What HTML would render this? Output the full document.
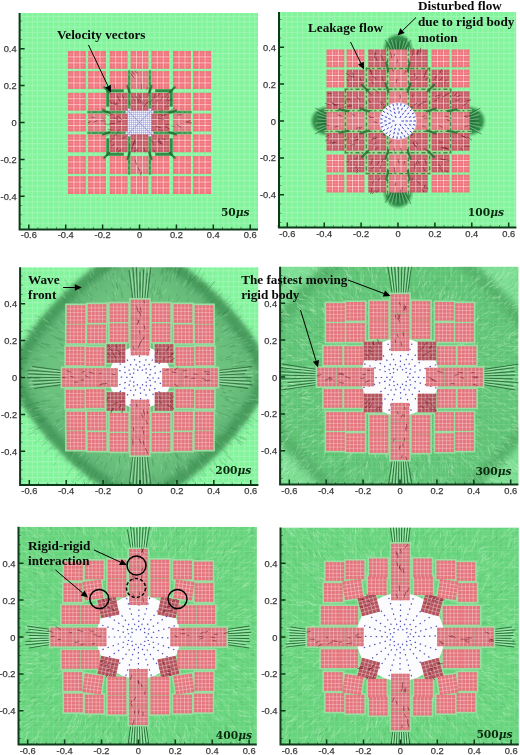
<!DOCTYPE html>
<html><head><meta charset="utf-8"><style>
html,body{margin:0;padding:0;background:#fff;}
svg{display:block;}
.tl{font-family:"Liberation Sans",sans-serif;font-size:9.3px;fill:#3a3a3a;stroke:#3a3a3a;stroke-width:0.25px;}
.tm{font-family:"DejaVu Serif",serif;font-weight:bold;font-size:10.7px;fill:#0a2a10;}
.an{font-family:"Liberation Serif",serif;font-weight:bold;font-size:13.2px;fill:#0a0a0a;}
</style></head><body>
<svg width="520" height="755" viewBox="0 0 520 755">
<defs>
<pattern id="grid" patternUnits="userSpaceOnUse" width="5.3" height="5.3"><path d="M0 0.5H5.3M0.5 0V5.3" stroke="#fff" stroke-opacity="0.22" stroke-width="1"/></pattern>
<pattern id="grid2" patternUnits="userSpaceOnUse" width="5.3" height="5.3"><path d="M0 0.5H5.3M0.5 0V5.3" stroke="#fff" stroke-opacity="0.1" stroke-width="1"/></pattern>
<radialGradient id="bul" cx="0.5" cy="0.5" r="0.5"><stop offset="0" stop-color="#1c6e32" stop-opacity="1"/><stop offset="0.75" stop-color="#2e8a46" stop-opacity="0.9"/><stop offset="1" stop-color="#50b066" stop-opacity="0"/></radialGradient>
<filter id="soft" x="0" y="0" width="100%" height="100%"><feGaussianBlur stdDeviation="0.45"/></filter>
<filter id="bl1" x="-20%" y="-20%" width="140%" height="140%"><feGaussianBlur stdDeviation="1.5"/></filter>
<filter id="bl3" x="-20%" y="-20%" width="140%" height="140%"><feGaussianBlur stdDeviation="3"/></filter>
<filter id="bl6" x="-20%" y="-20%" width="140%" height="140%"><feGaussianBlur stdDeviation="6"/></filter>
</defs>
<clipPath id="c1"><rect x="19.6" y="13" width="238.4" height="216.5"/></clipPath><g clip-path="url(#c1)"><g filter="url(#soft)"><rect x="19.6" y="13" width="238.4" height="216.5" fill="#82f49c"/><rect x="19.6" y="13" width="238.4" height="216.5" fill="url(#grid)"/><path d="M149.9 70.5L149.9 174.5M87.5 132.9L191.5 132.9M129.1 70.5L129.1 174.5M87.5 112.1L191.5 112.1" stroke="#3a9a50" stroke-width="2.6" stroke-opacity="0.75"/><path d="M149.9 70.5L149.9 174.5M87.5 132.9L191.5 132.9M129.1 70.5L129.1 174.5M87.5 112.1L191.5 112.1" stroke="#1e6a30" stroke-width="1" stroke-opacity="0.6" stroke-dasharray="3 2 5 2"/><path d="M171.2 138.2L171.2 154.2L155.2 154.2M171.2 106.8L171.2 90.8L155.2 90.8M107.8 138.2L107.8 154.2L123.8 154.2M107.8 106.8L107.8 90.8L123.8 90.8" fill="none" stroke="#237a38" stroke-width="3" stroke-opacity="0.85"/><rect x="125.5" y="108.5" width="28" height="28" fill="#f6f6ff"/><path d="M125.5 108.5v28M125.5 108.5h28M127.5 108.5v28M125.5 110.5h28M129.5 108.5v28M125.5 112.5h28M131.5 108.5v28M125.5 114.5h28M133.5 108.5v28M125.5 116.5h28M135.5 108.5v28M125.5 118.5h28M137.5 108.5v28M125.5 120.5h28M139.5 108.5v28M125.5 122.5h28M141.5 108.5v28M125.5 124.5h28M143.5 108.5v28M125.5 126.5h28M145.5 108.5v28M125.5 128.5h28M147.5 108.5v28M125.5 130.5h28M149.5 108.5v28M125.5 132.5h28M151.5 108.5v28M125.5 134.5h28M153.5 108.5v28M125.5 136.5h28" stroke="#7880d8" stroke-width="0.5" stroke-opacity="0.75"/><path d="M125.5 108.5l28 28M153.5 108.5l-28 28" stroke="#6068c8" stroke-width="0.7" stroke-opacity="0.55"/><g><rect x="68" y="176.2" width="17.8" height="17.8" fill="#f0727a"/><path d="M73.9 176.2v17.8M68 182.1h17.8M79.9 176.2v17.8M68 188.1h17.8" stroke="#fff" stroke-opacity="0.5" stroke-width="1.0"/><path d="M71 176.2v17.8M68 179.2h17.8M76.9 176.2v17.8M68 185.1h17.8M82.8 176.2v17.8M68 191h17.8" stroke="#fff" stroke-opacity="0.14" stroke-width="0.8"/></g><g><rect x="68" y="156.1" width="17.8" height="17.8" fill="#f0727a"/><path d="M73.9 156.1v17.8M68 162h17.8M79.9 156.1v17.8M68 168h17.8" stroke="#fff" stroke-opacity="0.5" stroke-width="1.0"/><path d="M71 156.1v17.8M68 159.1h17.8M76.9 156.1v17.8M68 165h17.8M82.8 156.1v17.8M68 170.9h17.8" stroke="#fff" stroke-opacity="0.14" stroke-width="0.8"/></g><g><rect x="68" y="134.4" width="17.8" height="17.8" fill="#f0727a"/><path d="M73.9 134.4v17.8M68 140.3h17.8M79.9 134.4v17.8M68 146.3h17.8" stroke="#fff" stroke-opacity="0.5" stroke-width="1.0"/><path d="M71 134.4v17.8M68 137.4h17.8M76.9 134.4v17.8M68 143.3h17.8M82.8 134.4v17.8M68 149.2h17.8" stroke="#fff" stroke-opacity="0.14" stroke-width="0.8"/></g><g><rect x="68" y="113.6" width="17.8" height="17.8" fill="#f0727a"/><path d="M73.9 113.6v17.8M68 119.5h17.8M79.9 113.6v17.8M68 125.5h17.8" stroke="#fff" stroke-opacity="0.5" stroke-width="1.0"/><path d="M71 113.6v17.8M68 116.6h17.8M76.9 113.6v17.8M68 122.5h17.8M82.8 113.6v17.8M68 128.4h17.8" stroke="#fff" stroke-opacity="0.14" stroke-width="0.8"/></g><g><rect x="68" y="92.8" width="17.8" height="17.8" fill="#f0727a"/><path d="M73.9 92.8v17.8M68 98.7h17.8M79.9 92.8v17.8M68 104.7h17.8" stroke="#fff" stroke-opacity="0.5" stroke-width="1.0"/><path d="M71 92.8v17.8M68 95.8h17.8M76.9 92.8v17.8M68 101.7h17.8M82.8 92.8v17.8M68 107.6h17.8" stroke="#fff" stroke-opacity="0.14" stroke-width="0.8"/></g><g><rect x="68" y="71.1" width="17.8" height="17.8" fill="#f0727a"/><path d="M73.9 71.1v17.8M68 77h17.8M79.9 71.1v17.8M68 83h17.8" stroke="#fff" stroke-opacity="0.5" stroke-width="1.0"/><path d="M71 71.1v17.8M68 74.1h17.8M76.9 71.1v17.8M68 80h17.8M82.8 71.1v17.8M68 85.9h17.8" stroke="#fff" stroke-opacity="0.14" stroke-width="0.8"/></g><g><rect x="68" y="51" width="17.8" height="17.8" fill="#f0727a"/><path d="M73.9 51v17.8M68 56.9h17.8M79.9 51v17.8M68 62.9h17.8" stroke="#fff" stroke-opacity="0.5" stroke-width="1.0"/><path d="M71 51v17.8M68 54h17.8M76.9 51v17.8M68 59.9h17.8M82.8 51v17.8M68 65.8h17.8" stroke="#fff" stroke-opacity="0.14" stroke-width="0.8"/></g><g><rect x="88.1" y="176.2" width="17.8" height="17.8" fill="#f0727a"/><path d="M94 176.2v17.8M88.1 182.1h17.8M100 176.2v17.8M88.1 188.1h17.8" stroke="#fff" stroke-opacity="0.5" stroke-width="1.0"/><path d="M91.1 176.2v17.8M88.1 179.2h17.8M97 176.2v17.8M88.1 185.1h17.8M102.9 176.2v17.8M88.1 191h17.8" stroke="#fff" stroke-opacity="0.14" stroke-width="0.8"/></g><g><rect x="88.1" y="156.1" width="17.8" height="17.8" fill="#f0727a"/><path d="M94 156.1v17.8M88.1 162h17.8M100 156.1v17.8M88.1 168h17.8" stroke="#fff" stroke-opacity="0.5" stroke-width="1.0"/><path d="M91.1 156.1v17.8M88.1 159.1h17.8M97 156.1v17.8M88.1 165h17.8M102.9 156.1v17.8M88.1 170.9h17.8" stroke="#fff" stroke-opacity="0.14" stroke-width="0.8"/></g><g><rect x="88.1" y="134.4" width="17.8" height="17.8" fill="#f0727a"/><path d="M94 134.4v17.8M88.1 140.3h17.8M100 134.4v17.8M88.1 146.3h17.8" stroke="#fff" stroke-opacity="0.5" stroke-width="1.0"/><path d="M91.1 134.4v17.8M88.1 137.4h17.8M97 134.4v17.8M88.1 143.3h17.8M102.9 134.4v17.8M88.1 149.2h17.8" stroke="#fff" stroke-opacity="0.14" stroke-width="0.8"/></g><g><rect x="88.1" y="113.6" width="17.8" height="17.8" fill="#e0747c"/><path d="M94 113.6v17.8M88.1 119.5h17.8M100 113.6v17.8M88.1 125.5h17.8" stroke="#fff" stroke-opacity="0.5" stroke-width="1.0"/><path d="M91.1 113.6v17.8M88.1 116.6h17.8M97 113.6v17.8M88.1 122.5h17.8M102.9 113.6v17.8M88.1 128.4h17.8" stroke="#fff" stroke-opacity="0.14" stroke-width="0.8"/><path d="M94.6 117.7l-3.1 -0.8M97.5 120.6l-4.2 1.8M90.6 121.6l-3 1.3" stroke="#6a1420" stroke-opacity="0.6" stroke-width="0.9"/></g><g><rect x="88.1" y="92.8" width="17.8" height="17.8" fill="#f0727a"/><path d="M94 92.8v17.8M88.1 98.7h17.8M100 92.8v17.8M88.1 104.7h17.8" stroke="#fff" stroke-opacity="0.5" stroke-width="1.0"/><path d="M91.1 92.8v17.8M88.1 95.8h17.8M97 92.8v17.8M88.1 101.7h17.8M102.9 92.8v17.8M88.1 107.6h17.8" stroke="#fff" stroke-opacity="0.14" stroke-width="0.8"/></g><g><rect x="88.1" y="71.1" width="17.8" height="17.8" fill="#f0727a"/><path d="M94 71.1v17.8M88.1 77h17.8M100 71.1v17.8M88.1 83h17.8" stroke="#fff" stroke-opacity="0.5" stroke-width="1.0"/><path d="M91.1 71.1v17.8M88.1 74.1h17.8M97 71.1v17.8M88.1 80h17.8M102.9 71.1v17.8M88.1 85.9h17.8" stroke="#fff" stroke-opacity="0.14" stroke-width="0.8"/></g><g><rect x="88.1" y="51" width="17.8" height="17.8" fill="#f0727a"/><path d="M94 51v17.8M88.1 56.9h17.8M100 51v17.8M88.1 62.9h17.8" stroke="#fff" stroke-opacity="0.5" stroke-width="1.0"/><path d="M91.1 51v17.8M88.1 54h17.8M97 51v17.8M88.1 59.9h17.8M102.9 51v17.8M88.1 65.8h17.8" stroke="#fff" stroke-opacity="0.14" stroke-width="0.8"/></g><g><rect x="109.8" y="176.2" width="17.8" height="17.8" fill="#f0727a"/><path d="M115.7 176.2v17.8M109.8 182.1h17.8M121.7 176.2v17.8M109.8 188.1h17.8" stroke="#fff" stroke-opacity="0.5" stroke-width="1.0"/><path d="M112.8 176.2v17.8M109.8 179.2h17.8M118.7 176.2v17.8M109.8 185.1h17.8M124.6 176.2v17.8M109.8 191h17.8" stroke="#fff" stroke-opacity="0.14" stroke-width="0.8"/></g><g><rect x="109.8" y="156.1" width="17.8" height="17.8" fill="#f0727a"/><path d="M115.7 156.1v17.8M109.8 162h17.8M121.7 156.1v17.8M109.8 168h17.8" stroke="#fff" stroke-opacity="0.5" stroke-width="1.0"/><path d="M112.8 156.1v17.8M109.8 159.1h17.8M118.7 156.1v17.8M109.8 165h17.8M124.6 156.1v17.8M109.8 170.9h17.8" stroke="#fff" stroke-opacity="0.14" stroke-width="0.8"/></g><g><rect x="109.8" y="134.4" width="17.8" height="17.8" fill="#c65a64"/><path d="M115.7 134.4v17.8M109.8 140.3h17.8M121.7 134.4v17.8M109.8 146.3h17.8" stroke="#fff" stroke-opacity="0.5" stroke-width="1.0"/><path d="M112.8 134.4v17.8M109.8 137.4h17.8M118.7 134.4v17.8M109.8 143.3h17.8M124.6 134.4v17.8M109.8 149.2h17.8" stroke="#fff" stroke-opacity="0.14" stroke-width="0.8"/><path d="M117.7 147.8l-1.2 3.5M120.5 149.5l-2.7 3.2M125.3 137l-3.5 1.6M113.8 138l-4 3.7M114.3 144.4l-3.5 2.2" stroke="#6a1420" stroke-opacity="0.6" stroke-width="0.9"/></g><g><rect x="109.8" y="113.6" width="17.8" height="17.8" fill="#c65a64"/><path d="M115.7 113.6v17.8M109.8 119.5h17.8M121.7 113.6v17.8M109.8 125.5h17.8" stroke="#fff" stroke-opacity="0.5" stroke-width="1.0"/><path d="M112.8 113.6v17.8M109.8 116.6h17.8M118.7 113.6v17.8M109.8 122.5h17.8M124.6 113.6v17.8M109.8 128.4h17.8" stroke="#fff" stroke-opacity="0.14" stroke-width="0.8"/><path d="M119.4 116.5l-3.6 0.5M121.2 121.5l-4.7 0.6M118.1 119.7l-4.6 -2.1M115.2 123.5l-5.6 0.1M121.9 119.6l-2.7 -2" stroke="#6a1420" stroke-opacity="0.6" stroke-width="0.9"/></g><g><rect x="109.8" y="92.8" width="17.8" height="17.8" fill="#c65a64"/><path d="M115.7 92.8v17.8M109.8 98.7h17.8M121.7 92.8v17.8M109.8 104.7h17.8" stroke="#fff" stroke-opacity="0.5" stroke-width="1.0"/><path d="M112.8 92.8v17.8M109.8 95.8h17.8M118.7 92.8v17.8M109.8 101.7h17.8M124.6 92.8v17.8M109.8 107.6h17.8" stroke="#fff" stroke-opacity="0.14" stroke-width="0.8"/><path d="M117.6 105.2l-4.2 -1.4M112.3 104l-3.1 -3.6M123.9 99.1l-1.8 -4.4M119.8 101.1l-2.3 -5.4M118.3 104l-4.9 -1.4" stroke="#6a1420" stroke-opacity="0.6" stroke-width="0.9"/></g><g><rect x="109.8" y="71.1" width="17.8" height="17.8" fill="#f0727a"/><path d="M115.7 71.1v17.8M109.8 77h17.8M121.7 71.1v17.8M109.8 83h17.8" stroke="#fff" stroke-opacity="0.5" stroke-width="1.0"/><path d="M112.8 71.1v17.8M109.8 74.1h17.8M118.7 71.1v17.8M109.8 80h17.8M124.6 71.1v17.8M109.8 85.9h17.8" stroke="#fff" stroke-opacity="0.14" stroke-width="0.8"/></g><g><rect x="109.8" y="51" width="17.8" height="17.8" fill="#f0727a"/><path d="M115.7 51v17.8M109.8 56.9h17.8M121.7 51v17.8M109.8 62.9h17.8" stroke="#fff" stroke-opacity="0.5" stroke-width="1.0"/><path d="M112.8 51v17.8M109.8 54h17.8M118.7 51v17.8M109.8 59.9h17.8M124.6 51v17.8M109.8 65.8h17.8" stroke="#fff" stroke-opacity="0.14" stroke-width="0.8"/></g><g><rect x="130.6" y="176.2" width="17.8" height="17.8" fill="#f0727a"/><path d="M136.5 176.2v17.8M130.6 182.1h17.8M142.5 176.2v17.8M130.6 188.1h17.8" stroke="#fff" stroke-opacity="0.5" stroke-width="1.0"/><path d="M133.6 176.2v17.8M130.6 179.2h17.8M139.5 176.2v17.8M130.6 185.1h17.8M145.4 176.2v17.8M130.6 191h17.8" stroke="#fff" stroke-opacity="0.14" stroke-width="0.8"/></g><g><rect x="130.6" y="156.1" width="17.8" height="17.8" fill="#e0747c"/><path d="M136.5 156.1v17.8M130.6 162h17.8M142.5 156.1v17.8M130.6 168h17.8" stroke="#fff" stroke-opacity="0.5" stroke-width="1.0"/><path d="M133.6 156.1v17.8M130.6 159.1h17.8M139.5 156.1v17.8M130.6 165h17.8M145.4 156.1v17.8M130.6 170.9h17.8" stroke="#fff" stroke-opacity="0.14" stroke-width="0.8"/><path d="M141.5 171.8l-1.1 3.7M137.9 167.3l1.9 4M134.9 159.7l1.7 5" stroke="#6a1420" stroke-opacity="0.6" stroke-width="0.9"/></g><g><rect x="130.6" y="134.4" width="17.8" height="17.8" fill="#c65a64"/><path d="M136.5 134.4v17.8M130.6 140.3h17.8M142.5 134.4v17.8M130.6 146.3h17.8" stroke="#fff" stroke-opacity="0.5" stroke-width="1.0"/><path d="M133.6 134.4v17.8M130.6 137.4h17.8M139.5 134.4v17.8M130.6 143.3h17.8M145.4 134.4v17.8M130.6 149.2h17.8" stroke="#fff" stroke-opacity="0.14" stroke-width="0.8"/><path d="M134.4 139.8l-1 5.5M133.7 142.6l-1.8 5.3M143.9 148.3l1.6 3.9M137.6 148.6l-1.8 3M135 139.6l0 4.5" stroke="#6a1420" stroke-opacity="0.6" stroke-width="0.9"/></g><g><rect x="130.6" y="92.8" width="17.8" height="17.8" fill="#c65a64"/><path d="M136.5 92.8v17.8M130.6 98.7h17.8M142.5 92.8v17.8M130.6 104.7h17.8" stroke="#fff" stroke-opacity="0.5" stroke-width="1.0"/><path d="M133.6 92.8v17.8M130.6 95.8h17.8M139.5 92.8v17.8M130.6 101.7h17.8M145.4 92.8v17.8M130.6 107.6h17.8" stroke="#fff" stroke-opacity="0.14" stroke-width="0.8"/><path d="M140.7 98.4l-1.8 -3.8M137.7 102.6l1.8 -4.7M139.7 103.3l0.6 -3.1M145 105.6l3.4 -4.2M138 100.3l-2.2 -4.4" stroke="#6a1420" stroke-opacity="0.6" stroke-width="0.9"/></g><g><rect x="130.6" y="71.1" width="17.8" height="17.8" fill="#e0747c"/><path d="M136.5 71.1v17.8M130.6 77h17.8M142.5 71.1v17.8M130.6 83h17.8" stroke="#fff" stroke-opacity="0.5" stroke-width="1.0"/><path d="M133.6 71.1v17.8M130.6 74.1h17.8M139.5 71.1v17.8M130.6 80h17.8M145.4 71.1v17.8M130.6 85.9h17.8" stroke="#fff" stroke-opacity="0.14" stroke-width="0.8"/><path d="M133.5 74l-1.4 -3.2M137.3 73.8l-1.8 -3M134 78.1l-3.2 -4.6" stroke="#6a1420" stroke-opacity="0.6" stroke-width="0.9"/></g><g><rect x="130.6" y="51" width="17.8" height="17.8" fill="#f0727a"/><path d="M136.5 51v17.8M130.6 56.9h17.8M142.5 51v17.8M130.6 62.9h17.8" stroke="#fff" stroke-opacity="0.5" stroke-width="1.0"/><path d="M133.6 51v17.8M130.6 54h17.8M139.5 51v17.8M130.6 59.9h17.8M145.4 51v17.8M130.6 65.8h17.8" stroke="#fff" stroke-opacity="0.14" stroke-width="0.8"/></g><g><rect x="151.4" y="176.2" width="17.8" height="17.8" fill="#f0727a"/><path d="M157.3 176.2v17.8M151.4 182.1h17.8M163.3 176.2v17.8M151.4 188.1h17.8" stroke="#fff" stroke-opacity="0.5" stroke-width="1.0"/><path d="M154.4 176.2v17.8M151.4 179.2h17.8M160.3 176.2v17.8M151.4 185.1h17.8M166.2 176.2v17.8M151.4 191h17.8" stroke="#fff" stroke-opacity="0.14" stroke-width="0.8"/></g><g><rect x="151.4" y="156.1" width="17.8" height="17.8" fill="#f0727a"/><path d="M157.3 156.1v17.8M151.4 162h17.8M163.3 156.1v17.8M151.4 168h17.8" stroke="#fff" stroke-opacity="0.5" stroke-width="1.0"/><path d="M154.4 156.1v17.8M151.4 159.1h17.8M160.3 156.1v17.8M151.4 165h17.8M166.2 156.1v17.8M151.4 170.9h17.8" stroke="#fff" stroke-opacity="0.14" stroke-width="0.8"/></g><g><rect x="151.4" y="134.4" width="17.8" height="17.8" fill="#c65a64"/><path d="M157.3 134.4v17.8M151.4 140.3h17.8M163.3 134.4v17.8M151.4 146.3h17.8" stroke="#fff" stroke-opacity="0.5" stroke-width="1.0"/><path d="M154.4 134.4v17.8M151.4 137.4h17.8M160.3 134.4v17.8M151.4 143.3h17.8M166.2 134.4v17.8M151.4 149.2h17.8" stroke="#fff" stroke-opacity="0.14" stroke-width="0.8"/><path d="M161.9 138.4l3.8 1.5M158.4 138.1l3 5.2M159.8 143.1l3.1 1.2M158.1 140.1l1.6 3.1M153.7 149.5l1.5 3.1" stroke="#6a1420" stroke-opacity="0.6" stroke-width="0.9"/></g><g><rect x="151.4" y="113.6" width="17.8" height="17.8" fill="#c65a64"/><path d="M157.3 113.6v17.8M151.4 119.5h17.8M163.3 113.6v17.8M151.4 125.5h17.8" stroke="#fff" stroke-opacity="0.5" stroke-width="1.0"/><path d="M154.4 113.6v17.8M151.4 116.6h17.8M160.3 113.6v17.8M151.4 122.5h17.8M166.2 113.6v17.8M151.4 128.4h17.8" stroke="#fff" stroke-opacity="0.14" stroke-width="0.8"/><path d="M160.9 116l5.7 -1.6M165.3 125.2l4.1 -0.5M155.7 126.3l5.2 1.4M157.9 118.7l5.9 0.6M165.2 126.7l4.6 2.4" stroke="#6a1420" stroke-opacity="0.6" stroke-width="0.9"/></g><g><rect x="151.4" y="92.8" width="17.8" height="17.8" fill="#c65a64"/><path d="M157.3 92.8v17.8M151.4 98.7h17.8M163.3 92.8v17.8M151.4 104.7h17.8" stroke="#fff" stroke-opacity="0.5" stroke-width="1.0"/><path d="M154.4 92.8v17.8M151.4 95.8h17.8M160.3 92.8v17.8M151.4 101.7h17.8M166.2 92.8v17.8M151.4 107.6h17.8" stroke="#fff" stroke-opacity="0.14" stroke-width="0.8"/><path d="M156.5 101.9l1.6 -2.6M153.8 98.7l1.5 -4.9M166.6 101l5.8 -1.4M166.6 99.8l2.1 -3M156.1 97.6l3.7 -4.3" stroke="#6a1420" stroke-opacity="0.6" stroke-width="0.9"/></g><g><rect x="151.4" y="71.1" width="17.8" height="17.8" fill="#f0727a"/><path d="M157.3 71.1v17.8M151.4 77h17.8M163.3 71.1v17.8M151.4 83h17.8" stroke="#fff" stroke-opacity="0.5" stroke-width="1.0"/><path d="M154.4 71.1v17.8M151.4 74.1h17.8M160.3 71.1v17.8M151.4 80h17.8M166.2 71.1v17.8M151.4 85.9h17.8" stroke="#fff" stroke-opacity="0.14" stroke-width="0.8"/></g><g><rect x="151.4" y="51" width="17.8" height="17.8" fill="#f0727a"/><path d="M157.3 51v17.8M151.4 56.9h17.8M163.3 51v17.8M151.4 62.9h17.8" stroke="#fff" stroke-opacity="0.5" stroke-width="1.0"/><path d="M154.4 51v17.8M151.4 54h17.8M160.3 51v17.8M151.4 59.9h17.8M166.2 51v17.8M151.4 65.8h17.8" stroke="#fff" stroke-opacity="0.14" stroke-width="0.8"/></g><g><rect x="173.1" y="176.2" width="17.8" height="17.8" fill="#f0727a"/><path d="M179 176.2v17.8M173.1 182.1h17.8M185 176.2v17.8M173.1 188.1h17.8" stroke="#fff" stroke-opacity="0.5" stroke-width="1.0"/><path d="M176.1 176.2v17.8M173.1 179.2h17.8M182 176.2v17.8M173.1 185.1h17.8M187.9 176.2v17.8M173.1 191h17.8" stroke="#fff" stroke-opacity="0.14" stroke-width="0.8"/></g><g><rect x="173.1" y="156.1" width="17.8" height="17.8" fill="#f0727a"/><path d="M179 156.1v17.8M173.1 162h17.8M185 156.1v17.8M173.1 168h17.8" stroke="#fff" stroke-opacity="0.5" stroke-width="1.0"/><path d="M176.1 156.1v17.8M173.1 159.1h17.8M182 156.1v17.8M173.1 165h17.8M187.9 156.1v17.8M173.1 170.9h17.8" stroke="#fff" stroke-opacity="0.14" stroke-width="0.8"/></g><g><rect x="173.1" y="134.4" width="17.8" height="17.8" fill="#f0727a"/><path d="M179 134.4v17.8M173.1 140.3h17.8M185 134.4v17.8M173.1 146.3h17.8" stroke="#fff" stroke-opacity="0.5" stroke-width="1.0"/><path d="M176.1 134.4v17.8M173.1 137.4h17.8M182 134.4v17.8M173.1 143.3h17.8M187.9 134.4v17.8M173.1 149.2h17.8" stroke="#fff" stroke-opacity="0.14" stroke-width="0.8"/></g><g><rect x="173.1" y="113.6" width="17.8" height="17.8" fill="#e0747c"/><path d="M179 113.6v17.8M173.1 119.5h17.8M185 113.6v17.8M173.1 125.5h17.8" stroke="#fff" stroke-opacity="0.5" stroke-width="1.0"/><path d="M176.1 113.6v17.8M173.1 116.6h17.8M182 113.6v17.8M173.1 122.5h17.8M187.9 113.6v17.8M173.1 128.4h17.8" stroke="#fff" stroke-opacity="0.14" stroke-width="0.8"/><path d="M186.7 122.2l5.3 0.8M176.3 124.7l4.8 2.4M185.5 122.2l5.1 -1.7" stroke="#6a1420" stroke-opacity="0.6" stroke-width="0.9"/></g><g><rect x="173.1" y="92.8" width="17.8" height="17.8" fill="#f0727a"/><path d="M179 92.8v17.8M173.1 98.7h17.8M185 92.8v17.8M173.1 104.7h17.8" stroke="#fff" stroke-opacity="0.5" stroke-width="1.0"/><path d="M176.1 92.8v17.8M173.1 95.8h17.8M182 92.8v17.8M173.1 101.7h17.8M187.9 92.8v17.8M173.1 107.6h17.8" stroke="#fff" stroke-opacity="0.14" stroke-width="0.8"/></g><g><rect x="173.1" y="71.1" width="17.8" height="17.8" fill="#f0727a"/><path d="M179 71.1v17.8M173.1 77h17.8M185 71.1v17.8M173.1 83h17.8" stroke="#fff" stroke-opacity="0.5" stroke-width="1.0"/><path d="M176.1 71.1v17.8M173.1 74.1h17.8M182 71.1v17.8M173.1 80h17.8M187.9 71.1v17.8M173.1 85.9h17.8" stroke="#fff" stroke-opacity="0.14" stroke-width="0.8"/></g><g><rect x="173.1" y="51" width="17.8" height="17.8" fill="#f0727a"/><path d="M179 51v17.8M173.1 56.9h17.8M185 51v17.8M173.1 62.9h17.8" stroke="#fff" stroke-opacity="0.5" stroke-width="1.0"/><path d="M176.1 51v17.8M173.1 54h17.8M182 51v17.8M173.1 59.9h17.8M187.9 51v17.8M173.1 65.8h17.8" stroke="#fff" stroke-opacity="0.14" stroke-width="0.8"/></g><g><rect x="193.2" y="176.2" width="17.8" height="17.8" fill="#f0727a"/><path d="M199.1 176.2v17.8M193.2 182.1h17.8M205.1 176.2v17.8M193.2 188.1h17.8" stroke="#fff" stroke-opacity="0.5" stroke-width="1.0"/><path d="M196.2 176.2v17.8M193.2 179.2h17.8M202.1 176.2v17.8M193.2 185.1h17.8M208 176.2v17.8M193.2 191h17.8" stroke="#fff" stroke-opacity="0.14" stroke-width="0.8"/></g><g><rect x="193.2" y="156.1" width="17.8" height="17.8" fill="#f0727a"/><path d="M199.1 156.1v17.8M193.2 162h17.8M205.1 156.1v17.8M193.2 168h17.8" stroke="#fff" stroke-opacity="0.5" stroke-width="1.0"/><path d="M196.2 156.1v17.8M193.2 159.1h17.8M202.1 156.1v17.8M193.2 165h17.8M208 156.1v17.8M193.2 170.9h17.8" stroke="#fff" stroke-opacity="0.14" stroke-width="0.8"/></g><g><rect x="193.2" y="134.4" width="17.8" height="17.8" fill="#f0727a"/><path d="M199.1 134.4v17.8M193.2 140.3h17.8M205.1 134.4v17.8M193.2 146.3h17.8" stroke="#fff" stroke-opacity="0.5" stroke-width="1.0"/><path d="M196.2 134.4v17.8M193.2 137.4h17.8M202.1 134.4v17.8M193.2 143.3h17.8M208 134.4v17.8M193.2 149.2h17.8" stroke="#fff" stroke-opacity="0.14" stroke-width="0.8"/></g><g><rect x="193.2" y="113.6" width="17.8" height="17.8" fill="#f0727a"/><path d="M199.1 113.6v17.8M193.2 119.5h17.8M205.1 113.6v17.8M193.2 125.5h17.8" stroke="#fff" stroke-opacity="0.5" stroke-width="1.0"/><path d="M196.2 113.6v17.8M193.2 116.6h17.8M202.1 113.6v17.8M193.2 122.5h17.8M208 113.6v17.8M193.2 128.4h17.8" stroke="#fff" stroke-opacity="0.14" stroke-width="0.8"/></g><g><rect x="193.2" y="92.8" width="17.8" height="17.8" fill="#f0727a"/><path d="M199.1 92.8v17.8M193.2 98.7h17.8M205.1 92.8v17.8M193.2 104.7h17.8" stroke="#fff" stroke-opacity="0.5" stroke-width="1.0"/><path d="M196.2 92.8v17.8M193.2 95.8h17.8M202.1 92.8v17.8M193.2 101.7h17.8M208 92.8v17.8M193.2 107.6h17.8" stroke="#fff" stroke-opacity="0.14" stroke-width="0.8"/></g><g><rect x="193.2" y="71.1" width="17.8" height="17.8" fill="#f0727a"/><path d="M199.1 71.1v17.8M193.2 77h17.8M205.1 71.1v17.8M193.2 83h17.8" stroke="#fff" stroke-opacity="0.5" stroke-width="1.0"/><path d="M196.2 71.1v17.8M193.2 74.1h17.8M202.1 71.1v17.8M193.2 80h17.8M208 71.1v17.8M193.2 85.9h17.8" stroke="#fff" stroke-opacity="0.14" stroke-width="0.8"/></g><g><rect x="193.2" y="51" width="17.8" height="17.8" fill="#f0727a"/><path d="M199.1 51v17.8M193.2 56.9h17.8M205.1 51v17.8M193.2 62.9h17.8" stroke="#fff" stroke-opacity="0.5" stroke-width="1.0"/><path d="M196.2 51v17.8M193.2 54h17.8M202.1 51v17.8M193.2 59.9h17.8M208 51v17.8M193.2 65.8h17.8" stroke="#fff" stroke-opacity="0.14" stroke-width="0.8"/></g><path d="M148.1 96.4l1.4 -5.8M167.2 112.9l4.3 -2.9M151.8 139.7l2.1 5.3M149.6 103.1l3.4 -4.9M112.8 114.1l-3.4 0.3M115.1 89l-1.3 -4.4M160.4 100.7l2.8 -4.7M132.8 146.8l-1.2 3.5M117.3 134.9l-3.3 0.6M112.4 129.8l-4.7 -0.3M165.4 107.8l4 -2.1M171.6 126.3l4.3 -0.6M144.4 107.1l1 -3.4M105.1 109.7l-3.7 -1.4M146.6 90.2l0.9 -3.2M135.3 147.3l-0.9 5.2M141.6 89.4l0.1 -5.7M105.2 121.3l-4.5 -0.9M109.5 116.1l-3.8 -2.4M165.3 97.2l3.3 -4.8M170.6 110.9l4.4 -3.3M119.9 130l-2.7 1.7M130.2 105.8l-1 -5.3M134.8 100.9l-2.4 -4.4M178.5 114.4l3.6 0.6M110.3 124.8l-5.9 -1.1M119.2 131.8l-3.9 2.4M129.7 143.8l-0.2 5.2M108.7 134.6l-2.7 1.5M105 119.8l-2.9 -1.4M176.9 115.8l3.1 -1.2M142.7 105l-0.4 -3.8M164.9 106.7l4 -3.7M158.7 111.8l4.4 -1.6M158 129.5l4.8 1.5M157.2 115.3l4.9 -0.7M151.6 107.1l2.6 -1.8M123.2 148.5l-3.7 2.9M157.2 141.1l3.8 2.6M150.3 139.9l2.2 2.2" stroke="#7a2030" stroke-opacity="0.45" stroke-width="0.9" fill="none"/><path d="M169.8 92.2l4.9 -4.9M169.8 152.8l4.9 4.9M109.2 92.2l-4.9 -4.9M109.2 152.8l-4.9 4.9M149.3 92.7l2.2 -6.7M149.3 152.3l2.2 6.7M129.7 92.7l-2.2 -6.7M129.7 152.3l-2.2 6.7M169.3 112.7l6.7 -2.2M169.3 132.3l6.7 2.2M109.7 112.7l-6.7 -2.2M109.7 132.3l-6.7 2.2" stroke="#1f6a30" stroke-width="2.2" stroke-opacity="0.8" stroke-linecap="round"/></g></g><path d="M19.6 13V229.5H257.9" fill="none" stroke="#0d3a18" stroke-width="2"/><path d="M28.8 229.5v-5M65.7 229.5v-5M102.6 229.5v-5M139.5 229.5v-5M176.4 229.5v-5M213.3 229.5v-5M250.2 229.5v-5M19.6 196.3h5M19.6 159.4h5M19.6 122.5h5M19.6 85.6h5M19.6 48.7h5" stroke="#0d3a18" stroke-width="1.5"/><path d="M19.6 229.5v-2.5M38 229.5v-2.5M47.2 229.5v-2.5M56.5 229.5v-2.5M74.9 229.5v-2.5M84.1 229.5v-2.5M93.4 229.5v-2.5M111.8 229.5v-2.5M121 229.5v-2.5M130.3 229.5v-2.5M148.7 229.5v-2.5M157.9 229.5v-2.5M167.2 229.5v-2.5M185.6 229.5v-2.5M194.9 229.5v-2.5M204.1 229.5v-2.5M222.5 229.5v-2.5M231.8 229.5v-2.5M241 229.5v-2.5M19.6 224h2.5M19.6 214.8h2.5M19.6 205.5h2.5M19.6 187.1h2.5M19.6 177.9h2.5M19.6 168.6h2.5M19.6 150.2h2.5M19.6 140.9h2.5M19.6 131.7h2.5M19.6 113.3h2.5M19.6 104h2.5M19.6 94.8h2.5M19.6 76.4h2.5M19.6 67.1h2.5M19.6 57.9h2.5M19.6 39.5h2.5M19.6 30.2h2.5M19.6 21h2.5" stroke="#0d3a18" stroke-opacity="0.5" stroke-width="1"/><text class="tl" x="28.8" y="238.4" text-anchor="middle">-0.6</text><text class="tl" x="65.7" y="238.4" text-anchor="middle">-0.4</text><text class="tl" x="102.6" y="238.4" text-anchor="middle">-0.2</text><text class="tl" x="139.5" y="238.4" text-anchor="middle">0</text><text class="tl" x="176.4" y="238.4" text-anchor="middle">0.2</text><text class="tl" x="213.3" y="238.4" text-anchor="middle">0.4</text><text class="tl" x="250.2" y="238.4" text-anchor="middle">0.6</text><text class="tl" x="16.6" y="199.8" text-anchor="end">-0.4</text><text class="tl" x="16.6" y="162.9" text-anchor="end">-0.2</text><text class="tl" x="16.6" y="126" text-anchor="end">0</text><text class="tl" x="16.6" y="89.1" text-anchor="end">0.2</text><text class="tl" x="16.6" y="52.2" text-anchor="end">0.4</text><text class="tm" x="249.6" y="216" text-anchor="end">50<tspan font-style="italic">μs</tspan></text><clipPath id="c2"><rect x="279" y="12" width="237.4" height="215.6"/></clipPath><g clip-path="url(#c2)"><g filter="url(#soft)"><rect x="279" y="12" width="237.4" height="215.6" fill="#82f49c"/><rect x="279" y="12" width="237.4" height="215.6" fill="url(#grid)"/><ellipse cx="398" cy="49.4" rx="16" ry="17" fill="url(#bul)"/><ellipse cx="398" cy="192.6" rx="16" ry="17" fill="url(#bul)"/><ellipse cx="326.4" cy="121" rx="17" ry="16" fill="url(#bul)"/><ellipse cx="469.6" cy="121" rx="17" ry="16" fill="url(#bul)"/><path d="M392.1 51.4L385 39.8M394.1 51.4L389.3 38.2M396.1 51.4L393.7 39.1M398 51.4L398 39.7M399.9 51.4L402.3 40M401.9 51.4L406.7 38.3M403.9 51.4L411 40.2" stroke="#1e6a32" stroke-opacity="0.6" stroke-width="1" fill="none"/><path d="M393.1 51.4L387.2 39.8M395.1 51.4L391.5 39.9M397 51.4L395.8 40.3M399 51.4L400.2 40.8M400.9 51.4L404.5 40.8M402.9 51.4L408.8 39" stroke="#d8ffe0" stroke-opacity="0.42" stroke-width="0.9" fill="none"/><path d="M392.1 190.6L385 202.8M394.1 190.6L389.3 201.5M396.1 190.6L393.7 202.6M398 190.6L398 204M399.9 190.6L402.3 202.9M401.9 190.6L406.7 204.5M403.9 190.6L411 204" stroke="#1e6a32" stroke-opacity="0.6" stroke-width="1" fill="none"/><path d="M393.1 190.6L387.2 204.4M395.1 190.6L391.5 204M397 190.6L395.8 202.8M399 190.6L400.2 202.5M400.9 190.6L404.5 203.5M402.9 190.6L408.8 202.3" stroke="#d8ffe0" stroke-opacity="0.42" stroke-width="0.9" fill="none"/><path d="M328.4 115.2L315.4 108M328.4 117.1L316.5 112.3M328.4 119L317.7 116.7M328.4 121L317.7 121M328.4 123L317 125.3M328.4 124.9L317.6 129.7M328.4 126.8L314.9 134" stroke="#1e6a32" stroke-opacity="0.6" stroke-width="1" fill="none"/><path d="M328.4 116.1L315.7 110.2M328.4 118.1L316.7 114.5M328.4 120L317.4 118.8M328.4 122L315.3 123.2M328.4 123.9L317.3 127.5M328.4 125.9L315 131.8" stroke="#d8ffe0" stroke-opacity="0.42" stroke-width="0.9" fill="none"/><path d="M467.6 115.2L480.4 108M467.6 117.1L478.9 112.3M467.6 119L479.7 116.7M467.6 121L479.7 121M467.6 123L481.5 125.3M467.6 124.9L480 129.7M467.6 126.8L481.5 134" stroke="#1e6a32" stroke-opacity="0.6" stroke-width="1" fill="none"/><path d="M467.6 116.1L479.1 110.2M467.6 118.1L479.1 114.5M467.6 120L478.7 118.8M467.6 122L479 123.2M467.6 123.9L481.5 127.5M467.6 125.9L479 131.8" stroke="#d8ffe0" stroke-opacity="0.42" stroke-width="0.9" fill="none"/><path d="M408.4 47.4L408.4 194.6M324.4 131.4L471.6 131.4M387.6 47.4L387.6 194.6M324.4 110.6L471.6 110.6M429.6 67.5L429.6 174.5M344.5 152.7L451.5 152.7M366.4 67.5L366.4 174.5M344.5 89.3L451.5 89.3M450.6 89.2L450.6 152.8M366.2 173.6L429.8 173.6M345.4 89.2L345.4 152.8M366.2 68.5L429.8 68.5" stroke="#a0d890" stroke-width="3"/><path d="M408.4 47.4L408.4 194.6M324.4 131.4L471.6 131.4M387.6 47.4L387.6 194.6M324.4 110.6L471.6 110.6M429.6 67.5L429.6 174.5M344.5 152.7L451.5 152.7M366.4 67.5L366.4 174.5M344.5 89.3L451.5 89.3M450.6 89.2L450.6 152.8M366.2 173.6L429.8 173.6M345.4 89.2L345.4 152.8M366.2 68.5L429.8 68.5" stroke="#2a7a3c" stroke-width="1.4" stroke-opacity="0.8" stroke-dasharray="4 2 2 3"/><g><rect x="326.5" y="174.7" width="17.8" height="17.8" fill="#f0727a"/><path d="M332.4 174.7v17.8M326.5 180.6h17.8M338.4 174.7v17.8M326.5 186.6h17.8" stroke="#fff" stroke-opacity="0.5" stroke-width="1.0"/><path d="M329.5 174.7v17.8M326.5 177.7h17.8M335.4 174.7v17.8M326.5 183.6h17.8M341.3 174.7v17.8M326.5 189.5h17.8" stroke="#fff" stroke-opacity="0.14" stroke-width="0.8"/></g><g><rect x="326.5" y="154.6" width="17.8" height="17.8" fill="#f0727a"/><path d="M332.4 154.6v17.8M326.5 160.5h17.8M338.4 154.6v17.8M326.5 166.5h17.8" stroke="#fff" stroke-opacity="0.5" stroke-width="1.0"/><path d="M329.5 154.6v17.8M326.5 157.6h17.8M335.4 154.6v17.8M326.5 163.5h17.8M341.3 154.6v17.8M326.5 169.4h17.8" stroke="#fff" stroke-opacity="0.14" stroke-width="0.8"/></g><g><rect x="326.5" y="132.9" width="17.8" height="17.8" fill="#c65a64"/><path d="M332.4 132.9v17.8M326.5 138.8h17.8M338.4 132.9v17.8M326.5 144.8h17.8" stroke="#fff" stroke-opacity="0.5" stroke-width="1.0"/><path d="M329.5 132.9v17.8M326.5 135.9h17.8M335.4 132.9v17.8M326.5 141.8h17.8M341.3 132.9v17.8M326.5 147.7h17.8" stroke="#fff" stroke-opacity="0.14" stroke-width="0.8"/><path d="M332.8 139.8l-2.9 2.9M335.1 141.8l-3.7 2.6M328.6 138.5l-3.3 2.6M329.1 135.2l-3.4 1.4M336.6 142.2l-5 0.4" stroke="#6a1420" stroke-opacity="0.6" stroke-width="0.9"/></g><g><rect x="326.5" y="112.1" width="17.8" height="17.8" fill="#e0747c"/><path d="M332.4 112.1v17.8M326.5 118h17.8M338.4 112.1v17.8M326.5 124h17.8" stroke="#fff" stroke-opacity="0.5" stroke-width="1.0"/><path d="M329.5 112.1v17.8M326.5 115.1h17.8M335.4 112.1v17.8M326.5 121h17.8M341.3 112.1v17.8M326.5 126.9h17.8" stroke="#fff" stroke-opacity="0.14" stroke-width="0.8"/><path d="M338.4 126.2l-3.9 0.8M342.1 116.2l-4.7 -1.5M329.1 125.6l-4.6 -1.6" stroke="#6a1420" stroke-opacity="0.6" stroke-width="0.9"/></g><g><rect x="326.5" y="91.3" width="17.8" height="17.8" fill="#c65a64"/><path d="M332.4 91.3v17.8M326.5 97.2h17.8M338.4 91.3v17.8M326.5 103.2h17.8" stroke="#fff" stroke-opacity="0.5" stroke-width="1.0"/><path d="M329.5 91.3v17.8M326.5 94.3h17.8M335.4 91.3v17.8M326.5 100.2h17.8M341.3 91.3v17.8M326.5 106.1h17.8" stroke="#fff" stroke-opacity="0.14" stroke-width="0.8"/><path d="M338.6 104.5l-4.6 0.4M335.5 104.8l-4.6 -2.9M336.6 105.6l-4.6 -2.1M331.7 93.7l-4.1 -0.1M329.9 104.8l-4.7 -1.4" stroke="#6a1420" stroke-opacity="0.6" stroke-width="0.9"/></g><g><rect x="326.5" y="69.6" width="17.8" height="17.8" fill="#f0727a"/><path d="M332.4 69.6v17.8M326.5 75.5h17.8M338.4 69.6v17.8M326.5 81.5h17.8" stroke="#fff" stroke-opacity="0.5" stroke-width="1.0"/><path d="M329.5 69.6v17.8M326.5 72.6h17.8M335.4 69.6v17.8M326.5 78.5h17.8M341.3 69.6v17.8M326.5 84.4h17.8" stroke="#fff" stroke-opacity="0.14" stroke-width="0.8"/></g><g><rect x="326.5" y="49.5" width="17.8" height="17.8" fill="#f0727a"/><path d="M332.4 49.5v17.8M326.5 55.4h17.8M338.4 49.5v17.8M326.5 61.4h17.8" stroke="#fff" stroke-opacity="0.5" stroke-width="1.0"/><path d="M329.5 49.5v17.8M326.5 52.5h17.8M335.4 49.5v17.8M326.5 58.4h17.8M341.3 49.5v17.8M326.5 64.3h17.8" stroke="#fff" stroke-opacity="0.14" stroke-width="0.8"/></g><g><rect x="346.6" y="174.7" width="17.8" height="17.8" fill="#f0727a"/><path d="M352.5 174.7v17.8M346.6 180.6h17.8M358.5 174.7v17.8M346.6 186.6h17.8" stroke="#fff" stroke-opacity="0.5" stroke-width="1.0"/><path d="M349.6 174.7v17.8M346.6 177.7h17.8M355.5 174.7v17.8M346.6 183.6h17.8M361.4 174.7v17.8M346.6 189.5h17.8" stroke="#fff" stroke-opacity="0.14" stroke-width="0.8"/></g><g><rect x="346.6" y="154.6" width="17.8" height="17.8" fill="#c65a64"/><path d="M352.5 154.6v17.8M346.6 160.5h17.8M358.5 154.6v17.8M346.6 166.5h17.8" stroke="#fff" stroke-opacity="0.5" stroke-width="1.0"/><path d="M349.6 154.6v17.8M346.6 157.6h17.8M355.5 154.6v17.8M346.6 163.5h17.8M361.4 154.6v17.8M346.6 169.4h17.8" stroke="#fff" stroke-opacity="0.14" stroke-width="0.8"/><path d="M357.2 166l-2 2.3M359.6 166.9l-3 3.5M357.7 157.5l-3.3 1.8M349.6 160.3l-3.3 1.6M358.8 170.1l-2.6 3.3" stroke="#6a1420" stroke-opacity="0.6" stroke-width="0.9"/></g><g><rect x="346.6" y="132.9" width="17.8" height="17.8" fill="#c65a64"/><path d="M352.5 132.9v17.8M346.6 138.8h17.8M358.5 132.9v17.8M346.6 144.8h17.8" stroke="#fff" stroke-opacity="0.5" stroke-width="1.0"/><path d="M349.6 132.9v17.8M346.6 135.9h17.8M355.5 132.9v17.8M346.6 141.8h17.8M361.4 132.9v17.8M346.6 147.7h17.8" stroke="#fff" stroke-opacity="0.14" stroke-width="0.8"/><path d="M355.2 144.3l-4.7 1.1M357.5 136l-2.9 2.4M358.9 139.1l-2.8 1.1M349.4 138.6l-5 0.9M357.9 138.9l-4 1.7" stroke="#6a1420" stroke-opacity="0.6" stroke-width="0.9"/></g><g><rect x="346.6" y="112.1" width="17.8" height="17.8" fill="#e0747c"/><path d="M352.5 112.1v17.8M346.6 118h17.8M358.5 112.1v17.8M346.6 124h17.8" stroke="#fff" stroke-opacity="0.5" stroke-width="1.0"/><path d="M349.6 112.1v17.8M346.6 115.1h17.8M355.5 112.1v17.8M346.6 121h17.8M361.4 112.1v17.8M346.6 126.9h17.8" stroke="#fff" stroke-opacity="0.14" stroke-width="0.8"/><path d="M355 115.7l-3.1 -1.8M362.1 127l-3.5 2.6M359.9 127.5l-3.7 0.8" stroke="#6a1420" stroke-opacity="0.6" stroke-width="0.9"/></g><g><rect x="346.6" y="91.3" width="17.8" height="17.8" fill="#c65a64"/><path d="M352.5 91.3v17.8M346.6 97.2h17.8M358.5 91.3v17.8M346.6 103.2h17.8" stroke="#fff" stroke-opacity="0.5" stroke-width="1.0"/><path d="M349.6 91.3v17.8M346.6 94.3h17.8M355.5 91.3v17.8M346.6 100.2h17.8M361.4 91.3v17.8M346.6 106.1h17.8" stroke="#fff" stroke-opacity="0.14" stroke-width="0.8"/><path d="M351.5 106.3l-4.7 -0.1M350.6 100.5l-2.2 -2.6M359.9 100.3l-3.2 -4M351.8 105.7l-2.9 -0.9M348.6 100.1l-3.7 -1.3" stroke="#6a1420" stroke-opacity="0.6" stroke-width="0.9"/></g><g><rect x="346.6" y="69.6" width="17.8" height="17.8" fill="#c65a64"/><path d="M352.5 69.6v17.8M346.6 75.5h17.8M358.5 69.6v17.8M346.6 81.5h17.8" stroke="#fff" stroke-opacity="0.5" stroke-width="1.0"/><path d="M349.6 69.6v17.8M346.6 72.6h17.8M355.5 69.6v17.8M346.6 78.5h17.8M361.4 69.6v17.8M346.6 84.4h17.8" stroke="#fff" stroke-opacity="0.14" stroke-width="0.8"/><path d="M350.5 76.3l-4.6 -3M348.6 82l-1.8 -2.8M361.4 81.4l-1.3 -3.6M353.7 77l-1.4 -4.6M353.6 77.5l-2.7 -1.6" stroke="#6a1420" stroke-opacity="0.6" stroke-width="0.9"/></g><g><rect x="346.6" y="49.5" width="17.8" height="17.8" fill="#f0727a"/><path d="M352.5 49.5v17.8M346.6 55.4h17.8M358.5 49.5v17.8M346.6 61.4h17.8" stroke="#fff" stroke-opacity="0.5" stroke-width="1.0"/><path d="M349.6 49.5v17.8M346.6 52.5h17.8M355.5 49.5v17.8M346.6 58.4h17.8M361.4 49.5v17.8M346.6 64.3h17.8" stroke="#fff" stroke-opacity="0.14" stroke-width="0.8"/></g><g><rect x="368.3" y="174.7" width="17.8" height="17.8" fill="#c65a64"/><path d="M374.2 174.7v17.8M368.3 180.6h17.8M380.2 174.7v17.8M368.3 186.6h17.8" stroke="#fff" stroke-opacity="0.5" stroke-width="1.0"/><path d="M371.3 174.7v17.8M368.3 177.7h17.8M377.2 174.7v17.8M368.3 183.6h17.8M383.1 174.7v17.8M368.3 189.5h17.8" stroke="#fff" stroke-opacity="0.14" stroke-width="0.8"/><path d="M371.7 188.2l-0.9 5.7M373.7 180.4l-1.4 3.3M375.5 189.9l-3.5 4.2M379 189.3l-3 3.5M380.2 177.4l-2.2 3.7" stroke="#6a1420" stroke-opacity="0.6" stroke-width="0.9"/></g><g><rect x="368.3" y="154.6" width="17.8" height="17.8" fill="#c65a64"/><path d="M374.2 154.6v17.8M368.3 160.5h17.8M380.2 154.6v17.8M368.3 166.5h17.8" stroke="#fff" stroke-opacity="0.5" stroke-width="1.0"/><path d="M371.3 154.6v17.8M368.3 157.6h17.8M377.2 154.6v17.8M368.3 163.5h17.8M383.1 154.6v17.8M368.3 169.4h17.8" stroke="#fff" stroke-opacity="0.14" stroke-width="0.8"/><path d="M380.7 165.5l-0.5 3.1M383.1 158.4l-1.4 3.8M374.4 166.8l-3.1 2.2M379.4 160.8l-2 3.7M372.6 158.8l-1.7 5.5" stroke="#6a1420" stroke-opacity="0.6" stroke-width="0.9"/></g><g><rect x="368.3" y="132.9" width="17.8" height="17.8" fill="#c65a64"/><path d="M374.2 132.9v17.8M368.3 138.8h17.8M380.2 132.9v17.8M368.3 144.8h17.8" stroke="#fff" stroke-opacity="0.5" stroke-width="1.0"/><path d="M371.3 132.9v17.8M368.3 135.9h17.8M377.2 132.9v17.8M368.3 141.8h17.8M383.1 132.9v17.8M368.3 147.7h17.8" stroke="#fff" stroke-opacity="0.14" stroke-width="0.8"/><path d="M377.2 137.9l-5.8 1.6M376.5 136.8l-1.9 2.6M375 136.2l-2.5 2.8M378.2 147.1l-3.3 2.6M376 142.1l-2.5 3.1" stroke="#6a1420" stroke-opacity="0.6" stroke-width="0.9"/></g><g><rect x="368.3" y="112.1" width="17.8" height="17.8" fill="#e0747c"/><path d="M374.2 112.1v17.8M368.3 118h17.8M380.2 112.1v17.8M368.3 124h17.8" stroke="#fff" stroke-opacity="0.5" stroke-width="1.0"/><path d="M371.3 112.1v17.8M368.3 115.1h17.8M377.2 112.1v17.8M368.3 121h17.8M383.1 112.1v17.8M368.3 126.9h17.8" stroke="#fff" stroke-opacity="0.14" stroke-width="0.8"/><path d="M371.2 117.9l-2.8 -1.9M377.2 122.8l-3.5 -1M374 117.5l-4.3 -0.2" stroke="#6a1420" stroke-opacity="0.6" stroke-width="0.9"/></g><g><rect x="368.3" y="91.3" width="17.8" height="17.8" fill="#c65a64"/><path d="M374.2 91.3v17.8M368.3 97.2h17.8M380.2 91.3v17.8M368.3 103.2h17.8" stroke="#fff" stroke-opacity="0.5" stroke-width="1.0"/><path d="M371.3 91.3v17.8M368.3 94.3h17.8M377.2 91.3v17.8M368.3 100.2h17.8M383.1 91.3v17.8M368.3 106.1h17.8" stroke="#fff" stroke-opacity="0.14" stroke-width="0.8"/><path d="M383.5 105l-1.1 -2.9M370.7 103.1l-2.5 -3.7M378.4 93.3l-3.8 -4.3M381.7 105.1l-1.2 -3.5M371.8 95.4l-3.5 -3.6" stroke="#6a1420" stroke-opacity="0.6" stroke-width="0.9"/></g><g><rect x="368.3" y="69.6" width="17.8" height="17.8" fill="#c65a64"/><path d="M374.2 69.6v17.8M368.3 75.5h17.8M380.2 69.6v17.8M368.3 81.5h17.8" stroke="#fff" stroke-opacity="0.5" stroke-width="1.0"/><path d="M371.3 69.6v17.8M368.3 72.6h17.8M377.2 69.6v17.8M368.3 78.5h17.8M383.1 69.6v17.8M368.3 84.4h17.8" stroke="#fff" stroke-opacity="0.14" stroke-width="0.8"/><path d="M383.3 81.6l-1.1 -5.2M376.6 79.2l-4.3 -3.2M373.5 84.3l-1.7 -3.5M372.1 75.1l-1.9 -4.7M371.8 72.6l-2.2 -4.2" stroke="#6a1420" stroke-opacity="0.6" stroke-width="0.9"/></g><g><rect x="368.3" y="49.5" width="17.8" height="17.8" fill="#c65a64"/><path d="M374.2 49.5v17.8M368.3 55.4h17.8M380.2 49.5v17.8M368.3 61.4h17.8" stroke="#fff" stroke-opacity="0.5" stroke-width="1.0"/><path d="M371.3 49.5v17.8M368.3 52.5h17.8M377.2 49.5v17.8M368.3 58.4h17.8M383.1 49.5v17.8M368.3 64.3h17.8" stroke="#fff" stroke-opacity="0.14" stroke-width="0.8"/><path d="M375.7 54.6l-0.7 -3M374.5 57.9l0.5 -4.9M382.5 58.1l-1.8 -3.3M383.6 61.2l-1.3 -2.8M377.2 60.8l-1.5 -3.5" stroke="#6a1420" stroke-opacity="0.6" stroke-width="0.9"/></g><g><rect x="389.1" y="174.7" width="17.8" height="17.8" fill="#e0747c"/><path d="M395 174.7v17.8M389.1 180.6h17.8M401 174.7v17.8M389.1 186.6h17.8" stroke="#fff" stroke-opacity="0.5" stroke-width="1.0"/><path d="M392.1 174.7v17.8M389.1 177.7h17.8M398 174.7v17.8M389.1 183.6h17.8M403.9 174.7v17.8M389.1 189.5h17.8" stroke="#fff" stroke-opacity="0.14" stroke-width="0.8"/><path d="M400.3 189.5l0.9 3M395.8 182.5l-0.8 3.5M402.1 186.9l0.2 3.6" stroke="#6a1420" stroke-opacity="0.6" stroke-width="0.9"/></g><g><rect x="389.1" y="154.6" width="17.8" height="17.8" fill="#e0747c"/><path d="M395 154.6v17.8M389.1 160.5h17.8M401 154.6v17.8M389.1 166.5h17.8" stroke="#fff" stroke-opacity="0.5" stroke-width="1.0"/><path d="M392.1 154.6v17.8M389.1 157.6h17.8M398 154.6v17.8M389.1 163.5h17.8M403.9 154.6v17.8M389.1 169.4h17.8" stroke="#fff" stroke-opacity="0.14" stroke-width="0.8"/><path d="M404.5 160.9l-0.6 3.6M394.2 167.1l0.7 5.8M397.9 159.2l1.2 4.1" stroke="#6a1420" stroke-opacity="0.6" stroke-width="0.9"/></g><g><rect x="389.1" y="132.9" width="17.8" height="17.8" fill="#e0747c"/><path d="M395 132.9v17.8M389.1 138.8h17.8M401 132.9v17.8M389.1 144.8h17.8" stroke="#fff" stroke-opacity="0.5" stroke-width="1.0"/><path d="M392.1 132.9v17.8M389.1 135.9h17.8M398 132.9v17.8M389.1 141.8h17.8M403.9 132.9v17.8M389.1 147.7h17.8" stroke="#fff" stroke-opacity="0.14" stroke-width="0.8"/><path d="M400.3 148l1.8 3.8M394 148.3l0.7 3.1M391.9 140.3l-3.7 4.3" stroke="#6a1420" stroke-opacity="0.6" stroke-width="0.9"/></g><g><rect x="389.1" y="91.3" width="17.8" height="17.8" fill="#e0747c"/><path d="M395 91.3v17.8M389.1 97.2h17.8M401 91.3v17.8M389.1 103.2h17.8" stroke="#fff" stroke-opacity="0.5" stroke-width="1.0"/><path d="M392.1 91.3v17.8M389.1 94.3h17.8M398 91.3v17.8M389.1 100.2h17.8M403.9 91.3v17.8M389.1 106.1h17.8" stroke="#fff" stroke-opacity="0.14" stroke-width="0.8"/><path d="M401.2 107.1l2.4 -3.2M393.7 106.2l-0.1 -3.1M400.3 98.5l-0.1 -4" stroke="#6a1420" stroke-opacity="0.6" stroke-width="0.9"/></g><g><rect x="389.1" y="69.6" width="17.8" height="17.8" fill="#e0747c"/><path d="M395 69.6v17.8M389.1 75.5h17.8M401 69.6v17.8M389.1 81.5h17.8" stroke="#fff" stroke-opacity="0.5" stroke-width="1.0"/><path d="M392.1 69.6v17.8M389.1 72.6h17.8M398 69.6v17.8M389.1 78.5h17.8M403.9 69.6v17.8M389.1 84.4h17.8" stroke="#fff" stroke-opacity="0.14" stroke-width="0.8"/><path d="M393.4 71.6l-1.2 -3.9M404.3 73.3l2 -3M396 82.9l1.1 -4.1" stroke="#6a1420" stroke-opacity="0.6" stroke-width="0.9"/></g><g><rect x="389.1" y="49.5" width="17.8" height="17.8" fill="#e0747c"/><path d="M395 49.5v17.8M389.1 55.4h17.8M401 49.5v17.8M389.1 61.4h17.8" stroke="#fff" stroke-opacity="0.5" stroke-width="1.0"/><path d="M392.1 49.5v17.8M389.1 52.5h17.8M398 49.5v17.8M389.1 58.4h17.8M403.9 49.5v17.8M389.1 64.3h17.8" stroke="#fff" stroke-opacity="0.14" stroke-width="0.8"/><path d="M391.8 58l-1.3 -5.6M393.8 56.5l1 -2.9M396.8 62.7l0.8 -3" stroke="#6a1420" stroke-opacity="0.6" stroke-width="0.9"/></g><g><rect x="409.9" y="174.7" width="17.8" height="17.8" fill="#c65a64"/><path d="M415.8 174.7v17.8M409.9 180.6h17.8M421.8 174.7v17.8M409.9 186.6h17.8" stroke="#fff" stroke-opacity="0.5" stroke-width="1.0"/><path d="M412.9 174.7v17.8M409.9 177.7h17.8M418.8 174.7v17.8M409.9 183.6h17.8M424.7 174.7v17.8M409.9 189.5h17.8" stroke="#fff" stroke-opacity="0.14" stroke-width="0.8"/><path d="M412.4 177.6l-0.6 3.7M422.2 189.1l1.8 3.3M425.1 185.2l3.1 4.1M416.3 180.5l3.8 3.7M424.5 185.4l-0.2 3.1" stroke="#6a1420" stroke-opacity="0.6" stroke-width="0.9"/></g><g><rect x="409.9" y="154.6" width="17.8" height="17.8" fill="#c65a64"/><path d="M415.8 154.6v17.8M409.9 160.5h17.8M421.8 154.6v17.8M409.9 166.5h17.8" stroke="#fff" stroke-opacity="0.5" stroke-width="1.0"/><path d="M412.9 154.6v17.8M409.9 157.6h17.8M418.8 154.6v17.8M409.9 163.5h17.8M424.7 154.6v17.8M409.9 169.4h17.8" stroke="#fff" stroke-opacity="0.14" stroke-width="0.8"/><path d="M415.1 163.2l-0.4 5.8M417.2 160.1l2.3 3.9M424.7 159.1l1.6 5M423.3 167.3l1.5 3.7M416.3 161.6l0.5 3.2" stroke="#6a1420" stroke-opacity="0.6" stroke-width="0.9"/></g><g><rect x="409.9" y="132.9" width="17.8" height="17.8" fill="#c65a64"/><path d="M415.8 132.9v17.8M409.9 138.8h17.8M421.8 132.9v17.8M409.9 144.8h17.8" stroke="#fff" stroke-opacity="0.5" stroke-width="1.0"/><path d="M412.9 132.9v17.8M409.9 135.9h17.8M418.8 132.9v17.8M409.9 141.8h17.8M424.7 132.9v17.8M409.9 147.7h17.8" stroke="#fff" stroke-opacity="0.14" stroke-width="0.8"/><path d="M414.6 145.3l2.4 2.1M412.4 142.5l4.1 4.3M424.1 148.5l2.7 1.8M413.2 141.8l1.8 4M415.1 140.7l2.8 4.2" stroke="#6a1420" stroke-opacity="0.6" stroke-width="0.9"/></g><g><rect x="409.9" y="112.1" width="17.8" height="17.8" fill="#e0747c"/><path d="M415.8 112.1v17.8M409.9 118h17.8M421.8 112.1v17.8M409.9 124h17.8" stroke="#fff" stroke-opacity="0.5" stroke-width="1.0"/><path d="M412.9 112.1v17.8M409.9 115.1h17.8M418.8 112.1v17.8M409.9 121h17.8M424.7 112.1v17.8M409.9 126.9h17.8" stroke="#fff" stroke-opacity="0.14" stroke-width="0.8"/><path d="M422.2 125.8l3.1 1.2M423.5 118.2l4.1 -0.2M422.1 116.8l3.4 -1.5" stroke="#6a1420" stroke-opacity="0.6" stroke-width="0.9"/></g><g><rect x="409.9" y="91.3" width="17.8" height="17.8" fill="#c65a64"/><path d="M415.8 91.3v17.8M409.9 97.2h17.8M421.8 91.3v17.8M409.9 103.2h17.8" stroke="#fff" stroke-opacity="0.5" stroke-width="1.0"/><path d="M412.9 91.3v17.8M409.9 94.3h17.8M418.8 91.3v17.8M409.9 100.2h17.8M424.7 91.3v17.8M409.9 106.1h17.8" stroke="#fff" stroke-opacity="0.14" stroke-width="0.8"/><path d="M414 105.5l3.1 -2.5M417.4 107l3 -2.1M423.1 102.3l3.3 -0.5M418.5 104.6l5.4 -1.9M412.5 97.4l0.6 -3.5" stroke="#6a1420" stroke-opacity="0.6" stroke-width="0.9"/></g><g><rect x="409.9" y="69.6" width="17.8" height="17.8" fill="#c65a64"/><path d="M415.8 69.6v17.8M409.9 75.5h17.8M421.8 69.6v17.8M409.9 81.5h17.8" stroke="#fff" stroke-opacity="0.5" stroke-width="1.0"/><path d="M412.9 69.6v17.8M409.9 72.6h17.8M418.8 69.6v17.8M409.9 78.5h17.8M424.7 69.6v17.8M409.9 84.4h17.8" stroke="#fff" stroke-opacity="0.14" stroke-width="0.8"/><path d="M425.3 79.6l3.5 -2.2M423.9 77.8l1.6 -5.1M425 73.1l2.8 -4M414.9 76.7l0 -3.6M415.4 79.9l1.9 -3.1" stroke="#6a1420" stroke-opacity="0.6" stroke-width="0.9"/></g><g><rect x="409.9" y="49.5" width="17.8" height="17.8" fill="#c65a64"/><path d="M415.8 49.5v17.8M409.9 55.4h17.8M421.8 49.5v17.8M409.9 61.4h17.8" stroke="#fff" stroke-opacity="0.5" stroke-width="1.0"/><path d="M412.9 49.5v17.8M409.9 52.5h17.8M418.8 49.5v17.8M409.9 58.4h17.8M424.7 49.5v17.8M409.9 64.3h17.8" stroke="#fff" stroke-opacity="0.14" stroke-width="0.8"/><path d="M412.1 56l1.4 -3.3M416.2 54.3l2.5 -3.9M412.8 52.9l0.5 -4.6M420.7 52.8l-0.1 -5.1M417.6 55.4l0.6 -5.8" stroke="#6a1420" stroke-opacity="0.6" stroke-width="0.9"/></g><g><rect x="431.6" y="174.7" width="17.8" height="17.8" fill="#f0727a"/><path d="M437.5 174.7v17.8M431.6 180.6h17.8M443.5 174.7v17.8M431.6 186.6h17.8" stroke="#fff" stroke-opacity="0.5" stroke-width="1.0"/><path d="M434.6 174.7v17.8M431.6 177.7h17.8M440.5 174.7v17.8M431.6 183.6h17.8M446.4 174.7v17.8M431.6 189.5h17.8" stroke="#fff" stroke-opacity="0.14" stroke-width="0.8"/></g><g><rect x="431.6" y="154.6" width="17.8" height="17.8" fill="#c65a64"/><path d="M437.5 154.6v17.8M431.6 160.5h17.8M443.5 154.6v17.8M431.6 166.5h17.8" stroke="#fff" stroke-opacity="0.5" stroke-width="1.0"/><path d="M434.6 154.6v17.8M431.6 157.6h17.8M440.5 154.6v17.8M431.6 163.5h17.8M446.4 154.6v17.8M431.6 169.4h17.8" stroke="#fff" stroke-opacity="0.14" stroke-width="0.8"/><path d="M437.9 164.4l3.3 2.7M445.5 170.4l2.8 2.2M443.6 159.4l5.6 1.2M439.4 167.9l4.1 3.9M440 158.8l4.5 1.1" stroke="#6a1420" stroke-opacity="0.6" stroke-width="0.9"/></g><g><rect x="431.6" y="132.9" width="17.8" height="17.8" fill="#c65a64"/><path d="M437.5 132.9v17.8M431.6 138.8h17.8M443.5 132.9v17.8M431.6 144.8h17.8" stroke="#fff" stroke-opacity="0.5" stroke-width="1.0"/><path d="M434.6 132.9v17.8M431.6 135.9h17.8M440.5 132.9v17.8M431.6 141.8h17.8M446.4 132.9v17.8M431.6 147.7h17.8" stroke="#fff" stroke-opacity="0.14" stroke-width="0.8"/><path d="M442.4 147.5l4.8 0.6M438.7 141.9l3.8 0.5M440.8 147.7l4.4 0.7M444.7 148.2l3.3 0.8M446.6 148.4l2.8 1.5" stroke="#6a1420" stroke-opacity="0.6" stroke-width="0.9"/></g><g><rect x="431.6" y="112.1" width="17.8" height="17.8" fill="#e0747c"/><path d="M437.5 112.1v17.8M431.6 118h17.8M443.5 112.1v17.8M431.6 124h17.8" stroke="#fff" stroke-opacity="0.5" stroke-width="1.0"/><path d="M434.6 112.1v17.8M431.6 115.1h17.8M440.5 112.1v17.8M431.6 121h17.8M446.4 112.1v17.8M431.6 126.9h17.8" stroke="#fff" stroke-opacity="0.14" stroke-width="0.8"/><path d="M446.4 119.5l4.5 1.8M445 116.3l3.6 0.7M439.2 125.8l3.2 1.5" stroke="#6a1420" stroke-opacity="0.6" stroke-width="0.9"/></g><g><rect x="431.6" y="91.3" width="17.8" height="17.8" fill="#c65a64"/><path d="M437.5 91.3v17.8M431.6 97.2h17.8M443.5 91.3v17.8M431.6 103.2h17.8" stroke="#fff" stroke-opacity="0.5" stroke-width="1.0"/><path d="M434.6 91.3v17.8M431.6 94.3h17.8M440.5 91.3v17.8M431.6 100.2h17.8M446.4 91.3v17.8M431.6 106.1h17.8" stroke="#fff" stroke-opacity="0.14" stroke-width="0.8"/><path d="M436.6 98.8l3.6 -2M435.3 96.7l5.3 -2M434.2 101.1l3 -0.8M445.2 94.9l4.3 -1.8M442.3 97.5l4 -2.6" stroke="#6a1420" stroke-opacity="0.6" stroke-width="0.9"/></g><g><rect x="431.6" y="69.6" width="17.8" height="17.8" fill="#c65a64"/><path d="M437.5 69.6v17.8M431.6 75.5h17.8M443.5 69.6v17.8M431.6 81.5h17.8" stroke="#fff" stroke-opacity="0.5" stroke-width="1.0"/><path d="M434.6 69.6v17.8M431.6 72.6h17.8M440.5 69.6v17.8M431.6 78.5h17.8M446.4 69.6v17.8M431.6 84.4h17.8" stroke="#fff" stroke-opacity="0.14" stroke-width="0.8"/><path d="M439.5 80.7l2.9 -3.2M433.9 80.1l2.4 -2.8M444.1 82.4l2.6 -2.4M440.1 73.1l1.5 -4M434.9 77.7l2 -2.4" stroke="#6a1420" stroke-opacity="0.6" stroke-width="0.9"/></g><g><rect x="431.6" y="49.5" width="17.8" height="17.8" fill="#f0727a"/><path d="M437.5 49.5v17.8M431.6 55.4h17.8M443.5 49.5v17.8M431.6 61.4h17.8" stroke="#fff" stroke-opacity="0.5" stroke-width="1.0"/><path d="M434.6 49.5v17.8M431.6 52.5h17.8M440.5 49.5v17.8M431.6 58.4h17.8M446.4 49.5v17.8M431.6 64.3h17.8" stroke="#fff" stroke-opacity="0.14" stroke-width="0.8"/></g><g><rect x="451.7" y="174.7" width="17.8" height="17.8" fill="#f0727a"/><path d="M457.6 174.7v17.8M451.7 180.6h17.8M463.6 174.7v17.8M451.7 186.6h17.8" stroke="#fff" stroke-opacity="0.5" stroke-width="1.0"/><path d="M454.7 174.7v17.8M451.7 177.7h17.8M460.6 174.7v17.8M451.7 183.6h17.8M466.5 174.7v17.8M451.7 189.5h17.8" stroke="#fff" stroke-opacity="0.14" stroke-width="0.8"/></g><g><rect x="451.7" y="154.6" width="17.8" height="17.8" fill="#f0727a"/><path d="M457.6 154.6v17.8M451.7 160.5h17.8M463.6 154.6v17.8M451.7 166.5h17.8" stroke="#fff" stroke-opacity="0.5" stroke-width="1.0"/><path d="M454.7 154.6v17.8M451.7 157.6h17.8M460.6 154.6v17.8M451.7 163.5h17.8M466.5 154.6v17.8M451.7 169.4h17.8" stroke="#fff" stroke-opacity="0.14" stroke-width="0.8"/></g><g><rect x="451.7" y="132.9" width="17.8" height="17.8" fill="#c65a64"/><path d="M457.6 132.9v17.8M451.7 138.8h17.8M463.6 132.9v17.8M451.7 144.8h17.8" stroke="#fff" stroke-opacity="0.5" stroke-width="1.0"/><path d="M454.7 132.9v17.8M451.7 135.9h17.8M460.6 132.9v17.8M451.7 141.8h17.8M466.5 132.9v17.8M451.7 147.7h17.8" stroke="#fff" stroke-opacity="0.14" stroke-width="0.8"/><path d="M462.5 136l4.8 2.4M460.8 135.6l4 1M466.8 136.8l5 3.3M463.8 146.1l5.9 0.3M460.5 148.1l2.4 2.6" stroke="#6a1420" stroke-opacity="0.6" stroke-width="0.9"/></g><g><rect x="451.7" y="112.1" width="17.8" height="17.8" fill="#e0747c"/><path d="M457.6 112.1v17.8M451.7 118h17.8M463.6 112.1v17.8M451.7 124h17.8" stroke="#fff" stroke-opacity="0.5" stroke-width="1.0"/><path d="M454.7 112.1v17.8M451.7 115.1h17.8M460.6 112.1v17.8M451.7 121h17.8M466.5 112.1v17.8M451.7 126.9h17.8" stroke="#fff" stroke-opacity="0.14" stroke-width="0.8"/><path d="M464.6 126.9l3.8 -1.4M464.1 116.3l3.6 1.2M465 116.1l5.7 -0.4" stroke="#6a1420" stroke-opacity="0.6" stroke-width="0.9"/></g><g><rect x="451.7" y="91.3" width="17.8" height="17.8" fill="#c65a64"/><path d="M457.6 91.3v17.8M451.7 97.2h17.8M463.6 91.3v17.8M451.7 103.2h17.8" stroke="#fff" stroke-opacity="0.5" stroke-width="1.0"/><path d="M454.7 91.3v17.8M451.7 94.3h17.8M460.6 91.3v17.8M451.7 100.2h17.8M466.5 91.3v17.8M451.7 106.1h17.8" stroke="#fff" stroke-opacity="0.14" stroke-width="0.8"/><path d="M456.6 96.9l3.7 -1.5M454.2 95.8l4.2 -4M463.1 105.7l4.5 -2.9M455.3 100.6l4 -0.8M465.7 101l5.5 -1.2" stroke="#6a1420" stroke-opacity="0.6" stroke-width="0.9"/></g><g><rect x="451.7" y="69.6" width="17.8" height="17.8" fill="#f0727a"/><path d="M457.6 69.6v17.8M451.7 75.5h17.8M463.6 69.6v17.8M451.7 81.5h17.8" stroke="#fff" stroke-opacity="0.5" stroke-width="1.0"/><path d="M454.7 69.6v17.8M451.7 72.6h17.8M460.6 69.6v17.8M451.7 78.5h17.8M466.5 69.6v17.8M451.7 84.4h17.8" stroke="#fff" stroke-opacity="0.14" stroke-width="0.8"/></g><g><rect x="451.7" y="49.5" width="17.8" height="17.8" fill="#f0727a"/><path d="M457.6 49.5v17.8M451.7 55.4h17.8M463.6 49.5v17.8M451.7 61.4h17.8" stroke="#fff" stroke-opacity="0.5" stroke-width="1.0"/><path d="M454.7 49.5v17.8M451.7 52.5h17.8M460.6 49.5v17.8M451.7 58.4h17.8M466.5 49.5v17.8M451.7 64.3h17.8" stroke="#fff" stroke-opacity="0.14" stroke-width="0.8"/></g><path d="M406.9 112.1l4.9 -4.9M406.9 129.9l4.9 4.9M389.1 112.1l-4.9 -4.9M389.1 129.9l-4.9 4.9M407.6 91.9l2.8 -8.6M407.6 150.1l2.8 8.6M388.4 91.9l-2.8 -8.6M388.4 150.1l-2.8 8.6M407.9 71.1l1.7 -8.8M407.9 170.9l1.7 8.8M388.1 71.1l-1.7 -8.8M388.1 170.9l-1.7 8.8M427.1 111.4l8.6 -2.8M427.1 130.6l8.6 2.8M368.9 111.4l-8.6 -2.8M368.9 130.6l-8.6 2.8M427.7 91.3l6.4 -6.4M427.7 150.7l6.4 6.4M368.3 91.3l-6.4 -6.4M368.3 150.7l-6.4 6.4M447.9 111.1l8.8 -1.7M447.9 130.9l8.8 1.7M348.1 111.1l-8.8 -1.7M348.1 130.9l-8.8 1.7" stroke="#1f6a30" stroke-width="2.2" stroke-opacity="0.8" stroke-linecap="round"/><circle cx="398" cy="121" r="18.5" fill="#f6f6ff"/><path d="M401.5 121l2.4 0M399.8 124l1.2 2.1M396.2 124l-1.2 2.1M394.5 121l-2.4 0M396.2 118l-1.2 -2.1M399.8 118l1.2 -2.1M405.5 121l2.4 0M404.6 124.5l2.1 1.1M402.3 127.2l1.4 2M398.9 128.4l0.3 2.4M395.3 128l-0.9 2.2M392.4 126l-1.8 1.6M390.7 122.8l-2.3 0.6M390.7 119.2l-2.3 -0.6M392.4 116l-1.8 -1.6M395.3 114l-0.9 -2.2M398.9 113.6l0.3 -2.4M402.3 114.8l1.4 -2M404.6 117.5l2.1 -1.1M409.5 121l2.4 0M408.9 124.6l2.3 0.7M407.3 127.8l1.9 1.4M404.8 130.3l1.4 1.9M401.6 131.9l0.7 2.3M398 132.5l0 2.4M394.4 131.9l-0.7 2.3M391.2 130.3l-1.4 1.9M388.7 127.8l-1.9 1.4M387.1 124.6l-2.3 0.7M386.5 121l-2.4 0M387.1 117.4l-2.3 -0.7M388.7 114.2l-1.9 -1.4M391.2 111.7l-1.4 -1.9M394.4 110.1l-0.7 -2.3M398 109.5l0 -2.4M401.6 110.1l0.7 -2.3M404.8 111.7l1.4 -1.9M407.3 114.2l1.9 -1.4M408.9 117.4l2.3 -0.7M413.5 121l2.4 0M413.1 124.6l2.3 0.6M411.9 128l2.1 1.1M409.9 131l1.8 1.5M407.3 133.4l1.4 1.9M404.1 135.2l1 2.2M400.7 136.3l0.4 2.4M397.1 136.5l-0.1 2.4M393.6 135.8l-0.7 2.3M390.2 134.4l-1.2 2.1M387.4 132.3l-1.6 1.7M385 129.5l-2 1.3M383.4 126.3l-2.3 0.8M382.6 122.8l-2.4 0.3M382.6 119.2l-2.4 -0.3M383.4 115.7l-2.3 -0.8M385 112.5l-2 -1.3M387.4 109.7l-1.6 -1.7M390.2 107.6l-1.2 -2.1M393.6 106.2l-0.7 -2.3M397.1 105.5l-0.1 -2.4M400.7 105.7l0.4 -2.4M404.1 106.8l1 -2.2M407.3 108.6l1.4 -1.9M409.9 111l1.8 -1.5M411.9 114l2.1 -1.1M413.1 117.4l2.3 -0.6" stroke="#3a40c0" stroke-width="1"/></g></g><path d="M279 12V227.6H516.4" fill="none" stroke="#0d3a18" stroke-width="2"/><path d="M287.3 227.6v-5M324.2 227.6v-5M361.1 227.6v-5M398 227.6v-5M434.9 227.6v-5M471.8 227.6v-5M508.7 227.6v-5M279 194.8h5M279 157.9h5M279 121h5M279 84.1h5M279 47.2h5" stroke="#0d3a18" stroke-width="1.5"/><path d="M278.1 227.6v-2.5M296.5 227.6v-2.5M305.8 227.6v-2.5M315 227.6v-2.5M333.4 227.6v-2.5M342.6 227.6v-2.5M351.9 227.6v-2.5M370.3 227.6v-2.5M379.6 227.6v-2.5M388.8 227.6v-2.5M407.2 227.6v-2.5M416.4 227.6v-2.5M425.7 227.6v-2.5M444.1 227.6v-2.5M453.4 227.6v-2.5M462.6 227.6v-2.5M481 227.6v-2.5M490.2 227.6v-2.5M499.5 227.6v-2.5M279 222.5h2.5M279 213.2h2.5M279 204h2.5M279 185.6h2.5M279 176.4h2.5M279 167.1h2.5M279 148.7h2.5M279 139.4h2.5M279 130.2h2.5M279 111.8h2.5M279 102.5h2.5M279 93.3h2.5M279 74.9h2.5M279 65.6h2.5M279 56.4h2.5M279 38h2.5M279 28.8h2.5M279 19.5h2.5" stroke="#0d3a18" stroke-opacity="0.5" stroke-width="1"/><text class="tl" x="287.3" y="236.5" text-anchor="middle">-0.6</text><text class="tl" x="324.2" y="236.5" text-anchor="middle">-0.4</text><text class="tl" x="361.1" y="236.5" text-anchor="middle">-0.2</text><text class="tl" x="398" y="236.5" text-anchor="middle">0</text><text class="tl" x="434.9" y="236.5" text-anchor="middle">0.2</text><text class="tl" x="471.8" y="236.5" text-anchor="middle">0.4</text><text class="tl" x="508.7" y="236.5" text-anchor="middle">0.6</text><text class="tl" x="276" y="198.3" text-anchor="end">-0.4</text><text class="tl" x="276" y="161.4" text-anchor="end">-0.2</text><text class="tl" x="276" y="124.5" text-anchor="end">0</text><text class="tl" x="276" y="87.6" text-anchor="end">0.2</text><text class="tl" x="276" y="50.7" text-anchor="end">0.4</text><text class="tm" x="504" y="216" text-anchor="end">100<tspan font-style="italic">μs</tspan></text><clipPath id="c3"><rect x="20.1" y="267.2" width="238.4" height="217.9"/></clipPath><g clip-path="url(#c3)"><g filter="url(#soft)"><rect x="20.1" y="267.2" width="238.4" height="217.9" fill="#82f49c"/><rect x="20.1" y="267.2" width="238.4" height="217.9" fill="url(#grid)"/><path d="M271 374.5L270.9 375.3L270.6 376.7L270.1 378.5L269.5 380.5L268.6 382.9L267.6 385.5L266.4 388.2L264.9 391.2L263.4 394.3L261.6 397.5L259.7 400.8L257.6 404.3L255.4 407.9L253 411.5L250.4 415.2L247.7 418.9L244.9 422.7L242 426.5L238.9 430.3L235.7 434.1L232.4 437.9L229 441.7L225.6 445.5L222 449.2L218.4 452.9L214.7 456.5L211 460.1L207.2 463.5L203.4 466.9L199.6 470.2L195.8 473.4L192 476.5L188.2 479.4L184.4 482.2L180.7 484.9L177 487.5L173.4 489.9L169.8 492.1L166.3 494.2L163 496.1L159.8 497.9L156.7 499.4L153.7 500.9L151 502.1L148.4 503.1L146 504L144 504.6L142.2 505.1L140.8 505.4L140 505.5L139.2 505.4L137.8 505.1L136 504.6L134 504L131.6 503.1L129 502.1L126.3 500.9L123.3 499.4L120.2 497.9L117 496.1L113.7 494.2L110.2 492.1L106.6 489.9L103 487.5L99.3 484.9L95.6 482.2L91.8 479.4L88 476.5L84.2 473.4L80.4 470.2L76.6 466.9L72.8 463.5L69 460.1L65.3 456.5L61.6 452.9L58 449.2L54.4 445.5L51 441.7L47.6 437.9L44.3 434.1L41.1 430.3L38 426.5L35.1 422.7L32.3 418.9L29.6 415.2L27 411.5L24.6 407.9L22.4 404.3L20.3 400.8L18.4 397.5L16.6 394.3L15.1 391.2L13.6 388.2L12.4 385.5L11.4 382.9L10.5 380.5L9.9 378.5L9.4 376.7L9.1 375.3L9 374.5L9.1 373.7L9.4 372.3L9.9 370.5L10.5 368.5L11.4 366.1L12.4 363.5L13.6 360.8L15.1 357.8L16.6 354.7L18.4 351.5L20.3 348.2L22.4 344.7L24.6 341.1L27 337.5L29.6 333.8L32.3 330.1L35.1 326.3L38 322.5L41.1 318.7L44.3 314.9L47.6 311.1L51 307.3L54.4 303.5L58 299.8L61.6 296.1L65.3 292.5L69 288.9L72.8 285.5L76.6 282.1L80.4 278.8L84.2 275.6L88 272.5L91.8 269.6L95.6 266.8L99.3 264.1L103 261.5L106.6 259.1L110.2 256.9L113.7 254.8L117 252.9L120.2 251.1L123.3 249.6L126.3 248.1L129 246.9L131.6 245.9L134 245L136 244.4L137.8 243.9L139.2 243.6L140 243.5L140.8 243.6L142.2 243.9L144 244.4L146 245L148.4 245.9L151 246.9L153.7 248.1L156.7 249.6L159.8 251.1L163 252.9L166.3 254.8L169.8 256.9L173.4 259.1L177 261.5L180.7 264.1L184.4 266.8L188.2 269.6L192 272.5L195.8 275.6L199.6 278.8L203.4 282.1L207.2 285.5L211 288.9L214.7 292.5L218.4 296.1L222 299.8L225.6 303.5L229 307.3L232.4 311.1L235.7 314.9L238.9 318.7L242 322.5L244.9 326.3L247.7 330.1L250.4 333.8L253 337.5L255.4 341.1L257.6 344.7L259.7 348.2L261.6 351.5L263.4 354.7L264.9 357.8L266.4 360.8L267.6 363.5L268.6 366.1L269.5 368.5L270.1 370.5L270.6 372.3L270.9 373.7Z" fill="#6cc27e" filter="url(#bl1)"/><path d="M252 374.5L251.9 375.2L251.7 376.4L251.3 377.9L250.7 379.7L250 381.7L249.1 383.9L248 386.2L246.8 388.8L245.5 391.4L244 394.2L242.3 397L240.5 400L238.6 403L236.6 406.1L234.4 409.3L232.1 412.5L229.7 415.7L227.2 418.9L224.5 422.2L221.8 425.5L219 428.7L216.1 432L213.2 435.2L210.1 438.4L207 441.5L203.9 444.6L200.7 447.7L197.5 450.6L194.2 453.5L191 456.3L187.7 459L184.4 461.7L181.2 464.2L178 466.6L174.8 468.9L171.6 471.1L168.5 473.1L165.5 475L162.5 476.8L159.7 478.5L156.9 480L154.3 481.3L151.7 482.5L149.4 483.6L147.2 484.5L145.2 485.2L143.4 485.8L141.9 486.2L140.7 486.4L140 486.5L139.3 486.4L138.1 486.2L136.6 485.8L134.8 485.2L132.8 484.5L130.6 483.6L128.3 482.5L125.7 481.3L123.1 480L120.3 478.5L117.5 476.8L114.5 475L111.5 473.1L108.4 471.1L105.2 468.9L102 466.6L98.8 464.2L95.6 461.7L92.3 459L89 456.3L85.8 453.5L82.5 450.6L79.3 447.7L76.1 444.6L73 441.5L69.9 438.4L66.8 435.2L63.9 432L61 428.7L58.2 425.5L55.5 422.2L52.8 418.9L50.3 415.7L47.9 412.5L45.6 409.3L43.4 406.1L41.4 403L39.5 400L37.7 397L36 394.2L34.5 391.4L33.2 388.8L32 386.2L30.9 383.9L30 381.7L29.3 379.7L28.7 377.9L28.3 376.4L28.1 375.2L28 374.5L28.1 373.8L28.3 372.6L28.7 371.1L29.3 369.3L30 367.3L30.9 365.1L32 362.8L33.2 360.2L34.5 357.6L36 354.8L37.7 352L39.5 349L41.4 346L43.4 342.9L45.6 339.7L47.9 336.5L50.3 333.3L52.8 330.1L55.5 326.8L58.2 323.5L61 320.3L63.9 317L66.8 313.8L69.9 310.6L73 307.5L76.1 304.4L79.3 301.3L82.5 298.4L85.8 295.5L89 292.7L92.3 290L95.6 287.3L98.8 284.8L102 282.4L105.2 280.1L108.4 277.9L111.5 275.9L114.5 274L117.5 272.2L120.3 270.5L123.1 269L125.7 267.7L128.3 266.5L130.6 265.4L132.8 264.5L134.8 263.8L136.6 263.2L138.1 262.8L139.3 262.6L140 262.5L140.7 262.6L141.9 262.8L143.4 263.2L145.2 263.8L147.2 264.5L149.4 265.4L151.7 266.5L154.3 267.7L156.9 269L159.7 270.5L162.5 272.2L165.5 274L168.5 275.9L171.6 277.9L174.8 280.1L178 282.4L181.2 284.8L184.4 287.3L187.7 290L191 292.7L194.2 295.5L197.5 298.4L200.7 301.3L203.9 304.4L207 307.5L210.1 310.6L213.2 313.8L216.1 317L219 320.3L221.8 323.5L224.5 326.8L227.2 330.1L229.7 333.3L232.1 336.5L234.4 339.7L236.6 342.9L238.6 346L240.5 349L242.3 352L244 354.8L245.5 357.6L246.8 360.2L248 362.8L249.1 365.1L250 367.3L250.7 369.3L251.3 371.1L251.7 372.6L251.9 373.8Z" fill="none" stroke="#5cb070" stroke-width="16" stroke-opacity="0.5" filter="url(#bl6)"/><path d="M264 374.5L263.9 375.2L263.6 376.6L263.2 378.2L262.6 380.2L261.7 382.4L260.8 384.9L259.6 387.5L258.3 390.3L256.8 393.2L255.1 396.3L253.3 399.4L251.3 402.7L249.2 406.1L246.9 409.5L244.5 413L242 416.5L239.3 420.1L236.5 423.7L233.6 427.3L230.6 430.9L227.5 434.5L224.3 438.1L221 441.7L217.6 445.2L214.2 448.7L210.7 452.1L207.2 455.5L203.6 458.8L200 462L196.4 465.1L192.8 468.1L189.2 471L185.6 473.8L182 476.5L178.5 479L175 481.4L171.6 483.7L168.2 485.8L164.9 487.8L161.8 489.6L158.7 491.3L155.8 492.8L153 494.1L150.4 495.3L147.9 496.2L145.7 497.1L143.7 497.7L142.1 498.1L140.7 498.4L140 498.5L139.3 498.4L137.9 498.1L136.3 497.7L134.3 497.1L132.1 496.2L129.6 495.3L127 494.1L124.2 492.8L121.3 491.3L118.2 489.6L115.1 487.8L111.8 485.8L108.4 483.7L105 481.4L101.5 479L98 476.5L94.4 473.8L90.8 471L87.2 468.1L83.6 465.1L80 462L76.4 458.8L72.8 455.5L69.3 452.1L65.8 448.7L62.4 445.2L59 441.7L55.7 438.1L52.5 434.5L49.4 430.9L46.4 427.3L43.5 423.7L40.7 420.1L38 416.5L35.5 413L33.1 409.5L30.8 406.1L28.7 402.7L26.7 399.4L24.9 396.3L23.2 393.2L21.7 390.3L20.4 387.5L19.2 384.9L18.3 382.4L17.4 380.2L16.8 378.2L16.4 376.6L16.1 375.2L16 374.5L16.1 373.8L16.4 372.4L16.8 370.8L17.4 368.8L18.3 366.6L19.2 364.1L20.4 361.5L21.7 358.7L23.2 355.8L24.9 352.7L26.7 349.6L28.7 346.3L30.8 342.9L33.1 339.5L35.5 336L38 332.5L40.7 328.9L43.5 325.3L46.4 321.7L49.4 318.1L52.5 314.5L55.7 310.9L59 307.3L62.4 303.8L65.8 300.3L69.3 296.9L72.8 293.5L76.4 290.2L80 287L83.6 283.9L87.2 280.9L90.8 278L94.4 275.2L98 272.5L101.5 270L105 267.6L108.4 265.3L111.8 263.2L115.1 261.2L118.2 259.4L121.3 257.7L124.2 256.2L127 254.9L129.6 253.7L132.1 252.8L134.3 251.9L136.3 251.3L137.9 250.9L139.3 250.6L140 250.5L140.7 250.6L142.1 250.9L143.7 251.3L145.7 251.9L147.9 252.8L150.4 253.7L153 254.9L155.8 256.2L158.7 257.7L161.8 259.4L164.9 261.2L168.2 263.2L171.6 265.3L175 267.6L178.5 270L182 272.5L185.6 275.2L189.2 278L192.8 280.9L196.4 283.9L200 287L203.6 290.2L207.2 293.5L210.7 296.9L214.2 300.3L217.6 303.8L221 307.3L224.3 310.9L227.5 314.5L230.6 318.1L233.6 321.7L236.5 325.3L239.3 328.9L242 332.5L244.5 336L246.9 339.5L249.2 342.9L251.3 346.3L253.3 349.6L255.1 352.7L256.8 355.8L258.3 358.7L259.6 361.5L260.8 364.1L261.7 366.6L262.6 368.8L263.2 370.8L263.6 372.4L263.9 373.8Z" fill="none" stroke="#3e9455" stroke-width="11" stroke-opacity="0.85" filter="url(#bl3)"/><path d="M220.8 373.9l6.8 -0.5M129.6 489.4l-1 8.9M148.6 284.2l0 -5.7M245.2 410.4l7.7 1.8M245.5 366.9l6.5 -0.3M231.5 378.5l3.2 -0.3M44.3 420.9l-5.8 1.8M151.7 459l2 6.6M94 436.9l-2.1 3M64.6 333.8l-5.9 -2.8M36 394l-3.8 0.1M192.1 448.6l2 3M163.1 264.6l0.7 -5.4M93.6 317.7l-4.1 -4.9M40.3 414.3l-8.3 2.4M212.6 327.2l2.7 -1.8M147.4 473.1l0 3.4M68.1 353.7l-8.5 -1.8M73.2 323.6l-4.5 -4M191.5 478l2.5 4.2M199.7 327.7l6.2 -4.5M182.1 315l4.1 -6.2M34.7 409.9l-4 1.8M225 398.6l4.8 1.6M201 288.1l3.7 -6.3M45.8 417.5l-7.1 3M84 308.1l-6.1 -6.4M255 388.5l4.6 0.1M243.7 340l6.9 -2.9M85.3 479.2l-2.6 3.6M102.9 278.6l-1.5 -6.8M192.7 294.1l4.5 -5.6M124.6 281.5l-1.4 -6.3M77.9 317.2l-2.2 -2.7M221.8 391.5l3.5 1.1M198.5 449.8l2.3 2.2M67.9 296.9l-4.4 -5.7M73.6 335.1l-4.1 -3.2M227.8 306l2.9 -1.8M249.8 337.5l3.3 -1.5M219.4 394.9l7.7 2.5M188.1 283.3l2.7 -6.2M205.9 424l6.5 3.8M58.5 419.8l-2.7 1.6M120.8 289.5l-1.4 -5M21.4 374.7l-8.1 -0.5M74.4 417.4l-5 2.5M113.8 288.2l-2.3 -5.8M236.6 439.6l7.1 3.6M162.3 449.2l1.2 7.5M64.9 381.8l-5.9 -0.2M54.9 380.4l-5.1 -0.3M223.5 346.8l4.3 -2M31.5 378.6l-3.7 -0.1M158.8 300.2l2.3 -6.8M75 460.6l-3.2 4.4M239.3 437.2l7.7 3.2M132.9 463.4l-0.7 8.4M210.6 314.5l3.2 -3M142.9 276.1l0.5 -7.5M96.8 460.1l-2.2 3.3M134.6 270.7l-0.3 -4M42.1 324.3l-3.3 -1.8M148.8 492.9l0.6 4.1M200.3 287.2l1.8 -3.5M99.1 455.8l-2.3 5.7M174.3 463.1l2.7 8.4M218.5 358.6l3.5 -1M173.2 262.8l1.9 -7.1M84.5 312.2l-2.6 -2.6M232.9 397.6l5.2 1.6M31.8 377.2l-6.8 0.1M74.1 327.2l-4.1 -3.6M34.5 427.1l-6 2.3M153 473.2l0.2 7.3M105.6 271.5l-2.1 -7.8M38.3 407.8l-4.7 1.2M69.5 416.5l-7 3.3M140 483.1l0.1 5.5M51.4 434.3l-6.4 3M92 307.3l-4.5 -6.2M238.4 361.7l3.2 -0.5M156.6 295.3l1.8 -8.5M68 341.1l-5.4 -3.2M75.5 300.3l-5.1 -6.2M231 346.7l4.1 -1.1M147.6 282.6l0.8 -3.6M227.7 410.1l4.4 1.5M73.9 414.6l-5 2.4M131.1 470.4l-0.7 4.3M23.9 357.6l-4.2 -1.1M162.5 470l0.6 3.7M65 293.2l-3.8 -4.4M225 357.9l5 -0.9M185.7 274l2 -5.4M212.2 449.8l5.9 5.4M127.5 491.2l-0.2 5.3M177.9 466.5l1 2.8M142.8 467.4l0.2 4.8M77 303.9l-4.7 -5.1M211.6 284.5l2.3 -2.4M164.7 263.6l1.2 -3.7M245.3 387.4l3 0.7M140 484.2l0.4 3.6M154.4 291.1l0.3 -5.1M170.1 265l1.5 -3.7M160.4 274.8l2.2 -6.7M199.3 282.5l2.4 -3.4M134.8 276.2l0.4 -5.6M130.7 479.5l0.1 4.4M233.1 413.3l5.6 1.5M40.3 378.6l-6.2 -0.6M180.7 314l3.2 -4.8M197.7 287.3l2.7 -4.5M245.5 431.6l5.9 3.4M80.8 328.8l-4.8 -5.2M231.7 366.9l6 -0.7M253.6 402.1l7.1 1.8M199.9 306.7l3.3 -4M153 277.2l0.5 -4.2M48.9 345.3l-7.7 -2.2M46.6 442.1l-4.7 3.8M239.1 361.8l6.9 -0.5M102.2 461.8l-2.1 4.3M162.6 274.1l0.9 -3.1M28.9 344.9l-3.2 -0.7M167.8 447.6l2.9 8M165.9 273.9l2.3 -8.1M66.6 302.4l-4.9 -5.3M165.1 482.2l1.7 6.8M229.2 443.5l3.6 2M235.6 320.2l5.8 -3.8M165.8 267.1l1 -6.3M59.8 420.4l-4.3 2.4M237.1 334.7l3.1 -1.3M196.7 430l5.6 5.5M29.6 416.1l-2.9 1.1M236.2 337.8l8.2 -3.4M217.1 435l5.8 3.6M223 385.6l3 0.5M220 360.3l3.5 -0.4M221.7 386.7l7.3 0.3M182.1 478.9l1 3.1M207.1 291.6l3.8 -6.3M113.3 275.4l-0.7 -5.7M226.4 357.8l6.8 -2.6M95.7 315.9l-5.4 -5.8M128.2 286.9l-0.1 -4M232.5 414l4.8 2M96.8 290.3l-1.4 -3.6M82.4 303.4l-4.3 -5.2M161.4 285l2.7 -8.2M112.9 476.8l-1.3 3.1M190.8 281.5l2.5 -4.3M198.3 273.5l2.9 -5.9M213.9 314.9l4.2 -3.2M223 314.1l5.9 -5.2M133.9 452.3l-0.6 5.5M226 304l2.7 -1.9M215.8 293.8l4 -5M180.1 270.3l3.3 -6.3M220.1 424.9l5.1 3.7M140.1 291.6l-0.7 -8.6M94.1 283.5l-3 -5M140.6 288.8l0 -7.7M167.8 302.5l2.1 -7.3M222.5 315.1l6.7 -5M56.2 324.8l-3.7 -1.9M114.3 296.6l-1.5 -5M44.9 367.2l-3.9 0.1M55.7 462.8l-2.7 2.5M202.3 470.6l3.9 5.3M240.1 390.5l3.1 0.9M25.4 387.4l-6.3 1M40.2 427.6l-8 3.3M250.2 351.7l4.2 -1.6M176.2 455.4l1.9 2.9M210.5 303l4.5 -3.6M247.3 423.3l6.1 2.4M219.1 356.8l4.4 -1.1M242.1 348.8l6.7 -2.1M192.5 460l3.6 8M224.5 398.4l4.4 0.9M236.1 311.8l5.9 -5.4M111.9 269.2l-0.7 -6.8M188 439.2l3.8 6.5M107.5 480l-2.5 6.1M103.7 449.9l-1.6 4.3M188.6 464l2.6 3.6M247.2 386l7.3 -0.1M209.3 343.7l4.1 -1.4M228 303.5l2.9 -2.5M212.5 342.7l7.4 -3.2M87.6 460.3l-4.2 6.7M205.8 460l3.1 3M37 341.6l-3.5 -1.7M64.1 424.5l-3.2 2.3M82.3 475.8l-2 3.5M215.3 325.1l3.3 -1.7M201.8 329.6l5.1 -4.8M117.6 474l-0.6 4.5M233.8 372.2l9 0.6M120.3 455.5l-1 8.3M110.4 483l-1.1 8.8M79.1 472.3l-1.6 3.5M27.9 358.6l-4.1 -0.6M163.1 491.9l1.9 6.1M150.9 293.3l0.3 -7.3M207.8 419l5.7 3.5M164.4 463.7l1.4 6.5M42.1 321.3l-3.9 -1.6M48 437.4l-5.6 4.8M82.4 474.6l-4.8 6.4M239.3 387.2l8.4 0.8M128.2 492.1l-0.8 4M188.6 458l2.6 4.5M65.3 368.1l-5.6 -0.7M122 297.8l-0.9 -7.8M117.8 288.3l-0.9 -5.2M194.7 321.2l6.1 -6.3M41.2 358.3l-6.2 -0.3M159.5 494.7l1.1 3.9M176.2 296.8l0.9 -3M176.7 479.5l1 3M37.7 362.7l-7.2 -0.2M116.4 264.8l-1 -3.1M40.2 377l-4.7 0.5M202.5 450.2l3.7 5.4M65.4 340.8l-7 -2.6M244.8 334.1l4.9 -2.2M27.5 359.2l-5.1 -1.6M81.1 472.2l-2.2 3.9M236.5 366.1l7.8 0M205.1 285.1l1.9 -2.7M248.5 330l4.1 -1.9M70.4 457.1l-3.4 5.1M43 374.6l-3.1 0.2M159.8 260.3l1.8 -8.4M224.3 302.6l5.4 -6.3M129.5 483.1l-0.2 7.1M230.6 330.9l5.7 -3.5M47.7 418.4l-7.7 4M85.3 304.6l-2.1 -3M22.1 367.3l-4.6 -0.4M200.5 459l2.5 2.7M64.6 427.7l-3.7 2.9M63.4 354.6l-7.6 -2.6M79.6 294l-2.2 -3.6M46.1 348.3l-6.4 -1.9M144.4 468.8l0.2 4.3M58.6 328.9l-2.7 -1.5M148.3 492l0.5 6.3M229.9 370.4l4.8 0M216.5 411.6l7.6 3.2M80.2 428.4l-4.5 3.3M152.6 457.7l0.7 8.7M96.6 448.9l-2.9 4.2M201.7 292.5l4.7 -6.4M135.4 267.6l-0.4 -7.5M111.2 269.4l-3.1 -7.9M255.1 380.6l7.6 0.4M237.2 354.3l6.2 -1.6M217.9 297.3l4.5 -4.9M45.5 403.1l-7 2.4M50.5 345.1l-5.1 -1.5M205.6 286.8l3.4 -4.9M111.7 457.7l-1.4 3.6M228.2 431.9l7.5 4.1M200 280.4l3.9 -7.8M221.9 325.9l2.3 -2M37.1 379.2l-8.5 -0.6M241.7 376.4l6.1 0M57.1 446.5l-4 3.2M228.4 347.5l6.7 -2.2M83.2 434.7l-3.9 3.8M215.2 306.7l6.4 -6M71 308.8l-6.7 -6M180.8 284.7l1.4 -3.8M194.8 271.6l2.1 -5.7M97.2 269.6l-1.8 -7.7M38.2 432.7l-3.3 2.1M39.5 374.4l-4.1 0.3M55.8 313.8l-3.6 -3.7M242.2 405.3l5.1 1.9M106.8 292.6l-1.3 -2.7M42.2 318.7l-6.3 -3.1M45.6 344.7l-4.3 -1.7M241.4 375.7l6.4 -0.3M185.2 445.7l4.9 5.8M178.6 448.3l2.4 5.6M176.5 279.2l0.7 -3.3M90.8 477.3l-2.9 6.7M131.2 461.4l-0.8 3.5M79.7 461.7l-3.2 4.7M200.4 327.9l5.5 -3.4M69.1 310.8l-3.7 -2.6M211.8 284.6l3.4 -3.5M102.6 484.2l-3 5.9M234.9 346.5l4.2 -1.5M159.5 485l0.3 4.8M166.4 281.7l0.8 -4.4M176.4 463.8l3.9 7.9M217.1 445.4l4.8 3.9M227.7 415.8l3.3 1.8M143 470.8l0.4 4.1M225.7 396.6l6.9 1.2M117.1 297.1l-1.2 -3.3M219 459.4l3.5 4.4M200.8 472.3l2.5 4.5M231.3 353.1l4.2 -0.5M154.3 476.8l1.4 5.5M132.7 486l-0.8 8.4M142.2 471.6l0.7 6.6M222.6 457.8l4.3 4.3M152.2 288.9l1 -5.2M101.6 473.1l-1.4 5.2M190.2 309.3l3.1 -3.8M65 346.7l-4.8 -2M223.1 414l4.6 1.6M123 297.2l-1.1 -4.6M158.2 262.3l2.2 -8M126.3 458.7l-0.7 3.1M76.3 463.5l-3.5 4.2M141.1 485.9l0.4 8.1M183.9 473.5l1.1 3.5M114.4 270.7l-1.2 -3M166.9 457l1.7 4.5M111.1 449.2l-1.9 6.6M36.9 328.9l-6.8 -2.6M101 288.5l-2.7 -4.3M158.8 265.3l0.1 -4.7M50.6 305.9l-2.7 -1.8M160.9 299l1.6 -3.9M234.7 434.4l6.3 3.5M192.4 280.4l1.7 -4.4M35.2 431.8l-7.8 3.5M193 281.1l3.2 -6M115 303.5l-1.8 -5.3M221.6 461.8l6 4.7M177.3 275.5l1.6 -4.3M62.8 287.1l-4.4 -4.4M90.9 438.6l-3 4.6M199.8 446.6l4.4 5.7M144.6 465.2l0.4 6.1M70 472l-3.3 3.5M63.6 345.4l-4.4 -2.4M146.7 275.6l0.5 -4M38.8 402.7l-7.5 1.1M120.1 456.4l-0.8 5.1M124.9 454.5l-1.1 4M214.1 441.2l3.8 3.2M186.2 459.2l2.1 2.7M140.3 257.8l0.2 -3.5M30.1 331.1l-3.4 -1.4M175.9 467.8l3.1 5.4M68 285.3l-3.4 -5.8M139.1 484l0.4 4.5M151.7 301.8l0.7 -8M84.9 312.5l-4.4 -6.8M158.2 295.2l2.3 -7.6M176.8 462l3.6 7.1M50.7 347.8l-4.8 -2.1M225 400l6.1 1.9M108.8 268.7l-1.2 -8.3M40.2 377.8l-3.9 0.2M230.7 427.5l6.6 2.8M235.8 359.1l3.3 -1.1M175.4 468.2l3.7 6.4M210.1 287.5l4.6 -6.2M92.5 301l-3.3 -5.1M54.1 412.3l-6.7 2M199.6 477.5l2.5 4.1M80.6 461.4l-2 3.7M50.8 400.1l-8.8 1.1M253.5 359.1l8.7 -1.1M245 419.1l6.5 2.8M58.2 338.3l-7.9 -3.7M107.6 478.8l-2.1 4.6M168.7 448.5l2.8 6.5M97.4 310l-2.7 -4.5M45.4 359.5l-6.3 -1M174.4 451.3l3.4 7.6M192.7 315.6l2.5 -3.8M139 478.9l-0.2 5.9M61.7 339l-3.3 -1.6M230.9 427.7l5.1 2M203.7 303.8l4.4 -4.5M223.3 450.5l6.3 6.3M179 306.8l2.1 -4.9M30.6 331.8l-7.3 -2.2M244.3 417l4.2 1.4M77.1 335.1l-3.7 -2.2M42.8 426.3l-7.6 3.5M33.7 333.1l-7.4 -4.1M137.6 293.3l0.3 -5M189.3 281.7l1.6 -3.4M244.2 342.2l6.6 -3.3M224.7 438.7l4.7 4.1M212.6 340.7l6 -3.6M59.2 405.6l-7.6 2.4M220.7 388.2l3.6 0.8M59.7 349l-4.4 -1.8M198.4 452l5 6.6M178.6 276.6l1.9 -8.5M194.2 453l2.9 5.2M249.7 402.4l3.9 1.3M56 444.8l-4.2 4.1M50.5 448.4l-6.6 4.9M102.1 447.2l-2.5 3.5M240 405.6l3.9 0.9M52.7 331.6l-4.8 -2.3M73.8 341.5l-4.7 -1.7M237.9 369.1l3.2 -0.6M124.8 483.7l-0.7 4.6M59.2 340.1l-5.2 -3.3M257 403l6.1 1.9M157.5 263.6l1.3 -6.7M121.5 469.5l-2.4 7.4M90.8 270.6l-1.7 -4.5M30.1 371.3l-6.8 -0.1M55.1 434.5l-2.7 2M231.7 370.8l5.9 -0.7M148.4 465.2l1 5M192 322.8l3.9 -4.2M106.7 475l-0.8 3.9M107.3 462.4l-2.7 6.8M76.6 476.7l-4.8 7.1M174.4 449.2l1.9 6.2M154.3 285l1.5 -5.4M61.5 385.2l-8.3 1.4M227.9 390.3l4 0.3M161.5 484l1.5 5.2M208.6 298.7l4 -5.6M246.9 352.3l6.2 -2.3M220 298l3.2 -3.9M57 357.9l-7.9 -2.2M167.5 491.4l0.8 4.9M51.9 437.1l-5.7 4.2M72.8 417.7l-2.9 1.6M47.5 380.8l-6.5 0.7M238.1 385.9l8.5 0.9M252.2 418.7l6.1 2.7M216.8 428.6l3.5 1.8M233.9 437l6.8 4.1M53.6 323.8l-5.2 -3.6M89.2 468.7l-3.1 6.8M149.1 268.9l0.2 -7.7M250.3 361.7l5.6 -1.2M234.2 340.8l3.3 -1.9M84.5 295.5l-4.5 -6.2M156.4 496l1.9 7.3M191 434.7l2.2 2.5M182.6 470.7l3.9 7.7M176.7 452.3l2.4 7M222.6 392.7l7.6 0.8M20.7 378.3l-6.8 0.4M31 405.4l-4.9 0.6M131.6 296.9l-0.2 -3.4M202.8 305.4l2.3 -2.5M223.9 330.8l7.7 -3.9M138.9 464.6l0 4.6M165.4 461.2l1.9 7.3M230.7 374.3l4.3 -0.1M194.6 314.1l4.9 -6.6M188.8 278.3l1.9 -4.3M217 314.6l3.2 -2.3M40.2 407.8l-6.4 1.2M204.3 319.8l4.1 -3.1M187.4 482.2l2.2 7.9M229.7 391.4l3.5 1.1M204.2 337.7l3.5 -1.8M179.3 447.7l4.2 5.7M220.9 332l6.7 -2.8M256.7 402l4.2 1.3M245 403l6 0.9M216.7 436.9l2.2 2.3M206.3 314.2l2.7 -2.6M65.6 413.4l-3.8 1.6M133.8 294.5l-1.1 -5.9M46.6 379.7l-8.5 0.6M224.9 359.9l8.2 -1.1M179.5 457.9l2.5 3.8M62.6 373.2l-5.4 -0.4M233.6 383.7l7.1 0.8M42.8 346.7l-6.4 -3.1M116.8 264.6l-1.4 -5.2M235.1 361.2l5.2 -1.1M199.8 452.7l6.6 6.1M233.7 330.7l4.1 -1.9M145.5 471.9l0.7 4.1M164.2 266l0.7 -8.4M91.2 474.1l-3.2 6.1M230.2 361.2l3 -0.3M25.7 370.2l-6.4 -1.4M79.8 313.8l-5.3 -5.2M54.5 445.1l-5 3.7M92.9 474.2l-3 6.1M73.8 320.9l-3.1 -3.4M122.4 280.2l-1.1 -6M194.6 445.2l5.3 6.7M40.4 360.1l-7.8 -0.7M176.9 301.5l2.7 -5.1M229.3 307.4l5.7 -5.9M186.7 295.1l3.1 -7.3M139.2 461l0.1 3.6M28.4 362.4l-5.7 -0.1M235.4 375.7l7.2 -0.2M169.6 282.9l1.5 -7.4M67.8 457.4l-3.7 4.9M89.5 457l-2.2 4.8M62.4 340.6l-3.1 -1.1M123.2 485.4l-0.4 4.9M235.6 439.3l5.3 4.3M63.8 417.4l-7 3.4M230.7 403.2l5.5 1.3M109.4 482.1l-1.8 5.2M72.3 467.8l-3.3 4.2M182 486.9l2.6 8.4M92.3 296.2l-3 -3.9M59.6 453.6l-4.5 4.2M145.1 261.3l0.2 -3.1M44.4 400.7l-7.8 2.1M216.3 314.6l4.3 -3.6M185.5 287.8l3.6 -6M232.6 401.6l6.8 1.9M153.9 267.1l0.2 -3.7M172.7 305.1l1.1 -3.4M38.3 333.9l-3 -1.5M31.7 389.3l-3.3 0.2M56.7 329l-7.3 -5.2M210.3 468.8l3 4M215.2 372.1l4.6 -0.7M137.1 469l-0.4 8.1M51.8 425.8l-2.8 1.8M176.9 268.6l2 -7.9M221.4 405.2l6 1.8M41.8 384.3l-6.5 0.7M174.6 484.6l2.5 8.1M109.4 449.2l-2.3 5.8M94.1 469.6l-2.4 4M117.8 289.8l-1.7 -7.6M230 338.5l5.4 -1.7M68.4 409.2l-5.8 3.6M243.3 427.7l6.2 2.3M31.4 333.7l-7.2 -2.9M91.2 281.8l-2.5 -4M209.4 467.9l5.8 6.3M206.7 423l5.7 5.2M87.9 296.6l-2 -4.1M200.7 466.7l1.7 2.9M179.9 311.2l2.1 -4.3M96.6 471.6l-2.1 6M87.4 481.7l-2.9 7.5M251.5 363.5l5.2 -1.4M80 304.3l-2.7 -3.4M61.7 395.3l-7.2 1.8M221 448.4l6.6 4.5M257.1 374.7l8.6 -0.1M87.8 451.3l-4.3 6.1M237.9 442.3l4.5 3.8M39.1 351.1l-3.5 -0.5M210 321.8l5.9 -5.5M254.8 401.2l6.2 2.2M227.4 345.7l6.1 -3.2M52.1 406.3l-4.4 1.1M159.9 295.1l0.5 -4.8M224.6 435.5l4.9 4M38.9 402.5l-3.1 0.8M91.4 313.3l-2.2 -3.1M74.1 443.7l-4.4 5.4M218.7 347.2l4.8 -1.3M25.6 391.8l-3.8 0.9M225.6 455l4.4 4.1M60.1 393.9l-3.9 0.8M72.7 452l-2.7 3.2M200.1 439.2l2.7 3.5M217.4 314l2.6 -1.6M165.4 281.2l2 -6.1M140 290.1l-0.3 -3.9M79.8 425.2l-4.5 4.1M240 436.1l5.8 2.8M162.1 275.7l0.6 -7.2M68.4 326l-7.9 -4.2M102.4 279.3l-3.2 -7.2M30.4 404.3l-7.9 3.2M39.8 439.4l-4.2 3.4M131 289.8l-1.5 -6.9M199.1 449.3l2.9 3M231.3 363.6l9 -0.6M40.8 379.2l-7.6 -0.8M67.6 293.9l-2.6 -3.3M166 266.3l1 -3.4M188.8 456.9l4.2 7.7M213 460.2l4.4 6.6M136.3 261.1l0.5 -8M44.5 418.6l-7.5 2.5M105.1 487.3l-2.7 8.3M228.1 456l6 6.4M186.7 302.3l2 -3.9M148.2 475.4l-0.2 6" stroke="#256a34" stroke-opacity="0.3" stroke-width="0.7" fill="none"/><path d="M113.4 272.9l-0.8 -4.9M94.1 275.1l-2.5 -7.3M221.9 427.4l5 3.8M63.2 325.4l-5.6 -4.5M64.9 382.7l-3 0.6M41.5 432.7l-5.2 3M161 467.7l0.6 4.7M112.5 479l-0.7 3.4M38.6 416.2l-6.1 1.7M106.6 302.9l-1 -3M128.6 461.8l-0.7 7.8M207.1 321.9l5.1 -3.3M44.7 377.7l-7.8 0M184.4 488.5l3.3 6.3M241.2 377.7l3.8 0.5M175.7 286.2l1.4 -4M63.7 351.3l-6.9 -2.4M225.2 336.5l6.9 -2.9M83.6 321.8l-3.2 -4.1M90.3 297.9l-3.5 -5.1M95 287l-3.4 -6.7M232.8 363.5l3.3 -0.2M39.1 339.4l-4.7 -2.2M124.6 262.6l-1.8 -6.5M200 447.3l4.3 6.4M69.2 334.1l-5.4 -2.4M138.4 282.3l-0.5 -6.2M111.6 484.8l-1.3 5.6M69.2 281.6l-3.9 -5.9M232.1 355.7l6.4 -1.1M187.2 453.9l2.6 5.3M75.6 469.4l-2.1 3M200.5 475.8l4.1 5.3M226.3 407.7l4.3 1.3M255.4 349.5l3.8 -1.1M178.3 489l1.6 4.3M134.8 458.4l-0.1 5M127.5 495.5l-0.9 3.9M190.9 293.9l3.6 -5M192.9 452.3l4 5.5M90.9 287.4l-3.6 -5.7M221.5 331l4.7 -3.1M133.5 482.9l0.5 6.8M36.3 331.5l-4.1 -2.5M143.7 466.6l0.1 3.3M91.7 278l-1.8 -4.7M111.5 453.6l-3 5.5M102.3 278.7l-2.7 -6.3M134.4 259.8l-0.4 -4.7M73.9 468.8l-2.6 2.9M39.5 364l-6.1 -1.6M96.4 447.5l-1.7 2.9M199.9 297.2l3.9 -5M54.3 334.7l-3.7 -2.3M199.1 282.3l2.1 -3.1M29.4 377.1l-7.4 -0.9M187.5 278.1l3.3 -5.3M116.6 298.6l-1.6 -6.3M221.8 414.3l5.2 3M160.6 464.7l1.4 3.9M246.2 360.6l6.9 -1.4M237.5 425l6.6 2.8M88.3 322.9l-2.7 -2.5M66.1 403.7l-5.6 1.4M176.1 309.2l1.4 -3.3M83.4 466.6l-2.6 3.9M163.4 293.9l1.5 -3.8M30.3 351.5l-3 -1M63.4 375.3l-5.1 0.5M123.2 273.2l-1.1 -5.8M54.6 324.3l-3.2 -2.6M180 264.5l2.2 -7.5M247.7 429.3l5.1 1.8M99.8 288.1l-2.8 -5.9M174.2 463.8l2.1 4.5M132.5 292.2l-0.6 -5.5M115.4 295.3l-1.4 -3.7M109 279.6l-1.8 -7.7M243.5 320.6l6 -2.8M161.6 453.1l0.5 3M65.2 297.7l-3.1 -3M83.3 315.4l-5.7 -5.6M175.1 446.6l1.6 4.5M31.8 408.9l-3.2 1.4M154.3 295.2l1.7 -5.1M172.4 265.4l2 -5M203.7 429.4l4.5 3.7M138.9 463.9l-0.4 3.1M242.5 340.8l7.4 -2.8M58 450.5l-5.7 4.1M222.2 384.2l4 0.4M234.4 382.9l7.1 1M234.8 403.9l7.2 2.1M104.8 448.3l-3.3 5.1M76.4 301.1l-2.8 -2.9M53.8 455.8l-2.7 2.3M165.4 455.5l1.5 5.1M111.7 275.5l-2 -4.8M243.3 413.8l5.1 1.6M115.7 272.9l-0.8 -4.1M33.5 396.6l-3.7 0.2M236.3 417.6l3.6 2.2M71.9 432.2l-5.8 3.8M134.4 271.9l-0.6 -3.1M178.7 264.9l0.6 -3.1M219.7 340.4l3.8 -1.5M64.4 287.7l-5.3 -5.4M222.9 387l6.8 0M110.4 262.2l-0.6 -3.9M56.3 371.1l-3.5 -0.6M240.3 319.4l2.7 -1.2M184.4 285.1l2.6 -4.9M171.9 278.4l0.6 -3.3M114 476.2l-0.5 5M249 394.1l6.9 1.7M210.7 445.7l4.9 3.9M214.5 439.5l6 5.1M217.5 429.5l5.1 4.3M231.9 445.5l4.1 2.6M206.5 466.4l2.9 5.3M251.1 382.4l3.4 -0.2M52 314.6l-4.6 -3.2M66.5 315.9l-4.2 -4.6M171.7 272.4l2.9 -7M247.1 398.4l6.1 1.9M209.9 310.3l3.1 -2.3M113.7 283.6l-1.4 -4M98 460.7l-1.5 3.1M72.3 279.2l-3.8 -6.6M253.8 373.4l6.7 -0.7M64.6 423.7l-2.5 1.8M241.8 322.3l4.2 -1.9M225.8 306.3l5.4 -4.4M176.9 305.5l2.2 -4M48.5 355.7l-7.8 -1M80.4 295.5l-2.7 -5M222.2 328l5.9 -2.5M158.8 455.3l0.5 4.4M135.2 453.1l-1.4 6.4M61.7 409.7l-6.1 2.1M142.2 267.2l-0.2 -4.2M112.3 306.1l-1.7 -3.7M66.3 284.5l-3.5 -4.8M104.6 279.4l-2.1 -4M218.5 384.7l4.8 -0.1M58.7 380.7l-7.8 -0.1M150.9 288.6l0 -3.9M63.5 426.8l-5.4 3.6M230.7 439l6.5 4M251.6 399.3l7.1 0.8M177.4 269.2l1.7 -6.1M167.8 447.8l3.5 6.7M48.7 322l-5.7 -2.7M208 425l6.6 4.3M43.5 332.4l-3.9 -1.2M185.6 316.8l2.6 -2.6M123.9 285l-0.3 -3.7M81 443.4l-3.2 4.6M165.2 292.8l1.1 -4.3M158.1 487.1l1 3.8M77.1 448.5l-4.1 4.7M249.4 413.5l5.8 2.6M226.2 393.6l5.2 0.4M116.5 282.1l-1.2 -3.3M185.7 465.5l2 3.7M214.3 411.3l4.4 1.9M29.2 337.8l-3.2 -0.9M38.2 335.1l-6.3 -3.7M228.3 450.6l5.9 5M182 454.7l4 6.1M132.3 456.8l-0.6 7.6M238 427l4.8 2.1M95.2 303.9l-3 -3.8M21.4 391.3l-3.8 1M33.9 367.7l-3.1 -0.3M32.9 352l-4.1 -1M79.1 292.5l-1.9 -3.2M132.9 259.7l-0.7 -7.3M188.4 483.3l1.6 3.8M241.3 434.8l3.8 1.5M201.8 452.7l2.3 3.2M236.2 339l4.7 -1.6M211.8 353.4l3.9 -1.4M235.3 345.4l5.4 -1M162.1 480.4l2.1 6.8M24.5 409.8l-4.1 0.6M63.3 428.2l-4.1 2.4M86.4 431.8l-2.9 2.4M81.5 330.6l-3.4 -2.6M115.5 277.7l-1.2 -3.5M219.2 357.3l3.5 -1.3M51.9 328l-6.9 -2.7M183.4 453.6l3 5.1M213.3 315.6l5.2 -3.5M125.9 495.1l-0.7 7.7M207 337.7l2.7 -2.2M118.1 465.2l-2.7 7.3M45.1 359.8l-7 -2M33.8 368.9l-3.6 0M48.5 322.4l-5.5 -4.3M181.8 488.5l0.8 3.3M183 471.2l3.1 5.7M81.4 442.9l-4 4M135.7 298.4l-0.4 -6.1M172.9 275.3l0.9 -2.9M112.7 273.4l-2.2 -5.9M166.3 262l0.8 -4.1M171.5 491.7l0.7 5M152.8 493.1l1 6.6M151.3 271.1l0.1 -3.6M131.3 463.7l0 3.2M55.8 423.3l-3 1.5M35.6 322.7l-4.1 -2.5M183.9 464.3l3.1 4.4M197.1 468.6l2 4.4M196.9 282l3.4 -5.2M246.3 354.7l3.9 -0.5M136.7 468.4l-0.5 7.1M220.9 296.7l3.8 -4.6M65.9 361l-6.6 -1M219 379.9l3.9 0.3M149.4 452.1l0.3 4.3M258.7 392l3.5 0.9M210.7 473.1l2.8 3.8M60.3 423.1l-4.5 3M207.5 416.8l3.5 1.5M105.3 278l-1.1 -4.2M80.3 469.4l-2.5 4.8M31 334l-3.1 -0.9M58.7 448.9l-4.6 4.7M176.1 271.1l1.2 -3.3M117.6 295l-1.2 -6.9M212.9 425.9l5.2 3.6M169.1 454.9l2.7 5.3M146 483.1l0.3 4.3M123.8 277.3l-0.3 -3.1M117.9 461.6l-1.9 5.9M225.6 316.8l3.1 -2.5M132.8 484.2l0.1 3.8M191.8 278.9l3.8 -5.4M98.9 481.9l-2 4.1M79.5 328l-2.9 -1.8M198.5 459.4l3.7 6.7M171.7 470.6l1.2 3.4M74.2 454.2l-4.3 5M227.6 446.5l2.7 2M138.4 476.8l0.4 6.3M49.2 390.8l-6.5 0.4M50.9 408.4l-7.5 1.5M223.1 441.9l4 3.4M227.4 398.4l7.4 2.8M59.7 395l-5.9 1.7M140.3 298.6l-0.1 -6.9M77.3 426.9l-3 1.7M121.6 453.2l-0.9 6.8M213.1 412.3l3.4 1.7M195.3 476.9l1.6 3.5M89.2 459.8l-1.7 3.2M228.2 457.3l3 3.1M235.6 311.9l4.8 -2.4M114.8 478.9l-1.6 5.1M215.4 457.4l2.3 3.2M171.4 302.8l1.5 -4.5M53 394.5l-7.6 2.3M90.4 480.8l-1.9 3.4M175.5 463.3l1.5 4.9M37.6 325.4l-2.6 -1.6M224.4 315.7l6 -4.9M188 273.7l1.7 -4M83.1 452.9l-2.5 4.2M213.6 330.5l4.4 -2.5M144.1 261.8l0.7 -4.2M252.4 370.9l6.6 0.1M137.7 490.4l0.1 6.3M216.1 462.3l4 4M76.2 471.1l-4.7 5.5M214.1 466.1l4.5 6.2M78.1 289.5l-1.6 -2.8M41.8 405.6l-4.6 0.9M216.4 296l2.6 -3.1M211.4 429.6l4.1 2.2M156.1 488.7l0.9 3.2M175.1 481.9l1.8 5M247.9 345.5l4.4 -1.1M25.9 398.9l-7.4 0.9M204.2 312.4l3.6 -4.6M189.6 286.3l2.6 -4.9M210.4 311.8l4.2 -4.7M78.7 448.6l-5.4 5.6M210.4 335.5l2.8 -1.6M120.3 282.5l-1.7 -4.9M183.3 286.1l2.7 -6.4M137.2 290.5l-0.8 -7M255.5 372l5.1 -0.4M238.4 331l3.5 -1.9M129.7 285.8l-0.4 -3.9M90.9 290.3l-1.4 -3.5M28.7 332.6l-6.7 -2M29.4 340.5l-6.2 -2.9M223.3 334.4l3.3 -2.3M220.5 317.9l6.6 -3.6M231.7 336.2l5 -2.9M174.8 277.7l1.8 -4.8M125.5 465.2l-0.9 5M222.5 431.6l2.6 1.5M138.9 268.3l-0.3 -4.2M185.5 467.4l2 5.7M66.1 333.5l-5.4 -3.8M113.3 271.9l-0.6 -4.3M250.9 415.5l7.3 2.4M212.4 411.4l6.2 3.3M59.7 398.1l-6.2 0.6M149.6 285.4l0.1 -4.2M69.1 422.4l-4.9 3.6M156.5 459.8l1 3.3M48.4 374.9l-3.9 -0.1M236 361l5.4 -0.2M171.7 471.1l2.5 5.4M215.5 415l5.4 3.7M81.8 453.5l-2.9 4.2M55.9 445.4l-3.2 2M243.1 381.7l7.2 0.8M76 309.4l-5.4 -5.4M111 470.1l-2 5.4M244.4 343.1l3.5 -1.3M169.2 266.8l1.8 -5.7M227.3 346l5.3 -2.1M203.6 433.9l5.1 5.5M106 446.1l-2.4 4.8M214.2 320l3.8 -2.9M64.7 287.4l-3.7 -4M66.5 317.3l-5.7 -4M68.3 438.6l-4 2.6M123.6 477.9l-1.2 4.5M109.1 299.5l-1.4 -2.8M166.8 303.8l1 -3.6M133.2 455.5l-1 6.6M250.3 339.3l5.6 -1.2M211.4 341.2l4.4 -2.8M209.6 291.8l2.6 -4.2M142.6 262.3l1 -5.9M212.5 404.1l3.5 0.7M65.6 298.1l-2.7 -2.3M74.3 323.7l-4.3 -4.7M232.9 365.2l5.1 -0.8M149.6 465.6l-0.3 7.9M189.3 474.4l2.1 3.3M132.5 284.5l-0.2 -3.3M245.3 400l5 1.5M41.4 408.4l-7.1 2" stroke="#c0f4c8" stroke-opacity="0.3" stroke-width="0.7" fill="none"/><path d="M133 300L129 270M135.3 300L132.7 264.5M137.7 300L136.3 264.8M140 300L140 271.7M142.3 300L143.7 269.6M144.7 300L147.3 273M147 300L151 265.9" stroke="#1e5a2a" stroke-opacity="0.7" stroke-width="1" fill="none"/><path d="M134.2 300L130.8 269.4M136.5 300L134.5 265.3M138.8 300L138.2 268M141.2 300L141.8 271.4M143.5 300L145.5 266.8M145.8 300L149.2 265.8" stroke="#d8ffe0" stroke-opacity="0.48999999999999994" stroke-width="0.9" fill="none"/><path d="M133 455L129 486.6M135.3 455L132.7 489.2M137.7 455L136.3 488M140 455L140 488.6M142.3 455L143.7 490.6M144.7 455L147.3 490.4M147 455L151 484.8" stroke="#1e5a2a" stroke-opacity="0.7" stroke-width="1" fill="none"/><path d="M134.2 455L130.8 482.1M136.5 455L134.5 485.7M138.8 455L138.2 487.1M141.2 455L141.8 485.7M143.5 455L145.5 490.6M145.8 455L149.2 487.5" stroke="#d8ffe0" stroke-opacity="0.48999999999999994" stroke-width="0.9" fill="none"/><path d="M62.5 370.5L32.1 366.5M62.5 372.8L27.4 370.2M62.5 375.2L28.4 373.8M62.5 377.5L26.6 377.5M62.5 379.8L32.6 381.2M62.5 382.2L33.1 384.8M62.5 384.5L34.1 388.5" stroke="#1e5a2a" stroke-opacity="0.7" stroke-width="1" fill="none"/><path d="M62.5 371.7L33.1 368.3M62.5 374L28.4 372M62.5 376.3L28.1 375.7M62.5 378.7L29.3 379.3M62.5 381L28.7 383M62.5 383.3L30 386.7" stroke="#d8ffe0" stroke-opacity="0.48999999999999994" stroke-width="0.9" fill="none"/><path d="M217.5 370.5L252.2 366.5M217.5 372.8L247 370.2M217.5 375.2L245.2 373.8M217.5 377.5L251.3 377.5M217.5 379.8L251.3 381.2M217.5 382.2L252.7 384.8M217.5 384.5L248.3 388.5" stroke="#1e5a2a" stroke-opacity="0.7" stroke-width="1" fill="none"/><path d="M217.5 371.7L248.9 368.3M217.5 374L252.8 372M217.5 376.3L252.9 375.7M217.5 378.7L245.8 379.3M217.5 381L249.7 383M217.5 383.3L249.8 386.7" stroke="#d8ffe0" stroke-opacity="0.48999999999999994" stroke-width="0.9" fill="none"/><path d="M153.1 342.6h21.8v21.8h-21.8ZM153.1 390.6h21.8v21.8h-21.8ZM105.1 342.6h21.8v21.8h-21.8ZM105.1 390.6h21.8v21.8h-21.8ZM150.1 321.8h21.8v21.8h-21.8ZM150.1 411.4h21.8v21.8h-21.8ZM108.1 321.8h21.8v21.8h-21.8ZM108.1 411.4h21.8v21.8h-21.8ZM173.9 345.6h21.8v21.8h-21.8ZM173.9 387.6h21.8v21.8h-21.8ZM84.3 345.6h21.8v21.8h-21.8ZM84.3 387.6h21.8v21.8h-21.8ZM150.1 301.8h21.8v21.8h-21.8ZM150.1 431.4h21.8v21.8h-21.8ZM108.1 301.8h21.8v21.8h-21.8ZM108.1 431.4h21.8v21.8h-21.8ZM193.9 345.1h21.8v21.8h-21.8ZM193.9 388.1h21.8v21.8h-21.8ZM64.3 345.1h21.8v21.8h-21.8ZM64.3 388.1h21.8v21.8h-21.8ZM172.6 323h21.8v21.8h-21.8ZM172.6 410.2h21.8v21.8h-21.8ZM85.6 323h21.8v21.8h-21.8ZM85.6 410.2h21.8v21.8h-21.8ZM172.1 302.6h21.8v21.8h-21.8ZM172.1 430.6h21.8v21.8h-21.8ZM86.1 302.6h21.8v21.8h-21.8ZM86.1 430.6h21.8v21.8h-21.8ZM193.3 323h21.8v21.8h-21.8ZM193.3 410.2h21.8v21.8h-21.8ZM64.9 323h21.8v21.8h-21.8ZM64.9 410.2h21.8v21.8h-21.8ZM193.1 303.6h21.8v21.8h-21.8ZM193.1 429.6h21.8v21.8h-21.8ZM65.1 303.6h21.8v21.8h-21.8ZM65.1 429.6h21.8v21.8h-21.8ZM160.6 366.6h21.8v21.8h-21.8ZM97.6 366.6h21.8v21.8h-21.8ZM129.1 335.1h21.8v21.8h-21.8ZM129.1 398.1h21.8v21.8h-21.8ZM179.1 366.6h21.8v21.8h-21.8ZM79.1 366.6h21.8v21.8h-21.8ZM129.1 316.6h21.8v21.8h-21.8ZM129.1 416.6h21.8v21.8h-21.8ZM197.6 366.6h21.8v21.8h-21.8ZM60.6 366.6h21.8v21.8h-21.8ZM129.1 298.1h21.8v21.8h-21.8ZM129.1 435.1h21.8v21.8h-21.8Z" fill="#9cdea2"/><circle cx="140" cy="377.5" r="31" fill="#fcfcff"/><path d="M147 377.7l1.5 0.1M152.4 377.9l1.5 0.1M157.8 378.1l1.5 0.1M163.2 378.3l1.5 0.1M168.6 378.5l1.5 0.1M149.3 380.2l1.4 0.4M154.5 381.7l1.4 0.4M159.7 383.2l1.4 0.4M164.9 384.7l1.4 0.4M145.6 381.7l1.2 0.9M149.9 385l1.2 0.9M154.2 388.3l1.2 0.9M158.5 391.5l1.2 0.9M162.8 394.8l1.2 0.9M145.9 385.2l0.9 1.2M149.3 389.4l0.9 1.2M152.6 393.7l0.9 1.2M155.9 398l0.9 1.2M142.3 384.1l0.5 1.4M144 389.2l0.5 1.4M145.8 394.3l0.5 1.4M147.6 399.4l0.5 1.4M149.3 404.5l0.5 1.4M140.3 387.2l0 1.5M140.5 392.6l0 1.5M140.6 398l0 1.5M140.8 403.4l0 1.5M137.6 384.1l-0.5 1.4M135.8 389.2l-0.5 1.4M134 394.3l-0.5 1.4M132.2 399.3l-0.5 1.4M130.4 404.4l-0.5 1.4M134.3 385.4l-0.9 1.2M131.2 389.8l-0.9 1.2M128 394.1l-0.9 1.2M124.9 398.5l-0.9 1.2M134.3 381.5l-1.2 0.9M129.8 384.6l-1.2 0.9M125.4 387.7l-1.2 0.9M121 390.8l-1.2 0.9M116.6 393.9l-1.2 0.9M130.8 380.7l-1.4 0.5M125.7 382.4l-1.4 0.5M120.6 384.2l-1.4 0.5M115.5 386l-1.4 0.5M133 377.4l-1.5 0M127.6 377.3l-1.5 0M122.2 377.2l-1.5 0M116.8 377.1l-1.5 0M111.4 377l-1.5 0M130.8 374.4l-1.4 -0.5M125.7 372.7l-1.4 -0.5M120.6 370.9l-1.4 -0.5M115.5 369.2l-1.4 -0.5M134.2 373.6l-1.2 -0.8M129.7 370.5l-1.2 -0.8M125.3 367.5l-1.2 -0.8M120.8 364.5l-1.2 -0.8M116.3 361.4l-1.2 -0.8M134.3 369.7l-0.9 -1.2M131.1 365.3l-0.9 -1.2M127.9 360.9l-0.9 -1.2M124.8 356.6l-0.9 -1.2M138 370.8l-0.4 -1.4M136.4 365.6l-0.4 -1.4M134.8 360.5l-0.4 -1.4M133.2 355.3l-0.4 -1.4M131.6 350.1l-0.4 -1.4M139.8 367.8l0 -1.5M139.7 362.4l0 -1.5M139.5 357l0 -1.5M139.4 351.6l0 -1.5M142.2 370.9l0.5 -1.4M144 365.8l0.5 -1.4M145.7 360.6l0.5 -1.4M147.4 355.5l0.5 -1.4M149.2 350.4l0.5 -1.4M145.6 369.6l0.9 -1.2M148.7 365.1l0.9 -1.2M151.8 360.7l0.9 -1.2M154.8 356.3l0.9 -1.2M145.6 373.3l1.2 -0.9M150 370.1l1.2 -0.9M154.3 366.9l1.2 -0.9M158.6 363.7l1.2 -0.9M163 360.5l1.2 -0.9M149.3 374.8l1.4 -0.4M154.5 373.3l1.4 -0.4M159.7 371.8l1.4 -0.4M164.9 370.3l1.4 -0.4" stroke="#5056bc" stroke-width="1.2" fill="none"/><g><rect x="154.7" y="344.2" width="18.6" height="18.6" fill="#b4525c"/><path d="M158.4 344.2v18.6M154.7 347.9h18.6M162.1 344.2v18.6M154.7 351.6h18.6M165.9 344.2v18.6M154.7 355.4h18.6M169.6 344.2v18.6M154.7 359.1h18.6" stroke="#fff" stroke-opacity="0.36" stroke-width="0.85"/><path d="M170.5 360.8l4 -2.6M168.5 357.3l4.4 -3.4M162.6 360.1l2.6 -2.1M167.6 348.3l2.5 -1.9M171.1 354.1l3.1 -1.3M166 351.7l2.8 -4.7M157.2 353.2l1.1 -5.4" stroke="#6a1420" stroke-opacity="0.6" stroke-width="0.9"/></g><g><rect x="154.7" y="392.2" width="18.6" height="18.6" fill="#b4525c"/><path d="M158.4 392.2v18.6M154.7 395.9h18.6M162.1 392.2v18.6M154.7 399.6h18.6M165.9 392.2v18.6M154.7 403.4h18.6M169.6 392.2v18.6M154.7 407.1h18.6" stroke="#fff" stroke-opacity="0.36" stroke-width="0.85"/><path d="M169.7 394.7l3.9 2.1M167.2 404.8l4.7 3.4M159.4 396.2l1.6 3M159.4 401.5l2.6 2.3M170.3 401.1l2.2 3M170 397.4l2.6 4.1M170.9 405.5l3 3.5" stroke="#6a1420" stroke-opacity="0.6" stroke-width="0.9"/></g><g><rect x="106.7" y="344.2" width="18.6" height="18.6" fill="#b4525c"/><path d="M110.4 344.2v18.6M106.7 347.9h18.6M114.1 344.2v18.6M106.7 351.6h18.6M117.9 344.2v18.6M106.7 355.4h18.6M121.6 344.2v18.6M106.7 359.1h18.6" stroke="#fff" stroke-opacity="0.36" stroke-width="0.85"/><path d="M121.2 352.7l-5 -2.9M120.5 356.2l-1.8 -3.2M115.5 358.2l-2.5 -5.2M111 356.2l-3.3 -2.7M111.1 348.2l-3.2 -3.1M112.6 351.6l-3.6 -3.8M117.3 348.6l-1.1 -3.9" stroke="#6a1420" stroke-opacity="0.6" stroke-width="0.9"/></g><g><rect x="106.7" y="392.2" width="18.6" height="18.6" fill="#b4525c"/><path d="M110.4 392.2v18.6M106.7 395.9h18.6M114.1 392.2v18.6M106.7 399.6h18.6M117.9 392.2v18.6M106.7 403.4h18.6M121.6 392.2v18.6M106.7 407.1h18.6" stroke="#fff" stroke-opacity="0.36" stroke-width="0.85"/><path d="M122.7 408.5l-0.7 4.7M122.8 399.8l-2.5 3M109.1 397.2l-2.3 3.1M117.9 402.4l-4.7 2M114 408.1l-3.4 3.1M121.3 404l-2.2 4.3M113.1 408.4l-2.6 5.3" stroke="#6a1420" stroke-opacity="0.6" stroke-width="0.9"/></g><g><rect x="151.7" y="323.4" width="18.6" height="18.6" fill="#e4747c"/><path d="M155.4 323.4v18.6M151.7 327.1h18.6M159.1 323.4v18.6M151.7 330.8h18.6M162.9 323.4v18.6M151.7 334.6h18.6M166.6 323.4v18.6M151.7 338.3h18.6" stroke="#fff" stroke-opacity="0.36" stroke-width="0.85"/></g><g><rect x="151.7" y="413" width="18.6" height="18.6" fill="#e4747c"/><path d="M155.4 413v18.6M151.7 416.7h18.6M159.1 413v18.6M151.7 420.4h18.6M162.9 413v18.6M151.7 424.2h18.6M166.6 413v18.6M151.7 427.9h18.6" stroke="#fff" stroke-opacity="0.36" stroke-width="0.85"/></g><g><rect x="109.7" y="323.4" width="18.6" height="18.6" fill="#e4747c"/><path d="M113.4 323.4v18.6M109.7 327.1h18.6M117.1 323.4v18.6M109.7 330.8h18.6M120.9 323.4v18.6M109.7 334.6h18.6M124.6 323.4v18.6M109.7 338.3h18.6" stroke="#fff" stroke-opacity="0.36" stroke-width="0.85"/></g><g><rect x="109.7" y="413" width="18.6" height="18.6" fill="#e4747c"/><path d="M113.4 413v18.6M109.7 416.7h18.6M117.1 413v18.6M109.7 420.4h18.6M120.9 413v18.6M109.7 424.2h18.6M124.6 413v18.6M109.7 427.9h18.6" stroke="#fff" stroke-opacity="0.36" stroke-width="0.85"/></g><g><rect x="175.5" y="347.2" width="18.6" height="18.6" fill="#e4747c"/><path d="M179.2 347.2v18.6M175.5 350.9h18.6M182.9 347.2v18.6M175.5 354.6h18.6M186.7 347.2v18.6M175.5 358.4h18.6M190.4 347.2v18.6M175.5 362.1h18.6" stroke="#fff" stroke-opacity="0.36" stroke-width="0.85"/></g><g><rect x="175.5" y="389.2" width="18.6" height="18.6" fill="#e4747c"/><path d="M179.2 389.2v18.6M175.5 392.9h18.6M182.9 389.2v18.6M175.5 396.6h18.6M186.7 389.2v18.6M175.5 400.4h18.6M190.4 389.2v18.6M175.5 404.1h18.6" stroke="#fff" stroke-opacity="0.36" stroke-width="0.85"/></g><g><rect x="85.9" y="347.2" width="18.6" height="18.6" fill="#e4747c"/><path d="M89.6 347.2v18.6M85.9 350.9h18.6M93.3 347.2v18.6M85.9 354.6h18.6M97.1 347.2v18.6M85.9 358.4h18.6M100.8 347.2v18.6M85.9 362.1h18.6" stroke="#fff" stroke-opacity="0.36" stroke-width="0.85"/></g><g><rect x="85.9" y="389.2" width="18.6" height="18.6" fill="#e4747c"/><path d="M89.6 389.2v18.6M85.9 392.9h18.6M93.3 389.2v18.6M85.9 396.6h18.6M97.1 389.2v18.6M85.9 400.4h18.6M100.8 389.2v18.6M85.9 404.1h18.6" stroke="#fff" stroke-opacity="0.36" stroke-width="0.85"/></g><g><rect x="151.7" y="303.4" width="18.6" height="18.6" fill="#e4747c"/><path d="M155.4 303.4v18.6M151.7 307.1h18.6M159.1 303.4v18.6M151.7 310.8h18.6M162.9 303.4v18.6M151.7 314.6h18.6M166.6 303.4v18.6M151.7 318.3h18.6" stroke="#fff" stroke-opacity="0.36" stroke-width="0.85"/></g><g><rect x="151.7" y="433" width="18.6" height="18.6" fill="#e4747c"/><path d="M155.4 433v18.6M151.7 436.7h18.6M159.1 433v18.6M151.7 440.4h18.6M162.9 433v18.6M151.7 444.2h18.6M166.6 433v18.6M151.7 447.9h18.6" stroke="#fff" stroke-opacity="0.36" stroke-width="0.85"/></g><g><rect x="109.7" y="303.4" width="18.6" height="18.6" fill="#e4747c"/><path d="M113.4 303.4v18.6M109.7 307.1h18.6M117.1 303.4v18.6M109.7 310.8h18.6M120.9 303.4v18.6M109.7 314.6h18.6M124.6 303.4v18.6M109.7 318.3h18.6" stroke="#fff" stroke-opacity="0.36" stroke-width="0.85"/></g><g><rect x="109.7" y="433" width="18.6" height="18.6" fill="#e4747c"/><path d="M113.4 433v18.6M109.7 436.7h18.6M117.1 433v18.6M109.7 440.4h18.6M120.9 433v18.6M109.7 444.2h18.6M124.6 433v18.6M109.7 447.9h18.6" stroke="#fff" stroke-opacity="0.36" stroke-width="0.85"/></g><g><rect x="195.5" y="346.7" width="18.6" height="18.6" fill="#e4747c"/><path d="M199.2 346.7v18.6M195.5 350.4h18.6M202.9 346.7v18.6M195.5 354.1h18.6M206.7 346.7v18.6M195.5 357.9h18.6M210.4 346.7v18.6M195.5 361.6h18.6" stroke="#fff" stroke-opacity="0.36" stroke-width="0.85"/></g><g><rect x="195.5" y="389.7" width="18.6" height="18.6" fill="#e4747c"/><path d="M199.2 389.7v18.6M195.5 393.4h18.6M202.9 389.7v18.6M195.5 397.1h18.6M206.7 389.7v18.6M195.5 400.9h18.6M210.4 389.7v18.6M195.5 404.6h18.6" stroke="#fff" stroke-opacity="0.36" stroke-width="0.85"/></g><g><rect x="65.9" y="346.7" width="18.6" height="18.6" fill="#e4747c"/><path d="M69.6 346.7v18.6M65.9 350.4h18.6M73.3 346.7v18.6M65.9 354.1h18.6M77.1 346.7v18.6M65.9 357.9h18.6M80.8 346.7v18.6M65.9 361.6h18.6" stroke="#fff" stroke-opacity="0.36" stroke-width="0.85"/></g><g><rect x="65.9" y="389.7" width="18.6" height="18.6" fill="#e4747c"/><path d="M69.6 389.7v18.6M65.9 393.4h18.6M73.3 389.7v18.6M65.9 397.1h18.6M77.1 389.7v18.6M65.9 400.9h18.6M80.8 389.7v18.6M65.9 404.6h18.6" stroke="#fff" stroke-opacity="0.36" stroke-width="0.85"/></g><g><rect x="174.2" y="324.6" width="18.6" height="18.6" fill="#e4747c"/><path d="M177.9 324.6v18.6M174.2 328.3h18.6M181.6 324.6v18.6M174.2 332h18.6M185.4 324.6v18.6M174.2 335.8h18.6M189.1 324.6v18.6M174.2 339.5h18.6" stroke="#fff" stroke-opacity="0.36" stroke-width="0.85"/></g><g><rect x="174.2" y="411.8" width="18.6" height="18.6" fill="#e4747c"/><path d="M177.9 411.8v18.6M174.2 415.5h18.6M181.6 411.8v18.6M174.2 419.2h18.6M185.4 411.8v18.6M174.2 423h18.6M189.1 411.8v18.6M174.2 426.7h18.6" stroke="#fff" stroke-opacity="0.36" stroke-width="0.85"/></g><g><rect x="87.2" y="324.6" width="18.6" height="18.6" fill="#e4747c"/><path d="M90.9 324.6v18.6M87.2 328.3h18.6M94.6 324.6v18.6M87.2 332h18.6M98.4 324.6v18.6M87.2 335.8h18.6M102.1 324.6v18.6M87.2 339.5h18.6" stroke="#fff" stroke-opacity="0.36" stroke-width="0.85"/></g><g><rect x="87.2" y="411.8" width="18.6" height="18.6" fill="#e4747c"/><path d="M90.9 411.8v18.6M87.2 415.5h18.6M94.6 411.8v18.6M87.2 419.2h18.6M98.4 411.8v18.6M87.2 423h18.6M102.1 411.8v18.6M87.2 426.7h18.6" stroke="#fff" stroke-opacity="0.36" stroke-width="0.85"/></g><g><rect x="173.7" y="304.2" width="18.6" height="18.6" fill="#e4747c"/><path d="M177.4 304.2v18.6M173.7 307.9h18.6M181.1 304.2v18.6M173.7 311.6h18.6M184.9 304.2v18.6M173.7 315.4h18.6M188.6 304.2v18.6M173.7 319.1h18.6" stroke="#fff" stroke-opacity="0.36" stroke-width="0.85"/></g><g><rect x="173.7" y="432.2" width="18.6" height="18.6" fill="#e4747c"/><path d="M177.4 432.2v18.6M173.7 435.9h18.6M181.1 432.2v18.6M173.7 439.6h18.6M184.9 432.2v18.6M173.7 443.4h18.6M188.6 432.2v18.6M173.7 447.1h18.6" stroke="#fff" stroke-opacity="0.36" stroke-width="0.85"/></g><g><rect x="87.7" y="304.2" width="18.6" height="18.6" fill="#e4747c"/><path d="M91.4 304.2v18.6M87.7 307.9h18.6M95.1 304.2v18.6M87.7 311.6h18.6M98.9 304.2v18.6M87.7 315.4h18.6M102.6 304.2v18.6M87.7 319.1h18.6" stroke="#fff" stroke-opacity="0.36" stroke-width="0.85"/></g><g><rect x="87.7" y="432.2" width="18.6" height="18.6" fill="#e4747c"/><path d="M91.4 432.2v18.6M87.7 435.9h18.6M95.1 432.2v18.6M87.7 439.6h18.6M98.9 432.2v18.6M87.7 443.4h18.6M102.6 432.2v18.6M87.7 447.1h18.6" stroke="#fff" stroke-opacity="0.36" stroke-width="0.85"/></g><g><rect x="194.9" y="324.6" width="18.6" height="18.6" fill="#e4747c"/><path d="M198.6 324.6v18.6M194.9 328.3h18.6M202.3 324.6v18.6M194.9 332h18.6M206.1 324.6v18.6M194.9 335.8h18.6M209.8 324.6v18.6M194.9 339.5h18.6" stroke="#fff" stroke-opacity="0.36" stroke-width="0.85"/></g><g><rect x="194.9" y="411.8" width="18.6" height="18.6" fill="#e4747c"/><path d="M198.6 411.8v18.6M194.9 415.5h18.6M202.3 411.8v18.6M194.9 419.2h18.6M206.1 411.8v18.6M194.9 423h18.6M209.8 411.8v18.6M194.9 426.7h18.6" stroke="#fff" stroke-opacity="0.36" stroke-width="0.85"/></g><g><rect x="66.5" y="324.6" width="18.6" height="18.6" fill="#e4747c"/><path d="M70.2 324.6v18.6M66.5 328.3h18.6M73.9 324.6v18.6M66.5 332h18.6M77.7 324.6v18.6M66.5 335.8h18.6M81.4 324.6v18.6M66.5 339.5h18.6" stroke="#fff" stroke-opacity="0.36" stroke-width="0.85"/></g><g><rect x="66.5" y="411.8" width="18.6" height="18.6" fill="#e4747c"/><path d="M70.2 411.8v18.6M66.5 415.5h18.6M73.9 411.8v18.6M66.5 419.2h18.6M77.7 411.8v18.6M66.5 423h18.6M81.4 411.8v18.6M66.5 426.7h18.6" stroke="#fff" stroke-opacity="0.36" stroke-width="0.85"/></g><g><rect x="194.7" y="305.2" width="18.6" height="18.6" fill="#e4747c"/><path d="M198.4 305.2v18.6M194.7 308.9h18.6M202.1 305.2v18.6M194.7 312.6h18.6M205.9 305.2v18.6M194.7 316.4h18.6M209.6 305.2v18.6M194.7 320.1h18.6" stroke="#fff" stroke-opacity="0.36" stroke-width="0.85"/></g><g><rect x="194.7" y="431.2" width="18.6" height="18.6" fill="#e4747c"/><path d="M198.4 431.2v18.6M194.7 434.9h18.6M202.1 431.2v18.6M194.7 438.6h18.6M205.9 431.2v18.6M194.7 442.4h18.6M209.6 431.2v18.6M194.7 446.1h18.6" stroke="#fff" stroke-opacity="0.36" stroke-width="0.85"/></g><g><rect x="66.7" y="305.2" width="18.6" height="18.6" fill="#e4747c"/><path d="M70.4 305.2v18.6M66.7 308.9h18.6M74.1 305.2v18.6M66.7 312.6h18.6M77.9 305.2v18.6M66.7 316.4h18.6M81.6 305.2v18.6M66.7 320.1h18.6" stroke="#fff" stroke-opacity="0.36" stroke-width="0.85"/></g><g><rect x="66.7" y="431.2" width="18.6" height="18.6" fill="#e4747c"/><path d="M70.4 431.2v18.6M66.7 434.9h18.6M74.1 431.2v18.6M66.7 438.6h18.6M77.9 431.2v18.6M66.7 442.4h18.6M81.6 431.2v18.6M66.7 446.1h18.6" stroke="#fff" stroke-opacity="0.36" stroke-width="0.85"/></g><g><rect x="162.2" y="368.2" width="18.6" height="18.6" fill="#dc747c"/><path d="M165.9 368.2v18.6M162.2 371.9h18.6M169.6 368.2v18.6M162.2 375.6h18.6M173.4 368.2v18.6M162.2 379.4h18.6M177.1 368.2v18.6M162.2 383.1h18.6" stroke="#fff" stroke-opacity="0.36" stroke-width="0.85"/><path d="M165.1 370.3l3.5 -0.8M171.6 371.9l4.9 0.8M174.2 383.7l3.9 3.1M174.6 370.2l3.4 -2.6" stroke="#6a1420" stroke-opacity="0.6" stroke-width="0.9"/></g><g><rect x="99.2" y="368.2" width="18.6" height="18.6" fill="#dc747c"/><path d="M102.9 368.2v18.6M99.2 371.9h18.6M106.6 368.2v18.6M99.2 375.6h18.6M110.4 368.2v18.6M99.2 379.4h18.6M114.1 368.2v18.6M99.2 383.1h18.6" stroke="#fff" stroke-opacity="0.36" stroke-width="0.85"/><path d="M115.3 374.8l-3 -0.5M107.3 383.4l-5.5 0.5M101.4 373.2l-5.4 1.1M102.7 383.8l-5.2 2.2" stroke="#6a1420" stroke-opacity="0.6" stroke-width="0.9"/></g><g><rect x="130.7" y="336.7" width="18.6" height="18.6" fill="#dc747c"/><path d="M134.4 336.7v18.6M130.7 340.4h18.6M138.1 336.7v18.6M130.7 344.1h18.6M141.9 336.7v18.6M130.7 347.9h18.6M145.6 336.7v18.6M130.7 351.6h18.6" stroke="#fff" stroke-opacity="0.36" stroke-width="0.85"/><path d="M140.2 343.4l1.9 -3.8M142.9 339.7l2.4 -5.5M134.3 349.6l-1.4 -3.1M138 348.4l2.2 -5.5" stroke="#6a1420" stroke-opacity="0.6" stroke-width="0.9"/></g><g><rect x="130.7" y="399.7" width="18.6" height="18.6" fill="#dc747c"/><path d="M134.4 399.7v18.6M130.7 403.4h18.6M138.1 399.7v18.6M130.7 407.1h18.6M141.9 399.7v18.6M130.7 410.9h18.6M145.6 399.7v18.6M130.7 414.6h18.6" stroke="#fff" stroke-opacity="0.36" stroke-width="0.85"/><path d="M147.2 410.8l0.2 3.5M143.3 409.7l1.4 5.5M136.4 403.8l0.7 3.4M141.3 413.4l1.7 4.2" stroke="#6a1420" stroke-opacity="0.6" stroke-width="0.9"/></g><g><rect x="180.7" y="368.2" width="18.6" height="18.6" fill="#dc747c"/><path d="M184.4 368.2v18.6M180.7 371.9h18.6M188.1 368.2v18.6M180.7 375.6h18.6M191.9 368.2v18.6M180.7 379.4h18.6M195.6 368.2v18.6M180.7 383.1h18.6" stroke="#fff" stroke-opacity="0.36" stroke-width="0.85"/><path d="M191.1 378.4l4.6 -0.3M182.9 371l3.6 -0.8M193.7 373.7l3.6 0.9M184.1 377.2l4 -0.5" stroke="#6a1420" stroke-opacity="0.6" stroke-width="0.9"/></g><g><rect x="80.7" y="368.2" width="18.6" height="18.6" fill="#dc747c"/><path d="M84.4 368.2v18.6M80.7 371.9h18.6M88.1 368.2v18.6M80.7 375.6h18.6M91.9 368.2v18.6M80.7 379.4h18.6M95.6 368.2v18.6M80.7 383.1h18.6" stroke="#fff" stroke-opacity="0.36" stroke-width="0.85"/><path d="M93.9 373.4l-5.3 -1.4M89.3 377.5l-4.4 -2M85.3 371.2l-3.8 1.2M84 379.7l-3.9 0.5" stroke="#6a1420" stroke-opacity="0.6" stroke-width="0.9"/></g><g><rect x="130.7" y="318.2" width="18.6" height="18.6" fill="#dc747c"/><path d="M134.4 318.2v18.6M130.7 321.9h18.6M138.1 318.2v18.6M130.7 325.6h18.6M141.9 318.2v18.6M130.7 329.4h18.6M145.6 318.2v18.6M130.7 333.1h18.6" stroke="#fff" stroke-opacity="0.36" stroke-width="0.85"/><path d="M140.2 333.9l-0.9 -3.4M137.2 324.9l1.8 -4.8M139 322.6l-1.5 -3M145.1 329.7l-1.1 -4.7" stroke="#6a1420" stroke-opacity="0.6" stroke-width="0.9"/></g><g><rect x="130.7" y="418.2" width="18.6" height="18.6" fill="#dc747c"/><path d="M134.4 418.2v18.6M130.7 421.9h18.6M138.1 418.2v18.6M130.7 425.6h18.6M141.9 418.2v18.6M130.7 429.4h18.6M145.6 418.2v18.6M130.7 433.1h18.6" stroke="#fff" stroke-opacity="0.36" stroke-width="0.85"/><path d="M133.6 427.6l0.1 3.3M143.5 430.7l0.2 3.5M142.5 426.5l-0.4 3.3M145.9 420.3l1.7 3.8" stroke="#6a1420" stroke-opacity="0.6" stroke-width="0.9"/></g><g><rect x="199.2" y="368.2" width="18.6" height="18.6" fill="#dc747c"/><path d="M202.9 368.2v18.6M199.2 371.9h18.6M206.6 368.2v18.6M199.2 375.6h18.6M210.4 368.2v18.6M199.2 379.4h18.6M214.1 368.2v18.6M199.2 383.1h18.6" stroke="#fff" stroke-opacity="0.36" stroke-width="0.85"/><path d="M204.1 371.5l6 0.6M206.1 374.1l3.6 0.4M207.1 380.3l3.5 -0.1M202.2 378.1l5.1 2.8" stroke="#6a1420" stroke-opacity="0.6" stroke-width="0.9"/></g><g><rect x="62.2" y="368.2" width="18.6" height="18.6" fill="#dc747c"/><path d="M65.9 368.2v18.6M62.2 371.9h18.6M69.6 368.2v18.6M62.2 375.6h18.6M73.4 368.2v18.6M62.2 379.4h18.6M77.1 368.2v18.6M62.2 383.1h18.6" stroke="#fff" stroke-opacity="0.36" stroke-width="0.85"/><path d="M65.7 377.5l-3.6 0M74 377.4l-3.7 -1.2M77.8 382.1l-3.4 0.3M71.3 372.1l-4.9 -1.3" stroke="#6a1420" stroke-opacity="0.6" stroke-width="0.9"/></g><g><rect x="130.7" y="299.7" width="18.6" height="18.6" fill="#dc747c"/><path d="M134.4 299.7v18.6M130.7 303.4h18.6M138.1 299.7v18.6M130.7 307.1h18.6M141.9 299.7v18.6M130.7 310.9h18.6M145.6 299.7v18.6M130.7 314.6h18.6" stroke="#fff" stroke-opacity="0.36" stroke-width="0.85"/><path d="M141.1 316l-2.2 -4.7M144.4 303.3l-0.4 -3.1M141.2 312.3l-0.7 -5M138.1 312.1l-1.5 -5.7" stroke="#6a1420" stroke-opacity="0.6" stroke-width="0.9"/></g><g><rect x="130.7" y="436.7" width="18.6" height="18.6" fill="#dc747c"/><path d="M134.4 436.7v18.6M130.7 440.4h18.6M138.1 436.7v18.6M130.7 444.1h18.6M141.9 436.7v18.6M130.7 447.9h18.6M145.6 436.7v18.6M130.7 451.6h18.6" stroke="#fff" stroke-opacity="0.36" stroke-width="0.85"/><path d="M139.1 438.8l2 4.8M145.3 448l2.3 5.1M143.2 440.4l0.8 4.9M132.8 439.3l0.2 5.6" stroke="#6a1420" stroke-opacity="0.6" stroke-width="0.9"/></g></g></g><path d="M20.1 267.2V485.1H258.4" fill="none" stroke="#0d3a18" stroke-width="2"/><path d="M29.3 485.1v-5M66.2 485.1v-5M103.1 485.1v-5M140 485.1v-5M176.9 485.1v-5M213.8 485.1v-5M250.7 485.1v-5M20.1 451.3h5M20.1 414.4h5M20.1 377.5h5M20.1 340.6h5M20.1 303.7h5" stroke="#0d3a18" stroke-width="1.5"/><path d="M20.1 485.1v-2.5M38.5 485.1v-2.5M47.8 485.1v-2.5M57 485.1v-2.5M75.4 485.1v-2.5M84.6 485.1v-2.5M93.9 485.1v-2.5M112.3 485.1v-2.5M121.5 485.1v-2.5M130.8 485.1v-2.5M149.2 485.1v-2.5M158.4 485.1v-2.5M167.7 485.1v-2.5M186.1 485.1v-2.5M195.4 485.1v-2.5M204.6 485.1v-2.5M223 485.1v-2.5M232.2 485.1v-2.5M241.5 485.1v-2.5M20.1 479h2.5M20.1 469.8h2.5M20.1 460.5h2.5M20.1 442.1h2.5M20.1 432.9h2.5M20.1 423.6h2.5M20.1 405.2h2.5M20.1 395.9h2.5M20.1 386.7h2.5M20.1 368.3h2.5M20.1 359.1h2.5M20.1 349.8h2.5M20.1 331.4h2.5M20.1 322.1h2.5M20.1 312.9h2.5M20.1 294.5h2.5M20.1 285.2h2.5M20.1 276h2.5" stroke="#0d3a18" stroke-opacity="0.5" stroke-width="1"/><text class="tl" x="29.3" y="494" text-anchor="middle">-0.6</text><text class="tl" x="66.2" y="494" text-anchor="middle">-0.4</text><text class="tl" x="103.1" y="494" text-anchor="middle">-0.2</text><text class="tl" x="140" y="494" text-anchor="middle">0</text><text class="tl" x="176.9" y="494" text-anchor="middle">0.2</text><text class="tl" x="213.8" y="494" text-anchor="middle">0.4</text><text class="tl" x="250.7" y="494" text-anchor="middle">0.6</text><text class="tl" x="17.1" y="454.8" text-anchor="end">-0.4</text><text class="tl" x="17.1" y="417.9" text-anchor="end">-0.2</text><text class="tl" x="17.1" y="381" text-anchor="end">0</text><text class="tl" x="17.1" y="344.1" text-anchor="end">0.2</text><text class="tl" x="17.1" y="307.2" text-anchor="end">0.4</text><text class="tm" x="251.4" y="474.2" text-anchor="end">200<tspan font-style="italic">μs</tspan></text><clipPath id="c4"><rect x="280.1" y="266.7" width="238.4" height="217.9"/></clipPath><g clip-path="url(#c4)"><g filter="url(#soft)"><rect x="280.1" y="266.7" width="238.4" height="217.9" fill="#5ec474"/><rect x="280.1" y="266.7" width="238.4" height="217.9" fill="url(#grid2)"/><path d="M558 377L557.9 377.9L557.5 379.6L557 381.8L556.2 384.3L555.1 387.1L553.9 390.2L552.4 393.6L550.7 397.1L548.8 400.8L546.7 404.7L544.4 408.8L541.8 412.9L539.1 417.2L536.2 421.6L533.2 426L529.9 430.6L526.5 435.1L523 439.7L519.3 444.3L515.4 448.9L511.5 453.5L507.4 458.1L503.2 462.6L498.9 467.1L494.6 471.6L490.1 475.9L485.6 480.2L481.1 484.4L476.5 488.5L471.9 492.4L467.3 496.3L462.7 500L458.1 503.5L453.6 506.9L449 510.2L444.6 513.2L440.2 516.1L435.9 518.8L431.8 521.4L427.7 523.7L423.8 525.8L420.1 527.7L416.6 529.4L413.2 530.9L410.1 532.1L407.3 533.2L404.8 534L402.6 534.5L400.9 534.9L400 535L399.1 534.9L397.4 534.5L395.2 534L392.7 533.2L389.9 532.1L386.8 530.9L383.4 529.4L379.9 527.7L376.2 525.8L372.3 523.7L368.2 521.4L364.1 518.8L359.8 516.1L355.4 513.2L351 510.2L346.4 506.9L341.9 503.5L337.3 500L332.7 496.3L328.1 492.4L323.5 488.5L318.9 484.4L314.4 480.2L309.9 475.9L305.4 471.6L301.1 467.1L296.8 462.6L292.6 458.1L288.5 453.5L284.6 448.9L280.7 444.3L277 439.7L273.5 435.1L270.1 430.6L266.8 426L263.8 421.6L260.9 417.2L258.2 412.9L255.6 408.8L253.3 404.7L251.2 400.8L249.3 397.1L247.6 393.6L246.1 390.2L244.9 387.1L243.8 384.3L243 381.8L242.5 379.6L242.1 377.9L242 377L242.1 376.1L242.5 374.4L243 372.2L243.8 369.7L244.9 366.9L246.1 363.8L247.6 360.4L249.3 356.9L251.2 353.2L253.3 349.3L255.6 345.2L258.2 341.1L260.9 336.8L263.8 332.4L266.8 328L270.1 323.4L273.5 318.9L277 314.3L280.7 309.7L284.6 305.1L288.5 300.5L292.6 295.9L296.8 291.4L301.1 286.9L305.4 282.4L309.9 278.1L314.4 273.8L318.9 269.6L323.5 265.5L328.1 261.6L332.7 257.7L337.3 254L341.9 250.5L346.4 247.1L351 243.8L355.4 240.8L359.8 237.9L364.1 235.2L368.2 232.6L372.3 230.3L376.2 228.2L379.9 226.3L383.4 224.6L386.8 223.1L389.9 221.9L392.7 220.8L395.2 220L397.4 219.5L399.1 219.1L400 219L400.9 219.1L402.6 219.5L404.8 220L407.3 220.8L410.1 221.9L413.2 223.1L416.6 224.6L420.1 226.3L423.8 228.2L427.7 230.3L431.8 232.6L435.9 235.2L440.2 237.9L444.6 240.8L449 243.8L453.6 247.1L458.1 250.5L462.7 254L467.3 257.7L471.9 261.6L476.5 265.5L481.1 269.6L485.6 273.8L490.1 278.1L494.6 282.4L498.9 286.9L503.2 291.4L507.4 295.9L511.5 300.5L515.4 305.1L519.3 309.7L523 314.3L526.5 318.9L529.9 323.4L533.2 328L536.2 332.4L539.1 336.8L541.8 341.1L544.4 345.2L546.7 349.3L548.8 353.2L550.7 356.9L552.4 360.4L553.9 363.8L555.1 366.9L556.2 369.7L557 372.2L557.5 374.4L557.9 376.1ZM275.1 261.7H523.4V489.6H275.1Z" fill="#7ede94" fill-rule="evenodd" filter="url(#bl3)"/><path d="M550 377L549.9 377.9L549.6 379.5L549 381.5L548.3 383.9L547.3 386.6L546.1 389.6L544.7 392.7L543.1 396.1L541.3 399.6L539.3 403.3L537.1 407.2L534.7 411.1L532.1 415.2L529.3 419.3L526.4 423.6L523.3 427.8L520.1 432.2L516.7 436.5L513.2 440.9L509.6 445.3L505.8 449.6L501.9 454L498 458.3L493.9 462.6L489.8 466.8L485.6 470.9L481.3 475L477 478.9L472.6 482.8L468.3 486.6L463.9 490.2L459.5 493.7L455.2 497.1L450.8 500.3L446.6 503.4L442.3 506.3L438.2 509.1L434.1 511.7L430.2 514.1L426.3 516.3L422.6 518.3L419.1 520.1L415.7 521.7L412.6 523.1L409.6 524.3L406.9 525.3L404.5 526L402.5 526.6L400.9 526.9L400 527L399.1 526.9L397.5 526.6L395.5 526L393.1 525.3L390.4 524.3L387.4 523.1L384.3 521.7L380.9 520.1L377.4 518.3L373.7 516.3L369.8 514.1L365.9 511.7L361.8 509.1L357.7 506.3L353.4 503.4L349.2 500.3L344.8 497.1L340.5 493.7L336.1 490.2L331.7 486.6L327.4 482.8L323 478.9L318.7 475L314.4 470.9L310.2 466.8L306.1 462.6L302 458.3L298.1 454L294.2 449.6L290.4 445.3L286.8 440.9L283.3 436.5L279.9 432.2L276.7 427.8L273.6 423.6L270.7 419.3L267.9 415.2L265.3 411.1L262.9 407.2L260.7 403.3L258.7 399.6L256.9 396.1L255.3 392.7L253.9 389.6L252.7 386.6L251.7 383.9L251 381.5L250.4 379.5L250.1 377.9L250 377L250.1 376.1L250.4 374.5L251 372.5L251.7 370.1L252.7 367.4L253.9 364.4L255.3 361.3L256.9 357.9L258.7 354.4L260.7 350.7L262.9 346.8L265.3 342.9L267.9 338.8L270.7 334.7L273.6 330.4L276.7 326.2L279.9 321.8L283.3 317.5L286.8 313.1L290.4 308.7L294.2 304.4L298.1 300L302 295.7L306.1 291.4L310.2 287.2L314.4 283.1L318.7 279L323 275.1L327.4 271.2L331.7 267.4L336.1 263.8L340.5 260.3L344.8 256.9L349.2 253.7L353.4 250.6L357.7 247.7L361.8 244.9L365.9 242.3L369.8 239.9L373.7 237.7L377.4 235.7L380.9 233.9L384.3 232.3L387.4 230.9L390.4 229.7L393.1 228.7L395.5 228L397.5 227.4L399.1 227.1L400 227L400.9 227.1L402.5 227.4L404.5 228L406.9 228.7L409.6 229.7L412.6 230.9L415.7 232.3L419.1 233.9L422.6 235.7L426.3 237.7L430.2 239.9L434.1 242.3L438.2 244.9L442.3 247.7L446.6 250.6L450.8 253.7L455.2 256.9L459.5 260.3L463.9 263.8L468.3 267.4L472.6 271.2L477 275.1L481.3 279L485.6 283.1L489.8 287.2L493.9 291.4L498 295.7L501.9 300L505.8 304.4L509.6 308.7L513.2 313.1L516.7 317.5L520.1 321.8L523.3 326.2L526.4 330.4L529.3 334.7L532.1 338.8L534.7 342.9L537.1 346.8L539.3 350.7L541.3 354.4L543.1 357.9L544.7 361.3L546.1 364.4L547.3 367.4L548.3 370.1L549 372.5L549.6 374.5L549.9 376.1Z" fill="none" stroke="#4ea864" stroke-width="12" stroke-opacity="0.6" filter="url(#bl3)"/><path d="M517.6 336l7.5 0.1M486.3 394.8l7.3 2.9M506 390l3.9 0.6M420.2 315.2l1.4 -4.2M438.4 307.1l1.3 -5.5M463.6 420l5.6 4M339.4 468.4l-2.3 5M449 445l1.8 5.1M330.8 365.2l-4.8 0.3M365.8 431.1l-1.4 6.5M335.8 437.6l-5.4 3.3M345.1 279.9l-4.2 -2.3M509.4 381l5.3 3.6M471.8 316.6l1.8 -4.3M469.7 427.3l4.9 2.5M449.8 461.8l0.7 7.2M354.9 478.9l0 3.9M347 467.6l-2.3 6.9M483.1 460.8l4.7 2.1M464.3 348.3l3.6 0.2M284.9 351.7l-4.6 1.8M368.7 432.5l-3.1 3.5M429 307.7l1.8 -2.6M327.8 453l-3.2 6.8M356.8 274.6l-1 -4.5M309.2 313l-4 -2.2M366.7 463.3l-2.9 2.1M337.4 453.3l-3 3M370 274.9l0.6 -7M344.2 435.8l-5.3 1.2M293 349.5l-3.8 -1.6M465.5 450.2l4.4 3.7M470.7 289.5l3.6 -2.4M385.1 483l-0.3 3.4M330.7 267.1l-3 -1.7M514.1 303.5l4.6 -3M368.7 454.3l-3 2.7M347.8 285.1l-4.8 -6.1M307.3 409.7l-4.8 2.9M358.4 450.8l-1.9 4.3M508.2 345.3l3.9 -3.2M335.5 438.8l-4.9 1.9M286.9 314.5l-5.8 -5.2M392.7 309.7l0.3 -3.9M445.5 323l1.6 -6M426.2 304.1l0.7 -5.5M411.3 295.9l1.5 -5.2M312.2 333.9l-5.6 -3.1M427.1 436.6l4 4.2M385.6 447.6l-2.8 5.1M511.2 445.8l6.2 0.5M425.9 273.9l5.6 -5.3M453.6 325l2.9 -6.6M477.4 380.1l2.7 1.5M385 447.6l-1.6 6.2M485.7 310.9l4.9 -5.6M286.3 340l-3.3 0.7M428.9 293l0.3 -3.8M346.5 467.2l-6.2 4.2M516 362.6l6.5 -2.6M500.9 443.3l6.4 1.7M301.9 468.2l-4.7 3.3M485.5 297.9l4.6 -4.6M467.5 366l3.7 1.5M347.1 429l-3.4 6.3M333.5 314l-6.4 -4.4M286.4 430.9l-6.7 -0.1M365.2 312.4l-1 -4.6M405.1 300.2l0.3 -7.6M400.9 438.1l-1 3.9M364.3 443.7l-0.8 3.4M332 362l-2.5 -1.6M340.6 447.7l-4.2 3.9M429.3 294l0.6 -6.9M485.7 438l3.5 5.4M507.2 307.9l2.7 -2.2M401.5 299.2l1.8 -3.7M372.6 299.1l-1 -3.8M325.4 370.2l-5.7 -0.1M400.1 449l-1.5 2.7M327.6 275l-3.5 -5.9M408.3 314.1l-0.7 -6.9M453.4 316.4l4.6 -3.6M295.6 406.9l-5 4.1M304.2 449.5l-2.8 6.8M339.3 285l-3.8 -2M368.6 438.5l-0.1 6.6M333.3 268.5l-4 -2.4M446.3 436.7l6.8 4.3M288.8 431.6l-5 -0.3M297.4 473.2l-3.8 4.1M478.1 370.4l3.8 -0.8M492.5 355.5l6.2 -1M338.5 388.1l-5.7 4.6M368 458.6l1.6 7.7M481 369.1l3.4 -1.2M450 425.4l2.4 3.2M285.3 362.9l-4.5 -1.1M360.3 294.6l-4.1 -4.8M468.5 333.3l5.6 -1.1M307.6 426l-3.3 -0.1M286.1 424.4l-3.4 3.4M379 293.3l-2.6 -5M510.6 350.1l4.4 -2.8M511 336.8l6.2 0.3M373.8 431.2l0.1 4.4M290.1 364.5l-7.2 1.8M345.9 299.9l-3.6 -4.3M503.8 462.2l3 2.9M379.3 274l1.5 -5M449.4 280.4l0 -7.6M352 422.7l-1.9 2.4M310.3 369.8l-2.9 1M333.1 284.4l-2.9 -1.9M403.5 296.5l-0.4 -7.1M340.1 319.2l-7 -1.6M457 287.9l3.4 -6.9M422.5 454.8l2.5 2.4M451.9 327.2l2.3 -5M345.6 406.7l-3.4 0.5M398.3 316.5l-0.1 -3.6M492.8 326.3l7.9 -0.2M516.1 472.2l2.1 3.7M425.9 311.1l4.2 -6.8M473.1 388.3l2.8 1.9M321.9 323.1l-5.9 -1.4M303 410.6l-3.3 1.2M290.4 308.3l-7.1 -3.2M446 428l4.7 4.1M324.9 473.5l-6.6 4.3M516.7 368.1l6.7 -2.7M457.1 422.5l3.7 6.8M489.7 325l5.9 -3.7M470.5 450.3l3.9 6.1M320.7 300.6l-5.3 -2.4M360.3 289l-0.6 -3.7M333.4 451.4l-4.2 1.9M352.2 325l-4.8 -1.2M283.1 454.4l-1.8 4.5M509 316.4l2 -3.8M303.8 421.3l-5.4 2.4M338.8 329.1l-6.9 -3.8M515.9 459.9l1.8 3.1M285.1 421.6l-7 1M411.1 443.8l0.4 3.7M343.4 353.6l-3.2 -2.4M416.7 436.5l0.9 6.1M499.8 443.7l5.4 2.2M501.2 347.5l3.1 -1.6M448.5 469.6l1.8 6M503.5 436.2l4.7 2.4M461.2 335.9l3.2 -1.5M472.9 320.8l6.3 -1.2M310.5 296.2l-4.7 -2.8M506.4 483.8l2.2 4.7M430.7 304.5l0.1 -7.9M298.2 365.3l-3.1 -0.3M378.3 474.6l-3 4.1M466 394.4l4.2 0.1M517.6 310.8l2.1 -4.2M302.4 278.8l-1.9 -4.8M446.4 477.2l2.3 6.8M418.4 269.4l-0.6 -4.9M428 280.9l0.8 -5.7M304.4 426.1l-6.6 2.4M307.7 397.2l-6.9 -2.6M460.9 276.6l5 -5.4M346 467.1l-6.1 3.8M339.1 392.4l-4.3 2.3M461.5 401l4.2 1.9M501.4 390.2l7.4 1.6M516.6 273l4.2 -3.3M453.3 477.7l3 5.3M448.1 473l1.9 2.4M489 279.7l1.2 -6.8M434.6 441.1l2.5 3.4M334 420.2l-5.1 2.5M507.6 436.5l7.6 1.6M362.6 441.7l-2.2 3.2M464.6 470.5l2.4 2M397.6 470.7l-1.6 3.5M501.3 280.7l1.8 -4.3M312 332.8l-5.5 -3.5M309.1 441.3l-2.8 4.8M475.6 445.5l1.2 3.9M473.2 316.6l2.9 -0.7M477 287.9l5.9 -3.5M431.1 448.1l4.6 6.5M478.9 467.3l2.2 4M443.2 451.6l4.2 4.1M340.1 384.9l-3.5 -1.1M492 319.5l6.1 -2.2M309.1 436.3l-4.7 4.9M303.5 328.1l-6.2 -2.9M474.4 301.4l2 -2.9M489.8 301.9l3.1 -1.3M301.8 412.2l-2.7 2.1M438.3 457l2.4 4.4M287.5 340.9l-3.3 -2.6M450.3 437.6l2.5 5.1M310.4 350.6l-4.5 -0.1M456.3 313.3l2.1 -4.1M486 405.8l5.3 1M499.8 471.4l3.5 3.9M485.7 322.5l2.2 -3.7M317.4 360.9l-7.8 -1.3M371.2 449.6l-1.7 7.3M309.5 405.4l-6.6 -1.4M497.5 464.1l5.8 4.9M510 296.9l6.8 -3.4M488.1 356.7l5.6 -5.7M482.2 445.2l2.3 4.3M331 430.6l-3.8 3.7M326.9 441l-2.3 6.2M513.2 314.9l4 -2.8M417.5 460.7l0.4 7.7M367.2 290.1l-1.1 -3.2M514.3 356.8l4.6 -1.3M321 471.3l-4.1 4.4M386.5 480.1l1.3 5.7M292.9 301.4l-2.7 -3.9M492 318.2l5.5 -4.1M290.2 281.1l-3.7 -5.1M370.7 466.9l-0.5 7.1M296 387.2l-5.7 2.6M290.5 372.8l-3 -1M386.3 317.4l-2.2 -3.2M474.5 365.4l6.2 -2.2M472.4 396.5l6.2 0.8M414 308.2l3.1 -7.2M304 339.5l-2.9 -2.9M283.1 363.6l-6.6 -3.2M451.4 332.4l3.7 -1.9M351.3 424.2l-4.3 2.1M416.7 444.3l3 7.3M515.2 268.8l1.8 -7.2M463.6 335.3l3.9 -1M396.7 274.6l-2.5 -6.4M392.5 266.8l0.6 -4.3M462.2 405.3l4 3.4M439.5 311.6l3.5 -4.5M453.8 309.8l2.1 -4M302.9 342.6l-6 -2.8M321.3 426.1l-3.5 0.9M315.3 287.7l-2.9 -3.1M344.4 459.3l-2.5 7.3M458.8 418.2l5.5 1.8M506.4 475.1l2.6 1.6M356.6 309.9l-0.5 -5.1M285.8 448.8l-1.9 4.1M494.5 326l2.3 -3.3M367.6 292.7l-2.4 -3.1M464.6 424.4l2 4.3M468.7 389.1l5.4 -0.2M312 459.6l-2 5.7M500.7 460l1.9 2.5M336.9 383.4l-6.9 2M325.9 403.2l-5 -1.2M324.8 421.6l-2.2 2.3M308.1 299.1l-5.4 -1.7M469.5 287.7l5.4 -2.8M310.2 314.1l-5.7 -3.7M502.3 340.3l4.9 1M362 477.2l0 7.5M410.2 471.8l-1.1 3.4M464.6 430l5.9 1.2M508.5 289l6.3 -2.8M290.4 470.1l-4.6 1.6M392.5 443.7l-0.7 4.4M286.1 373.3l-3 -1.5M512.3 473l7.6 1.6M447.9 425.2l5.9 1.2M500.3 362.2l5.8 1.4M345.7 273l-5.2 -5.5M289.9 296.5l-4.8 -6.3M330.1 298.6l-3.8 -6.5M419.1 295.3l3.5 -3.7M280.9 358l-2.4 -2.3M305 474.5l-6.3 3.6M290.2 418.2l-5.1 2M314.7 378.3l-6.3 3.1M488.9 358.2l3.8 -2.2M415.9 460.6l1 5.5M515.8 313.6l2.3 -2M354.7 293.7l-4.4 -2.5M499.6 372.2l7.3 1.4M454.1 432l2.2 4M329.2 387.6l-5.9 -1.1M320.1 341.6l-5.1 -5M513.2 292.4l1.8 -3.6M452.6 429.1l2.7 5.6M499.6 407.9l5.8 2.5M416.6 294.8l0.5 -5.1M511.7 286.4l2.8 -1.2M337.1 270l0 -7.4M357.3 279.4l-0.1 -7.5M337.5 322.2l-3.1 -5.7M335.7 440.6l-6.9 2.5M307.3 396l-7.9 -0.4M389.5 298.3l0.5 -3.3M296.4 442.9l-5.2 3.6M492.6 469.9l5.8 1.8M339.6 469l-0.8 6.6M334.6 341.3l-5.6 -1.7M384.9 443.9l-1.8 3.5M358.9 472.5l-1.5 7.6M424.5 290.8l2.1 -4.6M288.2 293.7l-5.6 -1.4M494.8 378.9l4.2 0.5M345.8 437.1l-1.6 3.4M384.6 464.5l0.7 3.8M311.5 313.2l-4.1 -2.2M461.2 354.7l4.8 -2.5M464.6 463.5l0.7 5.1M339.8 479.7l-3.8 4.1M312.3 459.6l-4.2 2.4M329.4 305.3l-2.5 -4M409.6 267.2l0 -6.6M296.5 323.3l-2.6 -3.1M339.3 330.1l-3.9 -2M468.6 438.5l2.4 6M436 291.4l0 -3.2M476 394.3l5.1 -0.4M514.1 430.8l4.7 -0.5M514.1 322.5l4.5 -5.7M492 331.4l2.4 -2.6M472.1 479.9l2.4 5.7M347.3 326l-0.8 -3.4M290.4 400.1l-4 2.6M384 469.5l1 4.1M401.8 305.8l-3.2 -6.7M321.6 319.3l-4.6 -3.2M493.2 368.7l3.1 1M284.5 336l-3.3 -1.7M466.5 294.7l4 -2M444.3 290.3l4.7 -4.4M377.5 300.5l-3 -5.5M312 302.6l-4.9 -1.3M470.8 285.8l4.3 -1.8M486.1 467.3l4.5 5.1M467.8 391.4l3.6 -0.3M303.3 457.4l-3.2 3.3M408.4 288.7l2.8 -5.9M469.8 458.6l4.2 1.9M461.6 417.7l4.5 1.9M316.7 447.9l-5 1.7M490.5 343.6l5.8 -2.9M485.4 432.3l5.3 2.3M345.3 459.5l-2.4 6.6M300.3 309.2l-7.8 -0.3M473.2 381.9l5.7 0.7M301.5 467.1l-1.4 3.2M472.4 417.6l7.7 -0.2M282.6 318.3l-6.9 -0.3M317.3 381.6l-7.3 -1.8M346.3 476l-4.5 5.2M352.6 426.1l-4.9 2.3M366.8 458.8l-2.1 6.1M414.2 442l-1.9 5.3M281.8 462.2l-5.3 3.9M482.7 299.1l4.1 -2.2M476.3 347.9l7.8 -1.5M290.9 293.5l-2.5 -2.3M356.8 323.6l-4.9 -2M496.7 449.3l4.9 3.2M362.7 479.2l-4.5 6.3M477 283.1l1.7 -3.2M310.1 358.7l-6.5 -4.5M508.6 315l1.9 -3.6M345.3 279l-3.8 -4.1M455.2 416.8l5.5 3.7M289.6 368.2l-5.8 1.8M485.1 458.2l3 6.6M396.5 305l1 -4.2M514.8 290.9l2.1 -2.2M306.8 450.5l-4.6 0.8M358.6 333.2l-0.8 -3.8M420.6 446.6l0.8 3.2M454.8 481l6.3 4.4M369 484.3l-4.2 3.8M340.5 272.2l-5.5 -5.4M417.7 470.1l-2 7.5M341.3 445.6l-1.8 2.5M505.1 322.1l4.5 -1.8M336.5 421l-2.9 5.6M499.4 282.2l3.8 -5.2M314.3 283.7l-3 -7.4M389.4 439.8l-4.9 6.1M403.7 480.5l-1.1 6.6M481 355.8l5.7 0.9M327.5 453.8l-2.2 2.2M417.1 298.5l1.1 -7.5M324.2 356.4l-5.9 -1.1M280.8 286.8l-6.4 -1.3M341 442.6l-6.8 2.7M321.7 267.8l-3.3 -5.9M367 270.7l-3 -4.2M420.2 480.3l2.6 3.1M445.6 290.1l1.6 -3.8M515.1 337.3l4.3 -1.6M318.8 354.3l-6.5 -0.4M469.9 306.8l2.8 -2.1M388 466.7l-1.5 3.2M310.7 400l-6.5 1.9M324.4 367.7l-4.8 -3.2M517.2 388l4.5 -1.1M339.1 417.1l-6 5.2M503.9 361.8l6 1.8M328.5 342l-7.9 0.5M457.6 404.1l6.1 4.6M280.4 282.2l-2.6 -1.8M286.5 381.3l-5.7 2.4M484.2 356.8l7.2 -3.1M342.8 436.6l-1.4 2.7M356.5 458.9l0.4 5.5M472.9 290.4l3.7 -5.8M384.6 482.5l-4.6 6.1M455.5 419.2l3.7 0.3M478.1 413.3l6 1.3M343.7 467.3l0.1 5.7M296.2 479.8l-6.9 2.9M281.1 357.6l-3.2 -1.5M473 438.7l6.7 1.7M283.3 286.9l-3.6 -6.3M484.4 292.9l0.9 -4.5M514.4 357.1l6.7 1.3M418.6 481.7l-2.3 6.5M509.7 284.6l3.5 -5.8M515.7 279.8l2.1 -4.7M517.8 374.8l6.5 0M463 340l4.9 -1.2M447.6 460.1l0.5 4.5M298.4 287.8l-4.4 -1.2M291.7 422.9l-6.4 1.7M329.2 424l-6.4 3.1M334.3 389.7l-4.4 2.2M315.5 455.1l-6 1.4M321.1 324.2l-5.5 -0.3M394.9 464.9l-1.3 5.7M419.6 437.8l3.8 3M513.8 439.3l3.6 0.1M333.1 410.1l-1.9 3.1M397.9 268l-0.7 -4.2M329 267.2l-3.3 -2.7M284.6 449.1l-5.6 3.6M280.8 317.5l-6.9 -3M329 445.3l-2.6 7M308 336.3l-4.9 -3.6M370.2 281.7l0.3 -3.1M486.2 463.9l1.5 3M321 342.1l-2.6 -3M475.3 448.1l1.4 4.7M440.6 317.6l0.6 -4.9M470 306.8l1.8 -3.2M405.1 452.7l2.7 6.2M407.5 303.6l-1.3 -4M298.4 343l-6.5 -3.6M301 314.4l-4.9 -3.4M286.4 287.1l-4.1 -4.1M299.2 435.1l-3.8 1.7M505.7 352.9l5 -0.9M480.2 481.9l3.9 5.6M508.7 478.2l6.2 2.7M335.2 436.9l-3.6 1.9M448.5 424.6l1.6 7.8M470.8 324.2l5.1 -3.8M504.3 364.1l3.7 -3.1M353.6 289.6l-4.6 -2.9M321 363.4l-4.7 -0.8M311.9 270.7l-0.7 -5.7M347.1 343.3l-3 -3.5M397.6 440.1l1.2 2.8M329.2 347l-4.8 -1.3M510.3 362.4l5.4 2.4M477.5 339.5l3.2 0.3M296 429l-4.7 1.4M347.7 466.7l-1.2 4.7M493.2 315.2l3.6 -2.5M513.9 291.9l3.9 -1.1M298 357l-6.2 -3M469.1 292.2l3.7 -6.5M474.2 369.4l7.4 -1M341.5 299.5l-5.1 -2.1M319.2 457.2l-5.5 2M316 371.3l-4.9 2.1M342.9 467.5l-3.6 5.6M425.4 454.2l1.6 7.6M292.1 456.6l-2.2 3.1M312.7 378.3l-5.9 0.4M392.1 297.4l-0.4 -6.6M353.7 448.3l-6.8 3.6M514.9 281.7l3.6 -3.4M341.2 428.7l-3 6.9M400.7 477.5l0.5 7.4M305 366.1l-5 -2.5M324.4 327.6l-7.9 0.1M425.7 287.4l1.3 -6.6M500.7 315.3l4.7 -5.7M291.4 285.5l-2.9 -1.8M511.8 344l4.4 -4.9M303.4 393l-4.9 1.9M478 417.3l3.6 0M292.6 324.1l-3.2 -5.3M511 455l2.1 3M461.8 369.7l8 0M308.3 313.7l-2.7 -2.5M428.9 453.6l2.5 1.8M511.9 323.8l4.3 0M306.6 439.4l-6.5 3.7M425.1 268l2.1 -5.6M463.9 379.4l3.4 -1M435.8 284l0.2 -3.5M469.9 385.7l3.7 3M418.6 318.7l3.9 -4.3M417.7 481.8l3.2 5.3M284.9 377.3l-4.5 -0.5M475.7 368.5l5.7 -2.2M407 315.3l0.8 -6.8M364.8 321.9l-0.6 -7.2M503.7 320.7l3.2 -1.1M286 453.3l-4.5 4.5M318.3 346.2l-5.8 -3.8M419.6 289.2l-0.3 -4.1M287.6 406.1l-5.7 -1.5M412.2 466.8l0.6 5.3M503.4 372.9l2.9 -0.6M327.2 402.5l-5.2 2M501.1 432.8l3.4 -0.2M288.6 365.1l-7 -1.6M290.6 293.8l-5.7 -4.9M319.3 420.6l-7.6 0.4M433.9 442.6l1.7 3M473.2 341.1l3.7 -0.1M448 268.3l1.5 -2.9M507.5 401.3l7.1 -1.8M417.4 306.3l-0.8 -4.6M390.6 276.7l0.5 -6.3M495.7 434l1.9 2.8M409.5 470.7l3.1 4.5M447.9 304.4l4.7 -6.4M495.2 374l4.6 0.8M450.4 316.4l2.4 -3M436.9 281.2l3.5 -2.6M343.8 434.9l-1.2 4.4M396 456.1l3.3 6.1M404.5 306.5l-2.4 -6M353.9 452.2l-3.1 4.9M285.4 343.3l-2 -2.5M496.5 409.1l2.8 2.6M347.5 442l-4.5 4.3M456.8 324.9l5.5 -4.6M460.5 449.6l3.1 3M366.3 283.4l-0.9 -7.3M489.8 281.9l4 -2.7M341.7 315.3l-5.2 -3.7M503.5 463.2l7.1 3.2M402.7 289.4l-2.2 -4.3M399.6 475.2l1.1 6.7M345.9 469.6l-2.6 1.9M484.1 281.7l6.1 -4.8M486.9 461.7l4.6 0.8M465.7 407.8l6.3 -0.5M298.2 462.5l-3.6 3.2M512.1 309.2l3 -5.4M317.6 432.2l-7.7 1.6M468.5 473.1l3.5 5.6M476.6 442.4l3.8 4.8M322.6 340.4l-3 -3.5M466.4 330l3.3 -7.3M294.8 338.1l-2.1 -2.6M483.9 382.8l6.2 0M389.8 475.2l-0.6 4.3M394.2 297.4l-0.2 -3.7M470.5 360.8l3.2 1M312.9 459.4l-2.7 1.8M314.9 323.4l-3.3 -3.9M347 474.3l-0.2 3.9M452 275.3l1.9 -6.1M501.1 332.1l4.2 -3.1M448.9 330.2l4.1 -3.4M451.3 408.8l5.1 0.3M306.8 298.6l-3.7 -1.2M496.5 317.6l2.5 -3.4M314.5 415.3l-4.4 3.9M473.2 413.9l4.3 2.9M301.9 346.1l-7.6 -1.2M432.4 285.9l4.8 -4.9M330.1 294.7l-4.1 -5M508 476.4l2.1 7.1M479.9 272l3.4 -1.2M488.4 400.8l6 1.1M381.3 298.4l-2.8 -5M309.1 456.3l-5.7 1.5M346.1 447.7l-3 2.7M299.1 372.7l-5.1 -2.3M328.5 307.1l-1.9 -4.1M335.4 404.8l-1.9 2.5M306.9 369.7l-7.7 0.4M400.5 276.1l0.7 -7.4M362.8 328.6l-0.5 -3.9M480.5 349.1l5.8 -1.6M327.8 273.9l-5.7 -3.5M414.8 270.4l-0.8 -3M516.3 410.5l5.4 -1.7M508.4 373.2l6.1 -4M479.1 370.4l4 -0.8M298 393.2l-4.1 -0.3M321.5 417l-5.9 1.3M506.6 331l5.5 -3.2M493.2 446.5l4.9 4.7M342.4 464.5l-7.1 3.4M360.7 445.8l-5.1 3.8M471.3 365.7l4.9 1M488.3 273.6l1.9 -2.4M303.3 450.2l-3.4 0.6M333.7 295.9l-3.1 -6M411.9 473.4l0.4 5.5M444.6 291l5.4 -3.5M461.5 385l4.5 -1.7M302.1 384.2l-6.9 -2.7M323.8 429.9l-5.7 4.2M484.7 307.4l3.7 -2.9M352.1 455.6l-2.2 4.5M333.4 371.9l-6.5 0.6M282.9 476.4l-3.5 2.7M508.6 311.7l2.1 -2.6M316.5 452.1l-1.6 5.4M321.6 333.4l-6.8 -3.2M335.7 396.9l-3.4 1M434.5 286l0.8 -5.7M457.6 400.9l6.5 3.8M323.7 307.1l-2.9 -5.9M295 357.5l-4.4 -0.6M488 388.6l6.1 2.9M320.2 449.3l-2.2 3.1M482.5 481.3l0.6 4.8M289 474.8l-1.1 3.8M461.7 301.8l0.6 -6.7M309.6 344.6l-3.3 -1M362.6 427.6l-5.1 2M481.1 304l7.3 -1.9M320.6 336.6l-4.1 -0.4M463.1 391.6l6.9 -1.9M482 377.3l5.9 -1.9M313.5 332.2l-6.7 0.7M450.5 338.3l4.2 -3.4M458.7 282.6l1.5 -5.4M329.2 317.1l-6.4 -3.8M489.9 426.9l3.7 2.4M282.2 469.9l-2.6 5.6M440 329.7l5.7 -5M297.4 445.1l-5.1 5.4M449.7 454.1l6.6 3.4M479.6 320.8l6.5 -2.7M391.1 463.2l-4.5 5.4M508.6 391.6l6.3 2.2M401.1 313.7l1.8 -3.9M481.8 418.6l5.7 3M281.8 363.3l-7.6 1.9M391.5 283.6l1.3 -4.1M287.9 440.7l-7 0.5M341.4 469.6l-2.3 4.3M506.7 385.3l5.9 -2.4M281.2 324.3l-2.4 -2.5M339.6 475.3l-1.2 6.3M449.5 336l2 -5.3M478.6 438.2l3.7 4.6M361.1 294.5l-0.7 -4.6M414.3 296l0.6 -4.2M283.5 276.4l-5.1 -1.4M492 294.7l6.3 -2.5M516.6 401.1l3.5 3.5M342 474.8l-1.9 4.1M490.4 416.8l2.1 3.3M482.6 290l5.3 -2.7M465.2 413.3l2.9 1.5M344.1 399.1l-4.5 2.1M492.3 328.1l2.8 -3.3M306.9 451.7l-3.3 6.9M366 463.7l-5.9 4.3M516.7 332.8l2.6 -2M399.8 270l-0.1 -4.3M442.6 300.4l1.1 -3.5M301.7 293.3l-1.7 -3.1M489.6 276l6.4 -2.9M475.6 284.4l3 -1.1M332.8 466.1l-0.7 6.7M302.6 407.5l-3.7 0.4M440.4 317.1l1.3 -5.2M487.8 404.1l5.8 2.8M294.6 459.7l-5.5 4.2M460.2 382.8l4.4 0.5M331 267.7l-0.7 -5.6M451.6 312.2l3.9 -4M490.1 379l6.7 1.6M308.6 323.1l-4.3 -1.6M517.9 426.6l3.9 2.9M500.5 301.4l6.1 -0.6M369.5 457.9l-1 6.9M314.5 442.4l-3.4 3.8" stroke="#2a7a3a" stroke-opacity="0.2" stroke-width="0.7" fill="none"/><path d="M493.2 466.4l7.3 2.9M368.1 268.2l-2.3 -4.4M322.3 370.4l-4.5 -1.2M378.1 320.5l-4.1 -6.2M285.8 449.3l-7.7 0.9M350.1 324.2l-6.9 -2.8M510.5 409l6.5 -1.7M513.8 298.2l3.1 -6.2M511.6 429.5l6 5.4M322.9 319.2l-3.2 -2.7M299.4 307.7l-2.2 -4.4M468.3 328.9l4.6 -7.6M313.6 349.7l-7.9 1.4M468.1 385.2l8 -0.6M290.1 288.2l-5.9 -4.8M462.1 310l2.1 -5M482.9 419.9l3.5 3.2M289.3 368.3l-4.9 -2M451.4 415.7l5 0.5M282.3 449.4l-6.4 5.6M500.8 408.2l5.3 3.8M396.8 273.8l-0.9 -6.7M332.8 334.6l-4 -6.6M388.9 450.9l-0.8 4.6M457.5 436.9l5.5 2.3M509.1 399.4l7.3 0.1M307 391l-5.7 -1.9M438.2 431.3l2.1 6.5M312 483.7l-5 4.8M325.3 286.5l-3.1 -6.9M439 322.2l5.2 -3.8M432.8 464.9l0.1 4.4M283.2 402.9l-5 4.4M486.8 283.5l5.8 -3M307.9 461.2l-5.2 7M329.9 298.4l-3.7 -3.5M448.6 470.8l-0.4 6.8M280.1 357.9l-3.9 1.2M472.9 291.6l3.7 -4.1M405.3 273.3l1.2 -4.4M376.6 286.8l-2.5 -5.9M518.3 277.1l1.7 -4.6M411.5 476l4.3 6.6M513 420.7l7 0.5M301.5 358.3l-8.9 -0.6M473.7 427.1l3.9 4.4M327.7 401.1l-3.1 2.6M321.8 343.4l-7.6 1.3M489 286.7l8.5 -2.2M426.6 449.8l3.5 8M484.1 274.3l6 -5.1M465.2 299.2l2.9 -3.3M322.8 390.4l-7.9 4M475.5 476l4.9 5.5M309.8 282.9l-4.9 -2.2M494.5 345.6l8.1 -2M494.1 462l5.9 4.7M338.2 389.6l-5.5 -1.1M290.3 405.4l-5.4 1.9M409.4 480.7l2.3 8.7M508.3 474.9l4.6 4.8M327.2 438.6l-6 2.4M499.8 402.5l7.1 2.3M311.3 366.7l-4.2 1.1M513.8 349.5l4.4 -1.4M294.4 398.9l-4.4 2.7M431.9 468.3l0.3 4.1M380.5 269.1l-0.9 -5.7M360 483.3l-4 4.1M473.3 439.8l4.9 4.2M481.2 292.3l0.9 -5M507.9 469.5l4.6 3.9M305.1 430.8l-4 5.2M489.1 275.9l3.2 -3.8M517.7 296.9l5.2 -1.3M360.2 469.1l-0.4 4.1M353.9 451.5l-3.1 3.3M491.5 479l7.7 2.4M395.2 314.2l-1.7 -4.3M311.2 328.9l-2.3 -3.7M459.8 369.6l7.9 3.8M329.3 322.1l-3.4 -3.6M464.6 382.1l5.4 1.5M506.3 277.5l2.4 -6M458.2 360.7l8.2 -0.6M508.7 393l5.3 4.6M471.5 340.3l4.5 0.1M295.3 467.9l-7.5 4.3M506.3 399l7.3 2.4M333.1 283.8l-4.9 -6M309.8 388.5l-4.9 2.1M488.9 401.4l6.2 4.7M465.7 459.4l2.2 5M331.4 268.4l-1.7 -7.2M358.7 483.5l-1.2 7.5M461.3 450.5l0.9 4.6M294.4 404.1l-7.6 0.1M374.6 453.6l0.5 4.1M284.4 387.5l-6 2.7M405.3 267.5l2.4 -3.4M491.2 281.8l5.1 -5.2M408.4 449.8l-2.9 6.6M442.6 466.1l0.3 4.6M356.3 467.3l-6.7 4.2M460.1 351.8l6.6 -0.4M293.9 384.2l-6.7 -1.3M455.5 349.8l7.4 0.2M395.4 449.4l1 5.2M316.9 479.9l-5.3 3.8M378.4 272.6l-0.7 -5.9M301.6 480.2l-4.5 5.2M286.9 320.4l-4.5 -3.4M321.6 372.4l-5.3 -0.7M458.9 402.4l3.7 2.5M503.5 343.3l6.6 -4.9M435 267.9l2 -7.9M368.8 316.8l-2.4 -7.1M293.1 325.6l-8.5 -1.6M368.9 473.2l1.2 8.8M333.7 303.9l-5.2 -3.4M440.8 459.6l3.7 2.3M306.8 334.2l-4.4 -1.6M510.6 479.7l3.7 4.9M311.6 399.7l-8.2 -1.8M313.5 302.9l-5 -6.9M461.8 281.3l0 -7.1M455.7 439.8l5.4 1.4M454.8 484.2l4.2 5.7M358.5 443.6l-3.4 8.2M332.8 483.8l-2.9 5.4M354.2 424.6l-5.9 6.6M483.9 353.9l6.1 0.6M511.5 431.2l5 5.6M499.2 474.4l5.3 4M281.7 381.5l-4.6 3.4M516.8 333.7l5.1 -7M365.8 437.4l-4.9 5.5M396.4 286.6l2.2 -7.9M471.7 374.4l6.4 -0.3M455.5 426.9l2.8 5M370 462.6l-5.4 6.8M288.1 385.5l-7.1 4.9M492.5 391.4l8.2 3.7M451.4 430.7l5.7 2.1M483.8 457.8l6.9 3.2M389.1 480.3l-4.5 5.6M496.6 305.3l5.6 -5.5M456.4 332.2l5 -5.4M466.6 374.2l6.1 3.8M346.9 267.7l-3.5 -7.7M434.1 447.6l4.7 7M515.4 351.7l7.5 1.4M378.3 451.4l-3.3 2.8M468.5 388.6l7.2 -0.5M462.3 457.1l3.6 4.7M332.2 321.3l-5.4 -6.3M324.2 267.5l-2.8 -5M324.1 384.7l-5.2 2.1M456.5 345.3l7.5 -1.6M369.6 273.6l-1.8 -8M410.9 464.3l-1.7 3.7M496.3 461.8l6.9 0.9M416.9 447.6l-0.8 4.6M354.1 321.4l-3.8 -1.7M504.1 304.1l3.9 -3.8M439.8 299.4l2.3 -3.6M452.6 295.8l3 -3M295.7 468.4l-3.2 6.7M377.7 278.8l-1.7 -4.1M489.3 464.9l4.6 6.3M374.9 449l-1.2 5.4M442 476.7l2.6 5.1M375.9 312.4l-0.1 -5.8M324.8 370.7l-5.3 -1M464.4 291.8l1.7 -6.2M332.8 316.9l-4.8 -2.8M492.9 457.1l6.6 4.4M389.1 310.5l2.3 -5.9M301.8 352.6l-3.9 -3M292.5 417.1l-6.6 0M452.1 428.8l4.7 2.5M422.6 277.4l4.1 -7.7M298.5 387.5l-6.7 4.2M303.7 416.1l-6.3 0.2M378.2 480.7l0.1 8.4M387.4 444.9l-4 6.4M283.9 443.7l-3.7 5M483.9 387.9l7 3.1M428.5 465.9l2.1 3.7M319.1 405.3l-3.2 4M312.6 304.7l-5.4 -4M390.8 269.3l-2.5 -6.2M301.9 279l-3.7 -2.9M319.8 367.7l-4.4 -1.9M488.9 337.2l4.3 0.6M300.1 408.3l-7.4 2.5M492.5 298.8l7.4 -1.6M493.9 451.7l4.8 3.9M482.4 349.4l3.3 -4.1M328.7 297.3l-7.1 -5M364.1 479l-1.9 7.2M305.2 346.3l-3.6 -4.1M380.4 478.6l1.8 5M494.4 283l6.2 -4.9M347.7 448.4l-5.8 2.2M413.1 472.3l2.4 8.3M444.9 425.3l7 1.8M444.1 432.6l4.5 2M296.2 385.2l-4.3 -1.5M379.1 483.6l-0.8 7.6M323.6 359.6l-5.6 -4.3M492.7 337.4l4 -0.8M471.5 443.6l3 6.5M309.9 472.8l-1.9 7.1M320.2 406.4l-5.4 -0.9M400.1 471.5l-2.5 4.9M505.6 459.2l5.8 5.1M290.5 314.7l-7.2 -0.4M372.4 445.9l-5.1 6.4M515 468.4l6.9 1.2M495 276.6l3.7 -2.7M326.9 430.9l-3.8 6.4M496.6 484.2l1.1 7.2M471.1 369.8l7.4 3.3M446 284.9l3.8 -4.5M367.3 303l-4.7 -4.2M393.2 288.2l-3.1 -7M503.1 290l6.2 -3.6M327.5 403.3l-6.6 1.4M324.2 370.6l-8 -1.8M338.2 339.5l-8.4 -0.1M382.6 267.2l1.1 -4.4M387.7 278.1l1.2 -4.2M461.2 309.6l1.3 -5.4M482.2 484.2l6.4 2.5M312.1 413.2l-4.6 -0.4M293 278.7l-7.3 -5.3M308.3 339.8l-4.6 -3.6M466.5 418l4.3 2.4M498.4 304.7l5.1 -2.7M517.3 272.2l5.3 -5.2M406.2 449.8l-0.2 4.5M355.6 431.3l-4.2 6.3M316.3 433.3l-6.5 3.7M457.8 473.4l1.6 5M472.4 324.6l5.6 -6.4M508 393.6l7.2 5.1M466.5 347.4l6 -1.9M472 357.4l7 -4.8M404.2 298.3l-1 -4.8M291.4 390.8l-6.9 1.8M470.2 385.6l6.9 -2.7M358.7 271.3l0.2 -4.8M312.4 396.5l-5.9 0.1M487.8 447.4l2.9 8.3M375.1 482l0.3 7.8M481.6 288.3l6.9 -4.9M450.2 457.6l4 1.9M504.4 308.8l6.2 -5.2M333.7 269.3l-2.6 -5.6M293 269.2l-1.7 -5.2M458.9 322.6l4 -4.5M449 328.8l4.1 -4M336.6 360.2l-7.5 -2M293.4 342.7l-6.9 0.1M366.9 306.5l-6.9 -4.8M496.1 287.4l5.2 -4.3M490.7 336.2l3 -3M489.5 397.1l7.7 0.7M415.5 465.7l1.7 4.5M444.9 464.3l0.8 6.3M306.2 406l-5.6 0.4M351 307.4l-1.8 -5M449.9 465.6l5.2 3.1M472.8 322.5l6 -4.6M385.9 273.4l0.8 -5.1M389.7 458.8l-1.3 7.9M514.4 267.2l4.5 -4M292.9 456.5l-4.1 2.4M344.7 349.9l-6.2 -1.3M320.9 412l-4.3 5.7M512 289.8l3.1 -4.1M495.4 288.7l5.7 -3.9M341.5 344.1l-3.5 -5.2M465.3 371.2l4.2 -1.1M474.8 361.3l5.9 -0.2M289.7 407.9l-5.5 5M379.5 453.2l-1.6 5.1M500.5 417.6l8.8 1.7M486.7 346.7l5.5 -4.9M497.9 346.5l8.5 -1.9M502 417.8l7.3 3.6M427.5 297.2l3.9 -7.2M462 381.5l4.4 3.4M464.2 414.6l5.9 5.7M371.8 474.8l-4 7.5M291 460.4l-7 4.2M391.1 441.8l-0.1 4.1M339.8 399.1l-5.6 1.3M494 356.1l3.2 -3.3M479.2 368.7l4.9 -3.8M304.7 266.8l-8.1 -2.6M416.7 315.1l3 -6.6M514.8 287.1l2.3 -5M349.1 313.1l-1.2 -4M345.7 429l-7.4 3.2M286 394.5l-8.3 -0.1M476.2 382.9l5.7 0.4M392.5 307.5l2.1 -7M435.9 268.9l3.6 -4.8M311.3 376.8l-7.4 -0.3M358.8 270.4l-5.2 -5.4M452.4 291.1l6.6 -5.9M488.1 306.9l5.2 -5.5M447 418.8l1.8 5.8M450.5 299.7l3.1 -7.9M491.6 298.3l3.8 -2.6M337.4 362.5l-4.4 -2.4M455.8 416.2l4.7 0.3M419 284.4l1.9 -7.3M502.3 444.9l4.1 6M294.7 420l-7.1 1.7M499.2 348.7l4.5 1.2M461.6 462l5.8 6.8M317.1 374l-6.4 0.6M467.5 321.1l4.5 -7.6M347.7 447.5l-4.1 3.2M476.3 471.7l7.6 4M286.2 362.6l-7.6 -1.4M509.1 481.9l6.6 3.4M375.8 280.9l0.3 -6M355.5 307l-0.6 -6.7M434 290.6l0.3 -6.2M473.6 357.8l6.1 1.2M513.8 333.5l6.6 -1.2M380.5 447.8l-3.5 5.8M373 298.9l-3 -5M283.5 434.3l-5.9 3.1M448 281.2l3.1 -3.5M289.8 456l-6.5 0.4M484.9 355.6l5.4 -1.8M463.5 367.3l6.9 3.2M503 481.8l4.4 5.2M304.7 389.9l-7.8 3.7M464.7 322.2l4.3 -6.2M422 435.6l-0.2 4.2M456.7 305.5l1.5 -4.1M461.9 425.1l4.2 4.1M314.8 399.4l-6.1 3.9M438.9 296.9l4.3 -7.7M499.9 412.4l4.1 2.9M445.2 432.3l6.3 3.8M510.2 464.9l2.3 5.7M516.9 341.7l4.1 -2.8M396.8 298.1l1.2 -5M284.5 400l-6 -0.3M330.8 270.1l-5.6 -6.2M350.4 470.3l-3 5M313.6 356.4l-6.8 -4.9M475.1 466l4.9 1.7M311.1 408.4l-5.9 3.2M449.8 314.6l3.8 -5.9M313.3 435.7l-4.8 1.1M461.5 361.9l5.2 -3.5M313.3 418.4l-5.5 2.1M367.8 324.7l-1.1 -4.7M383.3 299.9l-4.9 -6.8M334.7 300.9l-2.5 -6.3M287.5 468.2l-7.2 2.1M302.5 323.9l-8.1 -2M494.8 448.3l8.4 1.8M380.9 448.3l0.2 5.6M285 382.9l-6.2 2.6M341.8 404.6l-4.8 0.5M488 358.2l4.6 -0.6M350.5 289.5l-3.2 -6.8M344.8 320.5l-2.1 -7.3M332.7 368l-6.9 0.7M290.4 292.5l-5.9 -1.4M429.1 459.6l0.1 7M307.6 456.9l-7.1 4.9M477.4 386.5l5.9 -1.7M469.4 461.4l1 6.5M368.8 270.7l-1.4 -6M464.3 317.5l3.7 -1.9M325.7 452.3l-2.3 6.4M333.4 474.9l-0.7 4.2M423.6 467.9l3.6 3.5M490.4 328.8l6.8 -3M347.8 465.4l-1.5 5.1M326 419.4l-5.8 4.7M308.1 396.4l-5.6 0.8M436.3 267l2.7 -3.2M487 285.7l3.2 -4M478.6 334l4.8 -7.4M495.9 279.1l6.8 -1.6M452.1 465.8l-0.1 5.8M495.5 326.5l7.9 0.1M331 352l-7.1 -3.3M498.8 361.1l5.3 -3.3M345.5 457.3l-4.7 2.5M471.5 390.9l5.1 -2.2M308.2 447.1l-8.8 0.9M346.9 470.8l-2.2 5.8M496.7 445.3l6.9 2.6M305.6 306.5l-5.1 -1.4M331.4 457.8l-0.6 5.8M282.3 386.9l-4.1 0.1M286.2 368.9l-7 -0.8M331.6 449.4l-8 3.8M502.2 478.4l3.9 4.3M378.7 438l0 4.8M516.3 339.9l3.6 -1.7M489.1 287.6l5.2 -4.1M480.1 338l7 0.6M511.9 389.8l5.4 1.6M454.2 414.9l6.6 3.4M450.8 343.3l2.5 -4.5M412 303.8l-0.4 -5.4M512.4 381.4l6.7 -0.5M410.6 444.1l0.9 6.5M363.8 307l-4.2 -2.9M347.9 275.5l-2.3 -5.6M307.4 431.4l-5.8 2.3M382.6 439.8l1.4 7.3M458.1 347.4l2.6 -4.4M515.1 292.6l5.2 -0.6M292.2 356.1l-5.7 -2.4M466.6 479l4.9 2.7M331.4 267.7l-2.2 -4.9M493.2 288.3l5.1 -1.5M297.2 278.9l-3.2 -4M293.9 376.2l-6.7 4.5M389.7 469.1l-1.4 6.5M423 484.2l1.2 5.4M512.4 444.1l6.5 2M322.6 357.3l-6 -1M416.8 288.9l3.1 -6.6M326.6 320.9l-3.4 -2.4M290.6 278.4l-2.1 -6.2M342 295.4l-2.1 -6.9M373.7 285.3l-0.2 -5.4M463.8 353.9l7.5 -3.9M285.7 311.3l-6.1 -5.9M300.7 329.1l-5.4 -2.5M286.1 467.5l-3.8 5.4M287.6 391.1l-8.6 -1.2M484.8 457l7.1 1.6M379.3 314l0.5 -4.3M392.1 456.8l-1.2 4.6M335.6 463.8l-7.4 3.1M507.4 478l2.9 8.5M496.5 360.5l8.4 1.6M347.8 345l-7.4 -1.1M341.1 308.9l-1 -4.4M517.9 445.4l4.4 4.8M404.1 294.5l-0.7 -5.2M337.7 318.5l-3.9 -7.4M502.3 436.4l4.3 2.4M478.9 442.4l4 3.2M420.5 269.1l2.4 -4.6M362.5 285.2l-0.5 -7.7M477.3 417.4l4.1 6.9M289.6 471.9l-5.8 2.3M455.8 288.1l0.5 -6.9M454.5 340.5l3.8 -4.5M473.1 406.3l4.3 3.4M324.3 441.4l-6.5 2.6M427 481.4l2.2 7.2M348.1 333.4l-3.8 -7.1M510.2 416.2l6.4 1.4M504.9 429.6l5.8 1.2M290.8 436.7l-5 3.6M292.7 374.6l-8.2 2.1M457.3 432l4.6 5.6M339.5 413.6l-6.9 -0.1M496.1 402.7l5.2 2.4M316.4 307.8l-6.7 -5.1M471.2 313.5l3.2 -5.5M471.3 396.8l5.9 0.8M330.4 312.5l-6.5 -3.7M305 350.7l-4.1 -4.7M511.8 423.8l6.1 1.7M333.8 299.9l-3.3 -5.5M305.3 370.5l-4.8 -0.9M466.7 354.8l4 -4.3M330.6 402.1l-5.7 5.7M512.8 465.9l4.4 3.8M414.2 292l-0.5 -6.3M319.9 380.9l-7.5 0.1M380.6 480.6l2 4.7M361.8 319.6l-1.2 -7.9M389.6 295.3l-0.7 -7.6M516.2 464.9l8 3M306.2 443.2l-4.2 1.7M321.9 420.3l-2.3 3.6M487 379l5.2 3.5M467 315.8l4.8 -5.8M334.2 332.6l-5.2 -1.2M488.4 349.2l6.8 0.5M441.8 300.8l7.5 -4.6M480.1 338.5l7.8 -2.2M287.5 348.9l-7.2 -2.2M506 438.9l3.7 7.3M361.8 464.5l-2.8 2.9M301 375.5l-5.4 3M431.8 438.3l3.6 3.6M463.8 381.8l4 -0.6M505 326.8l4.8 -2.6M491.4 443l4 4.4M286.7 280.8l-3.8 -4.5M313.6 276l-7.3 -3.9M293.1 285.3l-4 -1.9M306.1 402.7l-3.9 -1M330 387.5l-4.8 1.1M343.1 406.3l-7.9 0.5M512.3 365.9l6.5 -1.8M512 278.8l4.6 -6.2M281.2 288l-8.5 -1.2M288.7 469.6l-5 0.7M424 286.1l3.5 -5.5M468.3 426.7l7.3 1.3M289.8 433.6l-4.2 1.7M343.7 302.2l-4.2 -7.7M414.6 456.8l1.4 4.1M332.3 396.6l-5.8 -1.3M335.7 325.3l-5.1 -6.9M455 299.1l2.2 -7.3M472.3 282.8l7.6 -4M285.9 301.5l-4.9 -7.1M349.7 441.2l-2.4 6.5M313.9 452.1l-3.9 6.5M368.6 322.8l0.1 -6.6M302.7 321.5l-2.9 -5.7M516.7 268.5l2.7 -6.7M329.4 296.2l-0.8 -6.4M510.3 346.7l8.5 -0.4M297.8 463l-5.3 0.7M311.6 462.8l-4.8 4.5M323.7 373.1l-7.7 -0.9M513.7 383.1l7.9 -3.2M490.5 339.9l6.3 -0.1M341 347.6l-6.6 -4.9M396.8 270.1l-1 -7.8M336.7 350.8l-3.3 -3.4M470.1 477.1l6.3 3.9M380.8 483.6l0 4M315.6 303.9l-3.5 -4.1M296.1 455.6l-3.1 5.3M304.2 381l-5.7 0.2M305.8 344.1l-6.4 1.1M399.6 449.8l3 6.3M430.6 284.7l-1.3 -4.5M406.5 305.4l-1.9 -5M493.4 298.3l7 -2.4M359.5 445l-0.2 7.4M447.8 297.3l1 -6.3M454.9 337.6l3.3 -2.7M498.1 386.9l6.5 2.9M432.2 473.4l0.3 8.8M472.5 297.6l4.5 -2.9M418.4 454.5l3.3 7.1M320.9 410l-4.2 1.8M427.3 279.9l4.2 -7.4M496.3 400.1l5.5 4.7M457.9 404.9l4.2 -0.5M451 451.2l4.8 3.5M385.3 450l1.9 7.5M328.1 311.9l-7 -3.3M491.9 356.4l4.7 -1.6M313.4 458.2l-2.7 3.1M370.3 275l1.5 -4.9M484.8 358.3l8.1 2.3M484.5 424.9l5.9 3.5M512 305.9l8.2 -2.2M385.6 451.5l-0.3 5.4M417.6 478l-1.3 5.1M436.8 467.1l1 5.4M491.9 459.3l3.1 6.8M325.9 379.6l-7.8 -4.3M290.1 332.8l-3.6 -3.7M323.5 433.5l-3.4 3.7M511.9 294l4.2 -5.4M460.3 281.3l2 -7.1M508.3 338.3l4.5 -5.8M504 404.7l7.3 4.5M294.4 428.7l-4.1 4.3M492.4 411.3l5.7 -0.9M434.8 279.6l-1 -5.1M321.1 429.6l-5.3 0M346.6 440.8l-5.9 5M424.3 297.2l5.9 -5.7M406.7 307.5l-0.9 -4.3M511.8 335.8l5.1 -1.7M288.3 438.7l-5.9 5.3M287.2 462.7l-7.6 2.6M330.3 474.6l-0.4 7.2M514 418.8l3.4 3.6M286.7 313.2l-7.9 0.6M326.3 281.8l-6.1 -3.2M467.1 365.1l7.5 2.5M511.7 308.4l5.7 -1.1M359.3 471.1l-3 4.8M341.1 424.2l-3.9 3.8M452.4 447.1l4 2.4M330.6 433.9l-6.7 3M472.6 317.6l1.9 -6.2M342.1 439.9l-3.2 4M443.1 315l3.4 -6.5M291.6 289.7l-3.5 -6.4M442.1 454.7l1.2 7.2M479.9 396.4l6.6 -1.1M336.4 285.4l-3.1 -3.4M477.5 325.3l8.3 -1.6M325.9 395.2l-3.6 3.4M332.6 311.2l-4 -0.8M472.5 455.2l7.9 2.5M285.7 453.5l-4.2 4.1M358.6 299.4l-1.1 -4.4M495.9 275l3.6 -3.6M308 358l-7.8 1.8M408.3 443.3l2.1 6.5M501.4 436.9l8.6 2.6M480.4 401.7l6.4 2.1M492.4 343.6l3.5 -3.1M338.2 287.5l-4.6 -7.6M470.3 365.6l5.8 -3.1M492.4 358.3l6 0.5M487.1 484l4.5 4.6M477 359.3l4.9 -1.3M353 322.8l-6.1 -4.9M307.3 436.9l-7.5 2.5M425.5 304.6l4.4 -4.8M467 395.4l7.1 -0.9M293.2 451l-2.5 3.2M446.2 455.5l6.2 6M339.4 293.3l-5 -2.5M509.2 391.9l6 -2.5M497.5 320l5 -6.1M344.6 296.5l-5.1 -4.3M333.9 295.4l-4.7 -4.6M319.4 293.4l-4.4 -6.3M402.4 309.5l0.6 -8.5M369.9 480.4l-3.6 4.8M309.7 397.2l-4.6 2.8M485.4 300.4l5.7 -6M469 352.7l5.2 0.7M508.1 428.1l8.5 2.3M351.1 459.1l-6.9 4.4M505.9 310.8l2.8 -3.9M288.5 341.2l-6.4 1.5M394.8 463.9l-4.1 6M485.1 374.3l3.5 -2.2M417.4 450.3l3.5 4.4M461 384.1l6 -2.1M449.4 463.2l0.5 4.3M362.1 442.6l-0.1 6.2M393.1 299l-2.4 -3.3M280.2 296.5l-6.8 -5.1M513.7 384.9l8.4 2.6M372.4 277.6l0.4 -4.7M319 406.1l-6.9 5.2M517.7 383l4.8 -1.6M449.7 468.9l3.6 3.5M314.2 312.1l-4.4 -2.7M336.8 411.1l-3.7 3.6M379.9 303.6l-2.9 -3.1M281.2 413.5l-4 1.3M492 400.5l5.5 0.7M292.9 300.7l-4.5 -1.2M359 289l-5.1 -4.9M466 364.2l3.7 -3.4M349.4 284.9l-0.2 -4.9M392.6 451.3l1.7 8.1M334 459.9l-3.7 3.6M503.3 368.2l5.5 2.7M485.8 468.6l6.7 3.5M291.5 271.4l-5.9 -6.3M490.6 475.3l0.9 5.1M345.3 305.7l-0.3 -5.4M504.1 343.4l6.4 0.5M471.7 462.2l5 3M402.3 470.2l-2.9 6.4M326.8 377.2l-8.6 -0.7M469.3 442.6l3.4 5.2M404.1 443.2l-4.2 7.3M411.4 452.3l1 5.1M341.1 441.7l-1.1 7.5M305.9 297.5l-3.6 -6M362.1 284l-1.7 -6.7M362.8 317.3l-5.2 -6.2M334.7 327.6l-3.4 -6.5M498.8 300.2l2.2 -4.8M325.2 350.9l-5.1 -5.6M420.9 298.4l-1 -5.8M399.7 304.2l2.4 -4.8M356.9 331.8l-7.6 -1.8M435.9 475l5.6 4.5M288.1 437.7l-4.1 2.7M348.7 415.3l-6.7 5.4M488.2 416.3l6.3 5.9M508.1 321.2l5 -5.4M308.1 341.1l-8.7 -1.1M353.7 468.6l-6.2 6.4M364.1 446.1l0.5 4.3M295.1 339.6l-3.7 -3.6M386.6 452.1l-0.2 6.4M361 277l1.1 -6.2M511.7 469.7l3.6 2.6M478.9 300.2l1.9 -3.9M300.1 427.9l-7.5 -0.9M292.1 419.8l-5.8 5.5M298.9 480.2l-2 7.7M324.7 410.2l-4.3 2.3M315.8 286.6l-4.1 -4.9M482 267.5l0.7 -5.7M411.8 302.7l3.7 -4.2M424.5 310.6l5.9 -4.5M301.4 449.5l-3.1 4.8M436.2 452.1l3.5 3.3M399.5 311.2l3.6 -5.5M286.2 359.9l-4.9 1.2M420.4 473.1l0.9 6.3M446.8 453.8l6 6.5M322.3 466.4l-6.5 2.7M315.1 438.6l-2.2 4M308.9 345.5l-5.3 -3M503.6 360.3l6.6 -1.8M281.3 322.4l-5.4 -5.4M378 307.9l1.5 -5M382.7 462.4l0.5 8.4M388.7 315.1l-5.1 -7.1M394.8 269.3l-0.6 -6.3M283.5 299.7l-5.5 -3.4M352.4 278.5l-3.3 -4.5M304.8 397.3l-5 0.9M449.3 269.8l3.6 -5.4M493.2 417.1l6.8 4.6M333.5 443.9l-5.4 5.6M500.7 277.3l5 -7M409.4 440.3l0.7 4.8M283.7 274.6l-8.1 -3.3M381.8 292.9l-1.8 -8.5M483.9 326l4.2 -4.7M354 474.2l-0.2 4.1M439.2 478.7l5.1 6.4M504.9 366.2l6.8 0.5M427.3 458.3l4.4 7.3M492.7 335.5l5 -5.5M517.1 411.6l4 4.4M307.6 429.4l-3.3 6.4M389.7 292l-5.1 -7.4M309.9 470.3l-5.4 4.2M342.8 300.2l-5.2 -2.1M328.1 374.7l-5.6 -2M313.9 311.6l-4.2 -5.1M355 311.7l-3.2 -3.3M370.5 440.3l-1.3 5M457.7 311.8l4 -1.2M498.1 335.5l4.9 -2.3M330.2 438l-7.5 3.8M375.3 449.7l0.4 8.7M439.4 304.3l6.7 -5.9M350 280.5l-5.5 -3.6M389 452.5l0.9 6.8M330.6 388.3l-6.2 -2.1M321 368.2l-6.2 0.2M324.5 350.2l-6.7 0.2M504.2 371.8l4.7 -3.3M307.7 370l-7 0.7M455.3 404.4l4.3 -0.4M412.8 316.6l2.6 -5.1M334.5 403.7l-3.5 5.3M459.9 441.7l1.9 8.7M343.4 420l-4 4.6M307.9 398.6l-7.5 -0.7M316.4 311.3l-7 -1.6M491.4 468.8l6.3 3.4M423.4 464.7l0.5 7.9M410 460.6l-0.8 7M354.1 290.1l-5 -4.6M511.2 314.9l6.4 -5.5M325.8 392.4l-5.2 -2.1M427.3 288.7l-0.9 -5.5M386.1 445.3l0.7 7.4M477.9 273.1l0.4 -5.2M506.9 383.4l6.5 4.9M301.9 462.8l-3.6 1.9M469.1 350.5l8.4 -0.4M318 283.3l-4.3 -5.2M324.8 382.3l-4.2 1.3M439.6 299.6l0.2 -6.6M490.3 312.7l8.6 -1M510 328.2l4.4 -6M511.8 417.5l4.2 -0.4M305.2 342.5l-6.7 -5.6M357.8 443.1l-2.4 3.3M372.9 283.1l-0.8 -8.6M517.4 406.1l7 -1.4M393.6 462.1l-1.6 6.6M282.9 314.3l-4.9 0M293 431.3l-8.7 2.1M478.1 312.3l5.5 -6.1M483.8 318.5l4.6 -3M333.4 323l-3.9 -6.5M514.4 409.3l5.6 1.4M498.8 390.2l8.8 0.9M386.4 273l-0.8 -5.6M282.8 362.4l-4.5 0.7M490.8 466.1l2.9 3.5M396 278.4l0 -5.5M295.8 400.2l-5.9 3.9M415.2 470.2l0.2 8.5M429.3 458l0.8 4.9M282.6 345.8l-6 -2.7M501 410l7.2 1M469.4 294.9l5.4 -6.5M409.5 483.6l2.6 3.8M421.9 316l4.2 -3M367 315.8l-4.2 -3.1M512.8 426.8l5.8 -0.3M512.6 460.6l2.1 3.9M411.5 481.3l1.2 6.1M282.1 392.2l-4.9 -1.7M333.4 459.1l-4.9 2.8M450.3 470l4.2 5.4M342.7 317.8l-3.8 -2.4M355.7 446l-2.2 3.4M401.1 301.1l-2.5 -7M457.2 303.6l3.5 -7.6M302.6 299.4l-4.9 -1.1M354.9 478.2l-1.7 5.6M459.6 282.8l3.8 -2.4M358 304.7l-1.1 -4.8M513.1 353.6l7.3 -1.9M328.7 335.3l-5.5 -1.3M469.3 286.5l4.8 -3.5M288 476.6l-6.1 3.7M325.9 311l-2.2 -7.9M283.6 444.7l-2.6 4.3M422.3 287.4l5 -6.5M348.3 298.2l-1.8 -6.3M289.1 420.2l-4 2.3M319.4 284.3l-5.5 -3.8M497.3 463.6l5.6 5.2M483.2 482.2l1.8 7.5M352.8 282.9l-2.3 -4.6M462.4 426.6l4.6 7.2M351.3 278.7l-4 -5M487.4 464l3 6M385.4 474.3l-1.9 7.8M515.3 299.1l6.8 -4M356.7 294.3l-0.3 -6.9M322 462.4l-3.3 8.3M360.1 292.7l0.5 -5.3M480.3 474l4.1 5M294.8 359.7l-5 -4.7M295.4 409.8l-4.1 -1.1M328.2 417.9l-4.6 5.5M322.7 353l-3.7 -2.3M511.6 384.7l6 0.5M314.4 427.7l-4 6.3M370.2 293.4l-6 -4.5M487.6 280.8l2.9 -7.6M503.9 457.3l2.9 3.8M382.6 303.2l1.8 -6M284.7 419l-6.7 -0.7M483 290.3l3.7 -6.5M292.9 303.2l-8.1 -1.6M499 298.8l3.1 -8.1M422.3 468.3l-1.8 4.8M415.9 442.9l-1.9 4.9M331.9 458.1l-6.5 1.9M490.8 429.8l7.5 1M477.9 422.4l4.5 0M304.3 314.4l-4.9 -6.1M503.7 299.7l3.9 -3.4M342.2 427l-7.5 3.3M406.7 299.9l3.7 -7.4M465.4 286.6l4.1 -3.1M472.6 401.2l8.4 2M334.1 370l-5.5 0.2M466.6 337.1l6.9 -3.1M285.2 377.9l-8.2 -1.4M483 405.9l8.8 -1.9M381.4 309.7l-3.8 -6.8M284.2 400.5l-5 2.7M331 421.6l-2 3.9M491.6 469l1.6 8.6M505 477.3l5.7 2.4M472.9 467.6l6.6 2.7M407.5 294.7l3 -6M317.7 469.6l-5.5 6.3M292.5 414.1l-5.4 2.6M313.6 408.4l-6 2.8M318.7 325.1l-4.9 -4.7M431.1 429.2l1.2 5.7M310 403.1l-8 -2.1M474.7 446l6.3 3M350.7 454.4l-2.8 4.6M411 270.6l-1.2 -4.4M469.8 437.8l4.2 1.4M515.3 302.8l7.1 -3.6M487.9 427.2l3 3.3M450.6 275.8l1.9 -8.5M295.7 452.6l-2.9 5.9M399.9 307.9l1.6 -5.9M459.7 301.9l5.1 -1.8M429.9 307.1l0.7 -7M297.8 410.1l-3.4 3.1M441.7 477.3l0.4 4.3M314.1 279.4l-3.9 -1.1M454.3 464.4l3.4 2.3M291.3 355.4l-5.5 1M474.5 289.4l2 -6.9M435.9 294.9l4.2 -2.7M437.6 484.3l4.8 4.7M475.5 280.4l4.4 -5.1M498.9 436.5l4.8 2M295 483l-2.1 5.9M316.5 270l-7.6 -3.9M414.4 472.5l0.3 7.8M347.9 413.5l-4.6 6.6M334.5 356.3l-5 -4.9M453 299.4l0 -4.5M324.9 312.5l-5.7 -3.9M399.1 466l-1.9 6M294.5 373.6l-4 1.4M325 350.4l-3.1 -3.6M351.7 333l-3.6 -2.4M467 385.7l8.2 2.3M479.2 364.7l4.2 -2.2M470.1 279.3l3.4 -3.5M420.7 275.1l4.2 -4.4M428.6 479.4l2.3 5.9M475.9 452l2.9 4.3M471.5 345.7l7.8 -3.6M486.8 294.8l1.5 -5.8M484.6 460.5l4.8 4.3M511.4 350.9l4.4 -3.4M499.1 441.5l4.4 5M479.3 412.4l3.8 2.6M487.9 370.3l6.1 0.6M325.5 315.7l-2.1 -7.1M307.2 411.5l-4 5.1M318.5 333.1l-7.5 -0.4M460 483.6l6.3 5.2M371.3 318.5l-0.1 -7.3M508.4 322l6.9 -0.5M435.6 266.9l4.2 -5M328.3 352.5l-8.6 -2.4M482.7 366l8.4 1M351.7 278l-5.4 -3.5M351.4 450.4l-2 8.6M319.6 343.6l-6.2 0.2M472.4 300.9l3.1 -5.9M434.2 292l4.6 -4.5M284.1 308.8l-2.6 -3.5M440 319.4l1.8 -8.3M423.3 281l-0.6 -4.2M505.5 462.5l5.4 0.8M431.4 309.9l6.8 -5M466.5 436l3.4 7.1M283.1 418l-6 -1.5M467.3 365.3l7.5 -0.5M427.1 268.4l-0.2 -5.1M447.7 466.3l1.3 7M431.7 298.5l2.4 -4.7M459.8 358l6.5 -3.6M355.1 303.5l-2.7 -5.5M306.3 469.3l-3.5 1.9M362.7 471l1 5.3M475.1 411.9l5 3.6M326.5 409.1l-4 5.6M318.7 360.5l-4.3 -1M459 427.5l2.9 3.2M516.7 398.8l8.8 -1.2M332.7 337.9l-5.1 -0.6M473.5 435l2.3 3.5M432.2 324.6l3.4 -2.2M312.2 322l-3.4 -4.4M505.4 466.2l3.6 7.4M392.6 278.9l-2.5 -4.5M307.7 296l-5.5 -1M350.5 453.1l-2.9 4.3M482.9 270.1l5 -5.8M287.3 460.7l-3.5 7.2M509.2 392.4l7 -1.5M287.4 420.3l-5.5 5.2M288.2 391.9l-5.3 1.7M487 389.9l4.3 1.7M507.4 370.3l6 -4.1M351.8 332.1l-4.4 -4.3M307.4 417.2l-3.2 2.8M419.6 271.9l3 -4.8M454.5 348.5l4.8 -0.9M487.3 284.4l4.4 -4.2M445.3 310.8l5.4 -6M470.5 473.3l3.1 6.8M351 326.2l-2.3 -5.4M495.2 379.3l8.7 1.8M455.3 341.8l7.4 -5M404.7 305.1l-0.2 -5.8M457.2 301.2l3.6 -3.4M392.9 458.9l-0.1 4.1M478.3 431.2l4.7 3.4M374.7 267.8l-2.3 -3.7M488 308.5l4.5 -3M283.2 439.8l-4.3 4M329.5 374.2l-4.7 0.8M305.2 308.2l-6.1 -2.7M305.6 456.6l-3 3.1M349.9 279.3l-2.8 -4.7M444.3 323.1l5.4 -2.3M330.7 437.9l-4.4 7.4M482.9 348.1l4 -5M337.9 319.1l-2.1 -4.6M506.8 336.1l6.6 -4.5M418.6 309l2.4 -8.2M420.8 439.7l2.2 6.3M316.4 315.3l-6.5 -6M284.4 307.5l-5.9 -3.6M515.8 463.5l2.3 3.7M514.4 429.2l8.4 2.5M470 422.8l7.5 3M469.6 396.7l8.8 0.6M427.8 454.2l0.8 7.8M314.8 300.6l-3.4 -4.4M287.9 410.4l-3.6 2.8M451.3 473l4.3 2.8M484.5 395.2l7.7 3.9M311.1 345.6l-4.9 -1.4M348.1 454.4l-1.8 8.3M518.4 476.3l2.4 5.4M505.6 426.7l4.8 3.3M462.9 340.7l3.4 -5.4M317.3 440l-5.1 2.2M348.1 285.6l-5.3 -5.1M328.8 367.6l-5.4 -3.7M311 331.6l-3.8 -5.9M423.3 312.4l5.7 -6.7M333.2 346.9l-3.1 -2.8M332.1 446.8l-6.8 3.4M288.7 396.2l-4 0.6M464.6 297.2l4.1 -4.6M316 310.6l-6.8 -1.9M316.4 314.8l-3.8 -7.8M306.6 391.5l-4.6 4M340 408.4l-4.1 -0.3M348.1 342.4l-8.6 -1.4M311.2 369.6l-5.5 0.7M419 473.7l4.1 4.5M369 452.5l0.8 6.1M339.6 316.1l-4.8 -3.1M440 423.4l3.8 1.8M476.1 457.5l7.2 3.3M445.2 283.1l0.8 -7.3M480.3 450.4l3.4 5.4M505.3 461.3l5 5.3M313.6 366.5l-4.1 1.6M329.5 473.4l-3.4 4.2M396.9 306.9l2.4 -8.7M492.7 331.9l8.5 0.3M504.6 305.4l2.2 -4.3M301.5 419.5l-3.8 1.8M291.2 423.7l-7 5.3M352.9 451.1l-2.1 8.7M392.2 298.5l-1.5 -6.6M511.9 425.1l6.4 6.3M476.7 350l5.1 -5.3M363 467.4l0 8.9M342.3 458.4l-5.1 3.6M452.2 480.3l2.3 6.2M464.1 316.7l3.9 -1.6M445.5 430l7 3.8M489.3 406.2l8.1 3.3M486.4 279.1l3.4 -3.4M297.2 459.7l-4.3 0.9M335.6 420.5l-4.3 5.5M358.4 319.2l-5.2 -4.2M308.8 418.5l-5.3 -0.6M451.3 463.1l1.5 5.7M359.1 483.3l1 5.4M281 384.9l-6.8 2.3M366.7 307.9l-1.7 -6.5M286.5 458.7l-4.2 3.2M332 413.4l-5.6 2.3M300.7 480.6l-3.3 5.2M481.9 330.8l6.5 -4.5M307.9 391.8l-4.7 2.7M516 470.8l3.2 5.5M310.9 393.3l-4.9 -0.6M421.9 314.6l6.2 -4.9M394.5 478l3.1 5.4M498.8 380.5l8.2 -3.2M371.4 269.8l0 -4.3M287.9 315.1l-3.3 -5.2M336.3 267.6l-2.2 -7.2M313.1 468.9l-8 2.4M476.4 385.8l7.1 -2.5M299.4 443.3l-3 7.2M402.3 271.7l-2.5 -6.3M509.1 336.1l5.3 -4M495.6 268.5l2.1 -5.1M458 347.7l6.5 -5.2M310.1 365.8l-4.2 1.3M331 305.8l-4.9 -4.4M313.7 269.2l-1.4 -4.1M447.6 300.1l1.8 -5.4M500.1 356.5l5.8 -4.9M289.9 315.7l-6.5 -3.1M488 445.9l2.2 7M509 459.1l3.8 2.2M314.7 400l-4.8 4.5M299 368l-7.1 0.2M446.5 420.9l5.7 2.2M487.4 275.5l1.7 -4.7M303.9 378.8l-6.7 -1.4M297.7 425.1l-4.5 2.9M309.7 450.2l-6.8 2.1M402.8 290.7l-2.7 -5.3M303.6 442.4l-3 2.7M290 433.2l-4.6 7.7M366.8 479.3l-0.5 5.2M515.4 467.4l3.8 4.5M469.4 343.9l3.3 -2.3M445.2 476.8l3.1 5.4M285.4 465.6l-3 8.2M281.5 335.1l-3.7 -2.9M487.4 385.6l8.5 -2M326.8 350.3l-6.3 0.1M499.6 430.3l5.4 0.9M436.1 435.8l7.6 4.3M326.7 349.4l-8.3 -2.7M451.5 447.4l4.4 4.5M465.1 406.2l8.9 1.3M507.3 372.7l8.3 1.1M414.4 453l1.9 4M396.3 445.3l-1.9 4.6M301.1 343l-5.3 -3.5M404.7 451.8l1.5 7.3M488.1 332.9l3.5 -3.4M339.8 443.1l-3.1 6.7M380.2 461.6l0.9 8.8M505.1 279.4l5.1 -7.4M507.6 273.5l7.2 -1.9M475.6 391.3l4.7 -0.6M504.9 455.5l4.6 2.2M330.9 456l-3.5 2.9M487.8 429.2l7.9 -0.3M473.2 439.4l3.7 1.5M454.2 456.1l0.9 6.6M301 323.3l-5.4 -6.1M333.3 390.7l-6.2 -0.5M461.7 418.3l3.8 4.4M324.8 341.6l-6.1 0.3M494.5 451.8l5.3 1.3M301 459.6l-7.2 3.1M496.5 354.1l3.6 -3.2M375.3 434l-1.5 4.2M299.5 313.4l-5 -4.6M504.8 336.5l3.2 -4M324.8 274.3l-3.6 -1.8M496.2 372.5l4 -2M447 480.2l5.3 5.7M316.9 272.4l-0.8 -8.4M513.2 349.5l6.2 -4.1M306.9 267.2l-1.9 -5.3M326.6 364.2l-8.6 -0.9M516.1 424.2l2.9 3.6M325.1 410.1l-4.4 2.2M316.1 356.8l-8.3 -3.1M348 313l-1.2 -6.9M487.9 373.1l5.5 0.3M291.2 374.9l-6.6 -4.3M301.8 310.3l-4.8 -4.3M509.8 290.1l3.6 -2.9M469.2 272.9l4.4 -3.9M380.3 305.7l0.2 -4.4M443 432.9l4.4 4.1M499.2 283.2l5.5 -5.7M504.8 332.9l3.4 -4.5M492.6 447.5l4.1 1M348.8 272.9l-0.3 -6.5M513.5 333l4.4 -3.4M309.8 373.9l-7.8 -4.1M428.7 454.6l2.3 6M446 310.6l4 -5.7M322.5 406.7l-4.2 1.9M293.3 384.3l-4.3 -1.4M284.4 442.5l-5.5 -0.2M358.4 298.2l-5.2 -5.2M473.9 370.8l5.3 0.1M333.2 324.4l-4.1 -1.5M332.2 301.3l-4.3 -4.3M392.3 452.9l0.8 4.6M283 464.9l-6.1 5.8M481 389.1l7 5.1M359.1 327.4l-0.9 -6M285.8 350.5l-8.6 -1.1M469.6 462.1l3.4 8M504.2 442.1l7.7 0.2M312.2 337.8l-6.2 -0.8M305.6 299.8l-6.3 -0.6M469.2 357.5l4.5 -2.9M473.5 425.5l7.8 0.1M363.8 291.9l-5.9 -5.6M500.3 341.4l4.7 -0.5M324.2 345.9l-5.3 -3.2M469 477.4l4.5 5.5M478.8 385.7l6.6 3.5M446 459.9l1.7 6M491.1 372.9l7.7 -2.5M318 452.4l-6.6 1.3M309.1 462.4l-2.1 4.8M416.9 277.1l2.9 -7.4M357.5 467.6l-4.5 4.7M301.8 333.6l-6.3 -4.6M447.3 417.7l1.7 3.8M290 319.5l-4.9 -2.6M302.9 360l-4.7 0.1M362.2 291.4l-6.7 -4.5M328 461.2l-5.7 1.9M516 354.3l7.8 -1.5M363.3 451l1 8.6M451.5 300.8l1.5 -6.2M486.1 437.9l3.4 4.9M337.1 434.9l-7.2 1.1M342.6 354.3l-7.9 -0.7M462.5 451.8l2 4.4M349.3 326.2l-2.5 -5.2M442.8 443.5l0.7 4.9M485.2 313.2l5.9 -2.4M283.9 352l-6.6 -1M400.4 449l-1.2 4.4M347.4 284.9l-5.2 -3.6M389.5 303.4l-3.4 -5.2M517.5 312.3l5.8 -2.3M440.7 294.9l2.5 -7.9M299.8 360.4l-7.1 0M453.6 334.5l8 -1.2M474.8 280.3l3.9 -4.7M371.3 307.1l-5.2 -4.6M320 357.8l-8.9 -0.9M510.3 413.3l5 5.3M392.6 440l3.9 7.4M502.8 273.7l1.9 -6.9M460.3 361l4.6 0.7M339.1 463l-3.8 4.6M334.9 340.2l-4.4 -1M346.4 416.9l-2.3 4.1M512 406.5l3.4 2.8M461 399.5l8.1 3.4M313.2 269.2l-2.9 -3.3M411.9 448.3l2.7 3.4M302.9 345.9l-6.9 -5.2M290.5 395.5l-4.3 2.3M356.7 320.4l-4.6 -3M346.7 272.6l-4.4 -5.3M330.1 355.8l-8 -3.5M451 276.2l4.4 -5.1M486.2 432.4l1.7 3.9M284 434.5l-6.3 -0.3M505.8 429.5l3.5 2.6M308.2 359.2l-4.6 0.2M292.6 384.2l-4.1 1.6M465.4 330.5l6.8 -1.2M431.7 445.1l5.9 6.4M324.5 483.3l-3.4 7.9M500.8 285.5l4.9 -1.5M304.9 454.4l-4.8 1.8M310.4 375.8l-6.8 -0.6M485.8 274.3l6.8 -3.3M470.1 360.4l5.3 0.5M462.2 446.3l6.3 1.6M285.7 387l-4.2 -0.2M311.8 435.8l-3.8 1.4M333.2 484.4l-3.5 5.3M482.5 328.4l6.3 -6.2M288.9 327.6l-5 -3M295.9 463.8l-7.3 3.1M515.7 278.1l7.1 -2.1M322.6 356.4l-3.6 -3.5M392.4 447.6l-1.2 5.1M457.9 341.2l2.6 -4.6M327.8 336.5l-5.6 -0.3M421.4 300.4l0.5 -5.1M515.7 421.2l3.6 3.6M503.8 338.6l7.8 -1.6M412.1 463.8l-0.3 7.3M503.4 366l3.5 -2.9M489 478.5l4.7 2.5M416.8 271.3l-1.6 -4.2M326.8 416.5l-7.8 0.7M469.8 425.4l4.3 3.6M476.7 320.4l2 -5.4M423.4 291.6l-0.7 -6.2M307.7 460.1l-5.6 1M473.3 308.1l3.4 -5.7M324.7 314.2l-2.8 -7.4M383.2 304.7l-2.2 -4.4M368.7 459.3l-2.3 6.2M429.4 305.3l1.8 -5.6M295.7 333.3l-6 -3.4M343.5 282.5l-5.6 -4M281 476.6l-7.5 1.3M356 434.5l-6 5.7M288.1 326.5l-5.5 -2M416.5 307.1l-1.7 -4.8M375.9 292.3l-3.9 -3.4M481 316.2l5.6 -3.4M289.9 385.7l-7.4 3.1M458.7 430.4l5.9 1.9M321.5 331.3l-6.8 0M354.1 298.8l-5.2 -4.2M476.2 280.4l4.8 -3.3M478.8 352l8.6 1.3M326 416.8l-4.1 1.3M334.7 307.4l-5.5 -4.5M293.6 299l-7 -3.8M465.9 401.3l4 0.7M423.1 319.9l3.9 -2.6M385.3 482.1l2.1 4.7M479.2 290.8l3.2 -3.7M346.5 294.8l-4.2 -2M382.1 296l-2.7 -3.2M362.2 442l-1.8 3.8M502.4 278.2l3.3 -3.4M363.7 281.5l-0.1 -8.2M474.4 379.9l5.1 0.7M465.5 375.3l5.6 0.1M444.6 306.4l3.7 -7.6M461.2 303.9l3.1 -3.8M283.8 361.4l-4.5 1M367.2 461.9l-0.7 7M280.5 362.5l-6.6 -3.5M510.3 270.4l4 -5.2M386.2 445.3l-1.5 6M461 456l4 5.6M304.2 348.6l-4 -2.9M440.1 296.3l5.4 -4.2M482.3 348.7l5.6 -1.7M379.7 479l-5.1 6.5M518.4 289.7l6.1 -6.3M342.4 397.6l-4.6 3.8M512.5 306.5l3.4 -2.8M476.7 442.1l5.2 3.5M313.3 440.5l-4.4 6.4M439.5 461.2l4 4.2M457.5 402.4l5.9 -1.1M357.3 420.2l-3.4 3.6M463.7 342.4l4.4 -1.3M496.4 347.6l6.1 -2.3M484 338.6l4.3 -2.9M476.5 428.5l2.8 4.1M515.4 340.1l7.9 -0.6M427 317.2l3 -2.6M359.1 446l-6.8 4.7M454.8 424.9l2.6 7.7M499.3 458.4l2.1 5.2M301.9 306.8l-6.5 -5.2M507.5 338.8l3.1 -3M490.6 442.8l4.2 4.5M288.7 470.8l-2.6 4.7M324 440l-3.9 4.1M493.9 427.7l5.1 5.7M404.6 451.4l-0.9 4.8M393.3 472.4l-4.1 6.3M339.5 311.9l-4.9 -2.6M455.8 430.2l6.2 6.3M515.4 393.8l8.9 -0.7M336.4 480.6l-3.5 2.7M353.3 472.8l-3 4.8M305.3 272.4l-7 -1.7M456.8 337.5l2.2 -3.6M448.1 448l4.4 7.6M291.1 411.7l-5.7 1M321.7 353.2l-4.6 -2.5M505.9 346.8l6.5 -0.7M462.2 344.7l5.1 -1.5M512 342.6l4.7 -2M494 453.1l4.1 1.2M336.3 436.5l-3 6.8M468.4 455.2l6.3 5M475.3 323.4l4.3 -7.5M475.7 433.2l5.2 4.2M291.3 424.1l-7.9 3.9M370.5 468.9l-1.5 4.9M444.8 429.3l5.1 2.2M444.5 294.1l-0.7 -8.1M490 444.3l2.9 5.9M465.8 413.2l5.3 0.1M307.8 287.6l-3.9 -6.3M505.5 350.1l5.7 1.1M468.7 480.1l0.2 4M378.6 440.6l-1.8 4.7M459.4 423.6l7.4 1.3M498.2 278.6l6.2 -5.3M428.3 315.1l5.4 -5.9M339.5 469.3l-5.2 3.2" stroke="#c8f8d0" stroke-opacity="0.35" stroke-width="0.8" fill="none"/><path d="M392.5 294.5L387 262.2M394.6 294.5L390.7 262.4M396.8 294.5L394.4 263.1M398.9 294.5L398.1 259.3M401.1 294.5L401.9 263.4M403.2 294.5L405.6 258.2M405.4 294.5L409.3 261.8M407.5 294.5L413 255.4" stroke="#1e5a2a" stroke-opacity="0.75" stroke-width="1" fill="none"/><path d="M393.6 294.5L388.9 260.8M395.7 294.5L392.6 264.2M397.9 294.5L396.3 263M400 294.5L400 259.7M402.1 294.5L403.7 255.3M404.3 294.5L407.4 259.3M406.4 294.5L411.1 260.3" stroke="#d8ffe0" stroke-opacity="0.5249999999999999" stroke-width="0.9" fill="none"/><path d="M392.5 459.5L387 493.7M394.6 459.5L390.7 498.7M396.8 459.5L394.4 498M398.9 459.5L398.1 496.6M401.1 459.5L401.9 492.2M403.2 459.5L405.6 498.3M405.4 459.5L409.3 497.4M407.5 459.5L413 490.6" stroke="#1e5a2a" stroke-opacity="0.75" stroke-width="1" fill="none"/><path d="M393.6 459.5L388.9 494.5M395.7 459.5L392.6 493.5M397.9 459.5L396.3 490.2M400 459.5L400 490.7M402.1 459.5L403.7 490.4M404.3 459.5L407.4 498.4M406.4 459.5L411.1 494.5" stroke="#d8ffe0" stroke-opacity="0.5249999999999999" stroke-width="0.9" fill="none"/><path d="M317.5 369.5L282.3 364M317.5 371.6L280.3 367.7M317.5 373.8L277.6 371.4M317.5 375.9L281.6 375.1M317.5 378.1L280.4 378.9M317.5 380.2L287.5 382.6M317.5 382.4L287.3 386.3M317.5 384.5L280.7 390" stroke="#1e5a2a" stroke-opacity="0.75" stroke-width="1" fill="none"/><path d="M317.5 370.6L278.5 365.9M317.5 372.7L287.5 369.6M317.5 374.9L278 373.3M317.5 377L287.3 377M317.5 379.1L281.3 380.7M317.5 381.3L283.1 384.4M317.5 383.4L286.9 388.1" stroke="#d8ffe0" stroke-opacity="0.5249999999999999" stroke-width="0.9" fill="none"/><path d="M482.5 369.5L520.2 364M482.5 371.6L514.1 367.7M482.5 373.8L514.8 371.4M482.5 375.9L515.2 375.1M482.5 378.1L512.7 378.9M482.5 380.2L518.7 382.6M482.5 382.4L513.3 386.3M482.5 384.5L515.3 390" stroke="#1e5a2a" stroke-opacity="0.75" stroke-width="1" fill="none"/><path d="M482.5 370.6L515.8 365.9M482.5 372.7L515.2 369.6M482.5 374.9L518.1 373.3M482.5 377L521.6 377M482.5 379.1L514.8 380.7M482.5 381.3L517 384.4M482.5 383.4L516.4 388.1" stroke="#d8ffe0" stroke-opacity="0.5249999999999999" stroke-width="0.9" fill="none"/><path d="M416.1 340.1h21.8v21.8h-21.8ZM416.1 392.1h21.8v21.8h-21.8ZM362.1 340.1h21.8v21.8h-21.8ZM362.1 392.1h21.8v21.8h-21.8ZM410.1 318.6h21.8v21.8h-21.8ZM410.1 413.6h21.8v21.8h-21.8ZM368.1 318.6h21.8v21.8h-21.8ZM368.1 413.6h21.8v21.8h-21.8ZM435.5 344.7h21.8v21.8h-21.8ZM435.5 387.5h21.8v21.8h-21.8ZM342.7 344.7h21.8v21.8h-21.8ZM342.7 387.5h21.8v21.8h-21.8ZM410.1 299.6h21.8v21.8h-21.8ZM410.1 432.6h21.8v21.8h-21.8ZM368.1 299.6h21.8v21.8h-21.8ZM368.1 432.6h21.8v21.8h-21.8ZM456.1 344.7h21.8v21.8h-21.8ZM456.1 387.5h21.8v21.8h-21.8ZM322.1 344.7h21.8v21.8h-21.8ZM322.1 387.5h21.8v21.8h-21.8ZM433.6 321.6h21.8v21.8h-21.8ZM433.6 410.6h21.8v21.8h-21.8ZM344.6 321.6h21.8v21.8h-21.8ZM344.6 410.6h21.8v21.8h-21.8ZM433.6 300.4h21.8v21.8h-21.8ZM433.6 431.8h21.8v21.8h-21.8ZM344.6 300.4h21.8v21.8h-21.8ZM344.6 431.8h21.8v21.8h-21.8ZM453.6 321.6h21.8v21.8h-21.8ZM453.6 410.6h21.8v21.8h-21.8ZM324.6 321.6h21.8v21.8h-21.8ZM324.6 410.6h21.8v21.8h-21.8ZM453.6 301.6h21.8v21.8h-21.8ZM453.6 430.6h21.8v21.8h-21.8ZM324.6 301.6h21.8v21.8h-21.8ZM324.6 430.6h21.8v21.8h-21.8ZM424.3 366.1h21.8v21.8h-21.8ZM353.9 366.1h21.8v21.8h-21.8ZM389.1 330.9h21.8v21.8h-21.8ZM389.1 401.3h21.8v21.8h-21.8ZM443.3 366.1h21.8v21.8h-21.8ZM334.9 366.1h21.8v21.8h-21.8ZM389.1 311.9h21.8v21.8h-21.8ZM389.1 420.3h21.8v21.8h-21.8ZM462.6 366.1h21.8v21.8h-21.8ZM315.6 366.1h21.8v21.8h-21.8ZM389.1 292.6h21.8v21.8h-21.8ZM389.1 439.6h21.8v21.8h-21.8Z" fill="#9cdea2"/><circle cx="400" cy="377" r="39" fill="#fcfcff"/><path d="M407 377.2l1.5 0M412.4 377.3l1.5 0M417.8 377.4l1.5 0M423.2 377.6l1.5 0M428.6 377.7l1.5 0M434 377.8l1.5 0M409.3 379.8l1.4 0.4M414.5 381.4l1.4 0.4M419.6 382.9l1.4 0.4M424.8 384.5l1.4 0.4M430 386.1l1.4 0.4M435.1 387.6l1.4 0.4M405.6 381.2l1.2 0.9M409.9 384.4l1.2 0.9M414.3 387.6l1.2 0.9M418.6 390.8l1.2 0.9M422.9 394.1l1.2 0.9M427.3 397.3l1.2 0.9M405.6 384.9l0.9 1.2M408.7 389.3l0.9 1.2M411.8 393.8l0.9 1.2M414.9 398.2l0.9 1.2M418 402.6l0.9 1.2M421.2 407l0.9 1.2M402.2 383.6l0.5 1.4M403.9 388.8l0.5 1.4M405.6 393.9l0.5 1.4M407.3 399l0.5 1.4M409 404.1l0.5 1.4M410.7 409.3l0.5 1.4M400.4 386.7l0.1 1.5M400.5 392.1l0.1 1.5M400.7 397.5l0.1 1.5M400.9 402.9l0.1 1.5M401.1 408.3l0.1 1.5M401.3 413.7l0.1 1.5M397.8 383.7l-0.5 1.4M396.1 388.8l-0.5 1.4M394.5 393.9l-0.5 1.4M392.8 399l-0.5 1.4M391.1 404.2l-0.5 1.4M389.4 409.3l-0.5 1.4M394.5 385l-0.8 1.2M391.5 389.5l-0.8 1.2M388.5 394l-0.8 1.2M385.4 398.4l-0.8 1.2M382.4 402.9l-0.8 1.2M379.4 407.4l-0.8 1.2M394.4 381.2l-1.2 0.9M390.1 384.5l-1.2 0.9M385.8 387.8l-1.2 0.9M381.5 391l-1.2 0.9M377.2 394.3l-1.2 0.9M372.9 397.6l-1.2 0.9M390.7 379.7l-1.4 0.4M385.5 381.2l-1.4 0.4M380.3 382.7l-1.4 0.4M375.1 384.2l-1.4 0.4M369.9 385.7l-1.4 0.4M364.7 387.1l-1.4 0.4M393 377.2l-1.5 0M387.6 377.3l-1.5 0M382.2 377.5l-1.5 0M376.8 377.6l-1.5 0M371.4 377.7l-1.5 0M366 377.9l-1.5 0M390.9 373.7l-1.4 -0.5M385.8 371.8l-1.4 -0.5M380.7 370l-1.4 -0.5M375.7 368.1l-1.4 -0.5M370.6 366.2l-1.4 -0.5M365.5 364.4l-1.4 -0.5M394.2 373l-1.2 -0.8M389.8 370l-1.2 -0.8M385.3 366.9l-1.2 -0.8M380.9 363.9l-1.2 -0.8M376.4 360.8l-1.2 -0.8M372 357.8l-1.2 -0.8M394 369.4l-0.9 -1.2M390.7 365.1l-0.9 -1.2M387.3 360.9l-0.9 -1.2M384 356.6l-0.9 -1.2M380.7 352.4l-0.9 -1.2M377.3 348.1l-0.9 -1.2M397.6 370.4l-0.5 -1.4M395.7 365.4l-0.5 -1.4M393.9 360.3l-0.5 -1.4M392 355.2l-0.5 -1.4M390.1 350.2l-0.5 -1.4M388.3 345.1l-0.5 -1.4M400.3 367.3l0 -1.5M400.4 361.9l0 -1.5M400.6 356.5l0 -1.5M400.7 351.1l0 -1.5M400.8 345.7l0 -1.5M401 340.3l0 -1.5M402.4 370.4l0.5 -1.4M404.2 365.3l0.5 -1.4M406 360.3l0.5 -1.4M407.9 355.2l0.5 -1.4M409.7 350.1l0.5 -1.4M411.5 345l0.5 -1.4M405.6 369l0.9 -1.2M408.7 364.6l0.9 -1.2M411.7 360.2l0.9 -1.2M414.8 355.8l0.9 -1.2M417.9 351.3l0.9 -1.2M421 346.9l0.9 -1.2M405.6 372.8l1.2 -0.9M409.9 369.6l1.2 -0.9M414.3 366.4l1.2 -0.9M418.6 363.1l1.2 -0.9M422.9 359.9l1.2 -0.9M427.3 356.7l1.2 -0.9M409.2 373.9l1.4 -0.5M414.3 372.2l1.4 -0.5M419.4 370.4l1.4 -0.5M424.5 368.7l1.4 -0.5M429.6 366.9l1.4 -0.5M434.8 365.2l1.4 -0.5" stroke="#5056bc" stroke-width="1.2" fill="none"/><g><rect x="417.7" y="341.7" width="18.6" height="18.6" fill="#b4525c"/><path d="M421.4 341.7v18.6M417.7 345.4h18.6M425.1 341.7v18.6M417.7 349.1h18.6M428.9 341.7v18.6M417.7 352.9h18.6M432.6 341.7v18.6M417.7 356.6h18.6" stroke="#fff" stroke-opacity="0.36" stroke-width="0.85"/><path d="M429 348.1l3.4 -3.6M423.7 345.7l3.6 -3.4M419.8 350l4 -2.7M429.6 358l2.7 -3.2M421.9 356.8l4.4 -3.4M429.3 348.7l3.2 -2M427.1 352.9l3.4 -1.6" stroke="#6a1420" stroke-opacity="0.6" stroke-width="0.9"/></g><g><rect x="417.7" y="393.7" width="18.6" height="18.6" fill="#b4525c"/><path d="M421.4 393.7v18.6M417.7 397.4h18.6M425.1 393.7v18.6M417.7 401.1h18.6M428.9 393.7v18.6M417.7 404.9h18.6M432.6 393.7v18.6M417.7 408.6h18.6" stroke="#fff" stroke-opacity="0.36" stroke-width="0.85"/><path d="M430.7 403.6l2.2 2.5M427.4 397.1l3.9 3.7M425.3 402l2.9 3.7M434 408l2.4 3.2M420.5 405.6l4 3.2M429.2 408.3l4.1 1.6M424.7 400.7l4.8 2.7" stroke="#6a1420" stroke-opacity="0.6" stroke-width="0.9"/></g><g><rect x="363.7" y="341.7" width="18.6" height="18.6" fill="#b4525c"/><path d="M367.4 341.7v18.6M363.7 345.4h18.6M371.1 341.7v18.6M363.7 349.1h18.6M374.9 341.7v18.6M363.7 352.9h18.6M378.6 341.7v18.6M363.7 356.6h18.6" stroke="#fff" stroke-opacity="0.36" stroke-width="0.85"/><path d="M372.4 351.7l-4.4 -1.6M374.9 345.5l-2.8 -2.6M373.8 344.9l-0.8 -4.1M379.2 344.2l-1.8 -5.4M372.1 349.2l-2.4 -3.1M369.3 357l-3.4 -3M372.4 355.3l-2.4 -3" stroke="#6a1420" stroke-opacity="0.6" stroke-width="0.9"/></g><g><rect x="363.7" y="393.7" width="18.6" height="18.6" fill="#b4525c"/><path d="M367.4 393.7v18.6M363.7 397.4h18.6M371.1 393.7v18.6M363.7 401.1h18.6M374.9 393.7v18.6M363.7 404.9h18.6M378.6 393.7v18.6M363.7 408.6h18.6" stroke="#fff" stroke-opacity="0.36" stroke-width="0.85"/><path d="M370.3 401.7l-1.8 3.9M367.4 405.4l-2.5 3.1M368.9 399.4l-3.5 4.4M372.3 403.7l-3.4 4.8M374.4 398.2l-2.6 1.5M380.2 406.5l-1.3 4.1M379 407l-3.7 3" stroke="#6a1420" stroke-opacity="0.6" stroke-width="0.9"/></g><g><rect x="411.7" y="320.2" width="18.6" height="18.6" fill="#e4747c"/><path d="M415.4 320.2v18.6M411.7 323.9h18.6M419.1 320.2v18.6M411.7 327.6h18.6M422.9 320.2v18.6M411.7 331.4h18.6M426.6 320.2v18.6M411.7 335.1h18.6" stroke="#fff" stroke-opacity="0.36" stroke-width="0.85"/></g><g><rect x="411.7" y="415.2" width="18.6" height="18.6" fill="#e4747c"/><path d="M415.4 415.2v18.6M411.7 418.9h18.6M419.1 415.2v18.6M411.7 422.6h18.6M422.9 415.2v18.6M411.7 426.4h18.6M426.6 415.2v18.6M411.7 430.1h18.6" stroke="#fff" stroke-opacity="0.36" stroke-width="0.85"/></g><g><rect x="369.7" y="320.2" width="18.6" height="18.6" fill="#e4747c"/><path d="M373.4 320.2v18.6M369.7 323.9h18.6M377.1 320.2v18.6M369.7 327.6h18.6M380.9 320.2v18.6M369.7 331.4h18.6M384.6 320.2v18.6M369.7 335.1h18.6" stroke="#fff" stroke-opacity="0.36" stroke-width="0.85"/></g><g><rect x="369.7" y="415.2" width="18.6" height="18.6" fill="#e4747c"/><path d="M373.4 415.2v18.6M369.7 418.9h18.6M377.1 415.2v18.6M369.7 422.6h18.6M380.9 415.2v18.6M369.7 426.4h18.6M384.6 415.2v18.6M369.7 430.1h18.6" stroke="#fff" stroke-opacity="0.36" stroke-width="0.85"/></g><g><rect x="437.1" y="346.3" width="18.6" height="18.6" fill="#e4747c"/><path d="M440.8 346.3v18.6M437.1 350h18.6M444.5 346.3v18.6M437.1 353.7h18.6M448.3 346.3v18.6M437.1 357.5h18.6M452 346.3v18.6M437.1 361.2h18.6" stroke="#fff" stroke-opacity="0.36" stroke-width="0.85"/></g><g><rect x="437.1" y="389.1" width="18.6" height="18.6" fill="#e4747c"/><path d="M440.8 389.1v18.6M437.1 392.8h18.6M444.5 389.1v18.6M437.1 396.5h18.6M448.3 389.1v18.6M437.1 400.3h18.6M452 389.1v18.6M437.1 404h18.6" stroke="#fff" stroke-opacity="0.36" stroke-width="0.85"/></g><g><rect x="344.3" y="346.3" width="18.6" height="18.6" fill="#e4747c"/><path d="M348 346.3v18.6M344.3 350h18.6M351.7 346.3v18.6M344.3 353.7h18.6M355.5 346.3v18.6M344.3 357.5h18.6M359.2 346.3v18.6M344.3 361.2h18.6" stroke="#fff" stroke-opacity="0.36" stroke-width="0.85"/></g><g><rect x="344.3" y="389.1" width="18.6" height="18.6" fill="#e4747c"/><path d="M348 389.1v18.6M344.3 392.8h18.6M351.7 389.1v18.6M344.3 396.5h18.6M355.5 389.1v18.6M344.3 400.3h18.6M359.2 389.1v18.6M344.3 404h18.6" stroke="#fff" stroke-opacity="0.36" stroke-width="0.85"/></g><g><rect x="411.7" y="301.2" width="18.6" height="18.6" fill="#e4747c"/><path d="M415.4 301.2v18.6M411.7 304.9h18.6M419.1 301.2v18.6M411.7 308.6h18.6M422.9 301.2v18.6M411.7 312.4h18.6M426.6 301.2v18.6M411.7 316.1h18.6" stroke="#fff" stroke-opacity="0.36" stroke-width="0.85"/></g><g><rect x="411.7" y="434.2" width="18.6" height="18.6" fill="#e4747c"/><path d="M415.4 434.2v18.6M411.7 437.9h18.6M419.1 434.2v18.6M411.7 441.6h18.6M422.9 434.2v18.6M411.7 445.4h18.6M426.6 434.2v18.6M411.7 449.1h18.6" stroke="#fff" stroke-opacity="0.36" stroke-width="0.85"/></g><g><rect x="369.7" y="301.2" width="18.6" height="18.6" fill="#e4747c"/><path d="M373.4 301.2v18.6M369.7 304.9h18.6M377.1 301.2v18.6M369.7 308.6h18.6M380.9 301.2v18.6M369.7 312.4h18.6M384.6 301.2v18.6M369.7 316.1h18.6" stroke="#fff" stroke-opacity="0.36" stroke-width="0.85"/></g><g><rect x="369.7" y="434.2" width="18.6" height="18.6" fill="#e4747c"/><path d="M373.4 434.2v18.6M369.7 437.9h18.6M377.1 434.2v18.6M369.7 441.6h18.6M380.9 434.2v18.6M369.7 445.4h18.6M384.6 434.2v18.6M369.7 449.1h18.6" stroke="#fff" stroke-opacity="0.36" stroke-width="0.85"/></g><g><rect x="457.7" y="346.3" width="18.6" height="18.6" fill="#e4747c"/><path d="M461.4 346.3v18.6M457.7 350h18.6M465.1 346.3v18.6M457.7 353.7h18.6M468.9 346.3v18.6M457.7 357.5h18.6M472.6 346.3v18.6M457.7 361.2h18.6" stroke="#fff" stroke-opacity="0.36" stroke-width="0.85"/></g><g><rect x="457.7" y="389.1" width="18.6" height="18.6" fill="#e4747c"/><path d="M461.4 389.1v18.6M457.7 392.8h18.6M465.1 389.1v18.6M457.7 396.5h18.6M468.9 389.1v18.6M457.7 400.3h18.6M472.6 389.1v18.6M457.7 404h18.6" stroke="#fff" stroke-opacity="0.36" stroke-width="0.85"/></g><g><rect x="323.7" y="346.3" width="18.6" height="18.6" fill="#e4747c"/><path d="M327.4 346.3v18.6M323.7 350h18.6M331.1 346.3v18.6M323.7 353.7h18.6M334.9 346.3v18.6M323.7 357.5h18.6M338.6 346.3v18.6M323.7 361.2h18.6" stroke="#fff" stroke-opacity="0.36" stroke-width="0.85"/></g><g><rect x="323.7" y="389.1" width="18.6" height="18.6" fill="#e4747c"/><path d="M327.4 389.1v18.6M323.7 392.8h18.6M331.1 389.1v18.6M323.7 396.5h18.6M334.9 389.1v18.6M323.7 400.3h18.6M338.6 389.1v18.6M323.7 404h18.6" stroke="#fff" stroke-opacity="0.36" stroke-width="0.85"/></g><g><rect x="435.2" y="323.2" width="18.6" height="18.6" fill="#e4747c"/><path d="M438.9 323.2v18.6M435.2 326.9h18.6M442.6 323.2v18.6M435.2 330.6h18.6M446.4 323.2v18.6M435.2 334.4h18.6M450.1 323.2v18.6M435.2 338.1h18.6" stroke="#fff" stroke-opacity="0.36" stroke-width="0.85"/></g><g><rect x="435.2" y="412.2" width="18.6" height="18.6" fill="#e4747c"/><path d="M438.9 412.2v18.6M435.2 415.9h18.6M442.6 412.2v18.6M435.2 419.6h18.6M446.4 412.2v18.6M435.2 423.4h18.6M450.1 412.2v18.6M435.2 427.1h18.6" stroke="#fff" stroke-opacity="0.36" stroke-width="0.85"/></g><g><rect x="346.2" y="323.2" width="18.6" height="18.6" fill="#e4747c"/><path d="M349.9 323.2v18.6M346.2 326.9h18.6M353.6 323.2v18.6M346.2 330.6h18.6M357.4 323.2v18.6M346.2 334.4h18.6M361.1 323.2v18.6M346.2 338.1h18.6" stroke="#fff" stroke-opacity="0.36" stroke-width="0.85"/></g><g><rect x="346.2" y="412.2" width="18.6" height="18.6" fill="#e4747c"/><path d="M349.9 412.2v18.6M346.2 415.9h18.6M353.6 412.2v18.6M346.2 419.6h18.6M357.4 412.2v18.6M346.2 423.4h18.6M361.1 412.2v18.6M346.2 427.1h18.6" stroke="#fff" stroke-opacity="0.36" stroke-width="0.85"/></g><g><rect x="435.2" y="302" width="18.6" height="18.6" fill="#e4747c"/><path d="M438.9 302v18.6M435.2 305.7h18.6M442.6 302v18.6M435.2 309.4h18.6M446.4 302v18.6M435.2 313.2h18.6M450.1 302v18.6M435.2 316.9h18.6" stroke="#fff" stroke-opacity="0.36" stroke-width="0.85"/></g><g><rect x="435.2" y="433.4" width="18.6" height="18.6" fill="#e4747c"/><path d="M438.9 433.4v18.6M435.2 437.1h18.6M442.6 433.4v18.6M435.2 440.8h18.6M446.4 433.4v18.6M435.2 444.6h18.6M450.1 433.4v18.6M435.2 448.3h18.6" stroke="#fff" stroke-opacity="0.36" stroke-width="0.85"/></g><g><rect x="346.2" y="302" width="18.6" height="18.6" fill="#e4747c"/><path d="M349.9 302v18.6M346.2 305.7h18.6M353.6 302v18.6M346.2 309.4h18.6M357.4 302v18.6M346.2 313.2h18.6M361.1 302v18.6M346.2 316.9h18.6" stroke="#fff" stroke-opacity="0.36" stroke-width="0.85"/></g><g><rect x="346.2" y="433.4" width="18.6" height="18.6" fill="#e4747c"/><path d="M349.9 433.4v18.6M346.2 437.1h18.6M353.6 433.4v18.6M346.2 440.8h18.6M357.4 433.4v18.6M346.2 444.6h18.6M361.1 433.4v18.6M346.2 448.3h18.6" stroke="#fff" stroke-opacity="0.36" stroke-width="0.85"/></g><g><rect x="455.2" y="323.2" width="18.6" height="18.6" fill="#e4747c"/><path d="M458.9 323.2v18.6M455.2 326.9h18.6M462.6 323.2v18.6M455.2 330.6h18.6M466.4 323.2v18.6M455.2 334.4h18.6M470.1 323.2v18.6M455.2 338.1h18.6" stroke="#fff" stroke-opacity="0.36" stroke-width="0.85"/></g><g><rect x="455.2" y="412.2" width="18.6" height="18.6" fill="#e4747c"/><path d="M458.9 412.2v18.6M455.2 415.9h18.6M462.6 412.2v18.6M455.2 419.6h18.6M466.4 412.2v18.6M455.2 423.4h18.6M470.1 412.2v18.6M455.2 427.1h18.6" stroke="#fff" stroke-opacity="0.36" stroke-width="0.85"/></g><g><rect x="326.2" y="323.2" width="18.6" height="18.6" fill="#e4747c"/><path d="M329.9 323.2v18.6M326.2 326.9h18.6M333.6 323.2v18.6M326.2 330.6h18.6M337.4 323.2v18.6M326.2 334.4h18.6M341.1 323.2v18.6M326.2 338.1h18.6" stroke="#fff" stroke-opacity="0.36" stroke-width="0.85"/></g><g><rect x="326.2" y="412.2" width="18.6" height="18.6" fill="#e4747c"/><path d="M329.9 412.2v18.6M326.2 415.9h18.6M333.6 412.2v18.6M326.2 419.6h18.6M337.4 412.2v18.6M326.2 423.4h18.6M341.1 412.2v18.6M326.2 427.1h18.6" stroke="#fff" stroke-opacity="0.36" stroke-width="0.85"/></g><g><rect x="455.2" y="303.2" width="18.6" height="18.6" fill="#e4747c"/><path d="M458.9 303.2v18.6M455.2 306.9h18.6M462.6 303.2v18.6M455.2 310.6h18.6M466.4 303.2v18.6M455.2 314.4h18.6M470.1 303.2v18.6M455.2 318.1h18.6" stroke="#fff" stroke-opacity="0.36" stroke-width="0.85"/></g><g><rect x="455.2" y="432.2" width="18.6" height="18.6" fill="#e4747c"/><path d="M458.9 432.2v18.6M455.2 435.9h18.6M462.6 432.2v18.6M455.2 439.6h18.6M466.4 432.2v18.6M455.2 443.4h18.6M470.1 432.2v18.6M455.2 447.1h18.6" stroke="#fff" stroke-opacity="0.36" stroke-width="0.85"/></g><g><rect x="326.2" y="303.2" width="18.6" height="18.6" fill="#e4747c"/><path d="M329.9 303.2v18.6M326.2 306.9h18.6M333.6 303.2v18.6M326.2 310.6h18.6M337.4 303.2v18.6M326.2 314.4h18.6M341.1 303.2v18.6M326.2 318.1h18.6" stroke="#fff" stroke-opacity="0.36" stroke-width="0.85"/></g><g><rect x="326.2" y="432.2" width="18.6" height="18.6" fill="#e4747c"/><path d="M329.9 432.2v18.6M326.2 435.9h18.6M333.6 432.2v18.6M326.2 439.6h18.6M337.4 432.2v18.6M326.2 443.4h18.6M341.1 432.2v18.6M326.2 447.1h18.6" stroke="#fff" stroke-opacity="0.36" stroke-width="0.85"/></g><g><rect x="425.9" y="367.7" width="18.6" height="18.6" fill="#dc747c"/><path d="M429.6 367.7v18.6M425.9 371.4h18.6M433.3 367.7v18.6M425.9 375.1h18.6M437.1 367.7v18.6M425.9 378.9h18.6M440.8 367.7v18.6M425.9 382.6h18.6" stroke="#fff" stroke-opacity="0.36" stroke-width="0.85"/><path d="M430.8 379.2l3.4 0.5M428.7 377.4l3.6 1.7M437.2 371.2l5.5 1.3M432.3 380.2l4.1 1.4" stroke="#6a1420" stroke-opacity="0.6" stroke-width="0.9"/></g><g><rect x="355.5" y="367.7" width="18.6" height="18.6" fill="#dc747c"/><path d="M359.2 367.7v18.6M355.5 371.4h18.6M362.9 367.7v18.6M355.5 375.1h18.6M366.7 367.7v18.6M355.5 378.9h18.6M370.4 367.7v18.6M355.5 382.6h18.6" stroke="#fff" stroke-opacity="0.36" stroke-width="0.85"/><path d="M370.4 370.4l-3.4 0M369.6 380.5l-4.6 1.9M365 378l-4.7 0.5M365.7 374.4l-3.5 0.2" stroke="#6a1420" stroke-opacity="0.6" stroke-width="0.9"/></g><g><rect x="390.7" y="332.5" width="18.6" height="18.6" fill="#dc747c"/><path d="M394.4 332.5v18.6M390.7 336.2h18.6M398.1 332.5v18.6M390.7 339.9h18.6M401.9 332.5v18.6M390.7 343.7h18.6M405.6 332.5v18.6M390.7 347.4h18.6" stroke="#fff" stroke-opacity="0.36" stroke-width="0.85"/><path d="M401.9 346.5l-1 -4.7M398.4 337.1l-1.4 -2.8M403.6 336.5l-0.6 -4.5M395.6 343l-0.6 -3.6" stroke="#6a1420" stroke-opacity="0.6" stroke-width="0.9"/></g><g><rect x="390.7" y="402.9" width="18.6" height="18.6" fill="#dc747c"/><path d="M394.4 402.9v18.6M390.7 406.6h18.6M398.1 402.9v18.6M390.7 410.3h18.6M401.9 402.9v18.6M390.7 414.1h18.6M405.6 402.9v18.6M390.7 417.8h18.6" stroke="#fff" stroke-opacity="0.36" stroke-width="0.85"/><path d="M402.6 414.2l-1.5 3.7M404 414l0.1 3.1M397.2 411.2l1.2 3.1M404.7 406.5l0.4 3.7" stroke="#6a1420" stroke-opacity="0.6" stroke-width="0.9"/></g><g><rect x="444.9" y="367.7" width="18.6" height="18.6" fill="#dc747c"/><path d="M448.6 367.7v18.6M444.9 371.4h18.6M452.3 367.7v18.6M444.9 375.1h18.6M456.1 367.7v18.6M444.9 378.9h18.6M459.8 367.7v18.6M444.9 382.6h18.6" stroke="#fff" stroke-opacity="0.36" stroke-width="0.85"/><path d="M454.6 375.4l4.2 -1.1M451 383.5l3.4 0.3M457.7 372.1l5.3 0.8M460.4 377.3l5.2 1.3" stroke="#6a1420" stroke-opacity="0.6" stroke-width="0.9"/></g><g><rect x="336.5" y="367.7" width="18.6" height="18.6" fill="#dc747c"/><path d="M340.2 367.7v18.6M336.5 371.4h18.6M343.9 367.7v18.6M336.5 375.1h18.6M347.7 367.7v18.6M336.5 378.9h18.6M351.4 367.7v18.6M336.5 382.6h18.6" stroke="#fff" stroke-opacity="0.36" stroke-width="0.85"/><path d="M350.4 378.5l-4.9 -1.9M344.1 375.1l-5.4 -2.1M344 383.2l-5 -0.9M343.4 373.7l-5 0.8" stroke="#6a1420" stroke-opacity="0.6" stroke-width="0.9"/></g><g><rect x="390.7" y="313.5" width="18.6" height="18.6" fill="#dc747c"/><path d="M394.4 313.5v18.6M390.7 317.2h18.6M398.1 313.5v18.6M390.7 320.9h18.6M401.9 313.5v18.6M390.7 324.7h18.6M405.6 313.5v18.6M390.7 328.4h18.6" stroke="#fff" stroke-opacity="0.36" stroke-width="0.85"/><path d="M399.5 318.8l-1.9 -5.1M395.5 318l-0.1 -3.2M398.6 318.5l1.5 -4.4M399.9 322.3l-2.6 -4.9" stroke="#6a1420" stroke-opacity="0.6" stroke-width="0.9"/></g><g><rect x="390.7" y="421.9" width="18.6" height="18.6" fill="#dc747c"/><path d="M394.4 421.9v18.6M390.7 425.6h18.6M398.1 421.9v18.6M390.7 429.3h18.6M401.9 421.9v18.6M390.7 433.1h18.6M405.6 421.9v18.6M390.7 436.8h18.6" stroke="#fff" stroke-opacity="0.36" stroke-width="0.85"/><path d="M406.5 424l0.4 5.3M405.1 437.9l-1.8 5.4M394.8 438.4l-2.7 4.2M405.5 427.7l0.6 3.3" stroke="#6a1420" stroke-opacity="0.6" stroke-width="0.9"/></g><g><rect x="464.2" y="367.7" width="18.6" height="18.6" fill="#dc747c"/><path d="M467.9 367.7v18.6M464.2 371.4h18.6M471.6 367.7v18.6M464.2 375.1h18.6M475.4 367.7v18.6M464.2 378.9h18.6M479.1 367.7v18.6M464.2 382.6h18.6" stroke="#fff" stroke-opacity="0.36" stroke-width="0.85"/><path d="M473.1 384.2l4.2 1.3M470.8 372.8l3.8 -0.5M473.3 378l4.8 -0.4M472.2 377l5.5 -0.1" stroke="#6a1420" stroke-opacity="0.6" stroke-width="0.9"/></g><g><rect x="317.2" y="367.7" width="18.6" height="18.6" fill="#dc747c"/><path d="M320.9 367.7v18.6M317.2 371.4h18.6M324.6 367.7v18.6M317.2 375.1h18.6M328.4 367.7v18.6M317.2 378.9h18.6M332.1 367.7v18.6M317.2 382.6h18.6" stroke="#fff" stroke-opacity="0.36" stroke-width="0.85"/><path d="M332.3 378.2l-3.8 -0.9M321.6 374.3l-5 1.7M332.6 379.1l-3.2 1M330.5 378.1l-5.6 2.2" stroke="#6a1420" stroke-opacity="0.6" stroke-width="0.9"/></g><g><rect x="390.7" y="294.2" width="18.6" height="18.6" fill="#dc747c"/><path d="M394.4 294.2v18.6M390.7 297.9h18.6M398.1 294.2v18.6M390.7 301.6h18.6M401.9 294.2v18.6M390.7 305.4h18.6M405.6 294.2v18.6M390.7 309.1h18.6" stroke="#fff" stroke-opacity="0.36" stroke-width="0.85"/><path d="M403.7 310.3l2.7 -4.6M406.3 310l-1 -3.9M400.5 305.5l-1.3 -3.6M404 310.3l0.2 -5.8" stroke="#6a1420" stroke-opacity="0.6" stroke-width="0.9"/></g><g><rect x="390.7" y="441.2" width="18.6" height="18.6" fill="#dc747c"/><path d="M394.4 441.2v18.6M390.7 444.9h18.6M398.1 441.2v18.6M390.7 448.6h18.6M401.9 441.2v18.6M390.7 452.4h18.6M405.6 441.2v18.6M390.7 456.1h18.6" stroke="#fff" stroke-opacity="0.36" stroke-width="0.85"/><path d="M405.5 456.4l1.5 3.9M402.4 455.1l-1 3.2M402.6 443.6l0.7 3.1M400.2 445l-0.7 4.2" stroke="#6a1420" stroke-opacity="0.6" stroke-width="0.9"/></g></g></g><path d="M280.1 266.7V484.6H518.4" fill="none" stroke="#0d3a18" stroke-width="2"/><path d="M289.3 484.6v-5M326.2 484.6v-5M363.1 484.6v-5M400 484.6v-5M436.9 484.6v-5M473.8 484.6v-5M510.7 484.6v-5M280.1 450.8h5M280.1 413.9h5M280.1 377h5M280.1 340.1h5M280.1 303.2h5" stroke="#0d3a18" stroke-width="1.5"/><path d="M280.1 484.6v-2.5M298.5 484.6v-2.5M307.8 484.6v-2.5M317 484.6v-2.5M335.4 484.6v-2.5M344.6 484.6v-2.5M353.9 484.6v-2.5M372.3 484.6v-2.5M381.6 484.6v-2.5M390.8 484.6v-2.5M409.2 484.6v-2.5M418.4 484.6v-2.5M427.7 484.6v-2.5M446.1 484.6v-2.5M455.4 484.6v-2.5M464.6 484.6v-2.5M483 484.6v-2.5M492.2 484.6v-2.5M501.5 484.6v-2.5M280.1 478.5h2.5M280.1 469.2h2.5M280.1 460h2.5M280.1 441.6h2.5M280.1 432.4h2.5M280.1 423.1h2.5M280.1 404.7h2.5M280.1 395.4h2.5M280.1 386.2h2.5M280.1 367.8h2.5M280.1 358.6h2.5M280.1 349.3h2.5M280.1 330.9h2.5M280.1 321.6h2.5M280.1 312.4h2.5M280.1 294h2.5M280.1 284.8h2.5M280.1 275.5h2.5" stroke="#0d3a18" stroke-opacity="0.5" stroke-width="1"/><text class="tl" x="289.3" y="493.5" text-anchor="middle">-0.6</text><text class="tl" x="326.2" y="493.5" text-anchor="middle">-0.4</text><text class="tl" x="363.1" y="493.5" text-anchor="middle">-0.2</text><text class="tl" x="400" y="493.5" text-anchor="middle">0</text><text class="tl" x="436.9" y="493.5" text-anchor="middle">0.2</text><text class="tl" x="473.8" y="493.5" text-anchor="middle">0.4</text><text class="tl" x="510.7" y="493.5" text-anchor="middle">0.6</text><text class="tl" x="277.1" y="454.3" text-anchor="end">-0.4</text><text class="tl" x="277.1" y="417.4" text-anchor="end">-0.2</text><text class="tl" x="277.1" y="380.5" text-anchor="end">0</text><text class="tl" x="277.1" y="343.6" text-anchor="end">0.2</text><text class="tl" x="277.1" y="306.7" text-anchor="end">0.4</text><text class="tm" x="511.6" y="474.6" text-anchor="end">300<tspan font-style="italic">μs</tspan></text><clipPath id="c5"><rect x="18.5" y="526.7" width="238.4" height="217.9"/></clipPath><g clip-path="url(#c5)"><g filter="url(#soft)"><rect x="18.5" y="526.7" width="238.4" height="217.9" fill="#66d47c"/><rect x="18.5" y="526.7" width="238.4" height="217.9" fill="url(#grid2)"/><path d="M211.5 597.2l4.6 -6.5M38 635.6l-5 -2.3M24.8 566.1l-3.8 -1.9M214.2 671.3l4 1.2M201.4 647.8l3.5 0M24.3 626l-4.1 0.6M99.4 715.1l0.1 3.4M49.8 619.9l-3.9 -3.4M191.7 585.2l2.8 -2.4M216.9 575.6l4.6 -5M246.7 734.9l1.7 3.5M141.9 724l-0.2 5.4M136.4 532l-3.2 -6M233 528.2l2.4 -5.3M196.5 705.3l7.3 3.1M73.2 632.3l-7.6 0.4M67.9 640.9l-3.9 2.4M211 625.9l5.8 -4.2M99 552.2l-3.5 -6.3M162.9 537.7l0.6 -5.2M186.4 578.1l3.6 -7M100.3 539.1l0.4 -3.2M252 660.5l3.6 -0.6M94.7 534.1l-2.9 -3.7M96.3 709.2l-5.2 2.5M91.6 542l-1.2 -6.7M213.3 607.7l4.6 -5.3M190.5 677.6l4.1 4.2M220.3 599.9l4.9 -3.1M59.3 680.2l-3 0.1M30.2 563.5l-5.8 -3.3M240.4 667.4l3.2 3.5M76.7 547.3l-1.6 -6.5M208.2 613.1l5 -4M82.3 732l-6.4 3.5M239.5 689.1l7.7 0.4M116.9 726.6l-4.4 6.2M229.6 584.3l3.6 -5.5M127.7 529.2l-2.3 -4.6M179.6 718.9l4.9 5.9M79 710.4l-5.4 4.5M84.7 692.4l-3.4 0.7M53 572l-2.8 -6.2M55.7 731.4l-1.5 5.3M148.7 577.1l2 -5.9M217.5 727.2l3.6 6.4M192.4 716l4.1 5.9M242.7 736.2l3.6 1.6M68.1 617.6l-5 -3.2M186.8 549l1.9 -3.6M202.6 586.8l3.7 -5.6M90.8 711.9l-3.3 2.2M149.7 532.3l0.8 -5.3M48.2 607.9l-5.2 -1.5M238.1 610.9l6.5 -3.6M196.2 560.5l4.8 -3.5M215.6 538l1.6 -6.5M248.8 593l5.2 -5.1M253.6 643.8l3.5 2.2M206.8 684.4l4.9 1.4M170.1 711.6l1 6.6M33.4 627.4l-4.4 -0.6M19.1 593.6l-4.3 -1.1M86.4 568.5l-2.5 -3.2M228.8 573.9l7.1 -3.1M232.1 719.5l2.3 6.4M64.7 664.2l-3.5 3.3M84 667.5l-2 3.1M220.2 704.3l3 1M19.3 642.7l-7.1 3.6M193.1 549.8l6.2 -4.9M44.4 528.9l-2.7 -6.5M109.2 729l-2 5.8M28.3 632.3l-4.9 0.2M100.7 711.7l0.1 4.8M78.4 708.9l-2.8 4.9M227.3 741.1l4.6 2.1M95.1 551.1l-1.6 -7.2M220.5 743.4l2.5 2.9M117.6 696.8l-1.1 3.6M73.8 728.8l-1.3 2.8M248.2 681.6l3.3 2.6M138.1 547.1l-1.8 -3M249.9 720.4l3.8 4.3M166.5 703.7l1.1 4.7M70.3 576.2l-3.5 -2.5M28 595.5l-4.6 -3.9M206.2 620.5l4.2 -4.4M238.9 671.8l6.9 -1M219.3 692.3l1.5 3.5M67.5 555.8l-4.1 -4.1M245.9 536.8l6.6 -3.6M94.2 559.7l-5.8 -3.1M88.2 544.7l0.4 -4.7M220.1 646.7l6 1.7M205.7 707.7l1.8 7.6M100.2 733.5l0.4 4.2M173.7 536.9l5.8 -4.5M209.7 582.8l2.1 -5.2M124.9 706l0.9 3.9M35.4 666.6l-5.4 0.8M96 723.5l-3.4 6M109.9 712.4l-1.3 5M153.8 539.1l-1.8 -5.2M237.5 699l3.5 0.8M72.2 615.9l-3.2 0.7M74.7 532.5l-3.3 -2.6M254.8 680.2l6.5 2.9M200 664.3l2.9 0.8M49.6 676.1l-4.2 2.3M55.4 737.9l-1.1 4.2M63.5 678.4l-2.4 4.6M244.6 553.1l7.3 -0.6M19.8 570.5l-5.1 -4.7M47 584.9l-2.2 -2.6M20.3 683.2l-5.6 5.5M181.6 695.1l1.5 4.4M104.2 696.3l-3.2 4.5M231.6 565.2l3.7 -4.1M33.1 696.4l-2.4 3.2M50.8 696.3l-4.5 4.7M136 535l2.2 -3.8M94.8 679.3l-4.2 4.4M155.7 698l2.5 3.7M128.1 698.4l2.3 5M129 721.7l-0.8 3.8M200.4 598.3l3.1 -2.2M252.9 532.5l2.1 -4M131.1 698l-1.3 5.7M71.8 642.7l-6.5 1.9M23.1 738l-5.5 0.9M60.9 730l-4.8 4.8M22.8 592.4l-5.1 0.6M67.1 641.2l-7.2 -2.9M214.3 592.9l3.5 -2.2M240.9 572.8l3.3 -0.5M21.2 638l-7.9 -0.6M20.6 592.8l-5.7 -3.7M38.9 627.3l-5.2 1.6M49.6 594.5l-2.7 -4.2M96.5 721.2l-1.3 2.8M54.3 539.8l-2.1 -4M191.9 680.1l4.5 5.8M39.9 697.2l-7.7 0.7M175.1 554.1l2.9 -6.7M192.1 728.4l3.6 1.8M241.8 720.8l2.8 2M223 660.5l3.6 4.3M25.4 607.7l-2.6 -2.7M225.5 725.8l1.3 5.3M69.8 677.3l-5.2 6M186 707.3l5.6 4.7M110.1 551.4l0.6 -5.5M89.3 718.6l-2.1 3.8M176.3 703.5l4.9 5.9M111.7 692.1l-5 4.9M82.2 714.8l-4.6 5.1M98.2 684.5l-2.8 1.8M50.7 583.1l-6.1 -1.1M237.5 641.8l4.3 -1.5M50.9 593.9l-4.3 -6.5M236 733.4l1.5 6.3M58.7 668.8l-7.7 -1.1M250.6 623.1l5.7 2.9M190.6 713.1l3.7 6.3M226.8 603.7l6.4 -3M69.8 706.9l-5.6 4.1M219.3 671.6l4.5 4.5M24.9 699.9l-4.3 5.9M29.8 715.2l-3.6 2.4M240.1 568.8l2.4 -4.9M226.5 714.2l2.5 4.6M54.4 702.5l-6.5 2.7M26.4 591.6l-4.5 -4.5M86.3 570.5l-4.2 -6.1M95.1 591l-3.1 -3.5M56 624.9l-4.8 0M105.7 536.5l-3.9 -6.3M196.7 732.6l3.3 3.7M179.7 732.1l1.3 5.5M44.3 594.8l-4.3 -3M218.2 580.7l2.6 -5M216 568.7l6 -3.5M214.6 541l1.4 -5.4M203.1 674.4l1.8 3.7M232.2 611.7l4.1 0.3M99.3 714.3l-3.4 2.8M32.5 605.7l-4.4 -1.8M209.7 634.2l7 -3.4M69.1 599.5l-4.3 -2.3M135.3 699.2l0.5 6.9M201.8 656.7l2.4 2M229.3 666.1l3.9 4M252.1 653.5l3.2 0.5M66.8 628.4l-5.9 1.3M34 634.5l-6.4 -0.3M212.9 744.2l5.7 5.5M70.5 731.5l-6.3 2.6M142.7 549l1 -4.2M239.2 540.4l3.4 -3.2M59.4 594.4l-3.2 -0.8M33.6 718.4l-4.9 3.8M100 709.3l-1.2 7.1M252.9 578l2.2 -2.3M243 661.8l6.5 1.5M207.8 731.8l1.5 6M57 571l-7.5 -1.2M234.3 549l7 -1.4M115.1 702.2l-0.1 6.1M142.4 554.3l-2 -4.1M61.5 719.6l-5.1 2.1M250.9 534.4l1.9 -3.5M47.3 659.6l-7.3 1.4M77.2 536l-2.9 -3.5M203.5 615.8l5.3 -5.1M93.2 565.1l-5.7 -4M87.2 733.3l-0.5 5.4M41.2 535.5l-2.6 -4.8M80.2 685l-5.6 4.2M237.6 615.7l3.4 -3.5M108.3 693.2l-2.7 6.3M31.5 640.4l-6.4 3.3M37.1 634.8l-6 0.8M117.8 730.4l-5.7 5.6M59.5 596.4l-2.5 -3.6M39.2 700l-5 6.1M87.8 529.2l-4.9 -5.3M58.9 716.4l-4.2 4.8M76.3 735l-3.5 3.1M250.5 617.3l3.8 -2.1M26.9 624.9l-7.1 -2.9M210.1 705.8l4.1 2M81.1 703.6l-4.3 3.3M179.9 700.9l5.2 2.3M176.4 579.3l4.6 -5.6M221.5 704.7l3.6 6.7M79 689.1l-4.4 1.9M40.7 566.4l-3.6 -0.5M225.3 724.9l3.5 3.2M38.8 738.6l-1 3M190.7 598.3l5.2 -3.3M212.6 614.9l6.7 -1.2M229.4 549.7l1 -4.4M25.4 645l-4.8 2.3M55.5 570.3l-5.5 -5.1M36 741l-5.1 3M233 548.5l1.5 -2.9M59.1 569.2l-2.2 -4.4M137.3 728.2l3.1 6.7M179.2 734l2.3 6.7M113 546.1l-3 -3.1M35.1 696.2l-4.3 3.5M187.9 596.1l4 -6.4M65.8 574.7l-3 -7.2M66.6 729.1l-2.5 2M127.8 576.1l-2.9 -5.2M118.9 723.2l1.2 7.4M68.6 529.1l-4.2 -2.2M90.6 553l-3.9 -3.7M239.3 700.3l3.9 2.7M38.7 540l-6.8 -1.9M106.2 578.3l-3 -2.7M71 730.1l-3 2.9M75.6 729.5l-4.3 6.1M243.8 684.7l6.7 3.3M37.3 543.2l-1.9 -6.9M118.2 720.1l-0.1 7.5M199.4 696.3l5.7 2.8M30.9 599l-4.1 -1.6M93.4 556.6l-1.3 -4.2M85.4 721.4l-3.6 6.4M230.3 704.6l3.9 1.2M30.1 732l-2.9 3.3M201.2 590.1l2.3 -6.2M115.4 532.6l-3.2 -6.3M212.4 691.3l3.3 1.4M207.7 675.8l5.1 0.4M58.6 602.6l-4.5 -3M225.6 677.3l5.2 2.6M164.5 537.9l1 -3.1M121 715.4l-0.1 4.2M78.5 669.2l-3.9 5.8M194.6 694.3l1.9 3.3M126 719.9l-2.1 3.4M236.8 659.1l3.8 0.1M106.3 718.8l-1 3.7M192.1 533.3l-0.1 -4.2M205.8 684.8l1.4 3.6M22.3 569l-4.7 -4M44.3 682.3l-3.6 1.3M239.5 703.9l6.9 1.5M210.4 529.4l1.3 -3.9M180.1 740.6l1.5 3.8M86.9 684.5l-3 0.8M90 565.5l-2.2 -6.8M206.3 718.1l3.7 3.7M207.4 634.4l4.2 0.4M226.2 699.4l2.6 2.1M125 536.7l-2.9 -3.3M186.8 573.2l3.4 -1.8M82.5 676.2l-5.7 2.8M36.8 573.8l-6.5 -2.9M26.8 681.6l-6.8 -1.2M242.1 714.1l2 4.9M155.7 567.3l1.2 -4.8M206 648.9l3.5 3.2M37.2 565.2l-1.8 -4.4M214.7 577.1l2.7 -6.5M160 731.4l3.1 5.2M69.2 702.2l-4.2 1M120.9 548.5l0.6 -6.6M178.3 528.9l1.6 -4.6M236.5 547.3l3.1 -4.1M148.1 535.5l-0.9 -4.5M84.6 604.5l-4.1 -1.6M181.6 577.6l0.9 -7.7M88.7 684.9l-3.4 5.3M86.1 682.4l-4.6 1.7M234.9 559.7l3.5 -5.3M153.3 721.8l-1.7 5.9M99.5 588.7l-4.3 -3.8M68.1 659.3l-2.9 2.1M40 676.9l-3 2.3M222.7 640.3l5.3 -0.9M104.4 556.7l-0.6 -3.9M132.5 729.3l-1.3 3.9M189.5 596.4l3.1 -2.7M119.9 545l-2.5 -7.5M105 554.4l-2.6 -2.7M35.5 646.2l-5.9 -2M80.8 701.9l-1.3 6.6M65.5 570.6l-3.8 -6.3M33.5 579.5l-3 -2.3M120.8 732.3l0.5 7.2M115.2 699.8l-2.8 2.8M249 602.6l6.6 1.7M231.2 740.9l2 4.8M217.3 591.6l5.3 -0.1M204.8 593.2l3.5 -5.9M91.6 529l-1.6 -5.7M176.3 562.9l-0.2 -3.3M148.1 534.8l0.4 -4M50.4 639.2l-4.7 1.9M235.1 729.8l7 3.5M24.3 678.6l-6.5 3.8M89.3 702.3l-4 4.2M213.9 647.9l6 -2.9M133.3 723.7l-1.5 5.2M145.1 729.8l1.1 3.2M58.2 716.4l-3.2 7.2M86.6 580.4l-2.8 -5.3M79.4 706.9l-3.4 4M26.4 535.2l-6.9 -3.6M102.1 739.9l0.7 4.5M225.8 613.7l5.5 -3M48.7 574.4l-5.4 -4.2M176.6 685.7l2.5 5.3M64.6 566.8l-2 -4.8M71.8 696.3l-6.4 3.1M44.3 554.7l-6.5 -2.6M23.9 653.9l-6.3 -1.6M104.4 728.6l-1.3 4.1M45 652.1l-6.4 0.9M107.8 536.4l-4.6 -4.1M199.4 661.3l6.1 4M199.9 588l6.5 -4.2M219.5 664.4l5.2 2.6M205.7 742.2l0.1 4M193.5 703.7l3.7 2.8M21.2 729.8l-4.7 0.8M167.9 550.6l0.7 -3.8M65.4 549.5l-4.4 -5.2M54.8 639l-5.9 -2.4M122.2 572.8l-0.4 -3.2M144.2 743.4l2.4 3.5M74.4 586.7l-1.9 -3.5M104.1 582.2l-0.5 -3.1M201.6 595.4l4.7 -0.3M81.4 679.6l-4.8 5.8M205.4 595.8l4.4 -6.6M60.1 678.4l-4.1 2.4M222.7 561.4l3.4 -2.3M74.4 625.2l-3.9 -1.4M174.5 537.2l5.3 -4.5M90.1 698.1l-4.1 1.9M246.2 680.6l5 1M62.5 718.8l-6.4 4.2M237.3 599.6l3.2 -1.3M256.6 656.3l6.8 2.4M76 611.7l-4.9 -6.1M233.5 543.3l3.1 -7.3M29.4 531.7l-2.5 -4.4M76 732.2l-1 6.8M204.5 572.9l1.7 -6.3M209.1 602.7l3.7 -5.3M53.4 618.7l-7.4 2.7M247.7 601l7 0.4M249.7 623.5l7 -1M95.7 743.8l-3 2.2M195.8 564.9l0.9 -7.4M190 736.3l-0.2 6.8M184.6 685.6l1.8 7.3M106.2 564.6l-3.8 -3.1M234.1 620.2l6.3 -4.7M81.5 533.2l-3.3 -6.7M96.1 697.9l-1.3 3.3M136 713.5l0.1 5.9M167.8 729.8l3.1 3.8M146.8 556l1.2 -4M125.7 565.3l1.1 -2.8M219.4 665.2l5.5 1.8M249.4 742.5l4.6 6.2M175.2 728.5l1.6 3.8M238.7 627.4l5 -0.2M19.1 533l-1.2 -2.9M225.2 691.6l3.3 2.8M54.3 644.1l-5.6 -0.7M47.4 728.6l-5.8 1.1M40.5 685l-7 -1M74.8 597.8l-5.2 -5.3M45 658.8l-4.5 -0.6M43.6 684.1l-3.2 3.8M78.9 700.8l-7.5 2M27.9 719l-4.4 4.3M27.7 682.9l-4.2 3.8M146 544.1l3.7 -6.8M193.3 743l1.9 3.4M246.1 723.5l6.1 1.3M71.3 592.5l-1.8 -3.8M58.7 571.7l-7.7 -1.9M26.4 612.2l-5.3 -2.3M225.4 726.3l1.2 2.8M70.8 659.5l-5.1 5M147.7 729.6l-0.3 5M201.2 606.1l3.5 -0.8M23.8 728.8l-4.4 3.1M52.4 643.5l-5.2 -0.6M40.6 589.2l-4 -4M176.2 532.5l1.7 -7.5M170.3 741.2l3.2 6.4M137.7 555.9l2.4 -5.6M61 661.1l-4.5 3.4M222.7 556.6l2 -6.6M230.7 586l6.2 -2M179.1 694.7l2.8 3.4M167.5 546.8l1.1 -5.6M31.9 678.5l-2.9 3.6M28.9 733.6l-2.2 5M33.7 648.3l-4.1 3.1M156.8 550.4l1.1 -2.8M19 637.6l-4.5 -2.1M144.6 558.7l1.7 -3.3M73.4 656.4l-4.1 2.4M104.1 711.7l-5.3 5.8M199.9 609.6l6.5 -1.4M253.9 579.2l2.7 -1.3M187 595.8l3.8 -6.9M171.6 712.3l4.2 6.7M192.5 557.9l0.9 -5.4M203.5 643.1l2.6 2M136.1 712.8l-1 7.5M137.2 566.2l0.9 -2.9M236.9 682.4l3.8 4.2M97.5 587.8l-1.6 -6.7M119.8 541.8l1 -5.8M192.9 676.4l3.3 2.1M162.1 718.9l2.1 2.3M64.4 699.3l-3 2.3M90.6 677.8l-2.9 4.3M145.1 721l0.3 7.3M189.2 727.9l2.4 6.1M202 551.4l2 -5.5M137.5 545.3l0 -4.4M212.5 740.1l3.6 7M211.5 611.7l3 -1.9M45.4 573.9l-2.8 -5.8M232 688l5.4 3.3M213.3 597.6l3.2 -0.4M180.4 548.4l3 -7.1M127.5 543.8l0.9 -3.6M206.4 739.8l2.6 2.2M202.6 677l6.9 0.8M23.9 650.3l-3.8 0.4M201.3 546.6l6 -4.7M105.1 547.3l-2.7 -5.8M256 629.1l5.9 -1.6M53.7 615.9l-4 -1M77.9 684.6l-6.5 3.2M86.3 538.4l-3.8 -5.6M251.1 553l5.9 -1.3M80.3 530.1l-4.5 -6.4M215.5 527.7l4.2 -6.2M216.6 593.1l3.5 -2.2M60.7 533l-2.7 -1.5M67.3 708.4l-4.8 4.1M35.8 595.2l-5.1 -5.9M232.5 605.1l5.1 -3.7M158.5 538.3l-0.3 -4.2M168.5 553l2.3 -4.2M188.3 724.2l2.6 6.1M97.9 574.9l-0.1 -7.8M34.7 707.2l-4.3 0.7M74.2 638.5l-6.4 -0.6M234.5 686.7l5.1 1.8M215.4 533.1l3.5 -2.9M44.4 700.9l-4.7 0.6M75 694.9l-4.2 5.9M153.1 695.6l1.2 7.6M231.5 720.7l7.3 2.9M164.2 549l4.2 -4.1M147.3 566.1l2.6 -3.7M118.5 544.8l-0.6 -4.4M57.6 633.7l-5.3 -1.3M84.6 567.7l-4.6 -2.7M221.3 566.9l3.2 -4.6M51.4 556.2l-4.2 -4M36.5 738.1l-3.7 6.7M58.8 699.8l-3 1.6M92.2 736.9l-1.5 3.3M48.6 554.7l-3.1 -5.8M55.5 743.1l-1.5 3.4M77.7 582.1l-5.9 -0.9M210.6 704.4l4.7 6.2M50.1 589.5l-1.9 -3.1M201.4 690.2l7.4 2.5M78.1 595.3l-6.3 -0.6M215.6 545.7l4.7 -2.1M62.6 639.7l-3.5 1.9M164.3 722.6l-1 4.9M225.6 565.4l3.9 -5.4M113 558l-4 -6.3M113.6 711l-2 4.6M158.6 698.5l-0.8 5.2M73 743.1l-2.4 1.8M142 717.6l1.9 3.3M202.2 616.8l4.4 0.5M161.3 572.2l2.6 -5.3M30.1 640.6l-5.5 2.4M232.5 608.4l5 -2.9M121.6 740.1l-0.6 4.9M79.6 615.3l-2.7 -3.5M241.5 558.2l6.7 -1.2M178 731.5l-0.4 4.3M204.9 675l3.7 3.8M243.8 565.3l2.8 -1.3M34 722.4l-7.2 0.7M50.1 620.2l-3 -1.4M46 550.7l-3.8 -1.4M226.2 727.2l3.3 5.6M121.5 571l-2.7 -2.9M39.9 588.2l-5.8 0.3M91.1 543.8l-0.2 -5M194.6 681.4l4.3 1.2M202.1 545.3l2.3 -4.8M64.1 537.7l-2.4 -3.8M137.8 704.1l-3.3 5.2M72.2 592.8l-4.7 -0.8M203.8 685.4l5.9 4.8M238.8 598.4l6.8 -2.6M201.7 697.5l2.9 3.4M126.3 562.5l1.8 -4.6M98.9 555.2l-3 -5.7M164 554.4l1.3 -5.5M150.3 742.2l2.2 2.8M101.9 552.6l-0.3 -3.1M217.7 527.9l1.1 -3.8M109.1 742.6l-0.5 3.4M144.3 570.6l1.5 -4.4M181.1 700.1l4.6 4.6M51 530.3l-2.1 -6M115.9 537l-3.3 -4.1M88.7 693.5l-5.5 2.2M223.6 683.9l7.7 0.7M195.2 664.5l5.8 0M137.5 723.9l-3.3 5.7M204.2 541.1l4.3 -2.6M55.2 563.6l-4.2 -4.5M102.9 744l-1.6 4.2M30 600.8l-4.7 -2.3M202.5 537.7l1.2 -4.5M128.4 724.3l-2.9 7.1M241.3 635.8l5.5 -2.7M190.9 584.5l2.6 -5.2M227.9 640.6l6.6 -1.7M23.4 559.5l-3.2 -3.4M40.1 574.1l-7.6 -1M59.9 647.8l-5 -1.6M222.7 653.8l5.2 0.7M253.8 550.9l5.1 -1.7M178.3 547.5l5.7 -4.2M196.3 564.2l1.8 -7.3M22.3 679.5l-6.5 0.1M144.7 541.9l0.8 -3.1M199.8 602.1l5.4 -4.2M51.5 676.9l-6.8 0.9M76.6 743.6l-1.8 7.6M175 690.6l4 3.5M102.5 560.6l-2.8 -6.4M256.7 573l7.5 -2.5M149.5 549.9l0.4 -3.3M47.6 664.6l-4.1 -0.9M172.7 537.4l3.8 -6.2M70 608.2l-4.1 -4.9M113.6 702.9l-6 4.8M166 705.5l0.4 3.3M221.7 602.3l6.1 -3.9M217.3 598.6l5.5 -1.7M47.1 544.9l-3.6 -3.1M170.8 736.1l5.3 5.6M187.4 552.1l0.1 -3.3M231.9 681.1l4.8 2.9M167.5 549.5l3.9 -3.7M26.1 681.5l-3.2 1.1M60.7 543l-2.3 -2.4M250.4 558.3l3.5 -3.9M105.5 574.5l0.5 -5M51.8 707.7l-5.2 4.7M254.6 538.2l6.4 -2.1M174.3 738.3l0.7 3.2M196.3 542.5l4.6 -3.4M213.4 726l3.5 2.2M214.3 691.2l1.8 4.8M251.3 656.3l4.6 -1.6M21.6 612.2l-4.9 1.5M71.9 715.2l-3.4 5.8M43.7 729.8l-6.7 3.3M19 596.7l-3.9 0.6M94.1 697l-4.6 4.1M233.9 567.1l2.2 -4.8M193.6 690.1l2.6 1.7M35.5 704.6l-3.8 4.7M185.2 729.8l4.2 6.1M24 607l-3.8 -2.1M97.4 711.2l-3.6 2.5M239.8 644.8l2.9 1.3M222.6 555.9l2.1 -6.3M94.4 589.6l-2.1 -3.2M253.6 636.4l7.4 -2.2M49.1 588.1l-6.8 -2M101.3 716.5l-1.9 5.8M226.2 557.7l3.3 -2.2M212.5 675.8l2.8 2.6M74.6 547.5l-3.1 -3.3M138.7 552.2l-0.9 -6.1M254.4 631.2l6.8 2.2M38.9 724.8l-7.7 1.7M37.9 573.5l-4.5 -0.8M79.5 547.9l-0.8 -5.9M98.4 708.7l-4.1 6.1M224.3 581.8l5.6 -2.3M19.4 741.7l-3.3 2.8M206.9 631l3.2 1.7M225.7 634.1l3.7 -2.7M93.1 740.2l0.1 6.8M173.2 545.3l4.3 -3.4M24.9 635.9l-7 3.6M125.6 701.2l-1.7 7M178.9 739.9l4.1 4.8M73.8 633.5l-5.8 -2.5M83.5 568.2l-1.2 -3.2M25.7 529l-2.2 -4.7M252.3 584.8l3 -3.7M50.1 569.4l-4.3 -5.5M185.2 695.4l0.5 4M210.4 580.7l2.9 -1.1M49.1 742.6l-3.5 6.3M248.8 655.5l5.7 -0.5M233.2 660.2l4.4 0.1M89.7 598.2l-5.5 -5.3M33.4 658.2l-5.3 4.5M240.4 633.8l2.7 1.6M115.8 706.7l1.9 7.7M89.6 681.7l-3.5 3.3M116.4 696.1l-1.2 5.6M226.2 622.5l6.5 -4.5M40.7 678.5l-4.4 6M100 685.4l-4.4 4.9M182.1 716.6l3.6 4.7M67.8 599.4l-4.3 -5.6M104.8 577.9l-6.8 -3.9M184.9 535.4l-0.8 -6.4M67.7 623l-6.7 1.2M174.4 531.9l0.4 -3.8M36.7 702.6l-5.8 1M25.2 730.2l-4 2.3M221.1 615.4l4.7 0.3M210.2 725l3.9 3.2M178.9 707.3l4.5 4.2M203 695.6l6.9 1.8M114 712.5l0.5 4.9M27.4 680.2l-2.7 1.7M127.9 563.7l0.7 -5.2M35.6 597.4l-5.5 -3.1M103.2 730l-0.6 5.4M130.7 551.8l2.5 -5.3M173.5 527.6l-0.4 -7.2M27 587.3l-5.6 1M254.4 615.3l3 0.1M251.6 531.8l1.3 -3.6M25.8 736.4l-3.8 5.7" stroke="#2a7a3a" stroke-opacity="0.2" stroke-width="0.7" fill="none"/><path d="M209.3 579l8.1 -3.5M173.7 531.6l2.6 -8.1M65.7 604.9l-5.5 -5.2M70.1 610.5l-8.8 1.4M112.3 734.5l-2.1 7.3M125.6 541.9l-2.5 -7.4M36.1 737.7l-3 3.2M76.9 679.5l-6.1 0.3M221.9 575.1l6.4 -5.5M99.7 558.9l-4.1 -2.6M71 611.2l-4.9 -5.6M183 736.5l-0.2 8.7M87.4 536.2l-4.1 -5.6M252.4 532.1l4.7 -7.4M180.3 685.3l2.4 5.9M218.8 553.6l7.9 -1.8M215 655.6l6.8 -1.7M74.1 729.4l-1.3 5.1M223.2 643.3l8 -2.6M233.5 617.9l8.4 -0.6M44.8 647.1l-4.1 -1.6M79.9 596.3l-5 -3.3M239.1 543.6l4.4 -3.7M141.4 717.2l-1.1 6.6M124 572.5l1.5 -4.3M179.5 552.2l2.8 -7.7M117 698.7l-2.9 4.7M204.9 672.4l4.8 0.2M197.9 659.3l3.7 4.5M150.3 742l-1.4 4.7M253.1 563.6l4.1 -2.8M43.7 534.5l-4.2 -1.6M99.7 698.5l-1.1 6.8M160.6 741.2l5.3 7M184.8 545.2l2.1 -8M168.9 725.8l3.3 5.3M32 672.5l-7.3 0.8M38.4 600.4l-5.4 0.3M44.9 576.4l-4.4 -7.1M96.8 723.2l0.1 4.7M244 586.2l6.7 -5.6M42.2 596.5l-5.6 -6.1M242.2 612.4l4.5 -0.6M243.7 671.7l4.3 4.6M62.4 565.8l-8.5 -2.5M195.3 589.1l4.5 -0.7M190 596.9l4.6 -2M197.9 591l2.8 -3.1M201.8 629.4l5.1 -0.3M51.3 681.1l-6.2 6.3M60.5 652.9l-4.1 3.2M138.4 567.2l0 -7.4M71.5 724.5l-5.7 3.6M205.9 582.5l3 -4.1M47.6 583.9l-2.6 -3.2M240.1 655.7l6.9 0.7M18.6 577.4l-6.2 -1.7M165.5 559.6l4.5 -3.9M70.8 741.8l-3.6 1.7M249.6 726l2.9 8.5M138.1 704l-1.8 4.5M59 713.8l-6.7 4.1M203.5 597.9l8 -0.3M74.4 614.2l-6.8 -3.3M149.2 556l0.4 -4.1M214.3 742.9l0.2 4.7M85.4 739.1l-4.5 4.1M34.3 555.9l-8.5 -1.1M165 733.7l1.3 7.1M187 698.5l4.9 2.3M70 603.6l-6.1 -1.7M172.8 731.1l-0.1 6.7M73.9 721.2l-1.5 8.1M22.3 617.8l-4.8 2.2M57.4 705.6l-5.5 3.3M136.9 550.1l4.3 -7.8M125 737.1l-0.3 7.4M46.4 741.9l-2.4 3.4M95.8 685.8l-1.1 5.8M111.5 532.7l1.8 -6.7M177 735.7l2.1 6.5M154.5 531.7l0.6 -5.5M147.3 722.8l2.2 7.2M253.3 659.4l4.3 0.9M164.1 709.7l-1.5 7.5M154.7 551l4.1 -5.6M97.4 738.8l-2.2 3.8M72.2 654.6l-5.1 1.2M63.2 728.2l-5.6 6.6M59.1 646.3l-4.6 -1.9M219.5 553.4l3.8 -2.8M79.5 553.2l-4.5 -1.9M224.6 556.6l2.3 -3.7M24.8 697.5l-7 3.4M252.8 727.8l6.7 1.8M197.2 528l6.5 -5.9M179.3 553.7l5.8 -5.6M243 620.6l5.6 1.7M198 571.6l6.1 -3.1M252.5 581l5 -2.7M58 527.1l-2.5 -6.9M117.9 556.4l-3.9 -4.6M167.4 541.1l-1.3 -5.2M138.2 727l3.2 6.7M51.2 672.5l-4.3 1.2M27.3 548.5l-7.2 -4.4M94.9 537.6l-2.6 -7.2M188.8 547.8l1.7 -5.7M20.5 621.2l-6.6 -0.9M130.9 565.7l-2.5 -5.5M132.9 576.2l-3.9 -6.7M217 719.2l4.6 2.1M151.6 534.9l0.8 -6.5M206.3 567.7l2.1 -7.5M177.9 527.3l0.6 -6.1M174.9 707.7l0 7.9M239 646.1l3.9 1.4M228.7 725.3l5.8 1.9M136.3 560.3l-2.2 -5M219.1 737.1l4.4 6.8M228.5 725.7l4.9 3.6M89.4 568.5l-6 -5.4M115.6 714.2l1.8 6.7M166.2 547.7l0 -6.5M204.1 650.4l5.5 3.1M234.2 617.6l6.1 -4.3M245.1 543.8l4.8 -5.5M42.1 554.8l-5.7 -1.7M143.5 743.2l-3.1 7.2M126.8 566.4l-0.4 -4.2M92.4 588.3l-1.9 -6.9M24.5 637.7l-7 4.6M203.6 621.8l4.4 -0.3M251.6 607.5l4.5 -1M32.9 739.1l-5 5.1M36.1 607.8l-3.9 0.6M29.1 731.8l-5.7 4.3M27.4 734.8l-3 5.1M67.5 548.8l-2.5 -8M249.5 675l4.2 4.5M35.3 625.7l-8.2 -1.3M208.5 695.9l1.7 5.2M25.9 693.4l-2.4 3.2M27.3 567.6l-6.1 -3M154 723.3l3.7 4.3M233 740.2l2.2 8.5M148.4 549.2l5.3 -6.8M104 565.3l-2.3 -3.6M73.6 602.1l-3.8 -4.3M116.3 563.2l-2.1 -6.6M36.3 628.9l-5.3 1.2M232.6 744.5l1.6 6.3M118.9 714.9l-0.1 6.5M93.7 722.9l-7 4.5M238.7 580.2l4 -1.2M77 685.3l-3.6 7M85.3 692.9l-2.2 3.5M207.6 542l5.7 -2.3M250.9 680l6.9 3.9M116.2 533.4l-4.6 -4.4M40.2 638.9l-8.4 1.2M140.5 555.3l3.5 -6.2M253 538.6l3.8 -3.5M131.6 726.3l-1.4 7.5M60.2 673.5l-6.3 1.4M18.5 610.3l-5.6 -0.6M139.5 698.5l2.4 6.2M30 653.8l-6.8 -0.1M178.9 691.9l3.3 2.9M83.1 664.5l-6.9 4.9M205.1 530.1l3 -4.3M232.2 686.1l4.3 7.3M82.5 731l-2.8 3.9M66.9 550.6l-2.4 -5.1M183.5 561.3l5.1 -2.6M160.2 704.7l6.3 6.5M30.5 706.4l-5.7 5.8M211.3 677.8l4.2 3.8M206.2 637.8l6.3 -2.3M36.2 540.5l-1.8 -7.8M211.7 715.3l6 2.2M236.6 644.8l6.5 2.3M73.8 730.3l-4.6 5M245.3 563.4l4.8 -1.8M67.6 593.8l-5.2 -2.1M55 723.8l-2.2 5.3M46.8 630.4l-4.3 0M52.1 630.4l-4.5 1.1M246.8 536.9l6.1 -2.3M200.3 557.8l3.7 -4.1M192.9 726.7l5.6 3.7M26.8 651.2l-7.6 3.4M184 690.3l3.5 1.9M135.3 576.1l0.6 -4.5M53.9 661.1l-6 6.7M77.4 548.6l-1.7 -6.2M199.3 595.4l4.8 -2.9M147.3 543.5l3.8 -7.7M194.4 545.2l0.8 -6.7M239.8 566.2l3.7 -2.5M118.9 717.8l-1.3 4.9M34.9 698.9l-4.5 2.2M185.8 544.4l2 -3.9M163.3 569.2l4.4 -3.6M172.7 564.3l1.1 -7M26.4 528.7l-2 -7.8M74.6 686l-3.8 6.8M247.5 720.3l4 1.4M49.6 533.4l-1.5 -8.3M178.3 743.1l2.1 5.1M163.3 731.1l-0.7 8.6M252.1 688.2l8.7 1.4M119 719.2l-3.2 5.6M139.7 723.8l2 7.9M256.4 713.4l5.6 5.7M123 557l-1.6 -4.2M168.1 717l0.7 5.9M160.5 723l6.4 5.7M194.2 589.9l3 -8.2M107.5 534.7l-5.2 -4.7M38.5 653.2l-3.5 3.2M227.8 709.2l2.9 5.8M158.4 717.1l3.2 3.2M180.8 591.6l5.9 -3.5M244.6 610.3l6.1 -1.4M27 644.8l-6.3 3.2M243.8 609.3l4.3 1.1M85.6 735.4l-2.2 7M138.1 701l3.5 7.6M88.5 547.1l-4.6 -4.7M85.2 669.9l-5.4 7M61.8 590.4l-7.4 -4.4M245.4 530.6l4.8 -1.3M44.9 653.7l-4 2.8M132 716.6l3.3 6M69.2 742.8l-4.5 6.5M27 576.8l-7.8 -2.7M221.6 735.2l6 4.3M122.7 552.8l-1.8 -4.8M27.8 712.8l-4.6 4.6M223.5 702.5l6.8 4.8M245.6 539.4l7.1 -4.2M24.8 710.8l-5.1 2.4M31.7 668l-6.5 3.2M98 699.7l0.2 8.6M153.1 711.4l2.6 7.6M226.4 739.7l4.2 2.2M250.9 547.8l5.3 -0.4M213.2 569.8l6 -0.8M78.6 695.6l-3.4 4M242.3 670.4l4 4.7M232.3 732.6l6.2 2.2M94.1 566.2l-4.5 -3M178.7 696l0.9 4M210.1 637.3l7.9 -4.1M27.1 552.2l-2.7 -3.9M168.5 553.4l4.6 -6.7M110.3 740.1l1.9 6.8M69.5 674.8l-6.2 1.9M253.5 724.3l3.2 4.6M68.5 602.1l-3 -3.1M71.4 707.7l-6.4 2.9M183.7 566.3l6.2 -4.5M122.4 697.7l1.3 5.5M139.6 542.4l2.9 -5M223 690l5.9 0.8M142.3 545.4l3.1 -7.2M39.2 596l-6.4 -1.7M184.2 534.6l4.5 -6.3M72.3 543.9l-4 -2.4M129 560.5l-1.1 -3.9M28.5 532.3l-5.1 -6.2M80.7 589.2l-5 -3.4M165.3 564.1l3.5 -6.1M223.6 704l5.6 5.4M30.8 722l-6.2 3.8M104.6 545.7l0.6 -4.5M232.6 632.4l5.6 -0.9M187.7 535.6l5 -5.9M238.2 603.3l4.5 1.1M87.2 710.8l-6.6 5.5M156.6 740.9l0.4 6.9M220.7 546.5l4.9 -4.1M253.8 564.2l8.1 -3.3M30 596.6l-3.2 -3.4M175.1 720.7l2 3.7M222.9 557.1l4.7 -3.3M225.1 574.2l2 -4.7M28.7 554.8l-4.4 -4.5M29.6 719.1l-5.9 3.3M31.1 608.7l-3.2 -2.9M36.9 623l-7.7 -0.3M24 570.8l-5.9 -1.4M215.7 574.1l7.8 -3.9M73.4 618.4l-6.9 0.9M234.1 557.4l5.7 -4.7M218.8 545.8l3.4 -3.3M79 580.7l-2.6 -4.9M145.4 558.4l-2.3 -6.9M18.8 585.5l-5.5 -2.3M75.4 559.1l-7.4 -3.3M143.5 702.4l-0.7 5.7M83.7 668.3l-4.4 -0.2M243.3 735.8l5.6 4.8M165.9 702.1l3.4 7.7M97.7 568.4l-1.6 -5.2M38.8 660.4l-4.2 -0.4M71.4 624.4l-7.4 -3.8M46.4 672.6l-5.8 -1.3M73.5 661l-6 2.2M204.8 662.7l5.3 0.1M56.9 620.6l-8.6 -0.8M32.4 604.2l-8.3 2.2M50.8 602.9l-5 0.9M24 683.8l-6.6 1.5M75.5 664.3l-9 -0.6M107 531.3l0.1 -5.8M70.4 689.9l-5.1 3.8M163.8 707.3l2.1 7.2M220.3 693.8l7.8 1M239.6 624.9l5.3 0.9M59.8 661.7l-4.3 0.4M204.7 684.9l3.8 5.5M68.2 630.1l-6.7 1.1M239.2 729.5l6.7 1.1M94.7 685.5l-5.6 3.6M151.8 699.7l-2.7 7.8M215.9 581.8l4 -7.8M126.3 543.4l1.3 -8.3M31.2 599.7l-7.5 0M62.8 594.8l-5.2 -2.9M76.4 589.8l-8.5 -0.9M66.1 571.9l-4 -5.1M134.1 732.6l2.7 5.8M46.9 656.9l-4.4 -0.4M186.8 581.8l8.4 -2.5M103.8 558.4l-3.9 -5M212.8 555l3.8 -5.2M213.7 614.1l2.9 -3.5M44.3 528.6l-2.9 -5.4M95.8 732.9l0.2 4.4M76.3 572.4l-4.2 -1.8M251.7 596l8.3 1.1M124.6 695.7l-3 7.1M36.6 664.7l-6.9 -1.4M201.7 633.8l6.7 -2.2M74.8 561.1l-5.6 -4.1M71.7 685l-4.1 7.4M252.7 604l6.1 -0.4M235.2 711l5.8 5.8M168.4 528.2l-1.7 -6.5M234.3 588.4l3.9 -6.1M213.6 568.6l2.4 -3.6M20.6 566.6l-2.1 -4M64.2 669.3l-4.4 5.7M202.1 701.5l7.4 2.4M33.6 669.4l-8.8 0.3M22.8 671.7l-3.6 2.7M101 583.3l-5.5 -5.4M107.8 545.6l-0.1 -5.4M22 640.1l-5.4 -0.8M76.5 631l-5.9 -4.2M51.3 636.5l-6 3.8M50.6 574.2l-6.1 -0.1M69.6 623.4l-5.8 -5.4M232.4 547.7l3.5 -2.8M142.3 554l3.5 -5.5M247.5 654.5l5.3 2.2M114.7 547.6l-3.7 -6.9M34.1 606.6l-4.4 -2.6M23.8 708.3l-3.6 6M54.4 599.5l-3.8 -5.8M196.8 690.9l5.8 1.2M227 558.5l2.8 -4M117.3 561l0.1 -7.9M168.1 722.2l-0.2 4.2M203.4 630.7l5.2 2.7M207 733.4l1.3 4M83.9 534.3l-0.2 -8.1M206 644.9l6.4 -2.5M176.9 588.5l1.4 -8M64.8 584.4l-6.1 -2.6M54.2 643.3l-4 0.6M22.7 640.5l-8.4 1.5M82.5 707.1l-7.1 4.2M129.5 573.9l0.1 -4.6M54.5 670.3l-4.2 2M232.2 692.7l6.3 -0.1M38.3 570.2l-2.9 -3M168.8 536.8l2.1 -8.6M232.9 568.6l7.3 -0.7M183.5 587.5l4.4 -7.5M85.8 718.6l-0.6 6.3M96.1 690.4l-1.2 8.4M195.5 714.5l2.2 3.3M234.1 663.3l7.5 4.3M77.4 712.3l-1.4 6.3M112.3 530.8l-6.1 -5.8M228.4 562.3l3.9 -2.1M118.2 725.2l-4.2 5.3M50.9 638.1l-6.1 4.1M85 738.3l-4.8 4.8M64 708.7l-2 5.4M124.5 568l1.8 -6M111.9 571.3l-4.1 -6.5M158.4 701.5l3.1 4.3M45.2 669.6l-4.3 -0.7M34.1 711.9l-7.5 2.5M252.2 608.8l7.4 -1.1M18.6 645.4l-7 2.2M85.4 547.5l-3.3 -2.5M31.2 532.3l-3.9 -3.9M188.1 558.2l7.1 -4.8M127.3 549.1l-4.4 -5.2M48.7 659.5l-5.6 -1.5M220.6 635.1l6 0.9M43.1 566l-2.5 -3.7M166.6 566.4l-0.3 -8.4M66.9 598.8l-6.4 -4.6M255.7 687.6l6.2 4.9M246.4 687.6l5.5 3.6M177.6 707.8l6.3 3.7M253.3 591.7l3.4 -4.2M26.1 603.5l-5.7 -2.1M28.3 733.5l-3.6 7.3M43.4 577.1l-4.2 -3M195 701.2l5.6 1.6M42.1 606.3l-4.5 -0.3M207.2 631.4l5.4 -1M218.9 742.3l6.8 3.1M213.4 718.2l5.7 2.5M180.1 704l1.5 8.8M74.1 563.1l-2.4 -8.4M180 539.4l2.2 -4.1M247.2 686.3l5.9 3.5M130.8 710.6l-3.4 5.3M254.2 670.8l5.9 -1.9M118.8 576.1l-4.6 -4M211.7 596.6l7.1 -3M162 698.7l6 5.8M85.4 535l-5.9 -3.7M88.2 723.6l-2.4 5.5M83.6 698.5l-4.3 5M223.5 561.8l4 -1M206.4 688.1l6.3 5M40.8 568.8l-7.4 -1.3M239.3 693.8l5.8 0.3M26.7 631.6l-4.7 0.8M196.5 727.5l3.1 3.3M140.8 731.8l-2.7 8M55.9 691.2l-3.1 6.7M63 561.1l-5.9 -1.2M231.3 628.4l5.9 0.7M229.3 553l7.9 -2.1M236.5 567.9l5.8 -6.2M102.1 589l-3.7 -7M53.7 592.7l-4.4 -5.3M92.1 712.3l-4.4 5.5M242.9 623.2l4.8 -1.2M72.9 681l-4.8 1.7M157.2 739.7l3.5 6M94.9 558l-0.1 -7.2M33.1 585.4l-4 -2.2M217.8 559.7l5.1 -6.3M241.9 731.8l5.9 6.6M246.6 698l5.6 4M92.4 560.7l-4.7 -4.2M18.9 729.9l-5 0.5M113.5 546.9l-3.2 -6M19.1 574.6l-3.4 -5.1M71 707l-3.4 5.2M198.8 719.8l3.1 5.3M53.8 639.7l-7.7 3.3M36.4 528.2l-4.1 -3.3M253.2 649.9l8.2 -1.7M77.1 644.2l-4 -0.5M94.3 682.3l-6.1 2.5M66.8 731.4l-4.6 7.6M156.2 527.8l0.5 -6.8M204 688.4l2.4 7.1M23.2 600.9l-4.9 -5M94.5 696.3l-4.7 6.5M184.9 689.6l2.2 7M32.3 707.9l-3.8 2M219.2 589l6.3 -1.5M164.5 739.1l1.4 4.2M212.6 535.1l3.5 -7.1M60.8 692.5l-7 2.5M196.8 689.8l3.6 8.2M34.2 545.3l-6.3 -3.6M98 725.5l-1.7 4.9M249.5 673.5l7 -0.3M210 615.2l7.9 -3.8M235.8 688.4l7 -0.5M55.9 599.4l-7.4 -1.8M22 703.6l-5.5 -0.2M235.3 654.8l6.3 3M33.2 743.2l-5.3 4.6M215.4 639.6l5.3 -2M256.6 569.1l4.1 -1.2M204.6 688.7l5.6 0.9M105.3 707l-3 4.1M102.2 723.2l-2 3.5M87.1 685.1l-4.4 5M253.6 626.5l7.2 0.5M243.9 741.3l3.7 4.9M180.1 550l2.7 -4.6M226.9 620.8l8 -0.7M216.4 728.7l4.2 3.8M29.1 699l-6.6 0.4M41 625.1l-8 1.9M146.7 717.3l3.5 7.1M122.1 543.6l-0.9 -8.5M224.3 672.3l4.2 0.9M55.4 591.8l-5.3 -5.8M22.9 692l-2.2 3.6M234.8 546.7l6.5 -2.6M30.7 706.1l-5.7 0.9M206 630.4l6.9 -1.3M40.2 655.9l-5.4 4.6M83.3 602.4l-2.8 -3M207.8 743l4.1 4.8M156.3 544l4 -4.8M251.6 552.2l5.8 -6.5M40.2 684.2l-3.6 5.1M108.4 730l-5.5 5.2M89.8 553.3l-3.3 -2.7M231.2 535.4l1.4 -7.3M19.3 735.1l-7.6 1.8M82.3 556.9l-2.3 -7.7M80.3 679.6l-2.7 6.6M250.2 561.9l4.9 -5.3M134.1 699.9l0.9 4.6M175 712.4l2.3 7.8M86.8 679.9l-4.8 0.9M201 688.1l4.4 4.6M37.6 637.1l-5.4 -2.7M38.5 715.2l-8.7 1M84.9 592.2l-2.4 -4.1M188 576.2l2.8 -7M205.4 540.1l4.1 -7.3M230 639.3l4.3 1.6M189.9 532.5l0.1 -4.7M158.7 726.7l1.1 6.3M183.9 735.3l3.3 7.9M109.6 549.8l-3 -3.7M43.2 640.3l-7.6 -3.5M223.7 707.7l4.9 4.1M36.1 737.9l-1.3 6M224.9 688.8l7.2 1.5M34.7 653.8l-5 0.6M214.8 717.8l8.6 2.3M100.2 685.8l-2.9 3.7M256.4 611.1l4.3 -0.7M59.5 638.6l-7.2 -4.3M185.3 678.1l3.8 4.8M21 686.9l-5.8 3.9M192.6 687.6l4.4 4.6M41.4 535.9l-6.9 -4.2M201.7 716l3.8 2M125.2 547.5l-1 -3.9M39.3 728.6l-2.1 7.9M38.4 532.4l-2.2 -4.6M46.8 559.5l-6 -4.6M145.7 549.8l-0.2 -4.6M216 685.2l5.6 5.2M71.6 724.5l-4.2 4.2M193.4 683.8l4.6 0.7M93.5 585.5l-7.1 -3.1M64.6 628.5l-4 -2.2M162.8 723.3l1.4 5.2M134.9 709.2l-1.3 5.9M247.2 623.2l4.4 0.5M82 668l-9 0.2M52.5 545.5l-7 -5.1M71.7 695.8l-8 2.7M244.8 580.1l4.8 -3.2M35.7 639.2l-4.4 -1.9M57.3 577.8l-3.1 -3.9M229 553.1l3.4 -5.8M58.8 731.6l-2.9 7.4M210.7 566.8l2.4 -4.2M243.4 720.3l7 3.1M230.4 667.7l3.2 3.5M115.7 715.8l-2.9 2.8M78.6 716.9l-0.5 6.8M237.7 679l4.3 1.2M255.1 684.7l6.2 0.6M239.4 557.4l4.6 -3.9M161.3 710.3l1.5 7.5M209.7 690.4l5.4 0.9M236.8 684.7l4.4 2.4M47.7 686.4l-2.8 4.5M225.9 571l4.2 -0.4M215.5 630.8l5.9 -0.5M165.3 527l1.6 -8.7M161.9 702.8l5.8 4.4M40.8 557l-1.5 -4.9M200.4 731.8l7 5.6M256.1 743.4l6.1 0.9M186 570.8l2.5 -3.4M234.4 545.8l6.3 -2.3M147.6 729.6l4.7 7.2M75.5 684.7l-3.9 2.9M167.8 545.7l4 -4.2M255.2 634.3l4 -1.9M32.4 673.2l-7 3.3M166.5 743.8l1.2 5.3M149.2 577.2l2.5 -4.3M139.6 730.6l0.9 5.6M189.1 698.3l0.8 6.9M100.8 733l-3.8 5.5M18.9 642.9l-6 -2.5M78.4 657.9l-7.4 0.1M66.2 573.3l-6.9 -0.9M169.6 704.7l1.3 4.9M65.7 736.6l-6.8 3M83.9 534.8l-0.2 -7.4M221.2 730.4l3.6 3.2M255.5 655.8l8.8 0.2M58.6 677.7l-7.7 1.1M202.8 742.4l2.7 8.3M37.9 616.5l-5.8 -0.1M212.3 542l2.8 -5.4M156.8 719.3l-0.8 7.8M232.7 730.9l6.2 3.2M73.2 663.8l-5.3 4.9M256.5 652.7l4 -0.6M247.4 530.3l2.1 -3.5M214.2 607.9l6.1 0.3M250.8 704.7l6.9 4.7M40.7 618.9l-4 -0.6M115.7 529.9l-2.4 -6.4M160.7 718.4l3.5 7.8M155.1 736.8l3.8 8.1M83.6 562.2l-5 -7.2M73.4 716.1l-3.5 7.7M216.9 731.5l7.1 4.7M29.4 571.2l-4.4 -5.1M140.5 716.8l0 5.8M131.9 707.5l-0.3 6.9M106.6 735.7l1.6 6M232.5 741.4l6 4.7M174.8 552.6l1 -4.7M75.9 636.5l-7.5 -0.8M120.4 710.8l0.9 5.7M222.8 634.3l4.3 0.8M33.8 702.9l-5.5 2.8M200.7 668l8.4 2.4M68.7 693.2l-7.6 4.4M54.3 647.8l-5 0.9M232.4 578.8l8.3 -3.2M162.9 564.3l4.3 -4.3M174.8 725.4l-0.8 7.8M92.1 586.6l-4.3 -1.7M64.5 591.1l-4.9 -2.1M151.2 737.6l-2.8 6M202.2 649.3l6.4 -1.5M18.8 609.9l-4.2 -0.9M132.1 555.5l-1.2 -8.5M43.2 622.1l-6.5 1.8M49 560l-5.3 -6.3M225.2 657.7l6.8 1.2M58.2 733.9l-2.2 5.9M222.3 724.7l1.5 4.7M232.8 644l4.9 -2.8M232.7 670.4l7.1 4.5M184.5 733.2l-0.9 5.9M217.7 692.5l4.4 2.9M58.8 693.3l-7.1 2.9M76.6 555.6l-4.4 -5.1M78.5 725.6l-3.4 6.3M186.1 570.2l1.4 -7.7M110.5 737l-3.7 8.1M66.4 577.3l-6.9 -4.1M99 552.5l-3.1 -4.7M98.3 535.5l0.8 -7.9M55 687.1l-7.3 1.6M213.5 609.2l5.7 0.2M51 555.6l-4.5 -5.3M195.7 543.1l0.1 -7.9M87.7 530.6l-1.2 -4.7M196.5 718.1l1.3 8.3M70.1 642.9l-4.9 -0.5M77.8 726.3l-6.4 4.8M241.3 587.7l8 -3M219.6 680.3l6.8 -0.4M233.7 665.2l4.8 1.4M110.8 732.5l1.6 5.3M255.8 714.1l3.5 3.4M44.7 711.6l-3.3 5.1M164.5 709.4l5.3 4.8M232 724.3l5.1 6.3M211.2 601.4l7.1 0.8M49.2 695.7l-3 6.2M205.6 684.8l1.8 4.8M187.3 696.3l5.8 2.9M84.8 700.5l-3.9 7.5M215.7 553.9l5 -2.6M186.4 563.8l6.2 -6.3M211.1 741l3.9 7.2M222 741.6l4.5 7.6M189.1 561.8l0.4 -7.1M237.8 710.1l6.4 1.9M254.6 529.3l3.2 -5.3M127.2 529.3l-2.8 -8.4M84.8 586.4l-1.4 -4.4M196.4 613.1l5 -6.8M180.1 695.8l3.2 7.8M48.9 673.5l-5.4 2.9M195.1 672.4l6.2 1.2M231.9 641l5.4 -0.2M177 587.9l5.1 -3.7M249.5 742.1l4.6 6.8M33.2 603.4l-3.7 -4M163.7 744.4l3.5 5.6M252.3 584.5l6.7 -2.6M246.3 693.6l6.1 6.6M168.2 556.7l0.9 -4.7M102.4 566l0 -7.2M171.4 560l4.5 -6.1M100 729.7l-4.9 6.4M168.6 743.4l3.9 6.1M220.4 656.8l5.8 2.2M145.5 712.9l-3.5 7.7M178.2 529.3l-1.8 -8.1M227.9 614l5.9 -2.5M201.7 706.6l7.1 4.8M256.4 608.5l6.7 -0.9M56 644.1l-4.9 2.4M26.5 657.1l-4.3 -0.3M95.2 710.2l-5.7 6.2M78.8 720.3l-2.4 6M131.1 711l-0.5 5.1M46.5 559.7l-5.3 -3.4M88.5 709.1l-0.3 4.1M35.8 529.7l-4.9 -2.8M196.5 600.6l3.9 -2.4M243.6 640l4.4 1.9M39.7 583.2l-5.6 -5.3M36.5 636.7l-5.7 2.5M191.5 579.3l2.6 -4.6M195.9 615.9l5.5 -2.7M20 723.4l-5.2 1.7M200.2 709.9l1.9 7.3M86 676.4l-4.8 0.2M245 618.6l6.2 -3.2M33.4 542.3l-8.4 -1.4M77 591.2l-6.8 -3.9M45.3 645l-5.1 2M226.7 568.3l4.7 -6.5M245.1 665.4l3.7 3.2M74.3 574.5l-2.2 -8M29.4 726.8l-5 3.9M20.7 723.7l-4.4 1.3M116.4 579.3l0.4 -8.7M205.3 556.9l1.8 -6.5M148.4 725.4l-2.1 6.6M81.4 590.4l-2.9 -6.9M63.5 673.5l-2.6 4.4M38.5 561l-3.2 -8.4M58.8 622.8l-6.9 -4.1M232.6 553.4l4.9 -3.2M235.9 682.1l5.1 2.7M213.2 608.3l5.5 -0.9M26.7 596.4l-4.8 -1.7M115.7 575.4l-0.8 -4.9M152.5 542.1l-3.2 -7.9M92.4 567.6l-5.9 -3.5M38.9 537.7l-6.4 -1.7M54.9 738.1l-0.8 6.6M183.2 539.1l2.1 -5.3M212.6 659.4l8 0.3M224.6 608.5l6.6 -4.6M93.6 547.5l-2 -7.9M171.4 538.4l3.8 -4M185 739.5l4.6 3.7M141.3 729l1.7 7.6M204 562.4l3 -4.8M19.9 582.8l-7.6 -4.5M99.9 557.2l-3.6 -2.2M234 679.4l4.6 0.2M114.9 706.5l0.7 4.8M70.8 619.1l-8.2 0.5M69.5 616.4l-5.3 -1.2M40 654.7l-6.7 -2.9M35.7 637.6l-6.7 -1.7M19.9 532.2l-4.6 -4.7M35.5 572.1l-5.5 -2M251.8 711.7l5.7 5.3M214.6 699.9l4.7 2.8M204 743.7l0 7.5M189.7 671.7l1.8 4M75.8 612.8l-3.6 -2.5M182.8 743.9l-0.1 7M217.2 676.9l3.4 2.8M74.6 593.7l-4.5 -3.6M203.7 561.1l7 -2.6M98.4 567.3l-5.7 -4.3M57.9 743.8l-5.1 3M144.1 526.8l-1.2 -6.6M55.1 555.8l-6.3 -3.3M62.9 690.1l-3.3 4.7M36.4 590l-6.3 -1.6M200.2 627.9l3 -2.7M93.1 703l-3.1 7.4M248.1 641.9l6.9 2.1M225.3 683.6l4.8 0.4M254.8 618.1l4.6 -2.5M75.8 656.7l-3.4 2.3M217.8 547.6l4.6 -6.9M23.4 732.7l-2.1 4.7M110 726.4l-3.8 4.9M95.5 594.3l-3.9 -1.9M245.9 620.1l6.5 -5.1M69.9 700.8l-4.3 5.4M134.3 715.1l-0.7 7.2M45.1 538.2l-3.2 -3.9M111.8 701.9l-4.1 3M32.4 672.7l-6.4 -0.6M37.6 698.5l-6.8 3.7M198.8 671.5l6.6 2.1M219.6 581.5l2.5 -6.3M62.4 572.9l-8.3 -2.3M207.3 568.2l5.4 -4.3M197.1 718l3.3 2.9M159.9 707.6l-1.8 7.2M128.3 701.1l-3.9 4.3M50.6 722.3l-3.8 3.1M232.8 689.6l5.6 6.6M192.3 738.9l1 7.5M24.8 729.8l-6 6.1M38.8 626.4l-5.5 1.4M163.6 737.7l-1.1 4.9M172.6 583.5l5.6 -6.9M21.2 539.5l-2 -6.6M30.6 538.8l-4.8 -5.9M214.3 537.9l3.5 -5.7M73.7 726.3l-6.1 5.8M214.9 701.3l2.1 6.4M32.6 720.6l-3.7 4.8M141.2 721.8l-1.8 7M206.7 655.9l4.7 -0.6M44.2 621.2l-4.6 -1.2M45.3 693.2l-8.2 1.4M84.5 677.8l-4.1 4.1M52.9 699.2l-3.4 5.2M85.2 572.6l-1.7 -6.3M256.5 639.1l4.4 1.8M210.7 548.3l5.4 -5.1M153.3 550.2l1.7 -8.3M140.8 574.5l0.8 -5.3M77.3 671.4l-7.8 -0.4M198.1 606.7l7.2 -5M84.3 725l-1 7.2M93.9 591.5l-4 -1M238.8 657.5l4.6 0.9M218.7 563.5l3.9 -3.6M118 743.2l-1.8 5.6M44.4 575.3l-8.1 -2.2M20 690.7l-7.1 5.3M179.5 705.6l2.4 3.2M139 706.6l-2.3 3.7M97.2 546.7l-4.8 -3.4M97.7 532.8l-2.7 -5M174.7 722.7l0.1 6.8M70 563.6l-3.1 -7.5M31.6 711.5l-4.2 3.3M39.4 714.6l-3.1 7.6M163.6 574.8l2.7 -5.6M246.7 626.5l4.5 -0.8M152.8 528.2l3.8 -7.7M240.9 572.8l8 -1.1M76.2 734.5l-5.7 6.1M232.9 630l4.6 -1M102.4 732.4l-3.5 5.7M46.3 608.6l-8.1 1.7M35.3 602.7l-5.1 -1.9M243.4 695.5l6.6 3.5M220 700.4l5.6 0.9M254.5 566.9l3.8 -1.9M38.2 654.1l-5.3 -0.6M108.7 700.5l-3.3 3.1M124.6 720.4l1 5M61.5 575.8l-3.7 -3.3M210.1 558.5l6 -2.1M147.8 725.3l5 6M92.4 714.7l-4.8 3.5M151.9 535.7l-1.6 -4.8M126.2 703.8l2.6 6M214.3 528.1l6 -6M140.7 741.2l-1.9 4.9M229.4 665l7.6 3.7M226.2 551.9l5.4 -2.8M239 571.1l5.8 -4M141.4 546.3l0.9 -7.5M177.4 577.8l2.4 -3.3M255.1 653.9l4.8 1.7M26.3 552.2l-4.3 -1.2M238.8 654.1l7.4 0.3M37.5 666.1l-4.5 3.3M33.8 722.4l-5.1 5.7M69.8 740l-5.3 7M115.5 706.2l-0.9 6.8M250 727.6l1.6 5M221.1 742l6.9 5.5M209.3 567.5l2.3 -4.3M90.3 598.2l-5.5 -6.1M22.2 705.8l-4.7 0.9M78 735.2l-4.6 5.5M84.6 712.1l-3.7 2.3M114.6 531.9l-1.6 -6.3M107 570.4l-3.3 -6.1M69.8 576.5l-4.8 -0.7M189.2 566.4l3.4 -6.6M43 573.9l-7.1 -2.8M152.3 545.2l0.9 -8.7M209.8 574.9l4.4 -7.5M181.8 722.2l5.8 4.2M225.6 697.3l5.4 5M31.4 592.3l-5.6 -0.4M209.8 554.5l1.7 -5M59.7 717.2l-1 4.1M202.1 591.9l2.9 -4.6M162.9 550.9l2.6 -5.6M18.7 622.4l-4.2 2M207.6 532l4.5 -2.1M29.7 622.3l-7.4 -1.6M249.6 620l7.6 -3.6M110.7 743.5l-2.3 5.7M220.5 717.7l8.4 1.7M105.1 731l-0.1 5.8M77.4 710.3l-3.6 5.8M63.7 585.2l-4.3 -2.9M31.8 643.5l-6.8 -1.7M58.9 707.8l-3.1 4M162.4 549.6l4.8 -6.5M189.4 598.5l2.6 -4.2M72.3 664.1l-4.9 1.6M201.8 719.3l5.9 5M191.7 733.6l6.1 3.9M22.1 590l-7.8 -2.8M238.2 712.6l4.9 4.1M62 669l-4.4 1.6M187.2 727.7l0.7 8.4M53.4 623.5l-7.5 -0.5M18.7 654.9l-3.4 3M59 576.6l-4.4 -2.6M196.4 658.6l5.9 1.3M229.9 613.1l7.6 -1.5M204.7 630l6.8 -2.6M179.5 576.7l4.9 -2.4M89.5 574.3l-6.4 -3.3M25.6 671l-5.1 2.7M169.1 718l5.3 5M200 645.6l8.2 -2.8M102.7 544.6l-2.2 -5M194.7 729.7l3.9 5.7M209.4 660.4l7.1 0.2M48.2 654.9l-7 0.8M185 728.8l-0.5 8.7M216.7 561.5l6.6 -3.7M114.9 570.7l-1.9 -7.8M249.9 638.4l7.5 4.7M42.1 642.1l-6.5 -3.1M78.5 604.2l-4.9 -3.5M81.4 562.2l-3.6 -2.1M225.8 712.4l4.4 3.4M75.4 535.6l0 -6.8M216.2 660.6l4.5 0.9M136.3 741.8l-1.9 6.8M61 740.5l-6.6 5.8M115.9 712.8l0.1 4M165 706.3l0.7 5.3M235 700l3.9 5.3M227 626.5l4.9 -1.6M106.4 735.3l-1.8 3.6M61.5 564.2l-4.6 -3.6M200.1 583.9l2.3 -7.1M52.6 641.2l-5.5 1.7M84.7 695.7l-4.8 3.4M185.4 704.7l3.1 7.5M245.1 544.3l1.7 -4.2M113.4 720.1l-4.3 7.6M241.1 578l5.1 -4.4M149.8 719.3l0.6 4.8M37.2 552.8l-4.4 -3.7M25.6 708.4l-3.9 1M212.2 533.5l1.3 -6.2M196 686.3l2.4 4.4M54.7 560l-3.9 -2.9M240.9 587.6l5.7 -2.4M221.6 571.5l2.6 -5M242.8 689l6.2 1.9M34 548.7l-1.3 -4.7M56.2 619.1l-6 -1.1M182.3 685.6l7.3 3.8M250.2 667.6l7.5 0.5M153 530.5l-0.1 -8.3M187.9 571.7l4.9 -6.9M236.5 534l1 -4.1M138.3 546.1l-2.8 -6.1M43.2 663.1l-8.6 0.2M32.4 643.8l-7.9 3.5M238.9 710l5.8 5.4M102.2 551.5l-3.8 -2.8M231.2 687.3l3.6 4.9M30.4 731.8l-3.4 4.1M176.9 585l3.9 -5.7M73.1 703.8l-3.5 3M81.1 694.8l-4.4 3M193.2 701.9l3.9 1.4M194.3 680.6l4.4 3.6M152.8 548.4l-2.9 -6.7M134.4 711.2l-1.3 7.5M173.3 582.2l1 -6.1M241.8 622.2l6.5 2.1M30.9 629.5l-5.8 -0.8M81.8 717.4l-2 7.4M225.5 618.9l4.4 -0.5M234.4 543.9l3.7 -1.9M49.5 653.9l-4.5 1.8M50.7 665.7l-5.8 4.1M254.7 627.9l3.7 1.9M201.9 707l1.8 7.3M240.8 740.2l5.7 3.7M35.1 587.4l-4.4 -4.1M244.4 673.9l7.8 0.6M191.5 716.4l5.6 5M239.8 610.8l6.3 -2.8M129.6 709.6l-3.9 5.8M222 542.8l8.1 -2.6M71.2 701.1l-6.1 4.1M59.5 719.7l-3.9 4.4M25.4 568.5l-8.4 -2.6M242.2 570.3l6.1 -4.6M177.9 528.1l2.2 -6.7M55.3 586.5l-3.3 -2.9M45.5 722.3l-4.2 7.8M235.5 529l6.4 -3.7M208.4 660.8l3.8 3.2M201.2 602.1l4.4 -3.9M189 546.3l3.8 -6.9M131.5 550.6l-0.1 -5.3M126.1 535.4l-1.1 -6.3M96.7 539l0.4 -6.2M69.7 537.1l-3.1 -3.9M203.3 671.4l4 7.4M228.8 574.1l4.7 -1.6M243.1 712l7.4 2.4M178.2 570.9l3.1 -5.6M42.1 566.5l-6 -4M126.4 730.3l-1.6 8.3M165 699.3l2.4 8.6M131.4 546l-4.5 -6.3M88.1 568.8l-3.8 -7.4M155.6 529.1l3.3 -4M50.2 609.9l-5.4 0.7M48.6 690.6l-4.4 4.5M209.2 625.3l6 -4M20.6 594l-3 -3M116.2 552l-4 -6.7M207.1 661.5l8 -1M202.5 571.3l7.9 -3.7M21.9 582.5l-7.4 -4.3M40 638.1l-5.1 -3.4M19.5 664.4l-5.7 2.1M62.3 670.2l-4.3 5.4M136.6 571.1l-1.6 -5.9M191.5 569.4l1.6 -4.3M160.5 536.5l0.2 -4.4M81.2 709.1l-5.2 5.3M125.3 569.5l2 -5.5M226.3 647.8l7.8 1.5M191.4 532l6.9 -4.6M187.3 707.2l6 3.6M78.3 613.2l-6.7 -1.8M19.6 664.4l-6 2.5M184.2 678.2l4.1 7.8M225.1 537.6l3.2 -6.9M226.4 560.3l4.5 -3.7M29.3 676l-6.2 5.9M72.1 574.2l-3.5 -3.9M24.8 662l-7.1 3.6M174.4 581l2.8 -6.9M45.7 550.3l-2.9 -4.5M248.6 533.1l3.2 -7.3M223.7 629.5l5 1.6M207.1 618.4l5.9 -0.2M110.4 732.7l-3.4 8M216.3 553.6l3.6 -5M215.6 570l1.1 -4.3M172.2 534.3l3.7 -7.7M72.7 612.3l-8.3 0.6M145.9 711.4l0.2 5.3M57.4 633.8l-4 1.8M150.2 533l3.5 -6.3M219.3 536.6l0.8 -7.7M34.8 600.8l-4.3 -3.1M123.8 527.2l-1.5 -3.7M54.9 549.1l-5.1 -5.4M24.1 604.3l-8.7 -2.1M240.4 739.2l3.7 1.8M230.3 536.4l2.7 -4M200.6 608.4l4.4 -1.5M33 681.5l-4.1 4.5M209.2 622.4l5.4 -4.7M156.9 712.9l0.6 5.6M183.8 533.5l3.1 -4.4M23.1 707.3l-5.2 4.3M119.4 708.9l-1 5.3M133.2 720.1l-4.4 6.8M58.6 717.2l-3.6 2.1M19.9 551.2l-6.2 -2.2M75.6 721.7l-1.4 5.5M63.9 582.7l-3.6 -4.3M32.1 660.5l-7.1 0.3M156.5 532.1l-0.4 -6.6M148.5 734.6l-0.5 7.5M153.1 550l1.4 -4.2M81.6 581.6l-5.8 -1.9M46.3 727.3l-7.1 5.4M250.3 678.7l7.7 0.8M217.5 698.1l5.1 1.5M69 657.7l-8.5 -1.7M152.9 698.3l6.2 6M26.6 530.8l-2.6 -8.2M84.6 743.6l-3.9 4.5M129.4 554.7l-0.3 -8.7M133.9 534l1.2 -5.1M241 673.4l6.2 5.5M128.7 566.5l-2.7 -7.5M217.1 575.6l2 -3.9M253.6 602.5l5.8 -5.9M28.9 677.9l-4.9 4M108.6 690.3l-2.9 5.3M44.8 582.5l-4.1 -6.4M162.7 700.6l7.1 5.5M33.4 621l-4.1 -0.8M106.9 532.2l-1.2 -4.5M232.6 581.4l5.5 -2.3M227.9 660.1l7.7 0.5M76.7 713.7l-1.7 7M191.2 546.6l5.4 -5.8M226.7 613.7l5.1 1.4M24 636.3l-4.9 2.5M67.7 743.5l-4 2M98 681.4l-1 5.8M166.5 551l-0.4 -4.2M234.1 593.5l5.6 -3.9M103 546l-0.1 -4.1M82.1 731.1l-3.6 2.5M216.9 709.8l6.4 1.4M197.3 703.4l2 4.7M25.8 658l-3.2 2.4M128.6 722l-3.2 7.6M30.3 731.1l-4.3 2.6M70.1 725.1l-3.4 7.9M143.6 714.4l3.7 5.5M158.7 561.3l-1.2 -7.8M174.5 737.2l3.8 6.7M77.7 636.4l-6 2.7M185.1 565.3l6.4 -3.4M157.5 718.9l2.3 6.5M132.7 704l-0.9 7.9M59.8 643.5l-4.4 1.5M36.7 658l-4 3M24.4 604.3l-8.4 -1.9M68 714.3l-4.3 6.2M155.2 711.9l4.4 5.7M20.6 536.9l-1.8 -5.2M154.3 565.7l2.4 -6.4M202.9 689.3l6.8 3M74.6 557.4l-4.2 -3.4M117.9 564.8l0.7 -7.3M68.1 699.7l-2.3 4.2M96.8 701.1l-1.4 6.5M34.9 717l-8.7 1.5M208.9 641.8l7.9 -2.2M32.5 657.4l-6.6 -0.9M224.1 674.7l5.5 0.3M219.4 650.6l4.1 2.5M109.9 547.6l-2.4 -4M20.1 721.4l-2.5 5.5M195 696.3l3.5 2.3M36.3 536.3l-7.2 -5.1M45.3 713.4l-5 1.7M85.5 712.7l-6 2.4M199.4 594.9l7.8 -1.5M205.8 607l4.7 -4.1M188.5 554.2l1.6 -7.6M27.8 649.5l-5.1 0M231.3 729l5.6 5.5M228.7 589.9l4.7 -4.9M230.4 667.7l8.4 -1.4M125.8 539.3l1.9 -8.6M59.1 543.6l-3.1 -5.9M40.1 564.4l-7 -3.6M100.7 567.2l-2.9 -5M68.6 679.3l-6.2 2M160.8 706.9l-0.6 4.2M209.7 621.7l4 -3.4M219.5 729.3l5.3 5.6M41.9 736.8l-1.8 7.6M50.1 720.2l-3.5 4.4M41.7 540.3l-1.4 -5.6M106.3 711.3l-1.1 4.9M200.4 654.3l7.5 0M207.1 553.2l3.2 -5.9M48.3 664.8l-8.4 1.2M80.4 563.5l-3.8 -7M72.3 666.6l-3.7 5.9M198.5 674.2l4.3 1.2M235 608.8l7.1 -1.8M148.5 529.2l0.2 -8.2M19 592.5l-4 -1.4M101.8 580.4l-2.8 -6.3M18.6 530.7l-6.3 -2.7M26.4 738.6l-4 2.5M131.3 557.3l0.4 -4.6M73.6 634.7l-5.9 -2.9M68.7 732.2l-6.8 2.6M172 539.1l-0.9 -8.6M73.9 731.2l-6.3 2.5M181.3 553.7l4.5 -5.1M131 560.6l-3.7 -7.6M222 604.6l4.5 -4.2M99.4 582l-5.8 -6.2M29.9 722.8l-6.1 4.1M135.2 529.6l-1.6 -4M212.3 680.4l6.6 0.8M249.4 580.8l6.6 -4.4M20 626.5l-6.6 -1.3M121 535.2l2.7 -8.1M228.1 697.5l6.6 4M80.8 615.6l-3.2 -2.9M85.1 583.7l-3.6 -5.5M184.6 723.6l3 6.9M231.5 668l8.4 2.7M38 633.9l-8.2 -2.4M36 736.4l-3.3 4M84 529.7l-1.8 -3.8M115.7 529l0.4 -4.6M29.2 678.4l-5.7 1.8M183.8 591.9l3.4 -6.8M206.8 646l4.4 -1.3M162.6 551.4l5.6 -5.8M67.9 662.4l-2.9 2.8M251.3 630.4l7 3.8M114.2 696.2l-1.6 4M217.7 712.3l5 6.2M232.2 652.5l4.5 0.7M49.8 552.5l-3 -2.9M40.6 592.4l-3.3 -4.8M250.2 555.2l6.4 -5.2M223 590l8.7 0.5M18.9 628.4l-4.9 0M40.9 729.3l-4 7.9M48.7 629.5l-7.6 1.2M175.8 688.3l3.2 3.9M242.1 562.1l4.9 -3.8M37.4 742.9l-4.1 3.3M237.7 526.8l5.7 -5.4M246.4 687.7l4.8 -0.6M222.5 608.9l5.4 -4.2M242.4 586.6l6 -6.2M217.4 578.9l8.2 -3M67.6 700.7l-7.9 3.7M124.2 572l-0.8 -5M102.1 571.7l-6 -4.6M47.8 716.2l-2.1 3.8M85.2 698.6l-4.4 3.8M215 542.7l0.7 -5.7M177.2 584.6l6.7 -5.5M201.9 626l6.8 -0.7M21.5 723.4l-3.6 2.9M80.2 608.4l-7.1 -3.4M195.9 679.8l5.8 5.4M180.1 714.8l4.2 5.6M239.1 605.1l5.5 -4.9M206.4 544.1l4 -5.4M210.7 693.8l2.8 5.6M191.4 592.6l5.9 -3.1M236.5 641.5l4.5 2.6M249 574.4l5.7 -1.4M244.4 617.8l4.2 -1.5M37.2 703.7l-3.2 4M174.5 555.9l1.7 -3.7M220.5 606.4l7.3 -4.3M71.2 660.2l-9 0.2M176.5 734.3l2.1 7.5M31.6 664.4l-7.1 -1.8M41.7 702.8l-4.6 1.1M221.8 597.6l2.2 -3.5M146.1 561.7l4.3 -5.3M193.6 726.5l6.3 4.9M37.9 740.1l-5 7.2M157.7 726.8l1.9 5.2M141.4 718.4l-0.3 4.3M64 624l-6.7 1.9M172.2 572.8l3 -6.5M31.9 582.5l-4.3 0M74 564.5l-5.8 -3.7M21.4 580.1l-4.7 -0.8M43.9 602.3l-7.6 1.9M41.2 639.1l-5 0.2M19.8 572.4l-6.8 -0.1M126.3 738.2l0.6 4.5M144.9 550.3l0.1 -7.2M243.8 711.7l4.8 0.6M47.2 697.8l-3.3 4.6M32.3 605.2l-4.6 -5.4M93.6 702.5l-4.1 7.9M60.7 533.8l-4.4 -2.9M34 625.9l-6.3 -0.3M200.2 660.8l4 1.6M209.1 725.3l1 5.5M97.5 704.4l-1.9 8M189.8 731.4l-0.4 4.8M24.2 530.7l-6.3 -2.4M47.2 715.1l-7.1 2.3M240.1 715.5l6.4 0.8M234.6 601.3l5.2 -5M126.5 550.8l-1.2 -5.7M243.8 716.4l8.2 0.4M243.2 679.7l3.9 1.5M236.7 616.3l6.1 -3M250.7 598.2l4.9 -0.1M160.7 707.9l3.4 6.3M213.7 643.5l6.6 -0.8M105.2 527.6l-0.3 -7.7M112.3 574.1l-3.6 -3.1M144 701l0.6 6M22.8 721.1l-6.8 4.2M188.9 734.1l-0.3 5.5M60.8 660.5l-5 5.2M207.2 551.5l1.8 -4.4M175.3 734.5l5.5 4.5M32.1 663.5l-6.4 0.5M49.3 546.4l-3.5 -2.8M237.8 741.3l4.4 2.7M207.6 739.4l5 7.1M99.1 713.9l-0.9 5.4M48.6 584.5l-3.8 -1.9M256.3 644.4l5.3 2M76 577.2l-1.6 -7.2M62.3 533.7l-1.8 -8.2M26.5 638.5l-4.7 0.9M41 735.9l-6.6 3.7M144.7 699l1.7 6.2M194.2 729.2l2.5 3.7M24.5 665.9l-7.1 2.6M94.6 690.4l-2.4 6.1M154 549l2.9 -5.1M75 581.2l-5.4 -3.9M255.4 712.5l5.4 5.2M55.3 709l-5.2 0.8M168.5 561.6l4.9 -4.9M90 734.8l-2.8 5.9M67.7 548.6l-1.1 -6.5M146.4 716.7l0.5 7.5M66.5 540.5l-3.8 -7.3M198.4 565.1l5.5 -3.5M228.7 665.2l7.3 3.4M213.3 677.3l8.3 3.2M241.6 633.2l6.7 2M185.5 556.6l1.1 -6.8M65.3 655.4l-5 4.1M54 689.7l-6.8 2.4M91.2 561.7l-7.6 -4.3M135.5 572.2l4.2 -7.6M243.7 585l6.2 -2.1M219.5 675l5.1 3.2M111.9 702.1l-3.8 7.6M73.8 630.6l-6.7 -4.5M54.6 707l-3.1 8.2M78.3 710.4l-3.9 1.8M27.6 625.8l-8.2 1.5M126.5 733.2l-4.3 7.7M201.4 704.6l0.8 4.7M232.5 694.4l4.7 -0.2M217.3 571.5l1.7 -3.9M24.1 690.7l-5.1 -0.1M235.5 655.4l5.3 -1.8M168.8 728.9l0.8 5.5M84.2 682.7l-6.2 2.3M67 633.8l-4.7 -0.6M27.5 575.8l-2.9 -3.3M30.3 567.7l-8.5 -1.7M188 686.6l3.1 4.5M143.2 737.2l1.2 4.5M69.9 624.9l-7.7 1.6M26.6 560l-5.5 -3.5M247.3 535.2l2.1 -6.2M74 575.4l-4.8 -4.8M233.9 579.8l6.9 -2.1M159.9 695l3.6 4M50.8 531.3l-7.9 -4.1M75.5 718.9l-4.7 2.3M165.1 541.6l-1.9 -7.2" stroke="#c8f8d0" stroke-opacity="0.35" stroke-width="0.8" fill="none"/><path d="M130.9 549L127.4 529.4M133 549L130.5 526.1M135.2 549L133.7 527.8M137.3 549L136.8 527.9M139.5 549L140 526.5M141.6 549L143.1 527.3M143.8 549L146.3 525.8M145.9 549L149.4 526.5" stroke="#1e5a2a" stroke-opacity="0.8" stroke-width="1" fill="none"/><path d="M132 549L129 523.4M134.1 549L132.1 529.4M136.3 549L135.3 526.7M138.4 549L138.4 527.2M140.5 549L141.5 526.9M142.7 549L144.7 529.3M144.8 549L147.8 525.6" stroke="#d8ffe0" stroke-opacity="0.5599999999999999" stroke-width="0.9" fill="none"/><path d="M130.9 725L127.4 749.3M133 725L130.5 748M135.2 725L133.7 748.7M137.3 725L136.8 750M139.5 725L140 744.9M141.6 725L143.1 745.4M143.8 725L146.3 745.4M145.9 725L149.4 748.4" stroke="#1e5a2a" stroke-opacity="0.8" stroke-width="1" fill="none"/><path d="M132 725L129 751M134.1 725L132.1 748M136.3 725L135.3 750M138.4 725L138.4 747.4M140.5 725L141.5 747.2M142.7 725L144.7 745.2M144.8 725L147.8 745.4" stroke="#d8ffe0" stroke-opacity="0.5599999999999999" stroke-width="0.9" fill="none"/><path d="M50.4 629.5L27.1 626M50.4 631.6L28 629.1M50.4 633.8L25.9 632.3M50.4 635.9L28.6 635.4M50.4 638.1L29.6 638.6M50.4 640.2L25.3 641.7M50.4 642.4L25.2 644.9M50.4 644.5L29.2 648" stroke="#1e5a2a" stroke-opacity="0.8" stroke-width="1" fill="none"/><path d="M50.4 630.6L25.5 627.6M50.4 632.7L30.7 630.7M50.4 634.9L27.8 633.9M50.4 637L25 637M50.4 639.1L30.5 640.1M50.4 641.3L24.7 643.3M50.4 643.4L30.6 646.4" stroke="#d8ffe0" stroke-opacity="0.5599999999999999" stroke-width="0.9" fill="none"/><path d="M226.4 629.5L249.9 626M226.4 631.6L250 629.1M226.4 633.8L251 632.3M226.4 635.9L249.5 635.4M226.4 638.1L249.2 638.6M226.4 640.2L250.1 641.7M226.4 642.4L246.1 644.9M226.4 644.5L249.1 648" stroke="#1e5a2a" stroke-opacity="0.8" stroke-width="1" fill="none"/><path d="M226.4 630.6L250.7 627.6M226.4 632.7L250 630.7M226.4 634.9L251.9 633.9M226.4 637L249.3 637M226.4 639.1L248.8 640.1M226.4 641.3L247.1 643.3M226.4 643.4L252.1 646.4" stroke="#d8ffe0" stroke-opacity="0.5599999999999999" stroke-width="0.9" fill="none"/><path d="M160 594.4L181.3 598.9L176.8 620.2L155.5 615.7ZM155.5 658.3L176.8 653.8L181.3 675.1L160 679.6ZM95.5 598.9L116.8 594.4L121.3 615.7L100 620.2ZM100 653.8L121.3 658.3L116.8 679.6L95.5 675.1ZM148.9 577.1h21.8v21.8h-21.8ZM148.9 675.1h21.8v21.8h-21.8ZM106.1 577.1h21.8v21.8h-21.8ZM106.1 675.1h21.8v21.8h-21.8ZM175.7 603.7h21.8v21.8h-21.8ZM175.7 648.5h21.8v21.8h-21.8ZM79.3 603.7h21.8v21.8h-21.8ZM79.3 648.5h21.8v21.8h-21.8ZM148.9 558.1h21.8v21.8h-21.8ZM148.9 694.1h21.8v21.8h-21.8ZM106.1 558.1h21.8v21.8h-21.8ZM106.1 694.1h21.8v21.8h-21.8ZM194.9 603.7h21.8v21.8h-21.8ZM194.9 648.5h21.8v21.8h-21.8ZM60.1 603.7h21.8v21.8h-21.8ZM60.1 648.5h21.8v21.8h-21.8ZM174.6 577.7L196.2 580.7L193.2 602.3L171.6 599.3ZM171.6 674.7L193.2 671.7L196.2 693.3L174.6 696.3ZM80.6 580.7L102.2 577.7L105.2 599.3L83.6 602.3ZM83.6 671.7L105.2 674.7L102.2 696.3L80.6 693.3ZM171.7 559.1h21.8v21.8h-21.8ZM171.7 693.1h21.8v21.8h-21.8ZM83.3 559.1h21.8v21.8h-21.8ZM83.3 693.1h21.8v21.8h-21.8ZM193 581.6h21.8v21.8h-21.8ZM193 670.6h21.8v21.8h-21.8ZM62 581.6h21.8v21.8h-21.8ZM62 670.6h21.8v21.8h-21.8ZM192.5 560.1h21.8v21.8h-21.8ZM192.5 692.1h21.8v21.8h-21.8ZM62.5 560.1h21.8v21.8h-21.8ZM62.5 692.1h21.8v21.8h-21.8ZM168.7 626.1h21.8v21.8h-21.8ZM86.3 626.1h21.8v21.8h-21.8ZM127.5 584.9h21.8v21.8h-21.8ZM127.5 667.3h21.8v21.8h-21.8ZM187.5 626.1h21.8v21.8h-21.8ZM67.5 626.1h21.8v21.8h-21.8ZM127.5 566.1h21.8v21.8h-21.8ZM127.5 686.1h21.8v21.8h-21.8ZM206.2 626.1h21.8v21.8h-21.8ZM48.8 626.1h21.8v21.8h-21.8ZM127.5 547.4h21.8v21.8h-21.8ZM127.5 704.8h21.8v21.8h-21.8Z" fill="#9cdea2"/><circle cx="138.4" cy="637" r="42" fill="#fcfcff"/><path d="M145.4 637.2l1.5 0M150.8 637.3l1.5 0M156.2 637.5l1.5 0M161.6 637.6l1.5 0M167 637.8l1.5 0M172.4 637.9l1.5 0M177.8 638l1.5 0M147.5 640.2l1.4 0.5M152.6 642l1.4 0.5M157.7 643.8l1.4 0.5M162.8 645.6l1.4 0.5M167.9 647.4l1.4 0.5M173 649.2l1.4 0.5M144.2 641l1.2 0.8M148.6 644l1.2 0.8M153.1 647.1l1.2 0.8M157.5 650.1l1.2 0.8M162 653.2l1.2 0.8M166.4 656.3l1.2 0.8M170.9 659.3l1.2 0.8M143.9 645l0.8 1.2M146.9 649.5l0.8 1.2M150 653.9l0.8 1.2M153 658.4l0.8 1.2M156.1 662.8l0.8 1.2M159.1 667.3l0.8 1.2M140.6 643.6l0.5 1.4M142.3 648.8l0.5 1.4M144.1 653.9l0.5 1.4M145.8 659l0.5 1.4M147.5 664.1l0.5 1.4M149.2 669.2l0.5 1.4M150.9 674.4l0.5 1.4M138.4 646.7l0 1.5M138.4 652.1l0 1.5M138.4 657.5l0 1.5M138.4 662.9l0 1.5M138.4 668.3l0 1.5M138.4 673.7l0 1.5M136.2 643.7l-0.5 1.4M134.6 648.8l-0.5 1.4M132.9 653.9l-0.5 1.4M131.3 659.1l-0.5 1.4M129.6 664.2l-0.5 1.4M127.9 669.4l-0.5 1.4M126.3 674.5l-0.5 1.4M132.8 644.9l-0.9 1.2M129.6 649.3l-0.9 1.2M126.5 653.7l-0.9 1.2M123.3 658.1l-0.9 1.2M120.2 662.5l-0.9 1.2M117 666.8l-0.9 1.2M132.6 640.9l-1.2 0.8M128.2 644l-1.2 0.8M123.7 647l-1.2 0.8M119.2 650.1l-1.2 0.8M114.8 653.1l-1.2 0.8M110.3 656.2l-1.2 0.8M105.8 659.2l-1.2 0.8M129.2 640.2l-1.4 0.5M124.1 642l-1.4 0.5M119 643.8l-1.4 0.5M113.9 645.5l-1.4 0.5M108.9 647.3l-1.4 0.5M103.8 649.1l-1.4 0.5M131.4 637l-1.5 0M126 637l-1.5 0M120.6 637l-1.5 0M115.2 637l-1.5 0M109.8 637l-1.5 0M104.4 637l-1.5 0M99 637l-1.5 0M129.2 634l-1.4 -0.5M124 632.4l-1.4 -0.5M118.9 630.7l-1.4 -0.5M113.7 629.1l-1.4 -0.5M108.6 627.4l-1.4 -0.5M103.5 625.8l-1.4 -0.5M132.7 633l-1.2 -0.9M128.2 629.9l-1.2 -0.9M123.8 626.8l-1.2 -0.9M119.4 623.7l-1.2 -0.9M115 620.6l-1.2 -0.9M110.6 617.5l-1.2 -0.9M106.1 614.4l-1.2 -0.9M132.4 629.3l-0.9 -1.2M129.1 625.1l-0.9 -1.2M125.8 620.8l-0.9 -1.2M122.5 616.6l-0.9 -1.2M119.2 612.3l-0.9 -1.2M115.8 608.1l-0.9 -1.2M136.4 630.3l-0.4 -1.4M134.8 625.1l-0.4 -1.4M133.2 620l-0.4 -1.4M131.7 614.8l-0.4 -1.4M130.1 609.6l-0.4 -1.4M128.6 604.5l-0.4 -1.4M127 599.3l-0.4 -1.4M138.6 627.3l0 -1.5M138.7 621.9l0 -1.5M138.8 616.5l0 -1.5M138.9 611.1l0 -1.5M139 605.7l0 -1.5M139.1 600.3l0 -1.5M140.3 630.3l0.4 -1.4M141.8 625.1l0.4 -1.4M143.3 619.9l0.4 -1.4M144.8 614.7l0.4 -1.4M146.3 609.5l0.4 -1.4M147.8 604.3l0.4 -1.4M149.3 599.1l0.4 -1.4M144.1 629.1l0.9 -1.2M147.3 624.8l0.9 -1.2M150.4 620.4l0.9 -1.2M153.6 616l0.9 -1.2M156.8 611.7l0.9 -1.2M160 607.3l0.9 -1.2M144.1 632.9l1.2 -0.9M148.4 629.7l1.2 -0.9M152.8 626.6l1.2 -0.9M157.2 623.4l1.2 -0.9M161.6 620.2l1.2 -0.9M165.9 617l1.2 -0.9M170.3 613.9l1.2 -0.9M147.7 634.1l1.4 -0.4M152.8 632.5l1.4 -0.4M158 630.9l1.4 -0.4M163.1 629.4l1.4 -0.4M168.3 627.8l1.4 -0.4M173.5 626.2l1.4 -0.4" stroke="#5056bc" stroke-width="1.2" fill="none"/><g transform="rotate(12 168.4 607.3)"><rect x="159.1" y="598" width="18.6" height="18.6" fill="#b4525c"/><path d="M162.8 598v18.6M159.1 601.7h18.6M166.5 598v18.6M159.1 605.4h18.6M170.3 598v18.6M159.1 609.2h18.6M174 598v18.6M159.1 612.9h18.6" stroke="#fff" stroke-opacity="0.36" stroke-width="0.85"/><path d="M163.7 613.6l2.9 -1.8M175.6 607.7l4.6 -2.1M167.6 606.9l1.6 -5.2M170.9 601.1l4 -3.4M163.9 612.5l3.3 -2.2M169 610.8l5.1 -2M165.3 607.9l4.9 -2" stroke="#6a1420" stroke-opacity="0.6" stroke-width="0.9"/></g><g transform="rotate(-12 168.4 666.7)"><rect x="159.1" y="657.4" width="18.6" height="18.6" fill="#b4525c"/><path d="M162.8 657.4v18.6M159.1 661.1h18.6M166.5 657.4v18.6M159.1 664.8h18.6M170.3 657.4v18.6M159.1 668.6h18.6M174 657.4v18.6M159.1 672.3h18.6" stroke="#fff" stroke-opacity="0.36" stroke-width="0.85"/><path d="M163.7 661.4l1.1 2.8M163 659.9l2 2.4M165.1 672.9l3.4 2.7M166.1 670.7l3.9 1.7M161.8 673.5l0.8 5.6M167.7 673.1l1.4 3.2M167.3 666.8l4.4 2.1" stroke="#6a1420" stroke-opacity="0.6" stroke-width="0.9"/></g><g transform="rotate(-12 108.4 607.3)"><rect x="99.1" y="598" width="18.6" height="18.6" fill="#b4525c"/><path d="M102.8 598v18.6M99.1 601.7h18.6M106.5 598v18.6M99.1 605.4h18.6M110.3 598v18.6M99.1 609.2h18.6M114 598v18.6M99.1 612.9h18.6" stroke="#fff" stroke-opacity="0.36" stroke-width="0.85"/><path d="M111.8 601.1l-2.7 -4.5M113.9 612l-1.8 -2.8M110.8 609.3l-2.8 -2.2M106.5 601.4l-2.5 -3.8M115.4 603.9l-2.5 -2.5M114.5 606.6l-1.1 -2.9M113.9 612l-2.6 -2.7" stroke="#6a1420" stroke-opacity="0.6" stroke-width="0.9"/></g><g transform="rotate(12 108.4 666.7)"><rect x="99.1" y="657.4" width="18.6" height="18.6" fill="#b4525c"/><path d="M102.8 657.4v18.6M99.1 661.1h18.6M106.5 657.4v18.6M99.1 664.8h18.6M110.3 657.4v18.6M99.1 668.6h18.6M114 657.4v18.6M99.1 672.3h18.6" stroke="#fff" stroke-opacity="0.36" stroke-width="0.85"/><path d="M109.7 673.8l-1.6 4.2M115.3 670.3l-0.4 3.4M107.7 663.6l-2.7 3.8M111.6 668.5l-3 1.9M104.2 660.6l-5.2 2.7M103.9 664l-2.8 2.1M113.6 662.8l-2.8 1.9" stroke="#6a1420" stroke-opacity="0.6" stroke-width="0.9"/></g><g><rect x="150.5" y="578.7" width="18.6" height="18.6" fill="#e4747c"/><path d="M154.2 578.7v18.6M150.5 582.4h18.6M157.9 578.7v18.6M150.5 586.1h18.6M161.7 578.7v18.6M150.5 589.9h18.6M165.4 578.7v18.6M150.5 593.6h18.6" stroke="#fff" stroke-opacity="0.36" stroke-width="0.85"/></g><g><rect x="150.5" y="676.7" width="18.6" height="18.6" fill="#e4747c"/><path d="M154.2 676.7v18.6M150.5 680.4h18.6M157.9 676.7v18.6M150.5 684.1h18.6M161.7 676.7v18.6M150.5 687.9h18.6M165.4 676.7v18.6M150.5 691.6h18.6" stroke="#fff" stroke-opacity="0.36" stroke-width="0.85"/></g><g><rect x="107.7" y="578.7" width="18.6" height="18.6" fill="#e4747c"/><path d="M111.4 578.7v18.6M107.7 582.4h18.6M115.1 578.7v18.6M107.7 586.1h18.6M118.9 578.7v18.6M107.7 589.9h18.6M122.6 578.7v18.6M107.7 593.6h18.6" stroke="#fff" stroke-opacity="0.36" stroke-width="0.85"/></g><g><rect x="107.7" y="676.7" width="18.6" height="18.6" fill="#e4747c"/><path d="M111.4 676.7v18.6M107.7 680.4h18.6M115.1 676.7v18.6M107.7 684.1h18.6M118.9 676.7v18.6M107.7 687.9h18.6M122.6 676.7v18.6M107.7 691.6h18.6" stroke="#fff" stroke-opacity="0.36" stroke-width="0.85"/></g><g><rect x="177.3" y="605.3" width="18.6" height="18.6" fill="#e4747c"/><path d="M181 605.3v18.6M177.3 609h18.6M184.7 605.3v18.6M177.3 612.7h18.6M188.5 605.3v18.6M177.3 616.5h18.6M192.2 605.3v18.6M177.3 620.2h18.6" stroke="#fff" stroke-opacity="0.36" stroke-width="0.85"/></g><g><rect x="177.3" y="650.1" width="18.6" height="18.6" fill="#e4747c"/><path d="M181 650.1v18.6M177.3 653.8h18.6M184.7 650.1v18.6M177.3 657.5h18.6M188.5 650.1v18.6M177.3 661.3h18.6M192.2 650.1v18.6M177.3 665h18.6" stroke="#fff" stroke-opacity="0.36" stroke-width="0.85"/></g><g><rect x="80.9" y="605.3" width="18.6" height="18.6" fill="#e4747c"/><path d="M84.6 605.3v18.6M80.9 609h18.6M88.3 605.3v18.6M80.9 612.7h18.6M92.1 605.3v18.6M80.9 616.5h18.6M95.8 605.3v18.6M80.9 620.2h18.6" stroke="#fff" stroke-opacity="0.36" stroke-width="0.85"/></g><g><rect x="80.9" y="650.1" width="18.6" height="18.6" fill="#e4747c"/><path d="M84.6 650.1v18.6M80.9 653.8h18.6M88.3 650.1v18.6M80.9 657.5h18.6M92.1 650.1v18.6M80.9 661.3h18.6M95.8 650.1v18.6M80.9 665h18.6" stroke="#fff" stroke-opacity="0.36" stroke-width="0.85"/></g><g><rect x="150.5" y="559.7" width="18.6" height="18.6" fill="#e4747c"/><path d="M154.2 559.7v18.6M150.5 563.4h18.6M157.9 559.7v18.6M150.5 567.1h18.6M161.7 559.7v18.6M150.5 570.9h18.6M165.4 559.7v18.6M150.5 574.6h18.6" stroke="#fff" stroke-opacity="0.36" stroke-width="0.85"/></g><g><rect x="150.5" y="695.7" width="18.6" height="18.6" fill="#e4747c"/><path d="M154.2 695.7v18.6M150.5 699.4h18.6M157.9 695.7v18.6M150.5 703.1h18.6M161.7 695.7v18.6M150.5 706.9h18.6M165.4 695.7v18.6M150.5 710.6h18.6" stroke="#fff" stroke-opacity="0.36" stroke-width="0.85"/></g><g><rect x="107.7" y="559.7" width="18.6" height="18.6" fill="#e4747c"/><path d="M111.4 559.7v18.6M107.7 563.4h18.6M115.1 559.7v18.6M107.7 567.1h18.6M118.9 559.7v18.6M107.7 570.9h18.6M122.6 559.7v18.6M107.7 574.6h18.6" stroke="#fff" stroke-opacity="0.36" stroke-width="0.85"/></g><g><rect x="107.7" y="695.7" width="18.6" height="18.6" fill="#e4747c"/><path d="M111.4 695.7v18.6M107.7 699.4h18.6M115.1 695.7v18.6M107.7 703.1h18.6M118.9 695.7v18.6M107.7 706.9h18.6M122.6 695.7v18.6M107.7 710.6h18.6" stroke="#fff" stroke-opacity="0.36" stroke-width="0.85"/></g><g><rect x="196.5" y="605.3" width="18.6" height="18.6" fill="#e4747c"/><path d="M200.2 605.3v18.6M196.5 609h18.6M203.9 605.3v18.6M196.5 612.7h18.6M207.7 605.3v18.6M196.5 616.5h18.6M211.4 605.3v18.6M196.5 620.2h18.6" stroke="#fff" stroke-opacity="0.36" stroke-width="0.85"/></g><g><rect x="196.5" y="650.1" width="18.6" height="18.6" fill="#e4747c"/><path d="M200.2 650.1v18.6M196.5 653.8h18.6M203.9 650.1v18.6M196.5 657.5h18.6M207.7 650.1v18.6M196.5 661.3h18.6M211.4 650.1v18.6M196.5 665h18.6" stroke="#fff" stroke-opacity="0.36" stroke-width="0.85"/></g><g><rect x="61.7" y="605.3" width="18.6" height="18.6" fill="#e4747c"/><path d="M65.4 605.3v18.6M61.7 609h18.6M69.1 605.3v18.6M61.7 612.7h18.6M72.9 605.3v18.6M61.7 616.5h18.6M76.6 605.3v18.6M61.7 620.2h18.6" stroke="#fff" stroke-opacity="0.36" stroke-width="0.85"/></g><g><rect x="61.7" y="650.1" width="18.6" height="18.6" fill="#e4747c"/><path d="M65.4 650.1v18.6M61.7 653.8h18.6M69.1 650.1v18.6M61.7 657.5h18.6M72.9 650.1v18.6M61.7 661.3h18.6M76.6 650.1v18.6M61.7 665h18.6" stroke="#fff" stroke-opacity="0.36" stroke-width="0.85"/></g><g transform="rotate(8 183.9 590)"><rect x="174.6" y="580.7" width="18.6" height="18.6" fill="#e4747c"/><path d="M178.3 580.7v18.6M174.6 584.4h18.6M182 580.7v18.6M174.6 588.1h18.6M185.8 580.7v18.6M174.6 591.9h18.6M189.5 580.7v18.6M174.6 595.6h18.6" stroke="#fff" stroke-opacity="0.36" stroke-width="0.85"/></g><g transform="rotate(-8 183.9 684)"><rect x="174.6" y="674.7" width="18.6" height="18.6" fill="#e4747c"/><path d="M178.3 674.7v18.6M174.6 678.4h18.6M182 674.7v18.6M174.6 682.1h18.6M185.8 674.7v18.6M174.6 685.9h18.6M189.5 674.7v18.6M174.6 689.6h18.6" stroke="#fff" stroke-opacity="0.36" stroke-width="0.85"/></g><g transform="rotate(-8 92.9 590)"><rect x="83.6" y="580.7" width="18.6" height="18.6" fill="#e4747c"/><path d="M87.3 580.7v18.6M83.6 584.4h18.6M91 580.7v18.6M83.6 588.1h18.6M94.8 580.7v18.6M83.6 591.9h18.6M98.5 580.7v18.6M83.6 595.6h18.6" stroke="#fff" stroke-opacity="0.36" stroke-width="0.85"/></g><g transform="rotate(8 92.9 684)"><rect x="83.6" y="674.7" width="18.6" height="18.6" fill="#e4747c"/><path d="M87.3 674.7v18.6M83.6 678.4h18.6M91 674.7v18.6M83.6 682.1h18.6M94.8 674.7v18.6M83.6 685.9h18.6M98.5 674.7v18.6M83.6 689.6h18.6" stroke="#fff" stroke-opacity="0.36" stroke-width="0.85"/></g><g><rect x="173.3" y="560.7" width="18.6" height="18.6" fill="#e4747c"/><path d="M177 560.7v18.6M173.3 564.4h18.6M180.7 560.7v18.6M173.3 568.1h18.6M184.5 560.7v18.6M173.3 571.9h18.6M188.2 560.7v18.6M173.3 575.6h18.6" stroke="#fff" stroke-opacity="0.36" stroke-width="0.85"/></g><g><rect x="173.3" y="694.7" width="18.6" height="18.6" fill="#e4747c"/><path d="M177 694.7v18.6M173.3 698.4h18.6M180.7 694.7v18.6M173.3 702.1h18.6M184.5 694.7v18.6M173.3 705.9h18.6M188.2 694.7v18.6M173.3 709.6h18.6" stroke="#fff" stroke-opacity="0.36" stroke-width="0.85"/></g><g><rect x="84.9" y="560.7" width="18.6" height="18.6" fill="#e4747c"/><path d="M88.6 560.7v18.6M84.9 564.4h18.6M92.3 560.7v18.6M84.9 568.1h18.6M96.1 560.7v18.6M84.9 571.9h18.6M99.8 560.7v18.6M84.9 575.6h18.6" stroke="#fff" stroke-opacity="0.36" stroke-width="0.85"/></g><g><rect x="84.9" y="694.7" width="18.6" height="18.6" fill="#e4747c"/><path d="M88.6 694.7v18.6M84.9 698.4h18.6M92.3 694.7v18.6M84.9 702.1h18.6M96.1 694.7v18.6M84.9 705.9h18.6M99.8 694.7v18.6M84.9 709.6h18.6" stroke="#fff" stroke-opacity="0.36" stroke-width="0.85"/></g><g><rect x="194.6" y="583.2" width="18.6" height="18.6" fill="#e4747c"/><path d="M198.3 583.2v18.6M194.6 586.9h18.6M202 583.2v18.6M194.6 590.6h18.6M205.8 583.2v18.6M194.6 594.4h18.6M209.5 583.2v18.6M194.6 598.1h18.6" stroke="#fff" stroke-opacity="0.36" stroke-width="0.85"/></g><g><rect x="194.6" y="672.2" width="18.6" height="18.6" fill="#e4747c"/><path d="M198.3 672.2v18.6M194.6 675.9h18.6M202 672.2v18.6M194.6 679.6h18.6M205.8 672.2v18.6M194.6 683.4h18.6M209.5 672.2v18.6M194.6 687.1h18.6" stroke="#fff" stroke-opacity="0.36" stroke-width="0.85"/></g><g><rect x="63.6" y="583.2" width="18.6" height="18.6" fill="#e4747c"/><path d="M67.3 583.2v18.6M63.6 586.9h18.6M71 583.2v18.6M63.6 590.6h18.6M74.8 583.2v18.6M63.6 594.4h18.6M78.5 583.2v18.6M63.6 598.1h18.6" stroke="#fff" stroke-opacity="0.36" stroke-width="0.85"/></g><g><rect x="63.6" y="672.2" width="18.6" height="18.6" fill="#e4747c"/><path d="M67.3 672.2v18.6M63.6 675.9h18.6M71 672.2v18.6M63.6 679.6h18.6M74.8 672.2v18.6M63.6 683.4h18.6M78.5 672.2v18.6M63.6 687.1h18.6" stroke="#fff" stroke-opacity="0.36" stroke-width="0.85"/></g><g><rect x="194.1" y="561.7" width="18.6" height="18.6" fill="#e4747c"/><path d="M197.8 561.7v18.6M194.1 565.4h18.6M201.5 561.7v18.6M194.1 569.1h18.6M205.3 561.7v18.6M194.1 572.9h18.6M209 561.7v18.6M194.1 576.6h18.6" stroke="#fff" stroke-opacity="0.36" stroke-width="0.85"/></g><g><rect x="194.1" y="693.7" width="18.6" height="18.6" fill="#e4747c"/><path d="M197.8 693.7v18.6M194.1 697.4h18.6M201.5 693.7v18.6M194.1 701.1h18.6M205.3 693.7v18.6M194.1 704.9h18.6M209 693.7v18.6M194.1 708.6h18.6" stroke="#fff" stroke-opacity="0.36" stroke-width="0.85"/></g><g><rect x="64.1" y="561.7" width="18.6" height="18.6" fill="#e4747c"/><path d="M67.8 561.7v18.6M64.1 565.4h18.6M71.5 561.7v18.6M64.1 569.1h18.6M75.3 561.7v18.6M64.1 572.9h18.6M79 561.7v18.6M64.1 576.6h18.6" stroke="#fff" stroke-opacity="0.36" stroke-width="0.85"/></g><g><rect x="64.1" y="693.7" width="18.6" height="18.6" fill="#e4747c"/><path d="M67.8 693.7v18.6M64.1 697.4h18.6M71.5 693.7v18.6M64.1 701.1h18.6M75.3 693.7v18.6M64.1 704.9h18.6M79 693.7v18.6M64.1 708.6h18.6" stroke="#fff" stroke-opacity="0.36" stroke-width="0.85"/></g><g><rect x="170.3" y="627.7" width="18.6" height="18.6" fill="#dc747c"/><path d="M174 627.7v18.6M170.3 631.4h18.6M177.7 627.7v18.6M170.3 635.1h18.6M181.5 627.7v18.6M170.3 638.9h18.6M185.2 627.7v18.6M170.3 642.6h18.6" stroke="#fff" stroke-opacity="0.36" stroke-width="0.85"/><path d="M186.9 635.4l4.2 -0.3M180.5 633.8l4.7 -0.2M174 635.7l4 1.3M181.1 629.7l3.2 -0.1" stroke="#6a1420" stroke-opacity="0.6" stroke-width="0.9"/></g><g><rect x="87.9" y="627.7" width="18.6" height="18.6" fill="#dc747c"/><path d="M91.6 627.7v18.6M87.9 631.4h18.6M95.3 627.7v18.6M87.9 635.1h18.6M99.1 627.7v18.6M87.9 638.9h18.6M102.8 627.7v18.6M87.9 642.6h18.6" stroke="#fff" stroke-opacity="0.36" stroke-width="0.85"/><path d="M95.2 643.5l-3.7 0.7M101.2 636.2l-3.7 0.2M93.8 631.5l-4.2 -0.6M97.1 635.2l-3.9 -0.6" stroke="#6a1420" stroke-opacity="0.6" stroke-width="0.9"/></g><g><rect x="129.1" y="586.5" width="18.6" height="18.6" fill="#dc747c"/><path d="M132.8 586.5v18.6M129.1 590.2h18.6M136.5 586.5v18.6M129.1 593.9h18.6M140.3 586.5v18.6M129.1 597.7h18.6M144 586.5v18.6M129.1 601.4h18.6" stroke="#fff" stroke-opacity="0.36" stroke-width="0.85"/><path d="M133.6 596.2l-0.9 -3M139.5 595l-0.3 -3.5M143.8 602.4l-1.1 -5.3M144.5 591.3l2.3 -4.6" stroke="#6a1420" stroke-opacity="0.6" stroke-width="0.9"/></g><g><rect x="129.1" y="668.9" width="18.6" height="18.6" fill="#dc747c"/><path d="M132.8 668.9v18.6M129.1 672.6h18.6M136.5 668.9v18.6M129.1 676.3h18.6M140.3 668.9v18.6M129.1 680.1h18.6M144 668.9v18.6M129.1 683.8h18.6" stroke="#fff" stroke-opacity="0.36" stroke-width="0.85"/><path d="M138.1 679.9l0.5 4.1M141 683.6l0.9 3.4M138.3 680.8l0.9 3.1M131.9 675.1l-1.7 4.7" stroke="#6a1420" stroke-opacity="0.6" stroke-width="0.9"/></g><g><rect x="189.1" y="627.7" width="18.6" height="18.6" fill="#dc747c"/><path d="M192.8 627.7v18.6M189.1 631.4h18.6M196.5 627.7v18.6M189.1 635.1h18.6M200.3 627.7v18.6M189.1 638.9h18.6M204 627.7v18.6M189.1 642.6h18.6" stroke="#fff" stroke-opacity="0.36" stroke-width="0.85"/><path d="M204.8 632.5l4.6 -2M200 634l4 -2.3M198.7 636.8l4.6 -0.9M199.5 639.1l4.2 -1.5" stroke="#6a1420" stroke-opacity="0.6" stroke-width="0.9"/></g><g><rect x="69.1" y="627.7" width="18.6" height="18.6" fill="#dc747c"/><path d="M72.8 627.7v18.6M69.1 631.4h18.6M76.5 627.7v18.6M69.1 635.1h18.6M80.3 627.7v18.6M69.1 638.9h18.6M84 627.7v18.6M69.1 642.6h18.6" stroke="#fff" stroke-opacity="0.36" stroke-width="0.85"/><path d="M83 631.6l-5.7 -1.7M72 633l-4.4 -1.4M78.9 641.6l-4.5 1.2M84.5 643.9l-4.3 1.1" stroke="#6a1420" stroke-opacity="0.6" stroke-width="0.9"/></g><g><rect x="129.1" y="567.7" width="18.6" height="18.6" fill="#dc747c"/><path d="M132.8 567.7v18.6M129.1 571.4h18.6M136.5 567.7v18.6M129.1 575.1h18.6M140.3 567.7v18.6M129.1 578.9h18.6M144 567.7v18.6M129.1 582.6h18.6" stroke="#fff" stroke-opacity="0.36" stroke-width="0.85"/><path d="M132.7 577.5l0.3 -3.4M141.3 578.9l0.8 -4.2M133.2 581.3l0.9 -5M141.2 571.7l2.1 -4.6" stroke="#6a1420" stroke-opacity="0.6" stroke-width="0.9"/></g><g><rect x="129.1" y="687.7" width="18.6" height="18.6" fill="#dc747c"/><path d="M132.8 687.7v18.6M129.1 691.4h18.6M136.5 687.7v18.6M129.1 695.1h18.6M140.3 687.7v18.6M129.1 698.9h18.6M144 687.7v18.6M129.1 702.6h18.6" stroke="#fff" stroke-opacity="0.36" stroke-width="0.85"/><path d="M145.4 690.8l-1.1 4M131.6 700.6l-0.7 3M135.7 697l-1.8 3.4M131.5 704l1.2 5.3" stroke="#6a1420" stroke-opacity="0.6" stroke-width="0.9"/></g><g><rect x="207.8" y="627.7" width="18.6" height="18.6" fill="#dc747c"/><path d="M211.5 627.7v18.6M207.8 631.4h18.6M215.2 627.7v18.6M207.8 635.1h18.6M219 627.7v18.6M207.8 638.9h18.6M222.7 627.7v18.6M207.8 642.6h18.6" stroke="#fff" stroke-opacity="0.36" stroke-width="0.85"/><path d="M210.7 637.1l4.7 0.6M224.2 633.5l4.5 -1.2M212.4 640.2l4.1 1M213.8 634.4l4.3 -0.1" stroke="#6a1420" stroke-opacity="0.6" stroke-width="0.9"/></g><g><rect x="50.4" y="627.7" width="18.6" height="18.6" fill="#dc747c"/><path d="M54.1 627.7v18.6M50.4 631.4h18.6M57.8 627.7v18.6M50.4 635.1h18.6M61.6 627.7v18.6M50.4 638.9h18.6M65.3 627.7v18.6M50.4 642.6h18.6" stroke="#fff" stroke-opacity="0.36" stroke-width="0.85"/><path d="M53.2 632.4l-5.5 -1.9M54.9 636.3l-4.1 0.2M60.6 629.7l-5 -3.3M61 639.4l-3.6 0.2" stroke="#6a1420" stroke-opacity="0.6" stroke-width="0.9"/></g><g><rect x="129.1" y="549" width="18.6" height="18.6" fill="#dc747c"/><path d="M132.8 549v18.6M129.1 552.7h18.6M136.5 549v18.6M129.1 556.4h18.6M140.3 549v18.6M129.1 560.2h18.6M144 549v18.6M129.1 563.9h18.6" stroke="#fff" stroke-opacity="0.36" stroke-width="0.85"/><path d="M143.7 553.5l-2.3 -5.4M142.2 551.9l1.3 -3.7M141.2 553.1l1.7 -4M139.2 558.8l-1.9 -4" stroke="#6a1420" stroke-opacity="0.6" stroke-width="0.9"/></g><g><rect x="129.1" y="706.4" width="18.6" height="18.6" fill="#dc747c"/><path d="M132.8 706.4v18.6M129.1 710.1h18.6M136.5 706.4v18.6M129.1 713.8h18.6M140.3 706.4v18.6M129.1 717.6h18.6M144 706.4v18.6M129.1 721.3h18.6" stroke="#fff" stroke-opacity="0.36" stroke-width="0.85"/><path d="M138.9 709.8l-0.5 4.4M143 711.7l0 4.1M134.6 710.4l0 3.4M134.2 719.9l-1.7 5.4" stroke="#6a1420" stroke-opacity="0.6" stroke-width="0.9"/></g></g></g><path d="M18.5 526.7V744.6H256.8" fill="none" stroke="#0d3a18" stroke-width="2"/><path d="M27.7 744.6v-5M64.6 744.6v-5M101.5 744.6v-5M138.4 744.6v-5M175.3 744.6v-5M212.2 744.6v-5M249.1 744.6v-5M18.5 710.8h5M18.5 673.9h5M18.5 637h5M18.5 600.1h5M18.5 563.2h5" stroke="#0d3a18" stroke-width="1.5"/><path d="M18.5 744.6v-2.5M36.9 744.6v-2.5M46.2 744.6v-2.5M55.4 744.6v-2.5M73.8 744.6v-2.5M83 744.6v-2.5M92.3 744.6v-2.5M110.7 744.6v-2.5M120 744.6v-2.5M129.2 744.6v-2.5M147.6 744.6v-2.5M156.8 744.6v-2.5M166.1 744.6v-2.5M184.5 744.6v-2.5M193.8 744.6v-2.5M203 744.6v-2.5M221.4 744.6v-2.5M230.7 744.6v-2.5M239.9 744.6v-2.5M18.5 738.5h2.5M18.5 729.2h2.5M18.5 720h2.5M18.5 701.6h2.5M18.5 692.4h2.5M18.5 683.1h2.5M18.5 664.7h2.5M18.5 655.5h2.5M18.5 646.2h2.5M18.5 627.8h2.5M18.5 618.5h2.5M18.5 609.3h2.5M18.5 590.9h2.5M18.5 581.6h2.5M18.5 572.4h2.5M18.5 554h2.5M18.5 544.8h2.5M18.5 535.5h2.5" stroke="#0d3a18" stroke-opacity="0.5" stroke-width="1"/><text class="tl" x="27.7" y="753.5" text-anchor="middle">-0.6</text><text class="tl" x="64.6" y="753.5" text-anchor="middle">-0.4</text><text class="tl" x="101.5" y="753.5" text-anchor="middle">-0.2</text><text class="tl" x="138.4" y="753.5" text-anchor="middle">0</text><text class="tl" x="175.3" y="753.5" text-anchor="middle">0.2</text><text class="tl" x="212.2" y="753.5" text-anchor="middle">0.4</text><text class="tl" x="249.1" y="753.5" text-anchor="middle">0.6</text><text class="tl" x="15.5" y="714.3" text-anchor="end">-0.4</text><text class="tl" x="15.5" y="677.4" text-anchor="end">-0.2</text><text class="tl" x="15.5" y="640.5" text-anchor="end">0</text><text class="tl" x="15.5" y="603.6" text-anchor="end">0.2</text><text class="tl" x="15.5" y="566.7" text-anchor="end">0.4</text><text class="tm" x="252" y="738.6" text-anchor="end">400<tspan font-style="italic">μs</tspan></text><clipPath id="c6"><rect x="280.5" y="527.4" width="238.4" height="217.2"/></clipPath><g clip-path="url(#c6)"><g filter="url(#soft)"><rect x="280.5" y="527.4" width="238.4" height="217.2" fill="#66d47c"/><rect x="280.5" y="527.4" width="238.4" height="217.2" fill="url(#grid2)"/><path d="M469.9 620.5l2.4 -2.3M442.7 735.7l3.9 6M483.5 695.9l3.1 5.3M334 669.5l-6.2 2.9M473.4 677l3.3 2.7M456.8 666.2l4.3 -0.2M460 727.3l4 5.9M490.9 591.4l4 0M506 685.1l5.5 5.6M411.1 717.5l-0.9 4.2M286.1 543.7l-4.4 -5.9M482.5 645.7l4.6 0.1M373.6 580.5l-2.4 -4M317.7 557.9l-2.7 -7M290.2 583.2l-5.2 -2M469.7 635.3l4.5 0.4M303.6 741.4l-1.8 4.6M366.5 553.1l0.5 -4M323.6 724.9l-2.7 6.4M496.8 542.2l5 -1M354.3 711.8l-3.9 4.2M503.5 704.2l3 3M470.4 585.3l2.1 -3.7M315 742l-1.9 6.9M305.8 548.2l-3 -5.4M344.8 578.9l-5.5 -1.5M488.3 694.3l2.3 4.4M493.1 649.4l3.1 0.7M355.2 699.9l-4.8 3.3M335 582.1l-3.6 -2.1M510.8 667.6l6.1 0.1M457.2 533.5l5.3 -2.8M307.2 715.4l-2.7 3.4M502.5 625.7l3.9 -2.8M503.3 638l7.6 -2.5M492.6 708.9l7.1 1M455.3 563.8l3.9 -3.3M282.5 625.3l-4.4 -2.9M517.1 689.4l3.8 4.6M449.4 545.4l-0.3 -5.6M323.9 692.6l-3.5 6.8M446.5 689.1l3.9 6.7M511.1 544.7l3.2 -3.9M514.5 731.1l4.3 1.3M512.5 678.8l6.8 1.2M378.3 567.7l0 -4.2M491 559l4.7 -5.6M370.3 737l0 4.8M508 687l4.4 3.1M305.4 590.7l-4 -4M499.3 735.2l2.6 6.8M307.8 670.4l-6.4 3.3M309.1 571.3l-3.6 -6.5M349 565.1l-4.4 -4.9M347.1 723l-2.4 2.8M509.8 549.7l2.3 -5.5M427.1 544l2.1 -5.4M463.1 612.6l3.6 0.4M399.5 728.8l1.7 5.4M355.7 587.7l-3.8 -2.9M282.1 605l-2.6 -1.5M343.3 712l-4.7 4.1M468.7 655.7l5.5 3.8M297.2 674.9l-5.8 4.3M370.9 715.1l-0.3 7.6M418.8 571.7l3.2 -3.8M337.3 714l-1.4 7.7M497.8 585.1l3.1 -1.8M518.6 656.5l4.2 1.1M449.4 564.5l4 -6.6M315.2 669.2l-4.5 3.2M489.9 531l3.3 -3M316.6 532.6l-6.1 -3.1M325.9 612l-4.9 -1.5M299.2 694.1l-2.9 1M428.3 577.3l3.5 -2.5M454.2 587.1l3.2 -1.5M310.4 566.4l-4.7 -4.4M447.5 548l4.1 -2.3M357 547.9l-1.3 -4M343.3 680.1l-1.5 4.4M290.5 533.8l-2.6 -5.8M412.5 561.5l0 -4.2M415.2 705.7l2.4 6.8M476.5 594.1l5.7 -1.7M447.8 684.9l5.7 3.1M484.1 688.3l6.9 2M480.9 641.1l5.4 2.9M300.2 652.5l-4.1 2.3M440.3 710.7l0.6 6.4M322.4 616l-4 1M439.1 558.2l3.2 -6.4M385.7 713.5l-2.7 3.7M450 671.3l5.8 4.1M321.6 685.3l-3.5 0.2M504.7 591.2l4.6 -0.9M507.5 632.7l5.2 -0.1M306.3 712.8l-5.7 2.5M478.5 554.9l3.7 -2.4M322.7 647.3l-5.2 2M299.5 652.3l-3.5 -0.5M486.8 557.4l5 -3.7M339.4 732.1l-0.7 6.8M330.7 608.4l-5.2 0.3M493.8 680l4.4 1.3M320.9 579.6l-2 -3.8M409.5 543.1l-0.9 -7.4M289.2 690l-6.7 0.6M308 722.6l-3.2 2.1M516.1 680.9l4.2 2.5M417.7 727.2l2.1 6.4M459.9 675.5l3 3.1M416.4 565.1l1.5 -5.6M404 705.3l-2.7 5.9M320.2 715.2l-1.5 7.2M382.3 717.8l-3 3.2M295 705.2l-7.2 3.4M424.4 538.8l5.8 -5.5M346.1 689.8l-5.2 2.5M327.6 707.5l-4.3 3.2M434.2 535.6l3.1 -4.6M317.1 621.5l-5.6 1M466.5 582.9l4.4 -3.1M319.4 701l-1.4 2.6M465.3 669.4l3.9 5.3M447.3 699.9l0.4 4M469.7 580.9l6.4 -3.1M314.1 717.8l-4.6 4.8M470.2 630.6l6 -4.5M299.2 676.7l-5.1 1.9M516.2 628l6.8 -1.3M479.4 601.4l3.2 -0.3M490.1 730.8l4.4 1.9M298.3 581.8l-5.6 -1.6M319.6 709.7l-2.4 2M402 726.1l-0.8 4.8M402.7 701.6l-2.7 4.9M412.3 554l-2.6 -7.2M291.9 607.4l-5.7 -2.5M301.4 662.1l-6.5 0.1M296.9 552.8l-2.9 -2.2M324.8 655l-6.6 2.7M317.9 726l-2.9 2.1M493.4 573.7l7 -0.7M479.8 741.8l6.3 2.8M357.3 547.5l-2.1 -3.9M377.9 723.1l-3.8 6.8M404.7 716.3l1.9 2.8M491.7 643l7 2M458 732.5l4.3 3.7M479.3 600.4l4.9 -3M298.3 726.4l-5.7 2.7M357.1 734.3l-1.6 5.1M292.4 676.5l-6.2 1.1M311.1 625l-4.8 2.2M287.5 641.3l-3.5 -0.6M333.7 701.1l-2.8 3.7M365.2 685.7l-5.3 2.8M355.5 724l-3.2 2.6M477.6 680.7l4.2 0.1M512.1 579.8l5.4 -3.4M301.3 741.6l-1.2 4M313.4 536.6l-5.8 -1.6M456.5 573.1l4.1 -1.9M314.2 697.6l-7.7 1.7M349.3 564.3l-6.5 -3.1M476.2 655.9l5.5 0.1M448 685.3l5.3 4.7M462.7 612.9l3.7 -0.9M292.6 559.6l-7.2 -3.4M506 736.5l1.6 4.4M501.3 703.2l3.8 2.3M442.2 681.6l5.5 5.2M452.8 539.8l1.9 -7M451.8 530.7l2.1 -4.6M516.1 710.9l4.9 0.2M329.3 704.2l-4.9 4.3M456.7 572.2l3.4 -4.2M309.9 651.4l-6.2 0.7M467.9 711.7l4.4 4.4M501.4 541.7l2.3 -2.9M324.8 669.3l-7.7 1.4M450.1 599.3l2.1 -3.4M287.1 650.2l-5.6 3M313.3 556.7l-2.2 -6.5M317.2 583.1l-3.2 -2.2M383.2 729.3l1.2 4.6M477.3 687.4l6.6 4.1M462.7 668.6l3.4 -0.1M494.1 732.1l4.7 1.3M330.3 706.7l-4.2 2.3M448.1 590.2l1.4 -3.1M343 580l-2.9 -4.6M496.1 532.4l4.2 -5.6M460.7 528.1l2.7 -1.6M291.9 718.1l-4.7 0.6M305.7 606.6l-5.1 -5.2M490.6 540.6l6.3 -2.7M488.7 683.8l3.4 1.8M315.2 533l-3 -5.1M489.3 543.5l4.9 -5.2M457.4 589.3l4.9 -2.2M360.2 535.4l-0.7 -4.5M298.1 743.1l-4.1 3.8M301.8 693.2l-4.7 3.5M463.3 556.4l3.7 -1.8M322.6 733.5l-6.8 2.1M474 660.5l3.2 2.5M466.4 732.9l6.1 2.9M481.6 684.8l5.8 0M332.3 541.7l-2 -2.4M287.1 679.6l-3.2 -0.6M464.3 618l4.8 -4M510.7 654.7l4.1 -1.4M343.4 581.7l-5.1 -3.5M442 729.2l5.2 4.5M498.6 546.7l2.8 -1.5M417.7 558l4 -6.6M332.9 693.2l-2.9 2.3M298.5 683.7l-5 -0.3M288.5 593.4l-6.7 -2.7M308.6 717.6l-2.9 2.3M340.4 578.3l-3.6 -4M494.9 674.5l2.5 2.1M507.7 689.6l5.5 0.9M312.9 689.7l-6.6 0.7M283 669l-3.7 3.8M370.6 728.3l-2.9 2.9M372.8 716.3l0.1 5.3M427.7 569.6l-0.3 -6.9M426.6 716.4l1.1 4.9M425.9 716.5l-1.9 7.6M492.3 668l5.9 -0.9M369.6 572.1l-2 -3.7M369.9 544.7l-0.7 -4.7M431 709.3l3.1 5.2M430.5 733.3l2.2 5M502.5 694.8l5.1 1.9M319.4 679.6l-6 4.3M471.9 732.1l1.4 3.9M326.7 733.9l-1 5.2M347.1 591.9l-6.2 -5M301.7 579.2l-5.4 -4.2M331.4 598.6l-4.4 -4.7M319.5 708.7l-3.1 3.2M371.3 707.2l-1.8 4.1M446.2 715.3l1.1 5.1M322.6 596.3l-6.2 -1M361 551.7l-2.7 -4.2M342.2 527.5l-0.7 -3.4M420.8 722.6l-1.1 3.3M468 603.3l4.2 -3.1M504 654.5l3.5 -0.3M403.4 710.6l-1.4 4.3M445.9 714.8l2.7 6.5M295.7 548.8l-3.3 -0.5M323.3 612.7l-4.9 -1.7M368.8 695.7l-0.6 7.3M483.6 623.7l3.9 -0.1M372.2 738.8l-1.9 3.3M440.1 707.9l5 3.4M462.5 640.1l2.7 1.8M299.9 550.1l-2 -4.8M445.7 700.2l3.7 4.3M312.7 720l-3.9 3M339.5 582.1l-6.4 -2.1M328.3 728.5l-6.5 4.2M489.5 735.7l2.9 1.6M366.3 544.6l-0.8 -5.9M422.9 715.2l0.7 5.8M460.3 694.8l7.6 1.7M422 571.1l4.5 -5.4M463 536.7l0.6 -3.7M515.2 713.5l4.8 5.4M388.3 726.7l0 6.5M338.8 657.3l-4.5 3M314.2 721.7l-4.2 6.5M281.7 545.6l-4.4 -4.5M463.4 687.9l3.8 4.7M487.3 645.4l6.3 0.2M337 588.1l-1.2 -3.2M466.5 630.6l6.3 3.3M280.5 683.7l-4.6 2M309.3 579.2l-4 -5.2M293.3 626l-5.2 1.2M282.8 678.4l-5.7 -0.6M310 669.5l-4 3.4M332 580l-7.1 -0.8M338.5 549.9l-0.9 -7M316.6 576.7l-7.2 -1.9M489.5 698.4l5.8 4.7M397.2 541.2l-1.4 -6.8M459.8 723.3l4.6 3.6M503 576.9l5.2 -2.2M281.9 686.9l-4.9 6.3M453.5 595.7l1.4 -4.3M336.2 671.2l-3.1 2.8M439.8 541.4l2.9 -4M332.5 614.3l-6.6 -3.4M399.3 705.7l-0.4 6.5M440.8 554.2l1.2 -5.4M400.5 562.4l0.5 -3.4M329.7 657.8l-2.5 2.9M459.3 689.6l4.8 4.8M287.4 682l-4.5 1.7M461.3 598l3 -1.7M322.6 665.4l-6 0M388.1 539.5l-1 -5.8M331.5 732.4l-5.4 4.6M294.4 628l-6.9 1.9M298 720.3l-4 3.9M335.9 705.4l-4.6 1.6M482 684.2l3.4 3.3M295.1 724.6l-1.8 3.5M389.3 551.2l-0.4 -4.6M333.5 638.4l-4.1 -1.3M348.9 701.9l-3.1 4M495.7 541.9l1.8 -7.5M309.7 552.3l-3.6 -4.2M481.9 638.5l3.5 -1.1M282.1 607.9l-5.9 -1M295 643.4l-4.6 0.1M369.7 696.3l0.2 5.2M324.7 665.5l-4.4 -0.6M397.6 734.1l0.8 3.8M387.7 575.7l-2.1 -4.4M467 590.9l7 -1.5M361.3 575.2l-0.2 -5.9M301.1 715.3l-4.1 3.7M336.4 741.1l-0.9 4M477.7 559.7l1.2 -6.2M400.6 535.5l0 -6.2M330.5 572.6l-0.9 -3.6M400.8 536.2l-1.4 -3.6M428.7 571.3l2.5 -1.7M412.9 697.2l1.9 2.4M499.8 737.8l2.3 2.1M287.6 657.1l-7.4 2.7M438 712.2l2.5 2.2M373.5 572.3l-3.6 -5.7M352.6 597l-1.4 -4.3M285 649.5l-4 -1M473 527.8l2.6 -1.6M408 566.4l1.1 -3.7M320.2 567.9l-6.2 -1.5M455.5 678.7l2.7 1.4M300.6 655.5l-7.3 -2.9M328.9 629.6l-6.7 0.2M463.6 527.6l4.1 -6.2M474.9 688.8l6.7 1M310.8 638.7l-3.4 2.4M411 698.7l-1.5 3.8M310.4 733.6l-3.3 5.8M369.9 694.4l-4.7 4.5M361.4 716l-0.9 3.3M302.6 693.6l-6.5 2.7M326 703.9l-6.1 2.1M358.3 564.1l-4.5 -2.9M326.6 701.6l-2.9 1M443.3 721.2l2.4 6M324.1 559.2l-2.7 -6.7M329.9 736.5l-5.2 3.6M462.6 599.3l3.4 -3.7M318.6 651.6l-4.8 -1M355.2 550.5l-1.5 -2.8M513.7 719.3l3.7 5.1M286.7 695.9l-4.1 4.3M288.4 676.1l-3.2 1.1M287.2 664.7l-3 -1M463.3 538.8l2.7 -1.3M477.7 697.4l2.8 4.6M456.6 706.4l4.1 1.7M497.1 643.9l3.6 -2M321.5 733l-2.3 1.9M503.3 633.4l7.3 0.8M294.2 573.1l-2.4 -2.3M434.4 527.5l-1.3 -5M423.1 561.7l3.5 -6.7M458.3 708.9l4.9 1.8M459.9 649.1l5.6 -0.9M323.9 549.6l-2 -4.3M295.5 623.7l-5.6 2.1M306 741.2l-2 6.6M515.2 623.9l3.8 1.3M373.5 579l0.7 -5.6M339.5 657.4l-3.6 4.4M305 594.1l-5.3 -4.2M303.6 662.7l-5.6 4.3M422.4 573.8l2.6 -5.9M511 573.7l2.3 -3.3M318.7 666.1l-3.5 0.4M485.5 563.9l2.5 -5.4M325 601.2l-4.5 -4.8M349.4 675l-4.4 2.2M402.9 572.8l-2 -3.2M503.7 583.7l6.4 -0.2M373.2 695.5l-2.5 3.4M474.6 547.9l4 -2.9M443.6 551.2l-0.5 -4.9M398.5 535.2l1 -7.5M482.9 546.2l1.6 -4.8M478.2 738.9l1.4 4.5M478.7 726.1l1.6 3.9M295.6 654.7l-6.8 3.4M306.7 547.1l-3.1 -1.3M364.1 721.1l-5.2 4M499.5 592.9l3.6 -1.3M470.8 565.2l1.3 -4.7M477 592.6l5 -1.4M292.6 621.9l-3.9 -2.6M297.3 671.9l-4.6 3.4M481.6 730.9l0.7 4.7M378.4 574.6l-0.5 -3.2M390.8 710.7l-2 3.4M373.9 697.9l-1.7 5.5M338.5 627.9l-5.9 -0.1M348.4 605.5l-4.3 -0.1M467.2 606.6l3.5 0.2M340.2 556.5l-0.9 -6.1M390.2 551.4l-2 -6.4M462.5 701.6l2.4 1.8M473.7 702.4l1.7 3.9M403.1 576.5l2.7 -3.6M415.3 544.4l0.9 -6.2M452.7 546.5l0.5 -4.3M353.5 717.3l-1.5 6.8M354.9 583.2l-7 -2.2M440.5 735.8l0.2 4.6M358.7 566.2l-4.7 -2.3M484.5 701.5l6.8 3.2M407.6 536.6l2.3 -2.9M341.7 687.6l-4 6M476.4 683l7.2 1.3M409.8 735.2l2.4 7.1M287.1 532.6l-3.4 -2.5M454.4 724.3l1.8 4.1M392.2 722.9l-1 4.1M434.9 702.4l0.9 6.8M309.4 647.4l-4.1 0.6M302.8 708.3l-3.9 2.2M445.6 692.7l5.3 2.5M350.4 720l-5.4 2.8M298.2 705.1l-7.1 2.4M296.1 563l-2.1 -5.2M327.5 596.6l-5.9 -3.4M513.5 588.4l6.5 0.2M384.8 706.1l1.1 4.2M473.3 721.4l2.5 6.6M496.5 622.3l6.9 0.8M307.7 609.2l-2.9 -2.4M513.9 572.9l2.7 -5.4M320.1 589.6l-7 -2.2M495.5 583.5l3.9 -6.6M371.6 727.3l-2.7 3.1M282.3 658.7l-4.9 4.3M489.3 724l4.6 4.3M367.7 532.8l-0.8 -4.9M416.3 538.3l1.3 -4.6M517.7 693.1l4.8 4.8M516.8 710l7.9 0.9M416.6 727.2l1.9 5.5M291.6 728.8l-4.6 4.8M490.1 620l5.4 0.3M281.9 546l-4.9 -2.4M465.4 722.2l1.3 2.9M488.2 588.3l5 -2M513.8 663.4l4.7 2.4M290.3 565.7l-4 -1.6M342.9 694.1l-6.2 2.1M328.4 557.1l-1.4 -7.4M355.3 554.4l-2.4 -5.2M359.4 735.4l-3.6 4.9M309.4 543l-2.4 -2.3M506.4 528.5l4.3 -3.8M307 637.8l-3 -0.6M418.7 570.4l1.4 -3.5M470.9 708.8l4.8 2.4M354.1 731.4l-2.6 2M340.1 568.8l-1.8 -4.3M393.5 549.4l1.8 -6.2M312.1 632.6l-5.5 3.3M476.6 580.5l4.8 -0.6M312.7 599.8l-7.8 -0.2M473.9 582.7l2.8 -2M306.5 584.5l-5.6 -0.5M466 724.3l1.3 3.7M472.8 597.7l4 -1.5M284.5 570.8l-1.7 -2.9M350.1 682l-1.9 4.3M284.7 605l-6.6 -1.5M421.3 561.5l3.6 -6.1M480.7 579.1l3.9 -7M418.5 703l0.1 3.6M481.2 589l2.4 -3.2M324.9 687.8l-5.2 1.6M283.1 654.2l-3.4 0.5M300.6 706.2l-7.1 1.6M464.6 581.4l3.3 -6.1M325.9 652.3l-2.7 2.1M478.1 547.3l6.5 -2.5M327.6 728.5l-6 4.4M295.6 595.9l-6.3 -4.8M435.8 692l0.7 3.8M515.4 741.5l3.1 2.7M472.2 661.8l3.8 1.4M517.7 529l3.3 -4.6M295.3 642.9l-6.9 -3M388.8 573.1l-3.3 -6.4M435.2 575.2l1.8 -7.2M484.8 605.8l5.5 1M484.7 627.9l6.9 -1.8M491.3 603.8l7.8 0.4M350.1 566.9l-6.2 -3.3M417.5 567.8l2.6 -5M290.6 603.4l-3.3 -2.7M450.2 585.3l1.5 -6M294 676.5l-4.7 2.8M339.8 653.5l-6.5 4M305.7 662.9l-2.8 1.9M295.1 544.6l-6.3 -2.3M499.7 592.1l4.7 -0.8M456.8 555.2l1 -5.5M461.8 564.1l6.3 -4.4M357.7 702.6l-1.3 3.1M514.3 536.1l3.8 -5.3M377.1 701.2l-4 5M457.6 737.1l2.5 4.1M435 578.4l2.8 -1.7M513.9 586.4l4.2 -0.2M304.1 561.6l-3.7 -1.9M287.8 561.8l-5.7 -2M300.6 566.5l-6 -4M419 740.2l3.3 5.1M456.9 599.6l2.2 -2.1M424.7 540l-0.4 -4.5M386.6 726.3l0.3 3.3M283.5 736.6l-2.1 3M479.7 688.6l3.6 4.8M292.3 666.3l-4.9 -1.5M300.9 689.4l-5.1 1.6M316.8 668.1l-4.6 0.1M511.5 616.6l4.9 -3.1M463.1 652.6l3.8 0.4M298.5 589.9l-1.6 -2.6M309.1 533.1l-0.5 -3.6M361.5 685.3l-3.8 2.4M348.8 738.3l-1.2 5.9M343.9 552.3l-1.5 -4M499.3 658.3l7.6 -0.8M346 580.7l-4.4 -1M446.3 728.3l-0.2 3.9M304.4 636.4l-3.6 -0.8M449.4 717.6l2.5 7.3M436 585.2l3 -4M300.6 533.1l-5.8 -4.3M363.9 697l-1.4 6.4M385.9 731l-1.4 4.2M504.9 554.2l4 -4M387.3 742.3l1.6 6.2M506.6 717.9l1.8 2.9M396.5 534.8l3.8 -6.2M494.3 639.2l3.2 0.1M440.2 740.1l0.5 5.7M417.2 727.7l-0.9 3.8M318.9 728.8l-2.3 3.9M411 743.3l1.3 4.1M367.3 709.3l-1 3.3M382 547.4l-0.1 -4.2M469.9 589.4l3.5 -0.6M307.8 622l-2.9 -2.3M485.3 590.4l5.1 -3.5M304.3 558.9l-6.2 -2.1M485.3 589l2.9 -3.9M324.7 662.8l-4 2.1M294.9 571.6l-2.7 -5.4M493.7 598.9l4.4 -5.9M404.1 733.1l0.2 4.9M372.6 549.7l-2.2 -5M470.3 567.9l3.1 -0.9M311.6 726.5l-4.2 4M321 627.6l-5.4 2.7M459.8 659.4l6.8 2.3M494.8 696.4l2.6 3.9M332.8 624.9l-3 -0.7M325.3 542.8l-3.6 -5.4M406.3 568.5l-3.4 -6.5M303.5 614.6l-4.2 -0.5M499.1 732.7l3.7 1.7M303.5 677.2l-3.1 1.7M306.5 708.1l-2.1 4.2M452.1 574.7l2.3 -3.8M315.5 587.8l-5.3 -2.6M305.3 659.8l-6.3 0.5M358.3 721.8l-3.5 4M317.9 612.2l-6.5 -0.9M315.2 623.3l-5.1 -4.2M463.4 566.2l3.4 -2.5M347 599.4l-2.7 -6.8M485.3 692.7l5.5 1.4M415.8 571.2l0.6 -7.4M399.2 733.5l-1.6 6.2M290.4 728.1l-1.6 5.1M386.5 741.4l-1.1 4.8M382.2 738.6l-1.4 6.7M334.9 570l-1.2 -4.2M356 696.5l-5.5 5M396.7 703l-1.9 7.4M448.7 707.1l2.2 2.3M462.7 629.1l5.1 -2.2M473.3 692.6l3.1 1.3M466.9 698.9l6.7 2.2M327.6 596.5l-6.9 -0.1M499.3 548.1l2.4 -3.2M509.8 589.2l2.8 -2.9M438.2 532.7l2.8 -2.4M454.1 721.7l0.6 3.3M296 725.2l-5.8 1M517 608.9l3 -1.9M439.2 699.7l6.6 4.5M295.1 631.2l-5.3 -2.4M381.4 555.9l2.1 -5.9M475.4 677.4l3.5 1.8M308.9 646.6l-7 -2M508.3 680.4l4.7 3.1M291.1 690.6l-5.8 0.7M320.8 635.1l-3.7 -1.4M326.6 561.2l-2.9 -2.7M340.1 607.8l-7.3 -1.9M285.3 556.5l-7.6 -0.2M313.5 541.5l-2.7 -5.4M461.6 586.6l4.7 -0.6M291 600.8l-3.1 0.5M364.4 556.5l-1.1 -5.2M308.3 650.1l-2.8 1.4M303.6 670.6l-5.7 -0.8M505.4 714.3l5.2 5.1M421.6 712l3.8 5.3M411.5 734.3l3.9 5.5M433.7 719l2.1 4.4M323.2 736.2l-2 6.3M423.3 575.4l2.6 -4.9M481.6 624.8l6.2 -4.1M477.5 625.6l6.1 -1M456.2 560.1l3.8 -4.1M307 635.7l-5.8 3.5M493.1 687.5l1.6 2.9M311 556.8l-2.4 -7.1M353.1 586.4l-5.6 -4.3M364.5 717.7l-3.7 5.1M508.7 561.5l4.8 -0.5M281.6 679.3l-5.3 0M505 547.8l3.7 -1M424.5 533.9l-1.1 -3.4M344.2 684.2l-3.4 1.4M451.4 698.3l1.6 7.2M440.6 736.5l1.7 5M303 701l-3 2.6M405.2 542.2l-1 -6.5M486.7 717.4l3.4 0.6M425.8 719.6l3.2 6.3M471.5 550l1.5 -6.6M349.3 600.3l-3.1 -5.1M310.3 562.8l-3 -1.3M383.7 737.2l0.8 5.6M464.2 636.9l3.9 0M471.4 720l2.7 2.3M291.9 735.1l-2.9 1.1M430.6 738.1l0.6 3.3M334.6 666.4l-2.5 3.9M288.2 539.3l-5.3 -1.4M326.8 663l-2.8 3.1M480.8 623.1l5.2 -1.6M447.2 701.9l1.8 2.8M477.7 737.9l4.1 1.5M341.9 547.3l-6 -2.8M396.2 550.1l0.6 -7.9M319.6 693.3l-2.2 2.7M482.7 651.9l4.7 -0.8M333 716.2l-2.6 3.8M499.2 706.9l4.2 1.2M307.2 558.6l-1.5 -3.2M290.5 585.9l-3.2 -1.4M448.4 719.4l2.6 5.9M509.1 716.7l3.1 1.8M461.6 599.3l7.9 -1.2M286 718.4l-1.9 5.1M484.4 614.7l7.1 -1.2M405.6 702.5l-0.3 7.5M301.6 730.4l-3.3 2.8M405.9 535.1l-3.3 -7.2M490.9 693.4l3.6 5.2M424.7 542.8l1.6 -4.8M422.9 696.5l0.4 7.7M462.4 741l3.4 1.6M348.6 572.6l-5.1 -1.7M341 608.6l-5.5 -3.1M438.1 576.1l2.7 -3.5M349.1 708.8l-1.8 2.4M366.2 529.9l-2.1 -4.6M498.6 563.1l2.7 -4" stroke="#2a7a3a" stroke-opacity="0.2" stroke-width="0.7" fill="none"/><path d="M439.9 714.7l2.8 5.4M495 682.7l5.8 1.1M468.2 576.1l4.4 -3.6M425 729.1l3.8 3.7M285.9 633.8l-6.3 -0.5M488.7 653.2l6.5 -0.9M367.4 577.1l-0.8 -5.3M435.8 700.4l5.1 5M452.1 540.2l4.1 -4.6M514 663l5.1 1.1M343.1 593.5l-6.6 -3.2M489.4 715.8l3 3.8M290.2 530.7l-4.9 -6.8M351.2 540.3l-1.3 -7.7M478.1 554.4l4.6 -1.3M453.6 733.8l-0.2 5M349.6 699.9l-3.4 2.5M336.1 700.8l-6 2.7M330.7 540.9l-0.7 -5M283.4 674.8l-5.3 1M325.9 629.5l-4.8 -3.9M474.5 740.2l4.6 2.2M376.8 720.6l-1.5 7.9M465 552.4l3.5 -3.6M505.8 530.2l4.2 -1.3M398.9 541.6l-2.7 -6.1M500 585.5l5.7 -3.9M450.6 599.3l3 -3M286.1 594.3l-6.5 -4.8M376.7 567.6l1.3 -7.1M364.2 734.3l-2.1 8M508.6 545.3l3.6 -7.5M341.8 621l-4.2 0M288.4 567.9l-7.2 -3.4M345 669.5l-2.7 4.2M304.3 713.9l-4.3 0.9M498.1 716.3l4 1M302.4 539.1l-3.9 -1.3M511.4 699.3l5.4 5.6M350.3 563.2l-3.5 -3.2M317.8 537.8l-2 -5.1M404 536.2l2.8 -5.1M290.4 527.9l-6.9 -3.2M315.4 600.2l-4.7 -7.1M451.2 598.4l6.5 -3.7M417.4 562.3l0.2 -4.2M508.9 541.6l2.9 -7.5M515.9 662.1l6.8 -1M477 569l3.9 -1.7M290.1 574.3l-6.1 -3M292.3 565.7l-5.5 -5.1M373.1 740.4l-4.9 4.6M513 671.7l5.9 4.8M371 558.8l-3.8 -5M351.7 673.1l-4.5 1.2M320.4 696.9l-5.7 1.9M428.3 566.6l5.7 -5.8M323.7 728.1l-6.7 5.3M318.5 569.2l-2.7 -5M450.4 552l1.4 -5.5M324.7 662l-7 -1.4M510.5 591.5l4.3 -0.9M362.4 538.2l-3.7 -6.5M478.8 554.9l1.4 -7.3M472.9 611.7l7.3 -4.3M487.9 743.4l1.1 4.6M470.7 608l5.3 0.2M354.5 553.9l-6.8 -4.1M330.4 671.6l-8.5 -0.3M428.4 544.3l2.8 -8.2M334.3 564.4l-5.5 -5.9M355.6 742.9l-1.6 7.6M494.2 688.3l4.7 2.7M327.3 704.3l-2.6 4.3M291.3 689.5l-6.4 4.4M322.7 727.2l-4.3 2.7M482.4 605.1l7.3 -4.4M331.3 659l-3 3.5M460.7 669.4l4.1 2.2M472.5 578.5l6 -3.7M477.2 544.2l5.1 -4M409.3 535.2l3 -7.4M339.1 564.8l-6.3 -5.4M344.8 555.3l-1.6 -6.6M343.3 535.7l-0.5 -8.1M443.7 567.9l3.2 -6.7M350.9 570.4l-4.2 -1.7M349.6 720.8l-4.4 4.4M325.4 592.7l-5.8 -1.2M518.7 638.5l4.1 1.4M489.3 694.1l3.9 7.1M348.4 698.9l-6 4.1M465.4 689.1l6.3 3.3M443.7 545.1l2.6 -7.7M456.6 703.8l3.4 5.3M289.5 690.6l-4.7 5.4M489.2 707.2l3.1 4.8M303.3 602.7l-7.4 0M390 569.2l2.2 -5.3M480.9 528.5l1.4 -7.3M486.3 621.4l7.4 -4M308.1 677.8l-4.9 -0.6M453.1 548.2l4.5 -6.4M481.8 548.4l7.9 -2M485.1 575.7l5.2 -0.6M395.9 703.7l0.8 8.3M308.4 647.6l-5.3 -0.6M335.6 531.7l-7.6 -4.1M388.6 703l-1.5 7.7M511.2 740.7l2.8 4.3M518.5 719.9l4.3 0.9M501.8 712.1l7.7 2.2M508.3 694l5.6 0.1M506.6 659.4l7.4 2M345.6 708.5l-6.9 4.7M477.1 673.3l6 6.7M418.9 544.2l0.9 -4.8M319.5 667.3l-6.9 -1.2M464.2 627.6l7.6 2.5M448 582.8l1.9 -5.7M334.8 729.8l-3.3 7.7M334 528.4l-4.5 -6.4M358.7 684.5l-5.8 3.9M509.2 655.2l5.9 1.7M489.4 684.8l6 3.9M485.4 727.7l4 5M474.5 638.8l8.6 1.1M298.5 696l-8.7 0.7M282.6 647.2l-7.8 -2.5M298.9 716l-5.1 3.6M488.1 672.1l5.8 6M450.6 722.9l4.2 2.9M324.8 535.7l-7.2 -3.7M336.6 616.6l-3.9 -2M328.5 719.4l-3 6.4M510.5 589.4l6.6 -5.5M310.4 652.1l-8.1 2.4M299.1 627.4l-8.3 1.6M499.7 683.2l4.4 1.4M322.7 659.3l-4.1 1M283.7 733.7l-7.2 4.1M344.3 569l-5.8 -4.3M492.7 585l4.6 -3.7M292.2 673.8l-4.7 3.8M516.8 622.3l6.7 3.3M504.3 535.2l1 -4.3M423.6 577.9l5.7 -6.1M324 711.2l-2.8 5.1M433.3 695.8l1.1 8.5M496.1 720.2l7.3 1.1M485.2 634.8l7.1 0.6M487.8 737.6l3.7 5.6M291.6 533.6l-4.9 -6.4M511.6 567.6l5.8 -5.3M295 718.8l-6.6 3.6M372.2 556.8l-0.4 -5M338 657.1l-4.4 5.1M498.2 675l5.3 7.1M503.7 713.6l7.4 1.9M327 593.8l-3.2 -3.1M470.1 621.8l5.1 1.9M417.6 569.4l3.4 -7.7M295.5 591.1l-3.9 -1.5M420.9 548.9l0.3 -7.3M350.3 679.3l-1.7 3.8M398.8 707.1l1.5 6.4M359.4 741.2l1.1 7.1M435.9 730.2l2.4 4M294.4 537.5l-3.4 -5.6M462.4 566.9l7.5 -2.8M343.2 689l-2.9 5.7M468.2 638.7l4.7 1M466.3 625.6l5.6 -2.7M299.3 697.7l-4.4 1.9M325 729.8l-2.1 4.4M293 608.2l-4.8 -3.9M291.2 721.1l-5.4 1.7M376.7 704.8l-4.4 4M301.2 636l-8.5 -0.6M362.8 711.2l-1 5.5M353.8 720.4l-4.2 3.3M493.5 654.2l6.9 -0.6M418.6 702.3l2.4 5.2M286.7 540.8l-7.6 -4.6M286.8 529.5l-3.2 -5.1M313.3 715.6l-5.2 1.3M331.3 620.6l-5.3 1.8M324.7 627.9l-5.4 1.7M318 650.1l-8.1 -0.8M503.3 713.2l6.9 4.8M441.4 556.1l5.2 -4.3M344.9 701.8l-1.8 7.4M312.5 610.6l-5.2 0.6M500.6 731l2.4 6.7M353.4 713.6l-4.1 2.1M300.8 743.6l-7.7 2.8M508 673.6l7.4 2.9M462.6 688.2l1.6 4.3M460.7 673.3l8.1 0.8M352.8 597.1l-3.7 -1.8M301.4 681.5l-3.1 3.2M462.2 724.9l2.4 5.7M316.1 597.9l-6.6 -3.9M505.1 652.8l7.7 -1M460.1 575.5l3.2 -5.3M383.2 542.3l-5.9 -6.3M448.1 595.5l3.5 -3.5M345.5 681.3l-4 3.1M451.6 688.6l3 5.3M484.3 743.9l2.4 4.8M491.6 589.9l6.5 0.3M308.1 720.5l-5.4 3.2M473.9 650.2l6.2 3M486.5 670.6l7.2 -1.4M324.2 728.9l-2.9 4M490.2 744.1l1.4 3.9M304 721.7l-5.4 6.9M407.7 536.7l-1 -5.4M323.5 657.9l-2.8 2.9M299.5 654.8l-5.8 -1.2M452.8 603.5l5.5 -4.9M456.2 605.4l5.9 -3.4M282.8 598.8l-4.9 0.8M492.6 556.6l3.1 -3.4M410.3 725.5l-0.4 5.2M467 724.4l4.2 1.9M305.2 530.5l-2.8 -3.6M423 711.9l0 7.9M506.1 720.5l4.2 2.9M478.2 629.1l4.2 -1.3M518.2 578.2l6.6 -3.3M429.6 733.4l2.5 5M480.3 708.1l8 2.1M476.1 572.7l4.8 -2.3M297.8 657.5l-5 -1.4M502.5 596.5l7.5 -4.5M438.8 579.9l3.9 -6.8M483.3 632.3l5.9 -4M337.7 698.5l-4.9 4.5M330 741.6l-2.5 4.5M487.3 616.8l4.9 -0.8M506.4 567.6l6.6 -4.2M504.3 701l6.8 5.3M496.9 686.5l5.4 3.3M493.1 615.8l6.6 -4M292.2 680.7l-7.2 5.3M460 592.4l2.4 -3.7M298.1 618l-6.3 -3.7M377.1 531.1l-0.2 -6.5M474.1 547.1l1.2 -8.3M417 698.9l5.3 4.7M480.9 671.3l7.8 1.5M516.1 686l7.9 3.5M320.2 737.5l-1.3 6.2M301.4 666.9l-7.5 0.6M342 727.3l-4 5M471.9 612.6l4.7 -5.8M392.9 540.6l1.9 -6.1M515.9 702.1l4.2 4.6M423.1 575l2 -5M483.3 586.2l3.7 -3.9M332.5 560.7l-2.4 -4.6M318 538.4l-4.5 -3.4M421.9 724.6l-0.1 8.9M326.2 689l-4.7 3.4M515.2 647l6.9 0.1M314.6 637.2l-6.8 -4.3M488.2 667.2l4.4 6M379.7 711.9l-4.1 7.9M445.9 535.4l1.3 -4.3M487.9 623.3l4.6 1.6M312.7 635.8l-6.4 3.5M518.7 723.7l7.3 2M321.6 694.6l-7.4 1M378.4 565.3l-3.9 -5.6M307.2 676.7l-5.8 2.5M356.4 545.5l-3.9 -3.2M411.7 696.8l1.4 6.7M328.5 647.1l-5.6 -0.2M412.9 545.1l1.7 -6.5M286.4 732.2l-3.1 3.4M412.9 697l0.7 7.9M510.8 621.3l6.9 -1.6M292.1 648.2l-7.6 -3M517.3 649.8l4.8 1.5M303.4 604.2l-6.7 -4.6M286 544l-4.8 -6.6M406.4 540.1l1.6 -3.7M425.6 698.5l-1.4 7.6M469.5 715.3l3.4 4.5M447.7 743.3l2.1 3.8M371.3 552.2l-5.5 -4.8M327.6 579.8l-8.6 -2.2M518.3 688.4l3.9 4.4M306.7 530.9l-4.3 -6.4M356.4 557l-0.7 -4.2M313.5 711.8l-3.7 2.7M303.8 623.1l-6.2 -3.7M511.6 657.6l5.1 2.1M288.4 628.9l-6.9 -3.5M291.8 652.7l-4.5 4.1M359.2 560.1l-6.7 -3.7M478.6 681.7l7.8 1M433.5 744.5l-1.1 4.7M325 652.8l-3.9 0.9M339.8 689.5l-2.8 4M397.6 705.3l-1.6 8.4M375.6 558.8l-2.1 -7.9M333.8 569.7l-3.1 -5.2M381.2 719.5l-2.1 4.4M399 726l3.1 5.4M419.2 531.2l1.5 -6.6M406.2 712.8l2.3 6M405.6 705.2l3.5 7.8M454.1 609.3l3.8 -5M322.4 639.8l-6 -2.2M403.6 549.4l-4.1 -6.8M500.9 555.5l3.1 -3.2M389.3 709.4l-4.3 6.4M420.8 699l2.3 3.7M458.1 667l4.1 -0.4M320.4 570l-7.9 -2M459.7 740.9l2.8 3.5M468 603.4l4.8 -6.4M338.1 611l-8.9 0.4M298.6 529.5l-7.1 -2.4M491.3 582.8l2.6 -4.5M373.5 532.8l-0.3 -4.2M470 552l2.7 -5.8M334.3 642l-5.7 -0.9M373.2 532.8l-1.1 -4.4M480.1 594.5l3.7 -6.7M494.2 667.2l3.8 1.5M391.9 565.4l-0.9 -8M513.5 642.6l8.7 0.1M282 569.4l-3.8 -4.7M477.9 695.8l4.3 5.1M291.5 555l-4.4 -4.6M313.6 572.6l-7.2 -2.3M292.3 533.7l-4.3 -2.3M324.8 621.4l-5.1 -3.1M496.1 613.8l7.7 -3.2M485.1 559.6l6.2 -1M344.1 697.1l-6.6 1.5M317.4 583.6l-3.4 -7.6M423.2 734.4l5.3 6.2M296.3 621.7l-7.1 0.7M500.7 717.5l4.7 5.3M304.7 552.4l-4.4 -6.9M468.4 608.9l7.7 -1.1M459.5 727.3l6.1 5.4M334.6 569l-1.7 -4.2M308.6 674.6l-6.7 1.1M410.9 528l1.1 -4.2M298.2 594.1l-4 -4.4M511.1 539.5l7 -1.7M314.9 622.9l-5.7 -4.4M472.7 583.4l3.8 -2.1M460.6 737.6l2 8.7M362.4 579.1l-1 -8.5M492.4 664.6l4.8 -0.3M282.8 707.1l-4.9 7M434.2 577.3l6.2 -3.5M336.5 669.3l-6.5 1.7M309.6 687.3l-3.5 5.8M511.8 619l3.6 -1.9M295.8 635.4l-7.9 3.2M511.6 566.2l4.1 0.1M481.5 539l5.8 -2.9M309.1 570.1l-4.2 -3.3M484.8 586l5.6 -1.6M435.9 571.3l3.9 -5.7M306.1 601.7l-5.3 -0.5M305.8 658l-6.4 -1M348.6 705.3l-3.5 2.3M451.6 558.5l2.4 -3.4M463.8 576.8l5.2 -1.8M443.2 686.4l4.2 7.7M374.6 529.2l2.7 -8.1M307.5 548.9l-4.3 -1.6M334.9 735.9l-3.3 3.7M462.1 576.5l6.8 -3.5M498 738.9l4.5 7.5M444.1 570.1l3.6 -6.4M352.3 532.8l1 -6.9M333.8 652.7l-7.9 1.4M502.7 708.6l6.7 0.3M355.2 721.4l-0.2 6M415.2 529.5l0.1 -8.1M305.9 662.3l-6.7 5.1M281.3 649.3l-4.3 1.4M480.9 669.7l6.4 5.6M383.8 711.4l-0.9 4.5M307.5 687l-4.7 7.1M448.8 562.2l4.2 -3.2M492.3 736.3l6.1 3.1M438.9 554.6l-0.6 -8.4M289.2 530.2l-2 -7.6M516.8 702l2.9 3.9M328.9 559.1l-3.1 -6M506.1 686l6.9 3.2M327 542.5l-0.9 -5M347.9 591.2l-4.5 -4.8M381.2 557.3l-1.2 -8.9M312.9 611.8l-4.6 0.2M464.9 574.5l5.7 -1.1M330.9 583.5l-7.7 -4.6M333.2 704.4l-1.6 7.1M435 741l4.4 3.4M504.9 664.9l8.7 -1.8M449.8 535.5l-0.1 -5M479.4 612l8.5 -1.2M518.1 534.8l3.4 -6.8M514.5 528l7.8 -1.8M295.8 536.9l-4.7 -3.6M383.8 548.5l1.2 -4.5M337.2 739.8l-4.5 7.3M310.1 556.2l-4.1 -6.7M466.6 598.8l3.9 -3.3M502.1 613.4l7.6 1.1M304.5 605.3l-8.2 0.3M319.4 674.9l-4.1 3M372.3 713.7l-6 6.4M505.9 607.6l5.9 1.7M280.7 642.5l-8.4 0.4M440 689.3l4.9 6.7M285.3 603l-7.1 0.9M452.4 725.5l7.2 4.6M477.1 662.9l7.1 1.9M398.6 560.4l0.9 -7.8M348 696.7l-3.1 3M464.4 554.6l2.1 -7.1M428.5 709.7l1.2 5.4M442.3 707.7l7.4 4.8M430.9 536l3 -5M504.8 674.8l8.7 -1.9M313.8 532.9l-1.3 -6.7M302.3 548.9l-2.2 -5.8M474.2 642.3l5.1 -1.8M320.2 728.5l-7.3 4.8M487.7 708.5l4.2 2.1M431 582.7l2.6 -3.2M340.8 553.5l-3.2 -4.3M413.6 548.7l-3.1 -7.8M286.3 673.8l-7.7 1.3M317.8 571.1l-5.2 -0.7M444.5 563.2l0.6 -7.1M324.6 671.9l-3.1 4.8M479 722.6l0.9 5.6M510.7 528.7l2.6 -7.4M393.9 575.5l-1.5 -6.4M480.9 563.9l2.5 -6.6M495.7 603.6l5.1 -3.2M494 676.9l6.4 5.5M306 685.8l-4 2.9M324 652.6l-4.4 2.3M511.5 635.6l5.9 3.1M498.1 693.9l6.9 4.4M310 591.6l-6.1 0.5M323.7 651.9l-7.9 2.3M432.7 697.7l0.5 4.3M478.5 591.5l5.7 -3.2M325.8 630.6l-6.9 -1.4M288.7 573l-5.2 -3.9M361 583.3l-2.8 -3.2M488.4 528.3l1 -8.4M333.2 565.6l-2.8 -4.1M437 702.8l4.3 3.5M403 730.2l-3.5 7.5M435.3 725.8l-1.1 5.4M412.3 715l3.9 4.7M313.7 692l-5 3.7M472.5 681.4l5.5 3M380 539.3l2.4 -6.6M486.1 620l5.5 -0.4M333 571.2l-5.4 -4.9M509.9 549.7l7 -2M393.4 565.5l2.4 -6.5M305.4 650.5l-4.6 0.6M283.9 639.9l-4.9 -0.8M485.8 727.2l4.5 2.2M298.5 623.5l-6.3 -5.1M403.8 568.8l3 -4.4M425.2 560.6l4.6 -7.7M306 610.7l-4.3 -0.5M514.7 657.6l5.5 3.9M309.3 630.4l-6.2 1.2M497.7 624.7l8.5 -2.4M315.7 698.5l-4.7 1.4M430.6 724.5l0.1 8.3M412.2 739.5l1.6 6.5M298.8 572.9l-4.1 -2.3M475.1 535.3l2 -3.9M470.6 576.7l7.9 -1.6M351 587.8l-2.6 -8M513.6 542.2l4.4 -1.2M515.8 672.2l3.9 4.8M286.1 588.7l-4.5 -5M295.9 648.6l-6.9 2M467.6 638.3l4.8 2.9M406.7 575.6l-1.4 -7.1M414.3 536.2l-0.5 -4.2M518.4 540.5l5.4 -6.6M290.2 648.2l-7.9 2.9M376.5 567l-2.8 -3.4M401.6 713l0.5 8.7M325.3 540.8l-1.3 -7.7M360.7 532.2l1 -6.7M479 695.9l4.1 4.7M451 590.8l7.6 -1.1M306.2 735.6l-1.7 6.6M319 565.2l-6.3 -4.4M474 642.9l7.5 -3.3M310.5 639.7l-6.4 -0.8M287.1 538.3l-3.9 -1.3M333.3 705.3l-4.7 6.5M307.5 710.2l-6 1M384.1 535.2l0.1 -5M390.8 564.6l-4.1 -7.7M379.5 702.8l-1.5 5.6M368.1 722.9l-2.4 6.5M511.8 559.7l4.5 -3.3M312.7 730.2l-2.4 7.9M491.2 539.8l4.5 -3.3M390.9 734.4l2 4.6M314.8 680.2l-5 1.5M504.2 588.6l3.3 -2.9M465.5 633.9l6.9 2.4M294.7 529.8l-4.6 -6.1M324.7 684.7l-4.3 4.9M479.9 560.7l6.5 -5.1M489.3 686.7l4 1.1M471 610.4l8 -1.1M445 546.3l5.2 -4M482.7 535.1l4 -3.8M292 547.5l-5.2 -5.1M340 608l-4.1 -0.5M369.8 736.2l-2.8 6.2M336.9 653.1l-6.5 -2.1M307.8 640.3l-3.3 2.4M288.7 646.8l-8.1 0M487.3 628.5l6.2 0.9M473.9 724.5l2.2 5.9M294.3 627.4l-4.4 -2M303.1 633.9l-5.7 0.9M299.4 553l-4 -1.2M462.4 671.6l7 2.6M459.8 597.6l5.5 -2.8M508.4 690.8l5.3 2.6M303.5 559.8l-3.7 -1.7M294 650.8l-4.5 3.3M312.4 710.7l-5.1 0.9M453.5 677.8l3.5 6.3M481.7 558l4.4 -6.4M466.7 589.7l3.7 -4M342.9 569.3l-1.3 -7.2M510.9 568.2l7.5 -0.8M416 549.2l3.4 -7.2M354.6 569.3l-5.5 -2.2M444.6 677.6l1.6 5.4M461.5 552.2l2.4 -8.5M460.6 690.4l2.2 6.4M455.1 565.5l4.7 -4.3M502.9 609.3l6.5 -5.9M431 570.5l3.2 -2.6M346.1 547.5l-3.7 -3.1M316.5 604.8l-8.6 -2M437.6 716.5l-0.2 5.7M487 730.9l8 2.6M495.5 696.3l3.4 4.6M497.7 616.8l8.2 1.3M407.6 711.4l-2.2 8.1M331.5 703.4l-5.5 4.7M348.5 686.8l-4.2 1.4M283.7 563.5l-3.3 -5.4M405.8 738.4l0.2 8.4M337.1 698.5l-5.4 2.1M464 676.3l6.6 3.8M293.5 740l-4.8 5.7M412.5 572.6l4.4 -6.1M509.4 706.1l4.9 2.1M456.2 726.6l1.7 8.2M425.9 719.2l-2.2 7.1M471.8 631.8l6.1 -1.9M311.1 601.5l-5.8 0.7M378.4 708.8l-5.6 5.1M329.7 536.1l-3.8 -3M321.9 568.8l-4.3 -3.5M303.7 725.5l-1.6 5.3M366.5 741.9l-3.5 5.9M459 529.7l2.8 -6.2M352.1 565.7l-3.6 -4.2M334.9 600.1l-7.2 -5.1M513.3 652l6.2 -1.3M292 724.9l-3.7 1.5M472.6 603.3l4.4 -3M381.9 574.6l-0.4 -6.9M344.7 677.5l-3 3.7M451.1 687l4.6 3.5M490.4 678.2l4.2 4.9M458.3 560.4l5.9 -2.1M289.4 730.9l-3.7 7.8M323.8 588l-7.5 -1M447.7 575.7l2.3 -7.6M316.2 700.5l-3.1 2.6M293.3 576.5l-6.7 -2M515 653.2l4.4 0.1M371.8 577.2l-3.1 -4.7M447 536.4l1 -7.2M356 730.7l-0.3 4.5M446.8 548.3l4.6 -6.8M446.5 677.2l3.5 3.8M425.5 695.2l3.1 8M510.5 610.3l5.8 -4.7M455.4 587.8l4 -7M349.5 561.7l-3.3 -7M333.3 547.5l-5.1 -2.8M508 641.6l7 -4.1M465.7 650.2l5.3 -1M315.7 685.9l-7.5 -0.1M477.7 551.4l6.8 -4.8M342.7 663.6l-3.9 1.9M294.2 590.9l-4.6 -2.8M287 613.6l-4.2 -0.4M482.7 711.1l5.6 4M471.9 551.1l2.6 -7.7M331.6 725.3l-2.3 6.5M446.4 585.3l7.7 -4.3M324.1 710.1l-5.4 4.1M294.8 627.5l-4.5 1.4M462.5 712.5l0.7 6.9M298 669.8l-4.3 1.6M462.3 571.9l2.1 -8.3M477.8 670.9l3.5 3M439.4 715.6l6.1 4.9M447.7 580.7l5.1 -3.5M461 604.7l2.8 -5M298.1 558l-1.9 -6M476.9 713.9l2.3 7.1M490.2 562.1l5.5 -2.7M345.1 613.5l-4.1 -6M294.3 654.1l-4.8 1.6M511 682l5 2.6M479.4 620.1l8.3 -1.8M282.4 612l-6.5 -0.7M406 731.4l4.1 5.7M325.9 544.5l-3.8 -2.4M297 586.4l-4.1 0.4M407.2 740.5l-0.4 7.4M323.8 645.2l-7.6 3.2M319.2 537.1l-4.8 -4M506 706.7l6 3.2M413.8 740.2l4.6 6.3M486.6 564.9l1.5 -4.4M425.7 700l0.6 7.1M495.2 613.5l4.6 0.3M410 722.7l-1.5 8.6M316.6 641.5l-4.4 2.1M307.1 567.8l-3.2 -5.1M505.8 657.7l6.4 0.8M339.7 553.7l-4.6 -1.6M466.6 657.4l4.7 -0.1M390.9 531.3l-3.4 -5.6M485.4 562.2l3.6 -4.3M297.9 713.4l-4.3 5.8M330.6 717.4l-1.8 4.9M486.9 597.6l4.4 0M499.7 658.3l7.2 -2.2M328.4 561.4l-4.6 -6.3M296.5 604.7l-5.5 0M407.3 576.5l0.9 -4.6M484.9 560.5l1.4 -3.9M481.4 741.5l1.7 4.1M460.5 716.9l7.4 4.3M343.7 569.8l-6.9 -3.6M303.9 740.7l-3.4 4.3M290.1 652.8l-4.7 0.5M332.6 614.7l-5 -2.2M377.2 721.3l-2 6.4M318.3 713.5l-5.1 0.8M294.6 623.6l-4.4 0.7M371 536l-1.2 -3.9M299.3 626.9l-4.7 2.3M297.3 672l-6 4.6M467.8 552l3.6 -1.8M438.1 576.6l2.3 -7.6M479 714.1l5.1 5.2M484.2 723.9l2.3 4.1M337.6 567.7l-6.8 -3.4M434.8 546.3l2.8 -4M322.6 705.3l-6.9 4.2M492 557.8l2.4 -7M314.8 558.8l-1.7 -5.9M349.4 738.1l-5.3 6.5M280.8 564l-5.7 -1.3M471.1 632.9l5.6 -3.5M440.6 528.5l3.2 -4.3M492.1 588.5l4.5 -2.4M393.7 560l-1.1 -6.4M457.3 590.9l8.2 -3.4M336.9 685.9l-6.9 3.5M494.6 582.7l3.7 -4.6M317.1 664l-4.4 -0.1M515.2 638.8l7.6 3.4M487.4 638.4l6.4 2M420 578.7l3.4 -7.6M354.4 551.9l-2.6 -5.3M511.7 529.1l5.4 -1.2M449.7 720.2l3 3.8M395.7 719.2l-0.7 7M510.4 631.1l8.4 0.7M368.1 581.6l-3.8 -3.9M281.9 697.5l-5.9 5.5M465.1 674.1l3.7 7.5M499.1 597.3l4.8 -6.4M506.8 626.1l7.3 -3.9M513.3 697.4l5 0.2M503.4 671.9l6.6 3.6M354.7 539.2l0.9 -8.6M460.3 614.3l4.7 -6.3M280.9 576.6l-3.4 -5.1M356.6 554.9l-6 -5.9M498.5 640.3l7 0.8M490.3 611.2l3.9 -2.7M507.5 590.7l4.3 -4.3M509.9 597.4l8.9 0.3M497.3 673.6l5.2 1.9M482 666.4l8.7 -1.9M479.3 717.2l6.2 4.1M331.6 651.3l-4.8 4M354.5 731.6l-7.2 4.8M479.7 549.6l5.2 -4.7M292.2 645.7l-3.9 -1.3M318.6 737.3l-2.5 7.8M427.8 719.6l2.1 3.5M341.6 727.2l-4.6 6.9M331.7 668l-6.9 0.7M470.2 609.5l4.7 -1.3M325.9 551.7l-6.7 -1.9M507 743.6l7.7 2.9M348 593l-3.5 -3.8M390.6 554.1l1.7 -8.4M338.8 650.2l-4.9 2.5M395.8 550.8l3 -6.5M484.6 598.5l6.6 -5.6M371.2 557.4l-3.1 -7.3M424 692.6l3.8 3.7M502.8 554.2l7.7 -0.7M368.7 725.6l-2.2 5.7M488.5 620.4l5.9 0.8M482 569.8l5.7 -1.1M513.6 618.7l6.9 -0.9M518.2 666l4.2 -0.5M502.2 632.5l7.5 -2.1M385.1 717.2l1.1 4.3M487.7 577.9l5.6 -4.7M484.5 674.4l4.9 3.9M313.9 625.6l-6.3 1.7M485.9 732.9l3.8 2M462.7 685.7l4.7 1.4M294.6 716.1l-3.5 5.7M405.1 699.7l3.4 4.6M326.1 669.3l-2.9 4.1M450.2 602l7.2 -0.2M300.3 543.5l-3.2 -4.5M391.1 706.5l-2.5 5.5M508.1 627.7l7.1 -1.3M509.3 562.3l7.3 -2.8M473 642.5l7.1 -2.7M443 590.8l2.9 -6.2M340.6 653.4l-3.3 2.8M516.5 652.9l8.9 -1M445.8 729.3l0.7 5.6M288.6 723.8l-2.6 6.5M473.9 599.3l4.6 0.3M317.8 567.9l-6.1 -5.1M457.9 700.2l4.1 6M321.8 582.1l-6.7 -5.3M478.5 570.5l4.4 -1.6M459.9 693.3l2.3 5.1M460.7 650.3l6.9 5.5M463.1 557.6l1.5 -8.4M324.1 619.6l-7 -4.8M502.7 630.7l8.7 1M288.3 742.1l-3.9 2.4M395.1 547.2l-3.1 -5.5M505.9 703.8l2.9 5.9M409.7 741.8l-1.1 4.7M288.1 668.5l-4 1.8M295.9 531.5l-2.7 -5.9M311 689.5l-7.6 -0.4M323.6 649.4l-4.8 0.9M308.2 565.2l-6.5 -2.3M316.3 557.6l-2.2 -4.9M469 664.5l2.9 4M517.4 537.6l4.3 -2.7M330.1 595.7l-6.6 -5.3M478.7 737l3 4.1M283.7 583l-2.9 -4.2M459.4 650.4l4.5 -0.2M465.8 537.9l1 -7.5M471.8 603.1l5.7 -3.6M488.9 742.4l4.6 4.8M352.7 541.9l-7.5 -4.3M354.6 715.5l-3.6 6.9M446.7 744.4l0.4 4.7M485.6 581.2l3.5 -5M321.1 734.1l-0.7 6.5M337.6 610l-5.7 -1.2M496.4 735.8l1.8 6.7M485.6 596.7l5.9 -2.9M463.5 657l6.5 4.5M373.6 542l1.1 -5.8M455.9 714.4l4.1 6.1M478.7 556.5l6.6 -2.1M425.5 730.3l4.9 7.4M447.5 721.9l5.8 4.7M402.2 709.5l-0.6 7.6M502.2 729.3l1.7 4.1M300 705.4l-5.5 3.9M310.4 642.8l-4 1.6M286.6 729.1l-1.8 4.3M514.2 547.1l6.3 -5M461.6 598l5.1 -6.7M339.7 579.5l-2.7 -4.4M356.9 549.8l-5.4 -6.3M506 536.9l6.5 -5.1M461.6 670.2l4.1 0.2M472.5 541.6l2.3 -5.4M381.3 569.7l-0.5 -6M296.5 535.2l-3.8 -6.5M436.8 692.3l0.8 6.2M373.4 568l-5.7 -5.6M323.3 546l-6.5 -5.8M492.4 533.6l0.8 -4.2M402.1 713.3l-1.3 4.6M401.5 576.8l0.3 -6.3M337.3 580.5l-2.8 -3.1M488.1 577.1l3 -5.8M482.1 588.9l4.1 -7.2M314.6 718.6l-4.2 6.1M364.9 727l-2.8 3.3M333.8 710.9l-5.9 2.3M327.7 637.3l-8.3 2.7M469.6 545.6l3.4 -6.7M345.5 609.6l-2.9 -3.1M441 554.3l6 -5.2M438.8 561.5l3.3 -3M454.5 578.3l4.8 -4.5M322.3 659.9l-6.3 1.8M310.9 571.1l-4.1 -4.7M365.2 527.8l-2.4 -5M307.2 637l-6.2 0.2M360.1 577.1l-5.7 -6.7M469.6 630.8l6.5 -4.2M492.3 636.5l7.3 -0.3M325.9 574.8l-4.6 -2.3M290.5 714.5l-2 4.1M382.5 735.9l1 8.6M285.7 663.2l-8.4 0.5M444 547.3l5.4 -5.9M356.6 587.7l-6.9 -5.7M314.1 611l-4.1 -0.6M382.5 713.5l-0.3 6.9M440.4 574.9l-0.1 -5.4M501.9 577.9l4 -2.3M389.8 718.6l-2.9 5.2M489.2 564.9l7.6 -1.4M344.9 533.2l-5.8 -6.6M427.7 569.4l2.9 -6.4M507.1 547.3l2.2 -5.4M303.3 687.2l-4 4.4M300.4 606l-6 -6.6M367.4 556.3l-4 -6M435.8 532.8l2.5 -7.8M513.5 705.2l5.5 4M370.9 532.6l1.4 -7.5M385.3 712.3l-3.2 3.5M481.6 605.8l8.6 -1.5M503.9 736l5.5 2.5M369.7 558.7l-6.5 -5.2M448.6 733.8l3.8 2.5M496.6 696.3l5.1 5.5M465.3 680l6.1 4M339.4 584.9l-3.8 -6.5M507.9 611.7l7 -2.4M323.4 580.4l-4 -4.7M372.9 740.7l-1.8 7.1M400.3 737.1l1.7 3.8M356.6 736.7l-0.9 6.2M490.7 527.5l0.8 -4.6M351 587.4l-6.7 -5.3M372.8 720.6l-2 4.4M390.5 738.7l-0.9 8.1M388.6 719.7l-4.7 7.2M462.2 659.2l2.6 3.2M465.1 699.9l3.2 3.4M500.6 618.6l7.2 0.5M459.9 742.8l2.6 3.3M312.1 684.9l-4.9 2.5M340 686.7l-7.5 3.7M305.6 572.1l-6.2 -4.8M298.1 670.5l-4 0.7M315.1 564.4l-6.3 -1.1M295.1 600.2l-6.2 0.4M483.2 567.1l6.6 -5.7M455.2 566.7l4.4 -1.7M287.6 547.2l-3.1 -6.5M332.7 531.5l-4.4 -7.2M429.5 735.1l5.4 4.7M374.2 561.5l-6 -5.7M326.9 660.5l-3.7 2.6M469.4 620.7l3.4 -3.5M290 582l-4.4 -0.8M500.7 538.3l2.8 -4.8M489.2 696.1l3.1 3.4M471.4 629.1l4.3 1.2M339.3 583.6l-6.4 -1.2M351.8 574.3l-3.9 -1.9M502.2 623.5l7.5 1.1M329.4 554.7l-4 -4.5M341.9 564.7l-5.1 -6.1M402.1 553.4l1 -8.5M489.4 721.9l6.8 3.2M283.6 534.5l-4.4 -1.8M466.3 603.1l2.8 -3.2M406.9 730.9l2.7 3.7M389.9 708.2l-0.1 7.9M321.1 729.4l-3.8 7.5M426.2 713.5l4.5 7.1M346 555.7l-4.9 -6.8M304 628.9l-6.6 0.7M506.9 549.4l2.1 -4.1M359.9 576.6l-5.1 -5M358.6 536.7l-3.5 -6.4M355.5 563.5l-2.1 -3.7M496.4 576.2l5.1 -0.8M464.2 684.7l5.4 6M307.6 736.6l-8.2 2M461.2 742.7l0.1 4.3M364 694.4l-4.5 4.2M315.3 700.6l-1.8 4.9M317.5 557l-4.8 -2.3M305.5 643.1l-5.5 -0.8M473.8 661.9l4.4 2.6M471.3 644.4l3.6 -1.8M422.4 574.9l1.9 -4.2M337 537.7l-4.5 -3.1M354.5 686.4l-2.6 3.6M465.8 704.4l6 3M316.2 719.5l-5.6 6.3M461.1 623.4l3.6 -3.6M433.9 547.7l3.6 -8.2M465.8 663l6.6 4.5M463.6 694.2l8.1 1.8M484.9 617l6 0.3M329.5 689.4l-5.5 4.7M334.9 682.9l-3.8 2.1M496 587.2l3.5 -5.1M419.1 551.4l-1.6 -7.1M405.2 740.1l0.6 7.4M491.2 566.8l8.4 -1M292.4 670.6l-6.2 5.8M409.4 698.6l1.6 7.6M488.2 672l6.6 1.9M472.3 592l5 -1.6M297.1 569.8l-4.2 -4M340.2 623.5l-7.4 -0.8M492.6 670.1l5.3 0.4M470.3 681.1l3.1 4M489.8 649.7l3.7 1.8M364 715.9l-2.4 5.2M303.9 631.4l-5.1 0.7M385.7 713.7l-3.2 4.8M306.9 570.4l-4.4 -7.1M288.1 596.1l-5.1 -4.6M484.9 668.1l8.1 -1.2M503 741.2l6.1 2.6M509.7 533.1l6.2 -3.3M373.7 559.8l-3.2 -4.2M396.5 543.9l-1.2 -5.1M413 717.6l2.3 5.4M298 549.1l-2.3 -3.6M283.4 643.5l-8.2 0.6M492.1 659.9l4.4 0.8M452.2 540.4l2.8 -5M459.4 654.5l8.7 -1.5M425.8 565.1l1.2 -7M500.6 598.8l7.2 1M362.6 726.9l-2.5 6.4M450.7 711.1l5.6 3.8M512.2 545.2l3.7 -7.7M517.8 531.3l5.6 -1.7M320.7 598.9l-6 -4.8M489.6 743.5l2.4 3.6M292.5 528.9l-3.5 -2.7M505.2 624.9l6.4 -5.2M340.2 705.8l-2.4 7.7M281.5 642.4l-6.3 3M498.8 634.5l5.2 -1.7M308.5 735.6l-3.4 3.9M469.1 573.5l1.9 -6.2M500.2 556.8l2.2 -5.3M335.9 713.3l-2.2 3.9M512.2 691.4l2.9 3.4M301.6 725.3l-4.9 2.3M310.4 585.4l-5.9 -0.5M420.2 743l4 8M308.2 659.9l-5.8 0.4M316.7 546.2l-2.3 -3.9M294.1 623l-6.7 0.5M483.2 675.3l7.2 1.1M472.6 608.6l4 -1.5M484.1 707.2l5.2 2.2M485.1 576.3l3.4 -2.8M368.4 701.1l-4.2 5.4M459.8 688.3l5.3 1.1M484.7 688.7l4.8 0.3M442.4 694l5.3 3.7M362.7 558.5l-4.5 -5.3M414.3 716.2l3.4 6.4M336.2 614.7l-6.8 -0.8M318.3 604.3l-6.4 1.4M285.4 683.8l-4.2 0.2M480.1 552.4l7.5 -1.7M280.7 628.3l-6.1 1.9M405.9 713.2l-0.5 6M510.4 657l3.7 1.8M501.7 572.8l4.3 -6.7M477.6 651.6l5.3 0.6M463.9 737.6l4.6 4.5M514.8 614.6l4.7 -0.2M503 607l4.9 -0.6M381.2 558.2l-0.1 -5.6M480.1 739.7l2.2 7.5M509.6 743.2l5.3 2.3M319.7 542.4l-2.6 -3.2M423.5 568.5l2.6 -7.6M493.3 565.9l4.7 -5.4M514 610.7l6.8 -2.5M465.6 606.4l4.4 -3.7M482.8 702.8l3.7 3.6M492 631.2l6.8 -4.4M292.4 571.6l-3.7 -2.8M309.3 537.5l-2.9 -7.3M411.7 535.3l3.8 -5M308.1 530.6l-4.2 -3.4M500 582.7l6 -0.7M298.2 676.3l-7.4 4.9M354.9 544.6l0 -7.7M376 712.5l-4.1 5.8M318.2 660.7l-5.1 4.7M471.1 622.1l6.4 0.2M505.5 535.5l4.4 -7.8M503.5 628.8l7.1 -1.9M320.4 534.7l-5 -3.3M288.5 568.5l-5.3 -3.3M347.3 544.4l-7.8 -3.8M321.2 621.8l-5.9 0.8M283.6 532l-3.5 -7.7M327 657.3l-4 -0.9M457.2 550.3l4.7 -4.4M282.3 636.9l-5.8 2.8M317.9 532.9l-1.5 -4.1M514 669.9l7.2 4M395.2 560.8l-2.3 -6.5M429.7 547.2l5.2 -6.2M504.5 731.2l1.5 6.1M327.3 635.4l-5.3 -2.2M315 540.5l-1.1 -8.6M317.6 726.8l-2.1 7.4M471 714.8l7.6 3.7M459.3 613l7.3 0.4M356.4 717.6l-4.4 4.6M500.8 538.1l3.7 -2.5M465.6 615.6l5.7 -0.9M340.2 732l-7.2 4.2M457.2 590.7l2.8 -4.2M486 580.2l4.7 -1.7M474.2 569.4l4.1 -3.4M507.3 623.2l8.1 -0.5M471.2 641.2l6.9 -2.4M344.1 723.9l-0.1 6.1M453.2 721.3l1.1 7.9M282 538.6l-6.8 -3.5M508.6 713.5l5.1 0.8M441.1 568.6l6.5 -5.7M403.9 551.1l1.7 -6.5M418.3 742.2l4.4 7.8M301.9 698.7l-5.6 2.6M334.5 732.3l-4.7 6.4M325.8 668.9l-3.4 3.9M447.1 548.5l4.7 -2.7M395.3 555.2l-2.2 -7.3M288.8 531.4l-3.1 -3.4M460.5 587.6l2.8 -3.7M469.7 692.9l5.2 1.5M341 618.8l-4.5 -1M458.3 549.9l3 -5.3M293.8 697.6l-6.2 -0.3M490.2 644l7.5 0.9M494.2 600.2l8.2 -1.3M475.6 535.2l4.6 -7.2M362.8 545.2l-3.3 -5M291.9 613.1l-8.8 -1.2M430.3 714.5l2.3 4.5M463.8 657.3l7.1 -0.3M293.7 705.6l-6.4 6.3M442.6 548.8l3.1 -2.5M481.9 692l4.6 6M462.1 705.9l4.7 3.3M465.7 611.1l4.2 -2.5M364.2 557.5l-1.5 -4.1M335.9 647l-6.2 2.9M345.2 537.7l-4.3 -2.5M421.6 723.9l1.3 6.5M498.4 564.5l5.6 -2.2M313.5 660.9l-7.4 1.9M487.9 608.7l6.5 -1.9M298.5 617.8l-5.1 -2M327.1 536.2l-0.4 -4M467.8 565.6l1.7 -8.4M484.2 685.5l2.2 4.5M357.4 721.8l-5.1 3.9M311.2 628.1l-5.9 -0.8M507.6 569.1l4 -5.2M322.6 657.9l-6.5 0.9M409 700.2l2.6 8.3M515.4 678.6l8.3 -2M285.8 735.2l-2.1 4.8M289.5 681.3l-4.6 1.5M440.6 725.5l3.4 5M465.2 714.8l3.9 4.4M348.7 547.7l-5.9 -3M341.3 619.7l-4.1 -4.9M378.1 717.3l-1.9 6.2M430.1 732.9l0.9 6.4M477.2 562.6l2.1 -4.5M512.2 638.4l4.2 -1.7M365.3 733.2l-2.6 3.2M482.4 596l6.3 -2.3M322.9 636.5l-6.3 -3.2M487.2 652.5l7.7 -1.1M314.6 652.9l-6.1 1.5M320 554.9l-3.7 -7.6M485.1 682.5l4.8 5.9M298.2 584.9l-5.2 -0.4M456 741.4l3.4 6M447.7 685.6l5 5.5M324.7 548.5l-0.8 -4M374.2 740.9l0.3 5M355.4 532.9l0.5 -7.8M386.6 575.6l2.2 -6.1M494.5 721.1l5.3 2.9M429.8 723.6l2.3 5.7M466.5 618.5l6 -1.9M478.3 638.7l5 1M355.5 728.1l-2.4 4.8M321.2 559l-1.9 -7.3M503.7 557.6l4.1 -5.3M338 666.9l-7.1 3.9M477.9 703.7l8.6 1.2M357 689.2l-2.9 7.8M309.5 623l-7.4 -1.2M476.2 713l1.3 5.5M346.7 701l-3.8 3.4M370.2 700.4l-4.7 5.1M307.5 604.9l-4.4 -3.6M493.7 654.6l5.7 3.1M396.6 738.6l-3.6 5.5M415.6 537l-1.3 -3.8M496 660.4l7.3 1.7M285 623.3l-6.4 0.7M309.7 635.8l-4.2 -0.7M479 631.9l6.2 -3.8M337.3 628.4l-5.7 2.2M440.2 537.5l0.4 -4.6M464 548.8l6.2 -2.5M463.8 656.1l4 3.7M502.7 712l2.7 4.8M390.3 722.5l0.3 7.9M427.4 691.6l2.8 4.5M500.6 734.2l7.6 3.6M483.2 730.3l4.9 1.7M496.6 732.6l5 1.3M284.3 744.3l-3.2 2.8M491 540.5l2.7 -7.7M489.7 730.3l5.3 2.3M315 535.8l-5.8 -3.8M469 697.7l4.8 1.1M372 725.9l-6.4 5.8M323.3 626l-6.5 2.6M462.2 695.5l5.8 4.1M284.7 604.3l-4.4 -1.8M470.3 603.8l8.6 -2.7M440.8 687.6l5.4 5.7M378.5 730.1l0.1 6.5M452.8 667.7l4.8 5M445.6 692l2.6 4.8M394.4 551.3l-4 -6.8M336.3 561.4l-5.7 -6.2M501.3 643l6 2.4M405 573.7l-0.4 -4.9M352.8 554.1l0.3 -5.8M324.7 653.6l-4.4 0M437.2 727.1l3.7 6.1M513.6 585.7l5.1 -0.7M504.9 726.6l4.7 4.2M352.6 727.6l-4.6 3.8M294.7 535.6l-6.8 -2.9M380.6 732.8l0.6 7.4M389.8 705.7l1.7 7M487.6 677.9l7.6 4.4M349.8 539.4l-3.3 -5.1M399.5 529.2l-4.3 -6.3M481.8 561.1l5.2 -6.2M463.2 567.5l5 -5.2M294.9 599.2l-5.5 -6.6M433.5 563.4l0.7 -4.1M433.8 706l5.5 4.1M283.6 590.4l-6 -3.8M437.7 725.2l0.8 8.3M396.6 528.4l-2.2 -5.2M291.2 560.5l-3.7 -3.6M420.5 704.4l2.6 6M359.3 701.4l-5.4 2.4M358.9 697.5l-2.9 6.8M357.9 533.2l1.1 -5.9M310.7 576.4l-7.8 -3.5M309.7 567.2l-3 -6.3M316.8 718.1l-5.4 7M502.2 590.2l5.5 -4.3M306.5 535.9l-7.8 -2.5M368.9 737.7l-3.1 3.5M417.6 559.6l5 -6.9M290.7 714.9l-6.8 0.8M415.2 734.5l2.7 4.8M454.9 744.5l2.7 8.2M347 729.9l-3.6 2M516.7 723.8l3.5 6.5M498.7 577l5.6 -3.8M365.4 693.9l-6 5.5M282 558.7l-2.8 -4.5M374.6 556.7l-2.1 -4.8M370.1 717.5l-2.5 5.7M423.8 535.4l4.8 -6.8M503.7 646.8l6.3 4.1M475.8 537.9l4 -7.1M285 650.9l-3.7 -1.6M499.6 621.8l7.5 -2.4M517.6 719.1l6.2 3.9M436.7 530.1l-1.4 -5.3M491.2 697.6l5.6 1.7M518.5 633.2l4.1 -0.8M450.1 685l6.9 4M445.2 741.9l-1 8.7M465.5 627.8l5.2 -4.4M381.3 555.9l-0.5 -6.4M366.1 579.2l-4.7 -6.3M307.2 702.4l-3.5 2.6M368.3 723.1l-1.3 7.6M432.4 576.4l6.5 -3.9M282.6 619.8l-5.8 -4M294.7 665.6l-5.7 5M309.3 561.1l-4.3 -4.4M315.5 625.8l-6.6 -1.6M460.7 641.8l6.7 -1.5M491 654.4l6.1 1.3M477 593.9l4.6 -1.5M356.4 552.9l-0.3 -8.9M427.5 577.2l2.8 -3M456.8 596.9l5.3 -1.3M372.4 724.2l1.1 6.9M311.5 542.8l-3 -5.1M408.3 726.2l-0.6 4M474.1 542.5l4.9 -2.6M321.2 626.5l-5.4 -0.1M510.2 621.6l4.6 0.2M444.4 536.2l-1.2 -7.4M281.3 689.2l-4.5 7.1M424.1 539.4l2.9 -3.2M329.1 726.8l-0.6 4.1M484.1 693.8l7.3 2M359.9 577.3l-6.2 -2.9M334.9 649.3l-7.1 0.4M494.2 734.1l3 6.5M515.3 556.9l5 -7.1M395 531.5l-1.6 -4.6M461.3 540.1l1.9 -4.1M375.1 568.1l-3.3 -8M435.5 711.8l2.9 2.8M360.2 691.1l-3.3 5.2M386.8 740l-1.6 6.2M427.4 558.7l3 -4.1M314.4 551.8l-4.7 -4.2M489.3 661.5l4.9 1.5M445.4 685l6.8 5M479 642.3l7 5.4M382.3 550.2l0 -4.8M492.5 665.9l6.6 3.8M337.1 700.5l-6 6M352.9 583l-6.2 -6.1M288.5 713.3l-7.2 0.7M443.1 707.7l3.2 4.9M340.6 529.2l-3.8 -3.2M378.8 567.4l-4.3 -4M284 551.6l-7.2 -2M282.6 736.3l-7 3.4M328.9 544.8l-7 -3.5M495.1 656.3l8.7 1.8M379.5 723.3l-3.4 4.4M503.8 686.1l7.3 1M497.4 694.8l6.4 -0.3M366.9 583l-6.1 -4.6M322.1 720.3l-6.2 2.5M514.2 573.7l2.2 -4M314.4 686.1l-5.9 4.7M305.6 643.7l-7.6 -3.5M402.5 730.3l-0.6 4.7M412.4 572.2l-0.8 -6.6M301 533l-3 -5.5M499.5 683.1l7.2 -0.1M462.2 573.3l6 -4.1M509.8 614.8l6.9 -1M419.7 556.7l-1.5 -7.5M331.3 669.9l-3.6 5.3M331.7 605.3l-4.8 -5.8M396.6 550.9l0.6 -5M330.8 717l-6.6 2.5M388.3 540.9l0.2 -7.7M337.7 693.6l-7.4 3.7M444 702.8l4 5M435.7 544.5l2.8 -6.2M316 605.7l-6.6 -2.9M480.3 562.5l7.3 -3.7M310.2 539.7l-7.5 -2.7M489.1 613.4l7 -4.4M513.5 688.9l4.7 1.2M373.6 700.8l-0.7 8.7M456.3 684.8l5.1 7.4M411.1 560.3l0.6 -6M475.8 591.3l5.3 -3.7M343.6 571.6l-5.3 -3.5M426.8 566.1l3.3 -2.7M359.2 740.7l-2.6 3.3M303.9 677.6l-5.4 5.2M509 565.7l5.3 -7.2M374.8 549.1l1.8 -5.5M421.4 697.4l-1.3 4.9M319.6 737.3l-4.9 2.6M516.4 608.9l5.6 -1.9M291.7 561.5l-8.6 -0.4M326.7 735.2l-4.2 5.3M299.1 588.5l-7.9 -3.2M488.3 679.6l5.5 3.4M461.7 603.1l5.8 -3M451.9 566.3l5.3 -3.3M425 742.2l1.2 4.8M451.3 564.7l4.3 -5.4M432.7 734.5l-1.7 7.3M291.5 536.4l-1.5 -4M482.5 571.8l6.7 -3.9M330.5 641.5l-8.4 1.4M481 538.3l4.6 -2.5M448 585.9l3.8 -4.1M473.7 635.9l4.9 -3.2M402 556.8l4 -7M302.1 583.7l-4.9 -5.6M312 604.5l-5.8 -4.1M405.4 702.5l3.6 5.3M409.3 734.7l3.3 7.4M441.6 696l3.9 8.1M431.4 543.3l3.1 -4.8M373 565l1.1 -8.2M455.7 663.8l5.9 2.8M291 672.3l-6.7 3.1M297.3 719.3l-6.9 1.4M347.2 604.9l-3.7 -2.6M357.3 568.8l-1.8 -8.2M453.1 712.9l3.8 1.5M511.2 588.9l6.1 0M477.4 571.8l2.3 -6.3M450.9 543.9l2.9 -6.7M405.8 567.8l3.9 -5.5M401.4 575.1l-2.1 -5.8M517.9 529l4.6 -5.3M323.6 580.2l-7.6 -4.3M468.6 624.2l6.3 2.5M308 684.6l-6 1.9M295.8 687.8l-4.4 2M488.3 675.3l4.6 2.1M426.7 533.6l4.9 -5.9M302.3 658.4l-4.7 -1.5M452.9 532.2l5.4 -3.1M472.5 685.3l2.2 5.3M293.2 660.6l-4.5 3.8M443.8 683.6l1.6 3.9M430.3 723.4l2.6 4M458.6 688.5l7.2 2M396.9 732.8l3.8 6.8" stroke="#c8f8d0" stroke-opacity="0.35" stroke-width="0.8" fill="none"/><path d="M392.9 544L390.4 527.3M395 544L393.3 525.4M397.2 544L396.1 524.1M399.3 544L399 524.9M401.5 544L401.8 523.4M403.6 544L404.7 524.1M405.8 544L407.5 527.4M407.9 544L410.4 525.2" stroke="#1e5a2a" stroke-opacity="0.8" stroke-width="1" fill="none"/><path d="M394 544L391.8 526.6M396.1 544L394.7 522.7M398.3 544L397.5 522.5M400.4 544L400.4 527M402.5 544L403.3 526.3M404.7 544L406.1 526.6M406.8 544L409 525.3" stroke="#d8ffe0" stroke-opacity="0.5599999999999999" stroke-width="0.9" fill="none"/><path d="M392.9 730L390.4 751.1M395 730L393.3 750.6M397.2 730L396.1 750.3M399.3 730L399 748M401.5 730L401.8 751.8M403.6 730L404.7 750.3M405.8 730L407.5 751.8M407.9 730L410.4 749.7" stroke="#1e5a2a" stroke-opacity="0.8" stroke-width="1" fill="none"/><path d="M394 730L391.8 749M396.1 730L394.7 750.1M398.3 730L397.5 747.4M400.4 730L400.4 751.8M402.5 730L403.3 749.9M404.7 730L406.1 747.3M406.8 730L409 751.5" stroke="#d8ffe0" stroke-opacity="0.5599999999999999" stroke-width="0.9" fill="none"/><path d="M307.4 629.5L290.7 627M307.4 631.6L289.6 629.9M307.4 633.8L289.6 632.7M307.4 635.9L289.5 635.6M307.4 638.1L289.5 638.4M307.4 640.2L289.2 641.3M307.4 642.4L285.7 644.1M307.4 644.5L285.8 647" stroke="#1e5a2a" stroke-opacity="0.8" stroke-width="1" fill="none"/><path d="M307.4 630.6L286.3 628.4M307.4 632.7L286.8 631.3M307.4 634.9L287.3 634.1M307.4 637L288.3 637M307.4 639.1L286.7 639.9M307.4 641.3L286.3 642.7M307.4 643.4L286.3 645.6" stroke="#d8ffe0" stroke-opacity="0.5599999999999999" stroke-width="0.9" fill="none"/><path d="M493.4 629.5L511.9 627M493.4 631.6L515.2 629.9M493.4 633.8L513.2 632.7M493.4 635.9L513.3 635.6M493.4 638.1L511.3 638.4M493.4 640.2L514.7 641.3M493.4 642.4L515.4 644.1M493.4 644.5L514.1 647" stroke="#1e5a2a" stroke-opacity="0.8" stroke-width="1" fill="none"/><path d="M493.4 630.6L514.1 628.4M493.4 632.7L512.1 631.3M493.4 634.9L515.4 634.1M493.4 637L513.7 637M493.4 639.1L512 639.9M493.4 641.3L512.8 642.7M493.4 643.4L514.6 645.6" stroke="#d8ffe0" stroke-opacity="0.5599999999999999" stroke-width="0.9" fill="none"/><path d="M424.3 591.5L445.3 597.1L439.7 618.1L418.7 612.5ZM418.7 661.5L439.7 655.9L445.3 676.9L424.3 682.5ZM355.5 597.1L376.5 591.5L382.1 612.5L361.1 618.1ZM361.1 655.9L382.1 661.5L376.5 682.5L355.5 676.9ZM412.6 574.8h21.8v21.8h-21.8ZM412.6 677.4h21.8v21.8h-21.8ZM366.4 574.8h21.8v21.8h-21.8ZM366.4 677.4h21.8v21.8h-21.8ZM441.2 604.4h21.8v21.8h-21.8ZM441.2 647.8h21.8v21.8h-21.8ZM337.8 604.4h21.8v21.8h-21.8ZM337.8 647.8h21.8v21.8h-21.8ZM411.6 556.9h21.8v21.8h-21.8ZM411.6 695.3h21.8v21.8h-21.8ZM367.4 556.9h21.8v21.8h-21.8ZM367.4 695.3h21.8v21.8h-21.8ZM459.7 604.4h21.8v21.8h-21.8ZM459.7 647.8h21.8v21.8h-21.8ZM319.3 604.4h21.8v21.8h-21.8ZM319.3 647.8h21.8v21.8h-21.8ZM438.6 577.2L460.2 580.2L457.2 601.8L435.6 598.8ZM435.6 675.2L457.2 672.2L460.2 693.8L438.6 696.8ZM340.6 580.2L362.2 577.2L365.2 598.8L343.6 601.8ZM343.6 672.2L365.2 675.2L362.2 696.8L340.6 693.8ZM434.9 559h21.8v21.8h-21.8ZM434.9 693.2h21.8v21.8h-21.8ZM344.1 559h21.8v21.8h-21.8ZM344.1 693.2h21.8v21.8h-21.8ZM456.6 581.6h21.8v21.8h-21.8ZM456.6 670.6h21.8v21.8h-21.8ZM322.4 581.6h21.8v21.8h-21.8ZM322.4 670.6h21.8v21.8h-21.8ZM455 560.6h21.8v21.8h-21.8ZM455 691.6h21.8v21.8h-21.8ZM324 560.6h21.8v21.8h-21.8ZM324 691.6h21.8v21.8h-21.8ZM435.5 626.1h21.8v21.8h-21.8ZM343.5 626.1h21.8v21.8h-21.8ZM389.5 580.1h21.8v21.8h-21.8ZM389.5 672.1h21.8v21.8h-21.8ZM454.5 626.1h21.8v21.8h-21.8ZM324.5 626.1h21.8v21.8h-21.8ZM389.5 561.1h21.8v21.8h-21.8ZM389.5 691.1h21.8v21.8h-21.8ZM473.5 626.1h21.8v21.8h-21.8ZM305.5 626.1h21.8v21.8h-21.8ZM389.5 542.1h21.8v21.8h-21.8ZM389.5 710.1h21.8v21.8h-21.8Z" fill="#9cdea2"/><circle cx="400.4" cy="637" r="44" fill="#fcfcff"/><path d="M407.4 636.8l1.5 0M412.8 636.6l1.5 0M418.2 636.4l1.5 0M423.6 636.3l1.5 0M429 636.1l1.5 0M434.4 635.9l1.5 0M439.8 635.8l1.5 0M409.5 640.3l1.4 0.5M414.6 642.1l1.4 0.5M419.7 643.9l1.4 0.5M424.8 645.7l1.4 0.5M429.9 647.5l1.4 0.5M435 649.3l1.4 0.5M406.1 641l1.2 0.9M410.6 644.1l1.2 0.9M415 647.2l1.2 0.9M419.4 650.3l1.2 0.9M423.8 653.4l1.2 0.9M428.2 656.5l1.2 0.9M432.7 659.6l1.2 0.9M406.4 644.6l0.9 1.2M409.7 648.9l0.9 1.2M413 653.2l0.9 1.2M416.3 657.4l0.9 1.2M419.7 661.7l0.9 1.2M423 665.9l0.9 1.2M402.3 643.7l0.4 1.4M403.8 648.9l0.4 1.4M405.3 654.1l0.4 1.4M406.7 659.3l0.4 1.4M408.2 664.5l0.4 1.4M409.7 669.7l0.4 1.4M411.2 674.9l0.4 1.4M400.3 646.7l0 1.5M400.2 652.1l0 1.5M400.1 657.5l0 1.5M400 662.9l0 1.5M400 668.3l0 1.5M399.9 673.7l0 1.5M398.4 643.7l-0.4 1.4M396.9 648.9l-0.4 1.4M395.4 654.1l-0.4 1.4M393.9 659.3l-0.4 1.4M392.4 664.5l-0.4 1.4M390.9 669.6l-0.4 1.4M389.4 674.8l-0.4 1.4M394.9 645l-0.9 1.2M391.8 649.4l-0.9 1.2M388.8 653.9l-0.9 1.2M385.7 658.3l-0.9 1.2M382.6 662.8l-0.9 1.2M379.6 667.2l-0.9 1.2M394.8 641.2l-1.2 0.9M390.5 644.4l-1.2 0.9M386.1 647.7l-1.2 0.9M381.8 650.9l-1.2 0.9M377.5 654.1l-1.2 0.9M373.2 657.4l-1.2 0.9M368.8 660.6l-1.2 0.9M391.1 639.7l-1.4 0.4M385.9 641.2l-1.4 0.4M380.7 642.8l-1.4 0.4M375.5 644.3l-1.4 0.4M370.4 645.8l-1.4 0.4M365.2 647.3l-1.4 0.4M393.4 636.9l-1.5 0M388 636.8l-1.5 0M382.6 636.7l-1.5 0M377.2 636.6l-1.5 0M371.8 636.5l-1.5 0M366.4 636.4l-1.5 0M361 636.4l-1.5 0M391.1 634.1l-1.4 -0.4M386 632.5l-1.4 -0.4M380.8 630.9l-1.4 -0.4M375.7 629.3l-1.4 -0.4M370.5 627.6l-1.4 -0.4M365.4 626l-1.4 -0.4M394.6 633.1l-1.2 -0.8M390.2 630l-1.2 -0.8M385.7 627l-1.2 -0.8M381.2 623.9l-1.2 -0.8M376.8 620.9l-1.2 -0.8M372.3 617.8l-1.2 -0.8M367.8 614.8l-1.2 -0.8M394.6 629.2l-0.9 -1.2M391.4 624.8l-0.9 -1.2M388.2 620.5l-0.9 -1.2M385 616.1l-0.9 -1.2M381.8 611.8l-0.9 -1.2M378.6 607.4l-0.9 -1.2M398.4 630.3l-0.4 -1.4M396.9 625.1l-0.4 -1.4M395.4 619.9l-0.4 -1.4M393.8 614.8l-0.4 -1.4M392.3 609.6l-0.4 -1.4M390.8 604.4l-0.4 -1.4M389.2 599.2l-0.4 -1.4M400.4 627.3l0 -1.5M400.4 621.9l0 -1.5M400.5 616.5l0 -1.5M400.5 611.1l0 -1.5M400.5 605.7l0 -1.5M400.5 600.3l0 -1.5M402.6 630.4l0.5 -1.4M404.3 625.2l0.5 -1.4M406 620.1l0.5 -1.4M407.7 615l0.5 -1.4M409.4 609.8l0.5 -1.4M411.1 604.7l0.5 -1.4M412.8 599.6l0.5 -1.4M406.4 629.4l0.9 -1.2M409.7 625.1l0.9 -1.2M413.1 620.9l0.9 -1.2M416.4 616.6l0.9 -1.2M419.7 612.4l0.9 -1.2M423.1 608.2l0.9 -1.2M406.2 633.1l1.2 -0.8M410.7 630.1l1.2 -0.8M415.2 627.1l1.2 -0.8M419.6 624l1.2 -0.8M424.1 621l1.2 -0.8M428.6 618l1.2 -0.8M433.1 615l1.2 -0.8M409.7 634.2l1.4 -0.4M414.9 632.7l1.4 -0.4M420 631.1l1.4 -0.4M425.2 629.6l1.4 -0.4M430.4 628l1.4 -0.4M435.6 626.5l1.4 -0.4" stroke="#5056bc" stroke-width="1.2" fill="none"/><g transform="rotate(15 432 604.8)"><rect x="422.7" y="595.5" width="18.6" height="18.6" fill="#b4525c"/><path d="M426.4 595.5v18.6M422.7 599.2h18.6M430.1 595.5v18.6M422.7 602.9h18.6M433.9 595.5v18.6M422.7 606.7h18.6M437.6 595.5v18.6M422.7 610.4h18.6" stroke="#fff" stroke-opacity="0.36" stroke-width="0.85"/><path d="M430.9 600.5l3.1 -4.9M433.1 601.4l2.1 -3.3M427.4 608.8l2.7 -1.7M425 605.5l1.2 -3.1M438.4 598.9l4.3 -2.3M428.8 605.6l2.1 -3.5M427.6 598.4l3.6 -2.5" stroke="#6a1420" stroke-opacity="0.6" stroke-width="0.9"/></g><g transform="rotate(-15 432 669.2)"><rect x="422.7" y="659.9" width="18.6" height="18.6" fill="#b4525c"/><path d="M426.4 659.9v18.6M422.7 663.6h18.6M430.1 659.9v18.6M422.7 667.3h18.6M433.9 659.9v18.6M422.7 671.1h18.6M437.6 659.9v18.6M422.7 674.8h18.6" stroke="#fff" stroke-opacity="0.36" stroke-width="0.85"/><path d="M429.7 675.3l2.2 5.2M439.3 665.5l4.6 1.1M427.6 670.4l2.4 4.8M437 664l4.1 1M429.6 667.5l3.4 2M433 666.3l2.8 3.2M429.3 668.5l3 2.9" stroke="#6a1420" stroke-opacity="0.6" stroke-width="0.9"/></g><g transform="rotate(-15 368.8 604.8)"><rect x="359.5" y="595.5" width="18.6" height="18.6" fill="#b4525c"/><path d="M363.2 595.5v18.6M359.5 599.2h18.6M366.9 595.5v18.6M359.5 602.9h18.6M370.7 595.5v18.6M359.5 606.7h18.6M374.4 595.5v18.6M359.5 610.4h18.6" stroke="#fff" stroke-opacity="0.36" stroke-width="0.85"/><path d="M364.9 598.6l-2.4 -2.1M367.8 606.7l-2.3 -3.3M365.5 598.9l-3.3 -1.3M371.4 604.1l-1.8 -3.9M374.6 598l-0.6 -3.9M362.4 605.7l-3.2 -1.9M371.6 597.7l-2.6 -4.1" stroke="#6a1420" stroke-opacity="0.6" stroke-width="0.9"/></g><g transform="rotate(15 368.8 669.2)"><rect x="359.5" y="659.9" width="18.6" height="18.6" fill="#b4525c"/><path d="M363.2 659.9v18.6M359.5 663.6h18.6M366.9 659.9v18.6M359.5 667.3h18.6M370.7 659.9v18.6M359.5 671.1h18.6M374.4 659.9v18.6M359.5 674.8h18.6" stroke="#fff" stroke-opacity="0.36" stroke-width="0.85"/><path d="M373.5 662.6l-1.7 2.7M363.3 667l-4.1 3.2M362.8 669.9l-5 1.5M375.8 672.9l-1.2 4.8M372.3 667.2l-4.1 1.5M371.8 666.2l-3.3 4.5M370.4 676.2l-1.1 3.6" stroke="#6a1420" stroke-opacity="0.6" stroke-width="0.9"/></g><g><rect x="414.2" y="576.4" width="18.6" height="18.6" fill="#e4747c"/><path d="M417.9 576.4v18.6M414.2 580.1h18.6M421.6 576.4v18.6M414.2 583.8h18.6M425.4 576.4v18.6M414.2 587.6h18.6M429.1 576.4v18.6M414.2 591.3h18.6" stroke="#fff" stroke-opacity="0.36" stroke-width="0.85"/></g><g><rect x="414.2" y="679" width="18.6" height="18.6" fill="#e4747c"/><path d="M417.9 679v18.6M414.2 682.7h18.6M421.6 679v18.6M414.2 686.4h18.6M425.4 679v18.6M414.2 690.2h18.6M429.1 679v18.6M414.2 693.9h18.6" stroke="#fff" stroke-opacity="0.36" stroke-width="0.85"/></g><g><rect x="368" y="576.4" width="18.6" height="18.6" fill="#e4747c"/><path d="M371.7 576.4v18.6M368 580.1h18.6M375.4 576.4v18.6M368 583.8h18.6M379.2 576.4v18.6M368 587.6h18.6M382.9 576.4v18.6M368 591.3h18.6" stroke="#fff" stroke-opacity="0.36" stroke-width="0.85"/></g><g><rect x="368" y="679" width="18.6" height="18.6" fill="#e4747c"/><path d="M371.7 679v18.6M368 682.7h18.6M375.4 679v18.6M368 686.4h18.6M379.2 679v18.6M368 690.2h18.6M382.9 679v18.6M368 693.9h18.6" stroke="#fff" stroke-opacity="0.36" stroke-width="0.85"/></g><g><rect x="442.8" y="606" width="18.6" height="18.6" fill="#e4747c"/><path d="M446.5 606v18.6M442.8 609.7h18.6M450.2 606v18.6M442.8 613.4h18.6M454 606v18.6M442.8 617.2h18.6M457.7 606v18.6M442.8 620.9h18.6" stroke="#fff" stroke-opacity="0.36" stroke-width="0.85"/></g><g><rect x="442.8" y="649.4" width="18.6" height="18.6" fill="#e4747c"/><path d="M446.5 649.4v18.6M442.8 653.1h18.6M450.2 649.4v18.6M442.8 656.8h18.6M454 649.4v18.6M442.8 660.6h18.6M457.7 649.4v18.6M442.8 664.3h18.6" stroke="#fff" stroke-opacity="0.36" stroke-width="0.85"/></g><g><rect x="339.4" y="606" width="18.6" height="18.6" fill="#e4747c"/><path d="M343.1 606v18.6M339.4 609.7h18.6M346.8 606v18.6M339.4 613.4h18.6M350.6 606v18.6M339.4 617.2h18.6M354.3 606v18.6M339.4 620.9h18.6" stroke="#fff" stroke-opacity="0.36" stroke-width="0.85"/></g><g><rect x="339.4" y="649.4" width="18.6" height="18.6" fill="#e4747c"/><path d="M343.1 649.4v18.6M339.4 653.1h18.6M346.8 649.4v18.6M339.4 656.8h18.6M350.6 649.4v18.6M339.4 660.6h18.6M354.3 649.4v18.6M339.4 664.3h18.6" stroke="#fff" stroke-opacity="0.36" stroke-width="0.85"/></g><g><rect x="413.2" y="558.5" width="18.6" height="18.6" fill="#e4747c"/><path d="M416.9 558.5v18.6M413.2 562.2h18.6M420.6 558.5v18.6M413.2 565.9h18.6M424.4 558.5v18.6M413.2 569.7h18.6M428.1 558.5v18.6M413.2 573.4h18.6" stroke="#fff" stroke-opacity="0.36" stroke-width="0.85"/></g><g><rect x="413.2" y="696.9" width="18.6" height="18.6" fill="#e4747c"/><path d="M416.9 696.9v18.6M413.2 700.6h18.6M420.6 696.9v18.6M413.2 704.3h18.6M424.4 696.9v18.6M413.2 708.1h18.6M428.1 696.9v18.6M413.2 711.8h18.6" stroke="#fff" stroke-opacity="0.36" stroke-width="0.85"/></g><g><rect x="369" y="558.5" width="18.6" height="18.6" fill="#e4747c"/><path d="M372.7 558.5v18.6M369 562.2h18.6M376.4 558.5v18.6M369 565.9h18.6M380.2 558.5v18.6M369 569.7h18.6M383.9 558.5v18.6M369 573.4h18.6" stroke="#fff" stroke-opacity="0.36" stroke-width="0.85"/></g><g><rect x="369" y="696.9" width="18.6" height="18.6" fill="#e4747c"/><path d="M372.7 696.9v18.6M369 700.6h18.6M376.4 696.9v18.6M369 704.3h18.6M380.2 696.9v18.6M369 708.1h18.6M383.9 696.9v18.6M369 711.8h18.6" stroke="#fff" stroke-opacity="0.36" stroke-width="0.85"/></g><g><rect x="461.3" y="606" width="18.6" height="18.6" fill="#e4747c"/><path d="M465 606v18.6M461.3 609.7h18.6M468.7 606v18.6M461.3 613.4h18.6M472.5 606v18.6M461.3 617.2h18.6M476.2 606v18.6M461.3 620.9h18.6" stroke="#fff" stroke-opacity="0.36" stroke-width="0.85"/></g><g><rect x="461.3" y="649.4" width="18.6" height="18.6" fill="#e4747c"/><path d="M465 649.4v18.6M461.3 653.1h18.6M468.7 649.4v18.6M461.3 656.8h18.6M472.5 649.4v18.6M461.3 660.6h18.6M476.2 649.4v18.6M461.3 664.3h18.6" stroke="#fff" stroke-opacity="0.36" stroke-width="0.85"/></g><g><rect x="320.9" y="606" width="18.6" height="18.6" fill="#e4747c"/><path d="M324.6 606v18.6M320.9 609.7h18.6M328.3 606v18.6M320.9 613.4h18.6M332.1 606v18.6M320.9 617.2h18.6M335.8 606v18.6M320.9 620.9h18.6" stroke="#fff" stroke-opacity="0.36" stroke-width="0.85"/></g><g><rect x="320.9" y="649.4" width="18.6" height="18.6" fill="#e4747c"/><path d="M324.6 649.4v18.6M320.9 653.1h18.6M328.3 649.4v18.6M320.9 656.8h18.6M332.1 649.4v18.6M320.9 660.6h18.6M335.8 649.4v18.6M320.9 664.3h18.6" stroke="#fff" stroke-opacity="0.36" stroke-width="0.85"/></g><g transform="rotate(8 447.9 589.5)"><rect x="438.6" y="580.2" width="18.6" height="18.6" fill="#e4747c"/><path d="M442.3 580.2v18.6M438.6 583.9h18.6M446 580.2v18.6M438.6 587.6h18.6M449.8 580.2v18.6M438.6 591.4h18.6M453.5 580.2v18.6M438.6 595.1h18.6" stroke="#fff" stroke-opacity="0.36" stroke-width="0.85"/></g><g transform="rotate(-8 447.9 684.5)"><rect x="438.6" y="675.2" width="18.6" height="18.6" fill="#e4747c"/><path d="M442.3 675.2v18.6M438.6 678.9h18.6M446 675.2v18.6M438.6 682.6h18.6M449.8 675.2v18.6M438.6 686.4h18.6M453.5 675.2v18.6M438.6 690.1h18.6" stroke="#fff" stroke-opacity="0.36" stroke-width="0.85"/></g><g transform="rotate(-8 352.9 589.5)"><rect x="343.6" y="580.2" width="18.6" height="18.6" fill="#e4747c"/><path d="M347.3 580.2v18.6M343.6 583.9h18.6M351 580.2v18.6M343.6 587.6h18.6M354.8 580.2v18.6M343.6 591.4h18.6M358.5 580.2v18.6M343.6 595.1h18.6" stroke="#fff" stroke-opacity="0.36" stroke-width="0.85"/></g><g transform="rotate(8 352.9 684.5)"><rect x="343.6" y="675.2" width="18.6" height="18.6" fill="#e4747c"/><path d="M347.3 675.2v18.6M343.6 678.9h18.6M351 675.2v18.6M343.6 682.6h18.6M354.8 675.2v18.6M343.6 686.4h18.6M358.5 675.2v18.6M343.6 690.1h18.6" stroke="#fff" stroke-opacity="0.36" stroke-width="0.85"/></g><g><rect x="436.5" y="560.6" width="18.6" height="18.6" fill="#e4747c"/><path d="M440.2 560.6v18.6M436.5 564.3h18.6M443.9 560.6v18.6M436.5 568h18.6M447.7 560.6v18.6M436.5 571.8h18.6M451.4 560.6v18.6M436.5 575.5h18.6" stroke="#fff" stroke-opacity="0.36" stroke-width="0.85"/></g><g><rect x="436.5" y="694.8" width="18.6" height="18.6" fill="#e4747c"/><path d="M440.2 694.8v18.6M436.5 698.5h18.6M443.9 694.8v18.6M436.5 702.2h18.6M447.7 694.8v18.6M436.5 706h18.6M451.4 694.8v18.6M436.5 709.7h18.6" stroke="#fff" stroke-opacity="0.36" stroke-width="0.85"/></g><g><rect x="345.7" y="560.6" width="18.6" height="18.6" fill="#e4747c"/><path d="M349.4 560.6v18.6M345.7 564.3h18.6M353.1 560.6v18.6M345.7 568h18.6M356.9 560.6v18.6M345.7 571.8h18.6M360.6 560.6v18.6M345.7 575.5h18.6" stroke="#fff" stroke-opacity="0.36" stroke-width="0.85"/></g><g><rect x="345.7" y="694.8" width="18.6" height="18.6" fill="#e4747c"/><path d="M349.4 694.8v18.6M345.7 698.5h18.6M353.1 694.8v18.6M345.7 702.2h18.6M356.9 694.8v18.6M345.7 706h18.6M360.6 694.8v18.6M345.7 709.7h18.6" stroke="#fff" stroke-opacity="0.36" stroke-width="0.85"/></g><g><rect x="458.2" y="583.2" width="18.6" height="18.6" fill="#e4747c"/><path d="M461.9 583.2v18.6M458.2 586.9h18.6M465.6 583.2v18.6M458.2 590.6h18.6M469.4 583.2v18.6M458.2 594.4h18.6M473.1 583.2v18.6M458.2 598.1h18.6" stroke="#fff" stroke-opacity="0.36" stroke-width="0.85"/></g><g><rect x="458.2" y="672.2" width="18.6" height="18.6" fill="#e4747c"/><path d="M461.9 672.2v18.6M458.2 675.9h18.6M465.6 672.2v18.6M458.2 679.6h18.6M469.4 672.2v18.6M458.2 683.4h18.6M473.1 672.2v18.6M458.2 687.1h18.6" stroke="#fff" stroke-opacity="0.36" stroke-width="0.85"/></g><g><rect x="324" y="583.2" width="18.6" height="18.6" fill="#e4747c"/><path d="M327.7 583.2v18.6M324 586.9h18.6M331.4 583.2v18.6M324 590.6h18.6M335.2 583.2v18.6M324 594.4h18.6M338.9 583.2v18.6M324 598.1h18.6" stroke="#fff" stroke-opacity="0.36" stroke-width="0.85"/></g><g><rect x="324" y="672.2" width="18.6" height="18.6" fill="#e4747c"/><path d="M327.7 672.2v18.6M324 675.9h18.6M331.4 672.2v18.6M324 679.6h18.6M335.2 672.2v18.6M324 683.4h18.6M338.9 672.2v18.6M324 687.1h18.6" stroke="#fff" stroke-opacity="0.36" stroke-width="0.85"/></g><g><rect x="456.6" y="562.2" width="18.6" height="18.6" fill="#e4747c"/><path d="M460.3 562.2v18.6M456.6 565.9h18.6M464 562.2v18.6M456.6 569.6h18.6M467.8 562.2v18.6M456.6 573.4h18.6M471.5 562.2v18.6M456.6 577.1h18.6" stroke="#fff" stroke-opacity="0.36" stroke-width="0.85"/></g><g><rect x="456.6" y="693.2" width="18.6" height="18.6" fill="#e4747c"/><path d="M460.3 693.2v18.6M456.6 696.9h18.6M464 693.2v18.6M456.6 700.6h18.6M467.8 693.2v18.6M456.6 704.4h18.6M471.5 693.2v18.6M456.6 708.1h18.6" stroke="#fff" stroke-opacity="0.36" stroke-width="0.85"/></g><g><rect x="325.6" y="562.2" width="18.6" height="18.6" fill="#e4747c"/><path d="M329.3 562.2v18.6M325.6 565.9h18.6M333 562.2v18.6M325.6 569.6h18.6M336.8 562.2v18.6M325.6 573.4h18.6M340.5 562.2v18.6M325.6 577.1h18.6" stroke="#fff" stroke-opacity="0.36" stroke-width="0.85"/></g><g><rect x="325.6" y="693.2" width="18.6" height="18.6" fill="#e4747c"/><path d="M329.3 693.2v18.6M325.6 696.9h18.6M333 693.2v18.6M325.6 700.6h18.6M336.8 693.2v18.6M325.6 704.4h18.6M340.5 693.2v18.6M325.6 708.1h18.6" stroke="#fff" stroke-opacity="0.36" stroke-width="0.85"/></g><g><rect x="437.1" y="627.7" width="18.6" height="18.6" fill="#dc747c"/><path d="M440.8 627.7v18.6M437.1 631.4h18.6M444.5 627.7v18.6M437.1 635.1h18.6M448.3 627.7v18.6M437.1 638.9h18.6M452 627.7v18.6M437.1 642.6h18.6" stroke="#fff" stroke-opacity="0.36" stroke-width="0.85"/><path d="M448.5 635.9l4.3 1.2M451 635.4l4.6 2.2M440.2 641.2l3.6 2.4M439.2 642l3.8 2" stroke="#6a1420" stroke-opacity="0.6" stroke-width="0.9"/></g><g><rect x="345.1" y="627.7" width="18.6" height="18.6" fill="#dc747c"/><path d="M348.8 627.7v18.6M345.1 631.4h18.6M352.5 627.7v18.6M345.1 635.1h18.6M356.3 627.7v18.6M345.1 638.9h18.6M360 627.7v18.6M345.1 642.6h18.6" stroke="#fff" stroke-opacity="0.36" stroke-width="0.85"/><path d="M352.4 642.8l-5.5 0.9M350.9 638.3l-3.1 -1.1M359.1 634.3l-3.7 1.2M361.3 637.5l-5.5 -0.5" stroke="#6a1420" stroke-opacity="0.6" stroke-width="0.9"/></g><g><rect x="391.1" y="581.7" width="18.6" height="18.6" fill="#dc747c"/><path d="M394.8 581.7v18.6M391.1 585.4h18.6M398.5 581.7v18.6M391.1 589.1h18.6M402.3 581.7v18.6M391.1 592.9h18.6M406 581.7v18.6M391.1 596.6h18.6" stroke="#fff" stroke-opacity="0.36" stroke-width="0.85"/><path d="M399.6 590.9l-0.5 -5.8M406.8 592.4l2.3 -4.5M397.9 598.2l-2 -4.4M404.2 596.9l1.8 -5.2" stroke="#6a1420" stroke-opacity="0.6" stroke-width="0.9"/></g><g><rect x="391.1" y="673.7" width="18.6" height="18.6" fill="#dc747c"/><path d="M394.8 673.7v18.6M391.1 677.4h18.6M398.5 673.7v18.6M391.1 681.1h18.6M402.3 673.7v18.6M391.1 684.9h18.6M406 673.7v18.6M391.1 688.6h18.6" stroke="#fff" stroke-opacity="0.36" stroke-width="0.85"/><path d="M404.5 688.7l-0.3 3.7M402.7 682l-0.3 4.9M405.9 687.2l-0.4 5.1M402.9 686.6l-1.5 4.7" stroke="#6a1420" stroke-opacity="0.6" stroke-width="0.9"/></g><g><rect x="456.1" y="627.7" width="18.6" height="18.6" fill="#dc747c"/><path d="M459.8 627.7v18.6M456.1 631.4h18.6M463.5 627.7v18.6M456.1 635.1h18.6M467.3 627.7v18.6M456.1 638.9h18.6M471 627.7v18.6M456.1 642.6h18.6" stroke="#fff" stroke-opacity="0.36" stroke-width="0.85"/><path d="M464.9 640.5l3.9 -1.2M466.3 637.8l5.6 0.2M465.6 642l3.8 0.1M460.4 639.2l6 -0.1" stroke="#6a1420" stroke-opacity="0.6" stroke-width="0.9"/></g><g><rect x="326.1" y="627.7" width="18.6" height="18.6" fill="#dc747c"/><path d="M329.8 627.7v18.6M326.1 631.4h18.6M333.5 627.7v18.6M326.1 635.1h18.6M337.3 627.7v18.6M326.1 638.9h18.6M341 627.7v18.6M326.1 642.6h18.6" stroke="#fff" stroke-opacity="0.36" stroke-width="0.85"/><path d="M333.1 641.9l-4.8 1.8M342 641.9l-3.4 0.6M337.7 641.6l-5.4 -0.9M328.3 638l-3.3 -1.4" stroke="#6a1420" stroke-opacity="0.6" stroke-width="0.9"/></g><g><rect x="391.1" y="562.7" width="18.6" height="18.6" fill="#dc747c"/><path d="M394.8 562.7v18.6M391.1 566.4h18.6M398.5 562.7v18.6M391.1 570.1h18.6M402.3 562.7v18.6M391.1 573.9h18.6M406 562.7v18.6M391.1 577.6h18.6" stroke="#fff" stroke-opacity="0.36" stroke-width="0.85"/><path d="M401.6 571.2l-2.6 -5.2M397.8 566.3l-1.2 -5.9M403.7 573.1l-0.8 -5.3M399.3 568.9l1 -4.5" stroke="#6a1420" stroke-opacity="0.6" stroke-width="0.9"/></g><g><rect x="391.1" y="692.7" width="18.6" height="18.6" fill="#dc747c"/><path d="M394.8 692.7v18.6M391.1 696.4h18.6M398.5 692.7v18.6M391.1 700.1h18.6M402.3 692.7v18.6M391.1 703.9h18.6M406 692.7v18.6M391.1 707.6h18.6" stroke="#fff" stroke-opacity="0.36" stroke-width="0.85"/><path d="M407.7 706.8l1.6 4M394.5 697.5l-2.5 4.3M396.1 700.9l1.1 3.5M403.7 706.4l0 4.6" stroke="#6a1420" stroke-opacity="0.6" stroke-width="0.9"/></g><g><rect x="475.1" y="627.7" width="18.6" height="18.6" fill="#dc747c"/><path d="M478.8 627.7v18.6M475.1 631.4h18.6M482.5 627.7v18.6M475.1 635.1h18.6M486.3 627.7v18.6M475.1 638.9h18.6M490 627.7v18.6M475.1 642.6h18.6" stroke="#fff" stroke-opacity="0.36" stroke-width="0.85"/><path d="M489.2 642.1l4.9 -1.3M485.1 631.8l4.3 2M488.6 640.9l4.8 -2M488.7 638.8l4.6 1.5" stroke="#6a1420" stroke-opacity="0.6" stroke-width="0.9"/></g><g><rect x="307.1" y="627.7" width="18.6" height="18.6" fill="#dc747c"/><path d="M310.8 627.7v18.6M307.1 631.4h18.6M314.5 627.7v18.6M307.1 635.1h18.6M318.3 627.7v18.6M307.1 638.9h18.6M322 627.7v18.6M307.1 642.6h18.6" stroke="#fff" stroke-opacity="0.36" stroke-width="0.85"/><path d="M319.5 641.2l-3.7 1.7M322.4 644.1l-4.5 2.1M311 631.1l-4.7 1M314.8 639.3l-5.5 -0.2" stroke="#6a1420" stroke-opacity="0.6" stroke-width="0.9"/></g><g><rect x="391.1" y="543.7" width="18.6" height="18.6" fill="#dc747c"/><path d="M394.8 543.7v18.6M391.1 547.4h18.6M398.5 543.7v18.6M391.1 551.1h18.6M402.3 543.7v18.6M391.1 554.9h18.6M406 543.7v18.6M391.1 558.6h18.6" stroke="#fff" stroke-opacity="0.36" stroke-width="0.85"/><path d="M405.2 548.1l2.5 -4M401.2 553.6l-0.6 -4.6M398.1 558.1l-0.6 -4.8M396.8 554.9l-1 -3.8" stroke="#6a1420" stroke-opacity="0.6" stroke-width="0.9"/></g><g><rect x="391.1" y="711.7" width="18.6" height="18.6" fill="#dc747c"/><path d="M394.8 711.7v18.6M391.1 715.4h18.6M398.5 711.7v18.6M391.1 719.1h18.6M402.3 711.7v18.6M391.1 722.9h18.6M406 711.7v18.6M391.1 726.6h18.6" stroke="#fff" stroke-opacity="0.36" stroke-width="0.85"/><path d="M407.5 722.3l1.5 5M404.4 714.2l2.1 3.4M402.3 724.7l-0.6 3.6M407.7 719l0.2 4" stroke="#6a1420" stroke-opacity="0.6" stroke-width="0.9"/></g></g></g><path d="M280.5 527.4V744.6H518.8" fill="none" stroke="#0d3a18" stroke-width="2"/><path d="M289.7 744.6v-5M326.6 744.6v-5M363.5 744.6v-5M400.4 744.6v-5M437.3 744.6v-5M474.2 744.6v-5M511.1 744.6v-5M280.5 710.8h5M280.5 673.9h5M280.5 637h5M280.5 600.1h5M280.5 563.2h5" stroke="#0d3a18" stroke-width="1.5"/><path d="M280.5 744.6v-2.5M298.9 744.6v-2.5M308.1 744.6v-2.5M317.4 744.6v-2.5M335.8 744.6v-2.5M345 744.6v-2.5M354.3 744.6v-2.5M372.7 744.6v-2.5M381.9 744.6v-2.5M391.2 744.6v-2.5M409.6 744.6v-2.5M418.8 744.6v-2.5M428.1 744.6v-2.5M446.5 744.6v-2.5M455.8 744.6v-2.5M465 744.6v-2.5M483.4 744.6v-2.5M492.6 744.6v-2.5M501.9 744.6v-2.5M280.5 738.5h2.5M280.5 729.2h2.5M280.5 720h2.5M280.5 701.6h2.5M280.5 692.4h2.5M280.5 683.1h2.5M280.5 664.7h2.5M280.5 655.5h2.5M280.5 646.2h2.5M280.5 627.8h2.5M280.5 618.5h2.5M280.5 609.3h2.5M280.5 590.9h2.5M280.5 581.6h2.5M280.5 572.4h2.5M280.5 554h2.5M280.5 544.8h2.5M280.5 535.5h2.5" stroke="#0d3a18" stroke-opacity="0.5" stroke-width="1"/><text class="tl" x="289.7" y="753.5" text-anchor="middle">-0.6</text><text class="tl" x="326.6" y="753.5" text-anchor="middle">-0.4</text><text class="tl" x="363.5" y="753.5" text-anchor="middle">-0.2</text><text class="tl" x="400.4" y="753.5" text-anchor="middle">0</text><text class="tl" x="437.3" y="753.5" text-anchor="middle">0.2</text><text class="tl" x="474.2" y="753.5" text-anchor="middle">0.4</text><text class="tl" x="511.1" y="753.5" text-anchor="middle">0.6</text><text class="tl" x="277.5" y="714.3" text-anchor="end">-0.4</text><text class="tl" x="277.5" y="677.4" text-anchor="end">-0.2</text><text class="tl" x="277.5" y="640.5" text-anchor="end">0</text><text class="tl" x="277.5" y="603.6" text-anchor="end">0.2</text><text class="tl" x="277.5" y="566.7" text-anchor="end">0.4</text><text class="tm" x="512.6" y="738.2" text-anchor="end">500<tspan font-style="italic">μs</tspan></text>
<text class="an" x="57" y="38.5">Velocity vectors</text><path d="M88.5 45L108 86.2" stroke="#000" stroke-width="1"/><path d="M111 92.5L105.1 87.5L110.9 84.8Z" fill="#000"/><text class="an" x="308" y="32">Leakage flow</text><path d="M350.5 42L360.9 63.2" stroke="#000" stroke-width="1"/><path d="M364 69.5L358 64.6L363.8 61.8Z" fill="#000"/><text class="an" x="418" y="9.8">Disturbed flow</text><text class="an" x="418" y="25.6">due to rigid body</text><text class="an" x="418" y="41.6">motion</text><path d="M416 17.5L402.5 30.6" stroke="#000" stroke-width="1"/><path d="M397.5 35.5L400.3 28.3L404.7 32.9Z" fill="#000"/><text class="an" x="28" y="283.8">Wave</text><text class="an" x="28" y="298.8">front</text><path d="M63 287.5L74.8 287.5" stroke="#000" stroke-width="1"/><path d="M81.8 287.5L74.8 290.7L74.8 284.3Z" fill="#000"/><text class="an" x="241.2" y="283.8">The fastest moving</text><text class="an" x="241.2" y="298.8">rigid body</text><path d="M348 280L383.9 293.5" stroke="#000" stroke-width="1"/><path d="M390.5 296L382.8 296.5L385.1 290.5Z" fill="#000"/><path d="M300.5 310L316 360.8" stroke="#000" stroke-width="1"/><path d="M318 367.5L312.9 361.7L319 359.9Z" fill="#000"/><text class="an" x="28" y="550">Rigid-rigid</text><text class="an" x="28" y="565">interaction</text><path d="M94 550L120.4 562.1" stroke="#000" stroke-width="1"/><path d="M126.8 565L119.1 565L121.8 559.2Z" fill="#000"/><path d="M55.5 570L82.7 593" stroke="#000" stroke-width="1"/><path d="M88 597.5L80.6 595.4L84.7 590.5Z" fill="#000"/><circle cx="136.5" cy="565.5" r="9.5" fill="none" stroke="#000" stroke-width="1.5"/><circle cx="136" cy="588" r="9.5" fill="none" stroke="#000" stroke-width="1.5" stroke-dasharray="3.2 2.2"/><circle cx="99.3" cy="599" r="9.5" fill="none" stroke="#000" stroke-width="1.5"/><circle cx="177.5" cy="599" r="9.5" fill="none" stroke="#000" stroke-width="1.5"/>
</svg></body></html>
